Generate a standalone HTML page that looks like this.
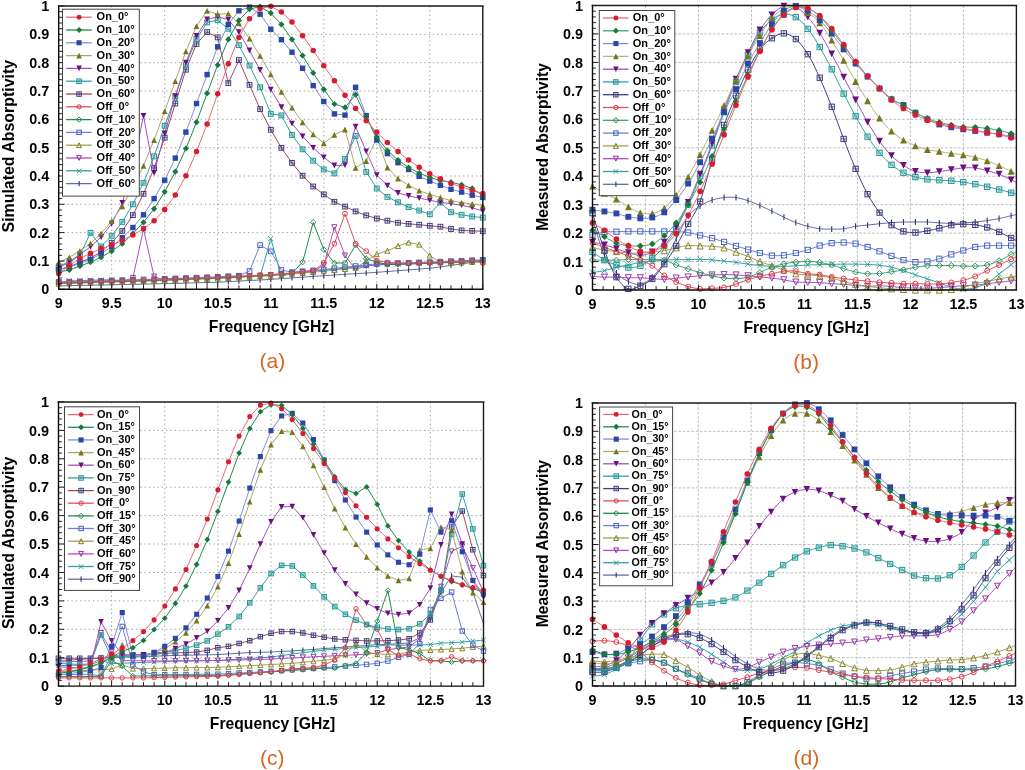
<!DOCTYPE html>
<html><head><meta charset="utf-8"><style>
html,body{margin:0;padding:0;background:#fff;width:1025px;height:770px;overflow:hidden}
svg{display:block;filter:blur(0.3px)}
text{font-family:"Liberation Sans", sans-serif}
</style></head><body>
<svg width="1025" height="770" viewBox="0 0 1025 770" font-family='"Liberation Sans", sans-serif'>
<path d="M111.7 6.0V289.3M164.7 6.0V289.3M217.7 6.0V289.3M270.8 6.0V289.3M323.8 6.0V289.3M376.8 6.0V289.3M429.8 6.0V289.3M58.7 261.0H482.8M58.7 232.6H482.8M58.7 204.3H482.8M58.7 176.0H482.8M58.7 147.7H482.8M58.7 119.3H482.8M58.7 91.0H482.8M58.7 62.7H482.8M58.7 34.3H482.8" stroke="#a0a0a0" stroke-width="1" stroke-dasharray="1.4 2.9" fill="none"/>
<path d="M58.7 285.9L69.3 285.7L79.9 285.4L90.5 285.2L101.1 285.0L111.7 284.8L122.3 284.5L132.9 284.3L143.5 284.1L154.1 283.9L164.7 283.6L175.3 283.4L185.9 283.1L196.5 282.8L207.1 282.5L217.7 282.2L228.3 281.7L238.9 281.1L249.5 280.5L260.1 280.0L270.8 279.4L281.4 278.6L292.0 277.9L302.6 277.2L313.2 276.4L323.8 275.7L334.4 275.0L345.0 274.3L355.6 273.7L366.2 273.0L376.8 272.3L387.4 271.5L398.0 270.7L408.6 269.9L419.2 269.1L429.8 268.3L440.4 266.9L451.0 265.4L461.6 263.9L472.2 262.4L482.8 261.0" stroke="#6070a0" stroke-width="1" fill="none"/>
<path d="M58.7 283.2V288.6" stroke="#303070" stroke-width="1.1"/>
<path d="M69.3 283.0V288.4" stroke="#303070" stroke-width="1.1"/>
<path d="M79.9 282.7V288.1" stroke="#303070" stroke-width="1.1"/>
<path d="M90.5 282.5V287.9" stroke="#303070" stroke-width="1.1"/>
<path d="M101.1 282.3V287.7" stroke="#303070" stroke-width="1.1"/>
<path d="M111.7 282.1V287.5" stroke="#303070" stroke-width="1.1"/>
<path d="M122.3 281.8V287.2" stroke="#303070" stroke-width="1.1"/>
<path d="M132.9 281.6V287.0" stroke="#303070" stroke-width="1.1"/>
<path d="M143.5 281.4V286.8" stroke="#303070" stroke-width="1.1"/>
<path d="M154.1 281.2V286.6" stroke="#303070" stroke-width="1.1"/>
<path d="M164.7 280.9V286.3" stroke="#303070" stroke-width="1.1"/>
<path d="M175.3 280.7V286.1" stroke="#303070" stroke-width="1.1"/>
<path d="M185.9 280.4V285.8" stroke="#303070" stroke-width="1.1"/>
<path d="M196.5 280.1V285.5" stroke="#303070" stroke-width="1.1"/>
<path d="M207.1 279.8V285.2" stroke="#303070" stroke-width="1.1"/>
<path d="M217.7 279.5V284.9" stroke="#303070" stroke-width="1.1"/>
<path d="M228.3 279.0V284.4" stroke="#303070" stroke-width="1.1"/>
<path d="M238.9 278.4V283.8" stroke="#303070" stroke-width="1.1"/>
<path d="M249.5 277.8V283.2" stroke="#303070" stroke-width="1.1"/>
<path d="M260.1 277.3V282.7" stroke="#303070" stroke-width="1.1"/>
<path d="M270.8 276.7V282.1" stroke="#303070" stroke-width="1.1"/>
<path d="M281.4 275.9V281.3" stroke="#303070" stroke-width="1.1"/>
<path d="M292.0 275.2V280.6" stroke="#303070" stroke-width="1.1"/>
<path d="M302.6 274.5V279.9" stroke="#303070" stroke-width="1.1"/>
<path d="M313.2 273.7V279.1" stroke="#303070" stroke-width="1.1"/>
<path d="M323.8 273.0V278.4" stroke="#303070" stroke-width="1.1"/>
<path d="M334.4 272.3V277.7" stroke="#303070" stroke-width="1.1"/>
<path d="M345.0 271.6V277.0" stroke="#303070" stroke-width="1.1"/>
<path d="M355.6 271.0V276.4" stroke="#303070" stroke-width="1.1"/>
<path d="M366.2 270.3V275.7" stroke="#303070" stroke-width="1.1"/>
<path d="M376.8 269.6V275.0" stroke="#303070" stroke-width="1.1"/>
<path d="M387.4 268.8V274.2" stroke="#303070" stroke-width="1.1"/>
<path d="M398.0 268.0V273.4" stroke="#303070" stroke-width="1.1"/>
<path d="M408.6 267.2V272.6" stroke="#303070" stroke-width="1.1"/>
<path d="M419.2 266.4V271.8" stroke="#303070" stroke-width="1.1"/>
<path d="M429.8 265.6V271.0" stroke="#303070" stroke-width="1.1"/>
<path d="M440.4 264.2V269.6" stroke="#303070" stroke-width="1.1"/>
<path d="M451.0 262.7V268.1" stroke="#303070" stroke-width="1.1"/>
<path d="M461.6 261.2V266.6" stroke="#303070" stroke-width="1.1"/>
<path d="M472.2 259.7V265.1" stroke="#303070" stroke-width="1.1"/>
<path d="M482.8 258.3V263.7" stroke="#303070" stroke-width="1.1"/>
<path d="M58.7 282.8L69.3 280.8L79.9 280.8L90.5 280.2L101.1 280.0L111.7 279.7L122.3 281.0L132.9 280.7L143.5 280.3L154.1 280.0L164.7 279.7L175.3 279.3L185.9 278.9L196.5 278.5L207.1 278.1L217.7 277.7L228.3 277.1L238.9 276.6L249.5 276.0L260.1 276.6L270.8 238.6L281.4 276.6L292.0 273.0L302.6 272.1L313.2 271.2L323.8 270.3L334.4 269.2L345.0 268.1L355.6 266.9L366.2 265.8L376.8 264.7L387.4 264.3L398.0 264.0L408.6 263.6L419.2 263.3L429.8 263.0L440.4 262.5L451.0 262.0L461.6 261.6L472.2 261.1L482.8 260.7" stroke="#30a0a0" stroke-width="1" fill="none"/>
<path d="M56.2 280.3L61.2 285.3M56.2 285.3L61.2 280.3" stroke="#30a0a0" stroke-width="0.95"/>
<path d="M66.8 278.3L71.8 283.3M66.8 283.3L71.8 278.3" stroke="#30a0a0" stroke-width="0.95"/>
<path d="M77.4 278.3L82.4 283.3M77.4 283.3L82.4 278.3" stroke="#30a0a0" stroke-width="0.95"/>
<path d="M88.0 277.7L93.0 282.7M88.0 282.7L93.0 277.7" stroke="#30a0a0" stroke-width="0.95"/>
<path d="M98.6 277.5L103.6 282.5M98.6 282.5L103.6 277.5" stroke="#30a0a0" stroke-width="0.95"/>
<path d="M109.2 277.2L114.2 282.2M109.2 282.2L114.2 277.2" stroke="#30a0a0" stroke-width="0.95"/>
<path d="M119.8 278.5L124.8 283.5M119.8 283.5L124.8 278.5" stroke="#30a0a0" stroke-width="0.95"/>
<path d="M130.4 278.2L135.4 283.2M130.4 283.2L135.4 278.2" stroke="#30a0a0" stroke-width="0.95"/>
<path d="M141.0 277.8L146.0 282.8M141.0 282.8L146.0 277.8" stroke="#30a0a0" stroke-width="0.95"/>
<path d="M151.6 277.5L156.6 282.5M151.6 282.5L156.6 277.5" stroke="#30a0a0" stroke-width="0.95"/>
<path d="M162.2 277.2L167.2 282.2M162.2 282.2L167.2 277.2" stroke="#30a0a0" stroke-width="0.95"/>
<path d="M172.8 276.8L177.8 281.8M172.8 281.8L177.8 276.8" stroke="#30a0a0" stroke-width="0.95"/>
<path d="M183.4 276.4L188.4 281.4M183.4 281.4L188.4 276.4" stroke="#30a0a0" stroke-width="0.95"/>
<path d="M194.0 276.0L199.0 281.0M194.0 281.0L199.0 276.0" stroke="#30a0a0" stroke-width="0.95"/>
<path d="M204.6 275.6L209.6 280.6M204.6 280.6L209.6 275.6" stroke="#30a0a0" stroke-width="0.95"/>
<path d="M215.2 275.2L220.2 280.2M215.2 280.2L220.2 275.2" stroke="#30a0a0" stroke-width="0.95"/>
<path d="M225.8 274.6L230.8 279.6M225.8 279.6L230.8 274.6" stroke="#30a0a0" stroke-width="0.95"/>
<path d="M236.4 274.1L241.4 279.1M236.4 279.1L241.4 274.1" stroke="#30a0a0" stroke-width="0.95"/>
<path d="M247.0 273.5L252.0 278.5M247.0 278.5L252.0 273.5" stroke="#30a0a0" stroke-width="0.95"/>
<path d="M257.6 274.1L262.6 279.1M257.6 279.1L262.6 274.1" stroke="#30a0a0" stroke-width="0.95"/>
<path d="M268.2 236.1L273.2 241.1M268.2 241.1L273.2 236.1" stroke="#30a0a0" stroke-width="0.95"/>
<path d="M278.9 274.1L283.9 279.1M278.9 279.1L283.9 274.1" stroke="#30a0a0" stroke-width="0.95"/>
<path d="M289.5 270.5L294.5 275.5M289.5 275.5L294.5 270.5" stroke="#30a0a0" stroke-width="0.95"/>
<path d="M300.1 269.6L305.1 274.6M300.1 274.6L305.1 269.6" stroke="#30a0a0" stroke-width="0.95"/>
<path d="M310.7 268.7L315.7 273.7M310.7 273.7L315.7 268.7" stroke="#30a0a0" stroke-width="0.95"/>
<path d="M321.3 267.8L326.3 272.8M321.3 272.8L326.3 267.8" stroke="#30a0a0" stroke-width="0.95"/>
<path d="M331.9 266.7L336.9 271.7M331.9 271.7L336.9 266.7" stroke="#30a0a0" stroke-width="0.95"/>
<path d="M342.5 265.6L347.5 270.6M342.5 270.6L347.5 265.6" stroke="#30a0a0" stroke-width="0.95"/>
<path d="M353.1 264.4L358.1 269.4M353.1 269.4L358.1 264.4" stroke="#30a0a0" stroke-width="0.95"/>
<path d="M363.7 263.3L368.7 268.3M363.7 268.3L368.7 263.3" stroke="#30a0a0" stroke-width="0.95"/>
<path d="M374.3 262.2L379.3 267.2M374.3 267.2L379.3 262.2" stroke="#30a0a0" stroke-width="0.95"/>
<path d="M384.9 261.8L389.9 266.8M384.9 266.8L389.9 261.8" stroke="#30a0a0" stroke-width="0.95"/>
<path d="M395.5 261.5L400.5 266.5M395.5 266.5L400.5 261.5" stroke="#30a0a0" stroke-width="0.95"/>
<path d="M406.1 261.1L411.1 266.1M406.1 266.1L411.1 261.1" stroke="#30a0a0" stroke-width="0.95"/>
<path d="M416.7 260.8L421.7 265.8M416.7 265.8L421.7 260.8" stroke="#30a0a0" stroke-width="0.95"/>
<path d="M427.3 260.5L432.3 265.5M427.3 265.5L432.3 260.5" stroke="#30a0a0" stroke-width="0.95"/>
<path d="M437.9 260.0L442.9 265.0M437.9 265.0L442.9 260.0" stroke="#30a0a0" stroke-width="0.95"/>
<path d="M448.5 259.5L453.5 264.5M448.5 264.5L453.5 259.5" stroke="#30a0a0" stroke-width="0.95"/>
<path d="M459.1 259.1L464.1 264.1M459.1 264.1L464.1 259.1" stroke="#30a0a0" stroke-width="0.95"/>
<path d="M469.7 258.6L474.7 263.6M469.7 263.6L474.7 258.6" stroke="#30a0a0" stroke-width="0.95"/>
<path d="M480.3 258.2L485.3 263.2M480.3 263.2L485.3 258.2" stroke="#30a0a0" stroke-width="0.95"/>
<path d="M58.7 283.1L69.3 282.8L79.9 282.5L90.5 282.2L101.1 281.9L111.7 281.7L122.3 281.3L132.9 278.0L143.5 229.0L154.1 276.6L164.7 280.0L175.3 279.6L185.9 279.2L196.5 278.8L207.1 278.4L217.7 278.0L228.3 277.4L238.9 276.8L249.5 276.3L260.1 275.7L270.8 275.1L281.4 274.2L292.0 273.3L302.6 272.4L313.2 271.5L323.8 265.2L334.4 227.3L345.0 255.6L355.6 269.2L366.2 266.1L376.8 264.9L387.4 264.6L398.0 264.3L408.6 263.9L419.2 263.6L429.8 263.2L440.4 262.8L451.0 262.3L461.6 261.9L472.2 261.4L482.8 261.0" stroke="#b050c0" stroke-width="1" fill="none"/>
<path d="M58.7 285.6L61.2 280.5L56.2 280.5Z" fill="none" stroke="#9030a0" stroke-width="0.95"/>
<path d="M69.3 285.3L71.9 280.2L66.8 280.2Z" fill="none" stroke="#9030a0" stroke-width="0.95"/>
<path d="M79.9 285.1L82.5 280.0L77.4 280.0Z" fill="none" stroke="#9030a0" stroke-width="0.95"/>
<path d="M90.5 284.8L93.1 279.7L88.0 279.7Z" fill="none" stroke="#9030a0" stroke-width="0.95"/>
<path d="M101.1 284.5L103.7 279.4L98.6 279.4Z" fill="none" stroke="#9030a0" stroke-width="0.95"/>
<path d="M111.7 284.2L114.3 279.1L109.2 279.1Z" fill="none" stroke="#9030a0" stroke-width="0.95"/>
<path d="M122.3 283.9L124.9 278.8L119.8 278.8Z" fill="none" stroke="#9030a0" stroke-width="0.95"/>
<path d="M132.9 280.5L135.5 275.4L130.4 275.4Z" fill="none" stroke="#9030a0" stroke-width="0.95"/>
<path d="M143.5 231.5L146.1 226.4L141.0 226.4Z" fill="none" stroke="#9030a0" stroke-width="0.95"/>
<path d="M154.1 279.1L156.7 274.0L151.6 274.0Z" fill="none" stroke="#9030a0" stroke-width="0.95"/>
<path d="M164.7 282.5L167.3 277.4L162.2 277.4Z" fill="none" stroke="#9030a0" stroke-width="0.95"/>
<path d="M175.3 282.1L177.9 277.0L172.8 277.0Z" fill="none" stroke="#9030a0" stroke-width="0.95"/>
<path d="M185.9 281.7L188.5 276.6L183.4 276.6Z" fill="none" stroke="#9030a0" stroke-width="0.95"/>
<path d="M196.5 281.3L199.1 276.2L194.0 276.2Z" fill="none" stroke="#9030a0" stroke-width="0.95"/>
<path d="M207.1 280.9L209.7 275.8L204.6 275.8Z" fill="none" stroke="#9030a0" stroke-width="0.95"/>
<path d="M217.7 280.5L220.3 275.4L215.2 275.4Z" fill="none" stroke="#9030a0" stroke-width="0.95"/>
<path d="M228.3 280.0L230.9 274.9L225.8 274.9Z" fill="none" stroke="#9030a0" stroke-width="0.95"/>
<path d="M238.9 279.4L241.5 274.3L236.4 274.3Z" fill="none" stroke="#9030a0" stroke-width="0.95"/>
<path d="M249.5 278.8L252.1 273.7L247.0 273.7Z" fill="none" stroke="#9030a0" stroke-width="0.95"/>
<path d="M260.1 278.3L262.7 273.2L257.6 273.2Z" fill="none" stroke="#9030a0" stroke-width="0.95"/>
<path d="M270.8 277.7L273.3 272.6L268.2 272.6Z" fill="none" stroke="#9030a0" stroke-width="0.95"/>
<path d="M281.4 276.8L283.9 271.7L278.8 271.7Z" fill="none" stroke="#9030a0" stroke-width="0.95"/>
<path d="M292.0 275.9L294.5 270.8L289.4 270.8Z" fill="none" stroke="#9030a0" stroke-width="0.95"/>
<path d="M302.6 275.0L305.1 269.9L300.0 269.9Z" fill="none" stroke="#9030a0" stroke-width="0.95"/>
<path d="M313.2 274.1L315.7 269.0L310.6 269.0Z" fill="none" stroke="#9030a0" stroke-width="0.95"/>
<path d="M323.8 267.8L326.3 262.7L321.2 262.7Z" fill="none" stroke="#9030a0" stroke-width="0.95"/>
<path d="M334.4 229.8L336.9 224.7L331.8 224.7Z" fill="none" stroke="#9030a0" stroke-width="0.95"/>
<path d="M345.0 258.1L347.5 253.0L342.4 253.0Z" fill="none" stroke="#9030a0" stroke-width="0.95"/>
<path d="M355.6 271.7L358.1 266.6L353.0 266.6Z" fill="none" stroke="#9030a0" stroke-width="0.95"/>
<path d="M366.2 268.6L368.7 263.5L363.6 263.5Z" fill="none" stroke="#9030a0" stroke-width="0.95"/>
<path d="M376.8 267.5L379.3 262.4L374.2 262.4Z" fill="none" stroke="#9030a0" stroke-width="0.95"/>
<path d="M387.4 267.1L389.9 262.0L384.8 262.0Z" fill="none" stroke="#9030a0" stroke-width="0.95"/>
<path d="M398.0 266.8L400.5 261.7L395.4 261.7Z" fill="none" stroke="#9030a0" stroke-width="0.95"/>
<path d="M408.6 266.5L411.1 261.4L406.0 261.4Z" fill="none" stroke="#9030a0" stroke-width="0.95"/>
<path d="M419.2 266.1L421.7 261.0L416.6 261.0Z" fill="none" stroke="#9030a0" stroke-width="0.95"/>
<path d="M429.8 265.8L432.3 260.7L427.2 260.7Z" fill="none" stroke="#9030a0" stroke-width="0.95"/>
<path d="M440.4 265.3L442.9 260.2L437.8 260.2Z" fill="none" stroke="#9030a0" stroke-width="0.95"/>
<path d="M451.0 264.9L453.5 259.8L448.4 259.8Z" fill="none" stroke="#9030a0" stroke-width="0.95"/>
<path d="M461.6 264.4L464.1 259.3L459.0 259.3Z" fill="none" stroke="#9030a0" stroke-width="0.95"/>
<path d="M472.2 264.0L474.7 258.9L469.6 258.9Z" fill="none" stroke="#9030a0" stroke-width="0.95"/>
<path d="M482.8 263.5L485.4 258.4L480.2 258.4Z" fill="none" stroke="#9030a0" stroke-width="0.95"/>
<path d="M58.7 283.6L69.3 283.4L79.9 283.1L90.5 282.8L101.1 282.5L111.7 282.2L122.3 281.9L132.9 281.5L143.5 281.2L154.1 280.9L164.7 280.5L175.3 280.1L185.9 279.7L196.5 279.3L207.1 278.9L217.7 278.5L228.3 278.0L238.9 277.4L249.5 276.8L260.1 276.3L270.8 275.7L281.4 274.8L292.0 273.9L302.6 273.0L313.2 272.1L323.8 271.2L334.4 270.0L345.0 268.9L355.6 267.8L366.2 261.0L376.8 254.2L387.4 250.8L398.0 246.0L408.6 242.6L419.2 244.5L429.8 255.6L440.4 262.4L451.0 262.9L461.6 262.4L472.2 262.0L482.8 261.5" stroke="#a0a050" stroke-width="1" fill="none"/>
<path d="M58.7 281.1L61.2 286.2L56.2 286.2Z" fill="none" stroke="#808020" stroke-width="0.95"/>
<path d="M69.3 280.8L71.9 285.9L66.8 285.9Z" fill="none" stroke="#808020" stroke-width="0.95"/>
<path d="M79.9 280.5L82.5 285.6L77.4 285.6Z" fill="none" stroke="#808020" stroke-width="0.95"/>
<path d="M90.5 280.2L93.1 285.3L88.0 285.3Z" fill="none" stroke="#808020" stroke-width="0.95"/>
<path d="M101.1 280.0L103.7 285.1L98.6 285.1Z" fill="none" stroke="#808020" stroke-width="0.95"/>
<path d="M111.7 279.7L114.3 284.8L109.2 284.8Z" fill="none" stroke="#808020" stroke-width="0.95"/>
<path d="M122.3 279.3L124.9 284.4L119.8 284.4Z" fill="none" stroke="#808020" stroke-width="0.95"/>
<path d="M132.9 279.0L135.5 284.1L130.4 284.1Z" fill="none" stroke="#808020" stroke-width="0.95"/>
<path d="M143.5 278.6L146.1 283.7L141.0 283.7Z" fill="none" stroke="#808020" stroke-width="0.95"/>
<path d="M154.1 278.3L156.7 283.4L151.6 283.4Z" fill="none" stroke="#808020" stroke-width="0.95"/>
<path d="M164.7 278.0L167.3 283.1L162.2 283.1Z" fill="none" stroke="#808020" stroke-width="0.95"/>
<path d="M175.3 277.6L177.9 282.7L172.8 282.7Z" fill="none" stroke="#808020" stroke-width="0.95"/>
<path d="M185.9 277.2L188.5 282.3L183.4 282.3Z" fill="none" stroke="#808020" stroke-width="0.95"/>
<path d="M196.5 276.8L199.1 281.9L194.0 281.9Z" fill="none" stroke="#808020" stroke-width="0.95"/>
<path d="M207.1 276.4L209.7 281.5L204.6 281.5Z" fill="none" stroke="#808020" stroke-width="0.95"/>
<path d="M217.7 276.0L220.3 281.1L215.2 281.1Z" fill="none" stroke="#808020" stroke-width="0.95"/>
<path d="M228.3 275.4L230.9 280.5L225.8 280.5Z" fill="none" stroke="#808020" stroke-width="0.95"/>
<path d="M238.9 274.9L241.5 280.0L236.4 280.0Z" fill="none" stroke="#808020" stroke-width="0.95"/>
<path d="M249.5 274.3L252.1 279.4L247.0 279.4Z" fill="none" stroke="#808020" stroke-width="0.95"/>
<path d="M260.1 273.7L262.7 278.8L257.6 278.8Z" fill="none" stroke="#808020" stroke-width="0.95"/>
<path d="M270.8 273.2L273.3 278.3L268.2 278.3Z" fill="none" stroke="#808020" stroke-width="0.95"/>
<path d="M281.4 272.2L283.9 277.3L278.8 277.3Z" fill="none" stroke="#808020" stroke-width="0.95"/>
<path d="M292.0 271.3L294.5 276.4L289.4 276.4Z" fill="none" stroke="#808020" stroke-width="0.95"/>
<path d="M302.6 270.4L305.1 275.5L300.0 275.5Z" fill="none" stroke="#808020" stroke-width="0.95"/>
<path d="M313.2 269.5L315.7 274.6L310.6 274.6Z" fill="none" stroke="#808020" stroke-width="0.95"/>
<path d="M323.8 268.6L326.3 273.7L321.2 273.7Z" fill="none" stroke="#808020" stroke-width="0.95"/>
<path d="M334.4 267.5L336.9 272.6L331.8 272.6Z" fill="none" stroke="#808020" stroke-width="0.95"/>
<path d="M345.0 266.4L347.5 271.5L342.4 271.5Z" fill="none" stroke="#808020" stroke-width="0.95"/>
<path d="M355.6 265.2L358.1 270.3L353.0 270.3Z" fill="none" stroke="#808020" stroke-width="0.95"/>
<path d="M366.2 258.4L368.7 263.5L363.6 263.5Z" fill="none" stroke="#808020" stroke-width="0.95"/>
<path d="M376.8 251.6L379.3 256.7L374.2 256.7Z" fill="none" stroke="#808020" stroke-width="0.95"/>
<path d="M387.4 248.2L389.9 253.3L384.8 253.3Z" fill="none" stroke="#808020" stroke-width="0.95"/>
<path d="M398.0 243.4L400.5 248.5L395.4 248.5Z" fill="none" stroke="#808020" stroke-width="0.95"/>
<path d="M408.6 240.0L411.1 245.1L406.0 245.1Z" fill="none" stroke="#808020" stroke-width="0.95"/>
<path d="M419.2 242.0L421.7 247.1L416.6 247.1Z" fill="none" stroke="#808020" stroke-width="0.95"/>
<path d="M429.8 253.0L432.3 258.1L427.2 258.1Z" fill="none" stroke="#808020" stroke-width="0.95"/>
<path d="M440.4 259.8L442.9 264.9L437.8 264.9Z" fill="none" stroke="#808020" stroke-width="0.95"/>
<path d="M451.0 260.3L453.5 265.4L448.4 265.4Z" fill="none" stroke="#808020" stroke-width="0.95"/>
<path d="M461.6 259.9L464.1 265.0L459.0 265.0Z" fill="none" stroke="#808020" stroke-width="0.95"/>
<path d="M472.2 259.4L474.7 264.5L469.6 264.5Z" fill="none" stroke="#808020" stroke-width="0.95"/>
<path d="M482.8 259.0L485.4 264.1L480.2 264.1Z" fill="none" stroke="#808020" stroke-width="0.95"/>
<path d="M58.7 281.9L69.3 281.7L79.9 281.4L90.5 281.1L101.1 280.8L111.7 280.5L122.3 280.2L132.9 279.8L143.5 279.5L154.1 279.2L164.7 278.8L175.3 278.4L185.9 278.0L196.5 277.6L207.1 277.2L217.7 276.8L228.3 276.3L238.9 275.7L249.5 271.2L260.1 245.1L270.8 251.3L281.4 270.0L292.0 272.2L302.6 271.3L313.2 270.4L323.8 269.5L334.4 268.3L345.0 267.2L355.6 266.1L366.2 264.9L376.8 263.8L387.4 263.5L398.0 263.1L408.6 262.8L419.2 262.4L429.8 262.1L440.4 261.6L451.0 261.2L461.6 260.7L472.2 260.3L482.8 259.8" stroke="#7080d0" stroke-width="1" fill="none"/>
<rect x="56.4" y="279.6" width="4.7" height="4.7" fill="none" stroke="#4060c0" stroke-width="0.95"/>
<rect x="67.0" y="279.3" width="4.7" height="4.7" fill="none" stroke="#4060c0" stroke-width="0.95"/>
<rect x="77.6" y="279.0" width="4.7" height="4.7" fill="none" stroke="#4060c0" stroke-width="0.95"/>
<rect x="88.2" y="278.7" width="4.7" height="4.7" fill="none" stroke="#4060c0" stroke-width="0.95"/>
<rect x="98.8" y="278.5" width="4.7" height="4.7" fill="none" stroke="#4060c0" stroke-width="0.95"/>
<rect x="109.4" y="278.2" width="4.7" height="4.7" fill="none" stroke="#4060c0" stroke-width="0.95"/>
<rect x="120.0" y="277.8" width="4.7" height="4.7" fill="none" stroke="#4060c0" stroke-width="0.95"/>
<rect x="130.6" y="277.5" width="4.7" height="4.7" fill="none" stroke="#4060c0" stroke-width="0.95"/>
<rect x="141.2" y="277.1" width="4.7" height="4.7" fill="none" stroke="#4060c0" stroke-width="0.95"/>
<rect x="151.8" y="276.8" width="4.7" height="4.7" fill="none" stroke="#4060c0" stroke-width="0.95"/>
<rect x="162.4" y="276.5" width="4.7" height="4.7" fill="none" stroke="#4060c0" stroke-width="0.95"/>
<rect x="173.0" y="276.1" width="4.7" height="4.7" fill="none" stroke="#4060c0" stroke-width="0.95"/>
<rect x="183.6" y="275.7" width="4.7" height="4.7" fill="none" stroke="#4060c0" stroke-width="0.95"/>
<rect x="194.2" y="275.3" width="4.7" height="4.7" fill="none" stroke="#4060c0" stroke-width="0.95"/>
<rect x="204.8" y="274.9" width="4.7" height="4.7" fill="none" stroke="#4060c0" stroke-width="0.95"/>
<rect x="215.4" y="274.5" width="4.7" height="4.7" fill="none" stroke="#4060c0" stroke-width="0.95"/>
<rect x="226.0" y="273.9" width="4.7" height="4.7" fill="none" stroke="#4060c0" stroke-width="0.95"/>
<rect x="236.6" y="273.4" width="4.7" height="4.7" fill="none" stroke="#4060c0" stroke-width="0.95"/>
<rect x="247.2" y="268.8" width="4.7" height="4.7" fill="none" stroke="#4060c0" stroke-width="0.95"/>
<rect x="257.8" y="242.8" width="4.7" height="4.7" fill="none" stroke="#4060c0" stroke-width="0.95"/>
<rect x="268.4" y="249.0" width="4.7" height="4.7" fill="none" stroke="#4060c0" stroke-width="0.95"/>
<rect x="279.0" y="267.7" width="4.7" height="4.7" fill="none" stroke="#4060c0" stroke-width="0.95"/>
<rect x="289.6" y="269.8" width="4.7" height="4.7" fill="none" stroke="#4060c0" stroke-width="0.95"/>
<rect x="300.2" y="268.9" width="4.7" height="4.7" fill="none" stroke="#4060c0" stroke-width="0.95"/>
<rect x="310.8" y="268.0" width="4.7" height="4.7" fill="none" stroke="#4060c0" stroke-width="0.95"/>
<rect x="321.4" y="267.1" width="4.7" height="4.7" fill="none" stroke="#4060c0" stroke-width="0.95"/>
<rect x="332.0" y="266.0" width="4.7" height="4.7" fill="none" stroke="#4060c0" stroke-width="0.95"/>
<rect x="342.6" y="264.9" width="4.7" height="4.7" fill="none" stroke="#4060c0" stroke-width="0.95"/>
<rect x="353.2" y="263.7" width="4.7" height="4.7" fill="none" stroke="#4060c0" stroke-width="0.95"/>
<rect x="363.8" y="262.6" width="4.7" height="4.7" fill="none" stroke="#4060c0" stroke-width="0.95"/>
<rect x="374.4" y="261.5" width="4.7" height="4.7" fill="none" stroke="#4060c0" stroke-width="0.95"/>
<rect x="385.0" y="261.1" width="4.7" height="4.7" fill="none" stroke="#4060c0" stroke-width="0.95"/>
<rect x="395.6" y="260.8" width="4.7" height="4.7" fill="none" stroke="#4060c0" stroke-width="0.95"/>
<rect x="406.2" y="260.4" width="4.7" height="4.7" fill="none" stroke="#4060c0" stroke-width="0.95"/>
<rect x="416.8" y="260.1" width="4.7" height="4.7" fill="none" stroke="#4060c0" stroke-width="0.95"/>
<rect x="427.4" y="259.8" width="4.7" height="4.7" fill="none" stroke="#4060c0" stroke-width="0.95"/>
<rect x="438.0" y="259.3" width="4.7" height="4.7" fill="none" stroke="#4060c0" stroke-width="0.95"/>
<rect x="448.6" y="258.8" width="4.7" height="4.7" fill="none" stroke="#4060c0" stroke-width="0.95"/>
<rect x="459.2" y="258.4" width="4.7" height="4.7" fill="none" stroke="#4060c0" stroke-width="0.95"/>
<rect x="469.8" y="257.9" width="4.7" height="4.7" fill="none" stroke="#4060c0" stroke-width="0.95"/>
<rect x="480.4" y="257.5" width="4.7" height="4.7" fill="none" stroke="#4060c0" stroke-width="0.95"/>
<path d="M58.7 283.1L69.3 282.8L79.9 282.5L90.5 282.2L101.1 281.9L111.7 281.7L122.3 281.3L132.9 281.0L143.5 280.6L154.1 280.3L164.7 280.0L175.3 279.6L185.9 279.2L196.5 278.8L207.1 278.4L217.7 278.0L228.3 277.4L238.9 276.8L249.5 276.3L260.1 275.7L270.8 275.1L281.4 274.2L292.0 273.3L302.6 262.1L313.2 222.4L323.8 249.6L334.4 263.0L345.0 263.0L355.6 245.1L366.2 258.7L376.8 262.1L387.4 264.6L398.0 264.3L408.6 263.9L419.2 263.6L429.8 263.2L440.4 262.8L451.0 262.3L461.6 261.9L472.2 261.4L482.8 261.0" stroke="#1f8a50" stroke-width="1" fill="none"/>
<path d="M58.7 280.3L61.5 283.1L58.7 285.9L55.9 283.1Z" fill="none" stroke="#1f8a50" stroke-width="0.95"/>
<path d="M69.3 280.0L72.1 282.8L69.3 285.6L66.5 282.8Z" fill="none" stroke="#1f8a50" stroke-width="0.95"/>
<path d="M79.9 279.7L82.7 282.5L79.9 285.3L77.1 282.5Z" fill="none" stroke="#1f8a50" stroke-width="0.95"/>
<path d="M90.5 279.4L93.3 282.2L90.5 285.0L87.7 282.2Z" fill="none" stroke="#1f8a50" stroke-width="0.95"/>
<path d="M101.1 279.1L103.9 281.9L101.1 284.7L98.3 281.9Z" fill="none" stroke="#1f8a50" stroke-width="0.95"/>
<path d="M111.7 278.9L114.5 281.7L111.7 284.5L108.9 281.7Z" fill="none" stroke="#1f8a50" stroke-width="0.95"/>
<path d="M122.3 278.5L125.1 281.3L122.3 284.1L119.5 281.3Z" fill="none" stroke="#1f8a50" stroke-width="0.95"/>
<path d="M132.9 278.2L135.7 281.0L132.9 283.8L130.1 281.0Z" fill="none" stroke="#1f8a50" stroke-width="0.95"/>
<path d="M143.5 277.8L146.3 280.6L143.5 283.4L140.7 280.6Z" fill="none" stroke="#1f8a50" stroke-width="0.95"/>
<path d="M154.1 277.5L156.9 280.3L154.1 283.1L151.3 280.3Z" fill="none" stroke="#1f8a50" stroke-width="0.95"/>
<path d="M164.7 277.2L167.5 280.0L164.7 282.8L161.9 280.0Z" fill="none" stroke="#1f8a50" stroke-width="0.95"/>
<path d="M175.3 276.8L178.1 279.6L175.3 282.4L172.5 279.6Z" fill="none" stroke="#1f8a50" stroke-width="0.95"/>
<path d="M185.9 276.4L188.7 279.2L185.9 282.0L183.1 279.2Z" fill="none" stroke="#1f8a50" stroke-width="0.95"/>
<path d="M196.5 276.0L199.3 278.8L196.5 281.6L193.7 278.8Z" fill="none" stroke="#1f8a50" stroke-width="0.95"/>
<path d="M207.1 275.6L209.9 278.4L207.1 281.2L204.3 278.4Z" fill="none" stroke="#1f8a50" stroke-width="0.95"/>
<path d="M217.7 275.2L220.5 278.0L217.7 280.8L214.9 278.0Z" fill="none" stroke="#1f8a50" stroke-width="0.95"/>
<path d="M228.3 274.6L231.1 277.4L228.3 280.2L225.5 277.4Z" fill="none" stroke="#1f8a50" stroke-width="0.95"/>
<path d="M238.9 274.0L241.7 276.8L238.9 279.6L236.1 276.8Z" fill="none" stroke="#1f8a50" stroke-width="0.95"/>
<path d="M249.5 273.5L252.3 276.3L249.5 279.1L246.7 276.3Z" fill="none" stroke="#1f8a50" stroke-width="0.95"/>
<path d="M260.1 272.9L262.9 275.7L260.1 278.5L257.3 275.7Z" fill="none" stroke="#1f8a50" stroke-width="0.95"/>
<path d="M270.8 272.3L273.6 275.1L270.8 277.9L267.9 275.1Z" fill="none" stroke="#1f8a50" stroke-width="0.95"/>
<path d="M281.4 271.4L284.2 274.2L281.4 277.0L278.6 274.2Z" fill="none" stroke="#1f8a50" stroke-width="0.95"/>
<path d="M292.0 270.5L294.8 273.3L292.0 276.1L289.2 273.3Z" fill="none" stroke="#1f8a50" stroke-width="0.95"/>
<path d="M302.6 259.3L305.4 262.1L302.6 264.9L299.8 262.1Z" fill="none" stroke="#1f8a50" stroke-width="0.95"/>
<path d="M313.2 219.6L316.0 222.4L313.2 225.2L310.4 222.4Z" fill="none" stroke="#1f8a50" stroke-width="0.95"/>
<path d="M323.8 246.8L326.6 249.6L323.8 252.4L321.0 249.6Z" fill="none" stroke="#1f8a50" stroke-width="0.95"/>
<path d="M334.4 260.2L337.2 263.0L334.4 265.8L331.6 263.0Z" fill="none" stroke="#1f8a50" stroke-width="0.95"/>
<path d="M345.0 260.2L347.8 263.0L345.0 265.8L342.2 263.0Z" fill="none" stroke="#1f8a50" stroke-width="0.95"/>
<path d="M355.6 242.3L358.4 245.1L355.6 247.9L352.8 245.1Z" fill="none" stroke="#1f8a50" stroke-width="0.95"/>
<path d="M366.2 255.9L369.0 258.7L366.2 261.5L363.4 258.7Z" fill="none" stroke="#1f8a50" stroke-width="0.95"/>
<path d="M376.8 259.3L379.6 262.1L376.8 264.9L374.0 262.1Z" fill="none" stroke="#1f8a50" stroke-width="0.95"/>
<path d="M387.4 261.8L390.2 264.6L387.4 267.4L384.6 264.6Z" fill="none" stroke="#1f8a50" stroke-width="0.95"/>
<path d="M398.0 261.5L400.8 264.3L398.0 267.1L395.2 264.3Z" fill="none" stroke="#1f8a50" stroke-width="0.95"/>
<path d="M408.6 261.1L411.4 263.9L408.6 266.7L405.8 263.9Z" fill="none" stroke="#1f8a50" stroke-width="0.95"/>
<path d="M419.2 260.8L422.0 263.6L419.2 266.4L416.4 263.6Z" fill="none" stroke="#1f8a50" stroke-width="0.95"/>
<path d="M429.8 260.4L432.6 263.2L429.8 266.0L427.0 263.2Z" fill="none" stroke="#1f8a50" stroke-width="0.95"/>
<path d="M440.4 260.0L443.2 262.8L440.4 265.6L437.6 262.8Z" fill="none" stroke="#1f8a50" stroke-width="0.95"/>
<path d="M451.0 259.5L453.8 262.3L451.0 265.1L448.2 262.3Z" fill="none" stroke="#1f8a50" stroke-width="0.95"/>
<path d="M461.6 259.1L464.4 261.9L461.6 264.7L458.8 261.9Z" fill="none" stroke="#1f8a50" stroke-width="0.95"/>
<path d="M472.2 258.6L475.0 261.4L472.2 264.2L469.4 261.4Z" fill="none" stroke="#1f8a50" stroke-width="0.95"/>
<path d="M482.8 258.2L485.6 261.0L482.8 263.8L480.0 261.0Z" fill="none" stroke="#1f8a50" stroke-width="0.95"/>
<path d="M58.7 282.5L69.3 282.2L79.9 281.9L90.5 281.7L101.1 281.4L111.7 281.1L122.3 280.7L132.9 280.4L143.5 280.1L154.1 279.7L164.7 279.4L175.3 279.0L185.9 278.6L196.5 278.2L207.1 277.8L217.7 277.4L228.3 276.8L238.9 276.3L249.5 275.7L260.1 275.1L270.8 274.6L281.4 273.7L292.0 272.8L302.6 271.8L313.2 270.9L323.8 263.0L334.4 243.7L345.0 213.7L355.6 243.7L366.2 251.1L376.8 260.7L387.4 262.4L398.0 263.0L408.6 263.2L419.2 263.0L429.8 262.7L440.4 262.2L451.0 261.8L461.6 261.3L472.2 260.9L482.8 263.0" stroke="#e0505a" stroke-width="1" fill="none"/>
<circle cx="58.7" cy="282.5" r="2.40" fill="none" stroke="#e03040" stroke-width="0.95"/>
<circle cx="69.3" cy="282.2" r="2.40" fill="none" stroke="#e03040" stroke-width="0.95"/>
<circle cx="79.9" cy="281.9" r="2.40" fill="none" stroke="#e03040" stroke-width="0.95"/>
<circle cx="90.5" cy="281.7" r="2.40" fill="none" stroke="#e03040" stroke-width="0.95"/>
<circle cx="101.1" cy="281.4" r="2.40" fill="none" stroke="#e03040" stroke-width="0.95"/>
<circle cx="111.7" cy="281.1" r="2.40" fill="none" stroke="#e03040" stroke-width="0.95"/>
<circle cx="122.3" cy="280.7" r="2.40" fill="none" stroke="#e03040" stroke-width="0.95"/>
<circle cx="132.9" cy="280.4" r="2.40" fill="none" stroke="#e03040" stroke-width="0.95"/>
<circle cx="143.5" cy="280.1" r="2.40" fill="none" stroke="#e03040" stroke-width="0.95"/>
<circle cx="154.1" cy="279.7" r="2.40" fill="none" stroke="#e03040" stroke-width="0.95"/>
<circle cx="164.7" cy="279.4" r="2.40" fill="none" stroke="#e03040" stroke-width="0.95"/>
<circle cx="175.3" cy="279.0" r="2.40" fill="none" stroke="#e03040" stroke-width="0.95"/>
<circle cx="185.9" cy="278.6" r="2.40" fill="none" stroke="#e03040" stroke-width="0.95"/>
<circle cx="196.5" cy="278.2" r="2.40" fill="none" stroke="#e03040" stroke-width="0.95"/>
<circle cx="207.1" cy="277.8" r="2.40" fill="none" stroke="#e03040" stroke-width="0.95"/>
<circle cx="217.7" cy="277.4" r="2.40" fill="none" stroke="#e03040" stroke-width="0.95"/>
<circle cx="228.3" cy="276.8" r="2.40" fill="none" stroke="#e03040" stroke-width="0.95"/>
<circle cx="238.9" cy="276.3" r="2.40" fill="none" stroke="#e03040" stroke-width="0.95"/>
<circle cx="249.5" cy="275.7" r="2.40" fill="none" stroke="#e03040" stroke-width="0.95"/>
<circle cx="260.1" cy="275.1" r="2.40" fill="none" stroke="#e03040" stroke-width="0.95"/>
<circle cx="270.8" cy="274.6" r="2.40" fill="none" stroke="#e03040" stroke-width="0.95"/>
<circle cx="281.4" cy="273.7" r="2.40" fill="none" stroke="#e03040" stroke-width="0.95"/>
<circle cx="292.0" cy="272.8" r="2.40" fill="none" stroke="#e03040" stroke-width="0.95"/>
<circle cx="302.6" cy="271.8" r="2.40" fill="none" stroke="#e03040" stroke-width="0.95"/>
<circle cx="313.2" cy="270.9" r="2.40" fill="none" stroke="#e03040" stroke-width="0.95"/>
<circle cx="323.8" cy="263.0" r="2.40" fill="none" stroke="#e03040" stroke-width="0.95"/>
<circle cx="334.4" cy="243.7" r="2.40" fill="none" stroke="#e03040" stroke-width="0.95"/>
<circle cx="345.0" cy="213.7" r="2.40" fill="none" stroke="#e03040" stroke-width="0.95"/>
<circle cx="355.6" cy="243.7" r="2.40" fill="none" stroke="#e03040" stroke-width="0.95"/>
<circle cx="366.2" cy="251.1" r="2.40" fill="none" stroke="#e03040" stroke-width="0.95"/>
<circle cx="376.8" cy="260.7" r="2.40" fill="none" stroke="#e03040" stroke-width="0.95"/>
<circle cx="387.4" cy="262.4" r="2.40" fill="none" stroke="#e03040" stroke-width="0.95"/>
<circle cx="398.0" cy="263.0" r="2.40" fill="none" stroke="#e03040" stroke-width="0.95"/>
<circle cx="408.6" cy="263.2" r="2.40" fill="none" stroke="#e03040" stroke-width="0.95"/>
<circle cx="419.2" cy="263.0" r="2.40" fill="none" stroke="#e03040" stroke-width="0.95"/>
<circle cx="429.8" cy="262.7" r="2.40" fill="none" stroke="#e03040" stroke-width="0.95"/>
<circle cx="440.4" cy="262.2" r="2.40" fill="none" stroke="#e03040" stroke-width="0.95"/>
<circle cx="451.0" cy="261.8" r="2.40" fill="none" stroke="#e03040" stroke-width="0.95"/>
<circle cx="461.6" cy="261.3" r="2.40" fill="none" stroke="#e03040" stroke-width="0.95"/>
<circle cx="472.2" cy="260.9" r="2.40" fill="none" stroke="#e03040" stroke-width="0.95"/>
<circle cx="482.8" cy="263.0" r="2.40" fill="none" stroke="#e03040" stroke-width="0.95"/>
<path d="M58.7 269.5L69.3 266.6L79.9 262.4L90.5 258.1L101.1 251.9L111.7 242.8L122.3 230.9L132.9 215.1L143.5 193.8L154.1 168.0L164.7 137.7L175.3 103.5L185.9 69.7L196.5 44.0L207.1 32.1L217.7 37.4L228.3 83.1L238.9 60.1L249.5 84.8L260.1 109.1L270.8 129.8L281.4 147.9L292.0 162.9L302.6 175.7L313.2 186.5L323.8 194.4L334.4 201.8L345.0 206.6L355.6 211.4L366.2 215.4L376.8 218.5L387.4 220.7L398.0 222.7L408.6 223.9L419.2 224.7L429.8 225.8L440.4 226.7L451.0 229.0L461.6 230.4L472.2 230.9L482.8 231.2" stroke="#a04858" stroke-width="1" fill="none"/>
<rect x="56.3" y="267.1" width="4.8" height="4.8" fill="none" stroke="#404080" stroke-width="1"/><path d="M56.3 269.5H61.1M58.7 267.1V271.9" stroke="#404080" stroke-width="0.8"/>
<rect x="66.9" y="264.2" width="4.8" height="4.8" fill="none" stroke="#404080" stroke-width="1"/><path d="M66.9 266.6H71.7M69.3 264.2V269.0" stroke="#404080" stroke-width="0.8"/>
<rect x="77.5" y="260.0" width="4.8" height="4.8" fill="none" stroke="#404080" stroke-width="1"/><path d="M77.5 262.4H82.3M79.9 260.0V264.8" stroke="#404080" stroke-width="0.8"/>
<rect x="88.1" y="255.7" width="4.8" height="4.8" fill="none" stroke="#404080" stroke-width="1"/><path d="M88.1 258.1H92.9M90.5 255.7V260.5" stroke="#404080" stroke-width="0.8"/>
<rect x="98.7" y="249.5" width="4.8" height="4.8" fill="none" stroke="#404080" stroke-width="1"/><path d="M98.7 251.9H103.5M101.1 249.5V254.3" stroke="#404080" stroke-width="0.8"/>
<rect x="109.3" y="240.4" width="4.8" height="4.8" fill="none" stroke="#404080" stroke-width="1"/><path d="M109.3 242.8H114.1M111.7 240.4V245.2" stroke="#404080" stroke-width="0.8"/>
<rect x="119.9" y="228.5" width="4.8" height="4.8" fill="none" stroke="#404080" stroke-width="1"/><path d="M119.9 230.9H124.7M122.3 228.5V233.3" stroke="#404080" stroke-width="0.8"/>
<rect x="130.5" y="212.7" width="4.8" height="4.8" fill="none" stroke="#404080" stroke-width="1"/><path d="M130.5 215.1H135.3M132.9 212.7V217.5" stroke="#404080" stroke-width="0.8"/>
<rect x="141.1" y="191.4" width="4.8" height="4.8" fill="none" stroke="#404080" stroke-width="1"/><path d="M141.1 193.8H145.9M143.5 191.4V196.2" stroke="#404080" stroke-width="0.8"/>
<rect x="151.7" y="165.6" width="4.8" height="4.8" fill="none" stroke="#404080" stroke-width="1"/><path d="M151.7 168.0H156.5M154.1 165.6V170.4" stroke="#404080" stroke-width="0.8"/>
<rect x="162.3" y="135.3" width="4.8" height="4.8" fill="none" stroke="#404080" stroke-width="1"/><path d="M162.3 137.7H167.1M164.7 135.3V140.1" stroke="#404080" stroke-width="0.8"/>
<rect x="172.9" y="101.1" width="4.8" height="4.8" fill="none" stroke="#404080" stroke-width="1"/><path d="M172.9 103.5H177.7M175.3 101.1V105.9" stroke="#404080" stroke-width="0.8"/>
<rect x="183.5" y="67.3" width="4.8" height="4.8" fill="none" stroke="#404080" stroke-width="1"/><path d="M183.5 69.7H188.3M185.9 67.3V72.1" stroke="#404080" stroke-width="0.8"/>
<rect x="194.1" y="41.6" width="4.8" height="4.8" fill="none" stroke="#404080" stroke-width="1"/><path d="M194.1 44.0H198.9M196.5 41.6V46.4" stroke="#404080" stroke-width="0.8"/>
<rect x="204.7" y="29.7" width="4.8" height="4.8" fill="none" stroke="#404080" stroke-width="1"/><path d="M204.7 32.1H209.5M207.1 29.7V34.5" stroke="#404080" stroke-width="0.8"/>
<rect x="215.3" y="35.0" width="4.8" height="4.8" fill="none" stroke="#404080" stroke-width="1"/><path d="M215.3 37.4H220.1M217.7 35.0V39.8" stroke="#404080" stroke-width="0.8"/>
<rect x="225.9" y="80.7" width="4.8" height="4.8" fill="none" stroke="#404080" stroke-width="1"/><path d="M225.9 83.1H230.7M228.3 80.7V85.5" stroke="#404080" stroke-width="0.8"/>
<rect x="236.5" y="57.7" width="4.8" height="4.8" fill="none" stroke="#404080" stroke-width="1"/><path d="M236.5 60.1H241.3M238.9 57.7V62.5" stroke="#404080" stroke-width="0.8"/>
<rect x="247.1" y="82.4" width="4.8" height="4.8" fill="none" stroke="#404080" stroke-width="1"/><path d="M247.1 84.8H251.9M249.5 82.4V87.2" stroke="#404080" stroke-width="0.8"/>
<rect x="257.7" y="106.7" width="4.8" height="4.8" fill="none" stroke="#404080" stroke-width="1"/><path d="M257.7 109.1H262.5M260.1 106.7V111.5" stroke="#404080" stroke-width="0.8"/>
<rect x="268.4" y="127.4" width="4.8" height="4.8" fill="none" stroke="#404080" stroke-width="1"/><path d="M268.4 129.8H273.1M270.8 127.4V132.2" stroke="#404080" stroke-width="0.8"/>
<rect x="279.0" y="145.5" width="4.8" height="4.8" fill="none" stroke="#404080" stroke-width="1"/><path d="M279.0 147.9H283.8M281.4 145.5V150.3" stroke="#404080" stroke-width="0.8"/>
<rect x="289.6" y="160.5" width="4.8" height="4.8" fill="none" stroke="#404080" stroke-width="1"/><path d="M289.6 162.9H294.4M292.0 160.5V165.3" stroke="#404080" stroke-width="0.8"/>
<rect x="300.2" y="173.3" width="4.8" height="4.8" fill="none" stroke="#404080" stroke-width="1"/><path d="M300.2 175.7H305.0M302.6 173.3V178.1" stroke="#404080" stroke-width="0.8"/>
<rect x="310.8" y="184.1" width="4.8" height="4.8" fill="none" stroke="#404080" stroke-width="1"/><path d="M310.8 186.5H315.6M313.2 184.1V188.9" stroke="#404080" stroke-width="0.8"/>
<rect x="321.4" y="192.0" width="4.8" height="4.8" fill="none" stroke="#404080" stroke-width="1"/><path d="M321.4 194.4H326.2M323.8 192.0V196.8" stroke="#404080" stroke-width="0.8"/>
<rect x="332.0" y="199.4" width="4.8" height="4.8" fill="none" stroke="#404080" stroke-width="1"/><path d="M332.0 201.8H336.8M334.4 199.4V204.2" stroke="#404080" stroke-width="0.8"/>
<rect x="342.6" y="204.2" width="4.8" height="4.8" fill="none" stroke="#404080" stroke-width="1"/><path d="M342.6 206.6H347.4M345.0 204.2V209.0" stroke="#404080" stroke-width="0.8"/>
<rect x="353.2" y="209.0" width="4.8" height="4.8" fill="none" stroke="#404080" stroke-width="1"/><path d="M353.2 211.4H358.0M355.6 209.0V213.8" stroke="#404080" stroke-width="0.8"/>
<rect x="363.8" y="213.0" width="4.8" height="4.8" fill="none" stroke="#404080" stroke-width="1"/><path d="M363.8 215.4H368.6M366.2 213.0V217.8" stroke="#404080" stroke-width="0.8"/>
<rect x="374.4" y="216.1" width="4.8" height="4.8" fill="none" stroke="#404080" stroke-width="1"/><path d="M374.4 218.5H379.2M376.8 216.1V220.9" stroke="#404080" stroke-width="0.8"/>
<rect x="385.0" y="218.3" width="4.8" height="4.8" fill="none" stroke="#404080" stroke-width="1"/><path d="M385.0 220.7H389.8M387.4 218.3V223.1" stroke="#404080" stroke-width="0.8"/>
<rect x="395.6" y="220.3" width="4.8" height="4.8" fill="none" stroke="#404080" stroke-width="1"/><path d="M395.6 222.7H400.4M398.0 220.3V225.1" stroke="#404080" stroke-width="0.8"/>
<rect x="406.2" y="221.5" width="4.8" height="4.8" fill="none" stroke="#404080" stroke-width="1"/><path d="M406.2 223.9H411.0M408.6 221.5V226.3" stroke="#404080" stroke-width="0.8"/>
<rect x="416.8" y="222.3" width="4.8" height="4.8" fill="none" stroke="#404080" stroke-width="1"/><path d="M416.8 224.7H421.6M419.2 222.3V227.1" stroke="#404080" stroke-width="0.8"/>
<rect x="427.4" y="223.4" width="4.8" height="4.8" fill="none" stroke="#404080" stroke-width="1"/><path d="M427.4 225.8H432.2M429.8 223.4V228.2" stroke="#404080" stroke-width="0.8"/>
<rect x="438.0" y="224.3" width="4.8" height="4.8" fill="none" stroke="#404080" stroke-width="1"/><path d="M438.0 226.7H442.8M440.4 224.3V229.1" stroke="#404080" stroke-width="0.8"/>
<rect x="448.6" y="226.6" width="4.8" height="4.8" fill="none" stroke="#404080" stroke-width="1"/><path d="M448.6 229.0H453.4M451.0 226.6V231.4" stroke="#404080" stroke-width="0.8"/>
<rect x="459.2" y="228.0" width="4.8" height="4.8" fill="none" stroke="#404080" stroke-width="1"/><path d="M459.2 230.4H464.0M461.6 228.0V232.8" stroke="#404080" stroke-width="0.8"/>
<rect x="469.8" y="228.5" width="4.8" height="4.8" fill="none" stroke="#404080" stroke-width="1"/><path d="M469.8 230.9H474.6M472.2 228.5V233.3" stroke="#404080" stroke-width="0.8"/>
<rect x="480.4" y="228.8" width="4.8" height="4.8" fill="none" stroke="#404080" stroke-width="1"/><path d="M480.4 231.2H485.2M482.8 228.8V233.6" stroke="#404080" stroke-width="0.8"/>
<path d="M58.7 267.2L69.3 263.0L79.9 255.0L90.5 232.9L101.1 246.5L111.7 235.8L122.3 221.9L132.9 204.3L143.5 182.8L154.1 156.4L164.7 125.8L175.3 96.7L185.9 64.9L196.5 38.9L207.1 22.4L217.7 20.2L228.3 28.7L238.9 45.1L249.5 65.5L260.1 87.3L270.8 113.9L281.4 115.4L292.0 134.9L302.6 149.3L313.2 160.7L323.8 169.5L334.4 173.4L345.0 159.0L355.6 136.0L366.2 172.0L376.8 188.4L387.4 196.9L398.0 202.3L408.6 207.1L419.2 210.5L429.8 214.2L440.4 202.6L451.0 212.2L461.6 214.8L472.2 216.5L482.8 217.6" stroke="#30a0a0" stroke-width="1" fill="none"/>
<rect x="56.3" y="264.8" width="4.8" height="4.8" fill="none" stroke="#2a9a9a" stroke-width="1.1"/><circle cx="58.7" cy="267.2" r="1.20" fill="none" stroke="#2a9a9a" stroke-width="0.8"/>
<rect x="66.9" y="260.6" width="4.8" height="4.8" fill="none" stroke="#2a9a9a" stroke-width="1.1"/><circle cx="69.3" cy="263.0" r="1.20" fill="none" stroke="#2a9a9a" stroke-width="0.8"/>
<rect x="77.5" y="252.6" width="4.8" height="4.8" fill="none" stroke="#2a9a9a" stroke-width="1.1"/><circle cx="79.9" cy="255.0" r="1.20" fill="none" stroke="#2a9a9a" stroke-width="0.8"/>
<rect x="88.1" y="230.5" width="4.8" height="4.8" fill="none" stroke="#2a9a9a" stroke-width="1.1"/><circle cx="90.5" cy="232.9" r="1.20" fill="none" stroke="#2a9a9a" stroke-width="0.8"/>
<rect x="98.7" y="244.1" width="4.8" height="4.8" fill="none" stroke="#2a9a9a" stroke-width="1.1"/><circle cx="101.1" cy="246.5" r="1.20" fill="none" stroke="#2a9a9a" stroke-width="0.8"/>
<rect x="109.3" y="233.4" width="4.8" height="4.8" fill="none" stroke="#2a9a9a" stroke-width="1.1"/><circle cx="111.7" cy="235.8" r="1.20" fill="none" stroke="#2a9a9a" stroke-width="0.8"/>
<rect x="119.9" y="219.5" width="4.8" height="4.8" fill="none" stroke="#2a9a9a" stroke-width="1.1"/><circle cx="122.3" cy="221.9" r="1.20" fill="none" stroke="#2a9a9a" stroke-width="0.8"/>
<rect x="130.5" y="201.9" width="4.8" height="4.8" fill="none" stroke="#2a9a9a" stroke-width="1.1"/><circle cx="132.9" cy="204.3" r="1.20" fill="none" stroke="#2a9a9a" stroke-width="0.8"/>
<rect x="141.1" y="180.4" width="4.8" height="4.8" fill="none" stroke="#2a9a9a" stroke-width="1.1"/><circle cx="143.5" cy="182.8" r="1.20" fill="none" stroke="#2a9a9a" stroke-width="0.8"/>
<rect x="151.7" y="154.0" width="4.8" height="4.8" fill="none" stroke="#2a9a9a" stroke-width="1.1"/><circle cx="154.1" cy="156.4" r="1.20" fill="none" stroke="#2a9a9a" stroke-width="0.8"/>
<rect x="162.3" y="123.4" width="4.8" height="4.8" fill="none" stroke="#2a9a9a" stroke-width="1.1"/><circle cx="164.7" cy="125.8" r="1.20" fill="none" stroke="#2a9a9a" stroke-width="0.8"/>
<rect x="172.9" y="94.3" width="4.8" height="4.8" fill="none" stroke="#2a9a9a" stroke-width="1.1"/><circle cx="175.3" cy="96.7" r="1.20" fill="none" stroke="#2a9a9a" stroke-width="0.8"/>
<rect x="183.5" y="62.5" width="4.8" height="4.8" fill="none" stroke="#2a9a9a" stroke-width="1.1"/><circle cx="185.9" cy="64.9" r="1.20" fill="none" stroke="#2a9a9a" stroke-width="0.8"/>
<rect x="194.1" y="36.5" width="4.8" height="4.8" fill="none" stroke="#2a9a9a" stroke-width="1.1"/><circle cx="196.5" cy="38.9" r="1.20" fill="none" stroke="#2a9a9a" stroke-width="0.8"/>
<rect x="204.7" y="20.0" width="4.8" height="4.8" fill="none" stroke="#2a9a9a" stroke-width="1.1"/><circle cx="207.1" cy="22.4" r="1.20" fill="none" stroke="#2a9a9a" stroke-width="0.8"/>
<rect x="215.3" y="17.8" width="4.8" height="4.8" fill="none" stroke="#2a9a9a" stroke-width="1.1"/><circle cx="217.7" cy="20.2" r="1.20" fill="none" stroke="#2a9a9a" stroke-width="0.8"/>
<rect x="225.9" y="26.3" width="4.8" height="4.8" fill="none" stroke="#2a9a9a" stroke-width="1.1"/><circle cx="228.3" cy="28.7" r="1.20" fill="none" stroke="#2a9a9a" stroke-width="0.8"/>
<rect x="236.5" y="42.7" width="4.8" height="4.8" fill="none" stroke="#2a9a9a" stroke-width="1.1"/><circle cx="238.9" cy="45.1" r="1.20" fill="none" stroke="#2a9a9a" stroke-width="0.8"/>
<rect x="247.1" y="63.1" width="4.8" height="4.8" fill="none" stroke="#2a9a9a" stroke-width="1.1"/><circle cx="249.5" cy="65.5" r="1.20" fill="none" stroke="#2a9a9a" stroke-width="0.8"/>
<rect x="257.7" y="84.9" width="4.8" height="4.8" fill="none" stroke="#2a9a9a" stroke-width="1.1"/><circle cx="260.1" cy="87.3" r="1.20" fill="none" stroke="#2a9a9a" stroke-width="0.8"/>
<rect x="268.4" y="111.5" width="4.8" height="4.8" fill="none" stroke="#2a9a9a" stroke-width="1.1"/><circle cx="270.8" cy="113.9" r="1.20" fill="none" stroke="#2a9a9a" stroke-width="0.8"/>
<rect x="279.0" y="113.0" width="4.8" height="4.8" fill="none" stroke="#2a9a9a" stroke-width="1.1"/><circle cx="281.4" cy="115.4" r="1.20" fill="none" stroke="#2a9a9a" stroke-width="0.8"/>
<rect x="289.6" y="132.5" width="4.8" height="4.8" fill="none" stroke="#2a9a9a" stroke-width="1.1"/><circle cx="292.0" cy="134.9" r="1.20" fill="none" stroke="#2a9a9a" stroke-width="0.8"/>
<rect x="300.2" y="146.9" width="4.8" height="4.8" fill="none" stroke="#2a9a9a" stroke-width="1.1"/><circle cx="302.6" cy="149.3" r="1.20" fill="none" stroke="#2a9a9a" stroke-width="0.8"/>
<rect x="310.8" y="158.3" width="4.8" height="4.8" fill="none" stroke="#2a9a9a" stroke-width="1.1"/><circle cx="313.2" cy="160.7" r="1.20" fill="none" stroke="#2a9a9a" stroke-width="0.8"/>
<rect x="321.4" y="167.1" width="4.8" height="4.8" fill="none" stroke="#2a9a9a" stroke-width="1.1"/><circle cx="323.8" cy="169.5" r="1.20" fill="none" stroke="#2a9a9a" stroke-width="0.8"/>
<rect x="332.0" y="171.0" width="4.8" height="4.8" fill="none" stroke="#2a9a9a" stroke-width="1.1"/><circle cx="334.4" cy="173.4" r="1.20" fill="none" stroke="#2a9a9a" stroke-width="0.8"/>
<rect x="342.6" y="156.6" width="4.8" height="4.8" fill="none" stroke="#2a9a9a" stroke-width="1.1"/><circle cx="345.0" cy="159.0" r="1.20" fill="none" stroke="#2a9a9a" stroke-width="0.8"/>
<rect x="353.2" y="133.6" width="4.8" height="4.8" fill="none" stroke="#2a9a9a" stroke-width="1.1"/><circle cx="355.6" cy="136.0" r="1.20" fill="none" stroke="#2a9a9a" stroke-width="0.8"/>
<rect x="363.8" y="169.6" width="4.8" height="4.8" fill="none" stroke="#2a9a9a" stroke-width="1.1"/><circle cx="366.2" cy="172.0" r="1.20" fill="none" stroke="#2a9a9a" stroke-width="0.8"/>
<rect x="374.4" y="186.0" width="4.8" height="4.8" fill="none" stroke="#2a9a9a" stroke-width="1.1"/><circle cx="376.8" cy="188.4" r="1.20" fill="none" stroke="#2a9a9a" stroke-width="0.8"/>
<rect x="385.0" y="194.5" width="4.8" height="4.8" fill="none" stroke="#2a9a9a" stroke-width="1.1"/><circle cx="387.4" cy="196.9" r="1.20" fill="none" stroke="#2a9a9a" stroke-width="0.8"/>
<rect x="395.6" y="199.9" width="4.8" height="4.8" fill="none" stroke="#2a9a9a" stroke-width="1.1"/><circle cx="398.0" cy="202.3" r="1.20" fill="none" stroke="#2a9a9a" stroke-width="0.8"/>
<rect x="406.2" y="204.7" width="4.8" height="4.8" fill="none" stroke="#2a9a9a" stroke-width="1.1"/><circle cx="408.6" cy="207.1" r="1.20" fill="none" stroke="#2a9a9a" stroke-width="0.8"/>
<rect x="416.8" y="208.1" width="4.8" height="4.8" fill="none" stroke="#2a9a9a" stroke-width="1.1"/><circle cx="419.2" cy="210.5" r="1.20" fill="none" stroke="#2a9a9a" stroke-width="0.8"/>
<rect x="427.4" y="211.8" width="4.8" height="4.8" fill="none" stroke="#2a9a9a" stroke-width="1.1"/><circle cx="429.8" cy="214.2" r="1.20" fill="none" stroke="#2a9a9a" stroke-width="0.8"/>
<rect x="438.0" y="200.2" width="4.8" height="4.8" fill="none" stroke="#2a9a9a" stroke-width="1.1"/><circle cx="440.4" cy="202.6" r="1.20" fill="none" stroke="#2a9a9a" stroke-width="0.8"/>
<rect x="448.6" y="209.8" width="4.8" height="4.8" fill="none" stroke="#2a9a9a" stroke-width="1.1"/><circle cx="451.0" cy="212.2" r="1.20" fill="none" stroke="#2a9a9a" stroke-width="0.8"/>
<rect x="459.2" y="212.4" width="4.8" height="4.8" fill="none" stroke="#2a9a9a" stroke-width="1.1"/><circle cx="461.6" cy="214.8" r="1.20" fill="none" stroke="#2a9a9a" stroke-width="0.8"/>
<rect x="469.8" y="214.1" width="4.8" height="4.8" fill="none" stroke="#2a9a9a" stroke-width="1.1"/><circle cx="472.2" cy="216.5" r="1.20" fill="none" stroke="#2a9a9a" stroke-width="0.8"/>
<rect x="480.4" y="215.2" width="4.8" height="4.8" fill="none" stroke="#2a9a9a" stroke-width="1.1"/><circle cx="482.8" cy="217.6" r="1.20" fill="none" stroke="#2a9a9a" stroke-width="0.8"/>
<path d="M58.7 266.4L69.3 261.5L79.9 254.5L90.5 246.8L101.1 237.2L111.7 223.6L122.3 202.9L132.9 167.5L143.5 115.9L154.1 172.9L164.7 133.5L175.3 96.1L185.9 62.7L196.5 36.0L207.1 19.3L217.7 16.8L228.3 19.6L238.9 32.1L249.5 50.5L260.1 70.0L270.8 89.6L281.4 107.1L292.0 123.6L302.6 136.3L313.2 147.9L323.8 157.3L334.4 165.5L345.0 165.2L355.6 126.7L366.2 151.3L376.8 175.1L387.4 185.6L398.0 193.0L408.6 195.8L419.2 198.1L429.8 200.3L440.4 202.3L451.0 203.7L461.6 205.2L472.2 207.7L482.8 211.1" stroke="#a050b8" stroke-width="1" fill="none"/>
<path d="M58.7 269.3L61.6 263.5L55.8 263.5Z" fill="#6c1080"/>
<path d="M69.3 264.4L72.2 258.6L66.4 258.6Z" fill="#6c1080"/>
<path d="M79.9 257.4L82.8 251.6L77.0 251.6Z" fill="#6c1080"/>
<path d="M90.5 249.7L93.4 243.9L87.6 243.9Z" fill="#6c1080"/>
<path d="M101.1 240.1L104.0 234.3L98.2 234.3Z" fill="#6c1080"/>
<path d="M111.7 226.5L114.6 220.7L108.8 220.7Z" fill="#6c1080"/>
<path d="M122.3 205.8L125.2 200.0L119.4 200.0Z" fill="#6c1080"/>
<path d="M132.9 170.4L135.8 164.6L130.0 164.6Z" fill="#6c1080"/>
<path d="M143.5 118.8L146.4 113.0L140.6 113.0Z" fill="#6c1080"/>
<path d="M154.1 175.8L157.0 170.0L151.2 170.0Z" fill="#6c1080"/>
<path d="M164.7 136.4L167.6 130.6L161.8 130.6Z" fill="#6c1080"/>
<path d="M175.3 99.0L178.2 93.2L172.4 93.2Z" fill="#6c1080"/>
<path d="M185.9 65.6L188.8 59.8L183.0 59.8Z" fill="#6c1080"/>
<path d="M196.5 38.9L199.4 33.1L193.6 33.1Z" fill="#6c1080"/>
<path d="M207.1 22.2L210.0 16.4L204.2 16.4Z" fill="#6c1080"/>
<path d="M217.7 19.7L220.6 13.9L214.8 13.9Z" fill="#6c1080"/>
<path d="M228.3 22.5L231.2 16.7L225.4 16.7Z" fill="#6c1080"/>
<path d="M238.9 35.0L241.8 29.2L236.0 29.2Z" fill="#6c1080"/>
<path d="M249.5 53.4L252.4 47.6L246.6 47.6Z" fill="#6c1080"/>
<path d="M260.1 72.9L263.0 67.1L257.2 67.1Z" fill="#6c1080"/>
<path d="M270.8 92.5L273.6 86.7L267.9 86.7Z" fill="#6c1080"/>
<path d="M281.4 110.0L284.3 104.2L278.5 104.2Z" fill="#6c1080"/>
<path d="M292.0 126.5L294.9 120.7L289.1 120.7Z" fill="#6c1080"/>
<path d="M302.6 139.2L305.5 133.4L299.7 133.4Z" fill="#6c1080"/>
<path d="M313.2 150.8L316.1 145.0L310.3 145.0Z" fill="#6c1080"/>
<path d="M323.8 160.2L326.7 154.4L320.9 154.4Z" fill="#6c1080"/>
<path d="M334.4 168.4L337.3 162.6L331.5 162.6Z" fill="#6c1080"/>
<path d="M345.0 168.1L347.9 162.3L342.1 162.3Z" fill="#6c1080"/>
<path d="M355.6 129.6L358.5 123.8L352.7 123.8Z" fill="#6c1080"/>
<path d="M366.2 154.2L369.1 148.4L363.3 148.4Z" fill="#6c1080"/>
<path d="M376.8 178.0L379.7 172.2L373.9 172.2Z" fill="#6c1080"/>
<path d="M387.4 188.5L390.3 182.7L384.5 182.7Z" fill="#6c1080"/>
<path d="M398.0 195.9L400.9 190.1L395.1 190.1Z" fill="#6c1080"/>
<path d="M408.6 198.7L411.5 192.9L405.7 192.9Z" fill="#6c1080"/>
<path d="M419.2 201.0L422.1 195.2L416.3 195.2Z" fill="#6c1080"/>
<path d="M429.8 203.2L432.7 197.4L426.9 197.4Z" fill="#6c1080"/>
<path d="M440.4 205.2L443.3 199.4L437.5 199.4Z" fill="#6c1080"/>
<path d="M451.0 206.6L453.9 200.8L448.1 200.8Z" fill="#6c1080"/>
<path d="M461.6 208.1L464.5 202.3L458.7 202.3Z" fill="#6c1080"/>
<path d="M472.2 210.6L475.1 204.8L469.3 204.8Z" fill="#6c1080"/>
<path d="M482.8 214.0L485.7 208.2L479.9 208.2Z" fill="#6c1080"/>
<path d="M58.7 262.4L69.3 257.3L79.9 250.8L90.5 243.4L101.1 233.5L111.7 221.0L122.3 206.3L132.9 187.3L143.5 165.8L154.1 140.0L164.7 111.1L175.3 81.1L185.9 51.3L196.5 26.1L207.1 10.8L217.7 14.2L228.3 13.6L238.9 23.3L249.5 38.6L260.1 55.9L270.8 74.3L281.4 91.8L292.0 107.7L302.6 122.4L313.2 134.3L323.8 143.4L334.4 134.9L345.0 129.5L355.6 167.8L366.2 161.0L376.8 137.7L387.4 167.5L398.0 178.5L408.6 185.3L419.2 190.7L429.8 194.4L440.4 197.5L451.0 200.6L461.6 202.6L472.2 204.0L482.8 205.4" stroke="#a8a868" stroke-width="1" fill="none"/>
<path d="M58.7 259.5L61.6 265.3L55.8 265.3Z" fill="#757520"/>
<path d="M69.3 254.4L72.2 260.2L66.4 260.2Z" fill="#757520"/>
<path d="M79.9 247.9L82.8 253.7L77.0 253.7Z" fill="#757520"/>
<path d="M90.5 240.5L93.4 246.3L87.6 246.3Z" fill="#757520"/>
<path d="M101.1 230.6L104.0 236.4L98.2 236.4Z" fill="#757520"/>
<path d="M111.7 218.1L114.6 223.9L108.8 223.9Z" fill="#757520"/>
<path d="M122.3 203.4L125.2 209.2L119.4 209.2Z" fill="#757520"/>
<path d="M132.9 184.4L135.8 190.2L130.0 190.2Z" fill="#757520"/>
<path d="M143.5 162.9L146.4 168.7L140.6 168.7Z" fill="#757520"/>
<path d="M154.1 137.1L157.0 142.9L151.2 142.9Z" fill="#757520"/>
<path d="M164.7 108.2L167.6 114.0L161.8 114.0Z" fill="#757520"/>
<path d="M175.3 78.2L178.2 84.0L172.4 84.0Z" fill="#757520"/>
<path d="M185.9 48.4L188.8 54.2L183.0 54.2Z" fill="#757520"/>
<path d="M196.5 23.2L199.4 29.0L193.6 29.0Z" fill="#757520"/>
<path d="M207.1 7.9L210.0 13.7L204.2 13.7Z" fill="#757520"/>
<path d="M217.7 11.3L220.6 17.1L214.8 17.1Z" fill="#757520"/>
<path d="M228.3 10.7L231.2 16.5L225.4 16.5Z" fill="#757520"/>
<path d="M238.9 20.4L241.8 26.2L236.0 26.2Z" fill="#757520"/>
<path d="M249.5 35.7L252.4 41.5L246.6 41.5Z" fill="#757520"/>
<path d="M260.1 53.0L263.0 58.8L257.2 58.8Z" fill="#757520"/>
<path d="M270.8 71.4L273.6 77.2L267.9 77.2Z" fill="#757520"/>
<path d="M281.4 88.9L284.3 94.7L278.5 94.7Z" fill="#757520"/>
<path d="M292.0 104.8L294.9 110.6L289.1 110.6Z" fill="#757520"/>
<path d="M302.6 119.5L305.5 125.3L299.7 125.3Z" fill="#757520"/>
<path d="M313.2 131.4L316.1 137.2L310.3 137.2Z" fill="#757520"/>
<path d="M323.8 140.5L326.7 146.3L320.9 146.3Z" fill="#757520"/>
<path d="M334.4 132.0L337.3 137.8L331.5 137.8Z" fill="#757520"/>
<path d="M345.0 126.6L347.9 132.4L342.1 132.4Z" fill="#757520"/>
<path d="M355.6 164.9L358.5 170.7L352.7 170.7Z" fill="#757520"/>
<path d="M366.2 158.1L369.1 163.9L363.3 163.9Z" fill="#757520"/>
<path d="M376.8 134.8L379.7 140.6L373.9 140.6Z" fill="#757520"/>
<path d="M387.4 164.6L390.3 170.4L384.5 170.4Z" fill="#757520"/>
<path d="M398.0 175.6L400.9 181.4L395.1 181.4Z" fill="#757520"/>
<path d="M408.6 182.4L411.5 188.2L405.7 188.2Z" fill="#757520"/>
<path d="M419.2 187.8L422.1 193.6L416.3 193.6Z" fill="#757520"/>
<path d="M429.8 191.5L432.7 197.3L426.9 197.3Z" fill="#757520"/>
<path d="M440.4 194.6L443.3 200.4L437.5 200.4Z" fill="#757520"/>
<path d="M451.0 197.7L453.9 203.5L448.1 203.5Z" fill="#757520"/>
<path d="M461.6 199.7L464.5 205.5L458.7 205.5Z" fill="#757520"/>
<path d="M472.2 201.1L475.1 206.9L469.3 206.9Z" fill="#757520"/>
<path d="M482.8 202.5L485.7 208.3L479.9 208.3Z" fill="#757520"/>
<path d="M58.7 269.5L69.3 267.2L79.9 263.5L90.5 259.6L101.1 253.6L111.7 246.8L122.3 237.7L132.9 227.5L143.5 214.8L154.1 198.6L164.7 180.2L175.3 158.1L185.9 132.1L196.5 103.5L207.1 74.6L217.7 46.8L228.3 24.4L238.9 10.8L249.5 7.1L260.1 14.2L270.8 29.2L281.4 39.7L292.0 52.2L302.6 68.3L313.2 85.6L323.8 101.5L334.4 113.9L345.0 115.1L355.6 87.3L366.2 115.6L376.8 140.0L387.4 153.6L398.0 162.7L408.6 169.5L419.2 176.3L429.8 181.1L440.4 185.3L451.0 189.3L461.6 192.1L472.2 195.2L482.8 197.5" stroke="#7f8fd8" stroke-width="1" fill="none"/>
<rect x="56.0" y="266.8" width="5.4" height="5.4" fill="#2a46a8"/>
<rect x="66.6" y="264.5" width="5.4" height="5.4" fill="#2a46a8"/>
<rect x="77.2" y="260.8" width="5.4" height="5.4" fill="#2a46a8"/>
<rect x="87.8" y="256.9" width="5.4" height="5.4" fill="#2a46a8"/>
<rect x="98.4" y="250.9" width="5.4" height="5.4" fill="#2a46a8"/>
<rect x="109.0" y="244.1" width="5.4" height="5.4" fill="#2a46a8"/>
<rect x="119.6" y="235.0" width="5.4" height="5.4" fill="#2a46a8"/>
<rect x="130.2" y="224.8" width="5.4" height="5.4" fill="#2a46a8"/>
<rect x="140.8" y="212.1" width="5.4" height="5.4" fill="#2a46a8"/>
<rect x="151.4" y="195.9" width="5.4" height="5.4" fill="#2a46a8"/>
<rect x="162.0" y="177.5" width="5.4" height="5.4" fill="#2a46a8"/>
<rect x="172.6" y="155.4" width="5.4" height="5.4" fill="#2a46a8"/>
<rect x="183.2" y="129.4" width="5.4" height="5.4" fill="#2a46a8"/>
<rect x="193.8" y="100.8" width="5.4" height="5.4" fill="#2a46a8"/>
<rect x="204.4" y="71.9" width="5.4" height="5.4" fill="#2a46a8"/>
<rect x="215.0" y="44.1" width="5.4" height="5.4" fill="#2a46a8"/>
<rect x="225.6" y="21.7" width="5.4" height="5.4" fill="#2a46a8"/>
<rect x="236.2" y="8.1" width="5.4" height="5.4" fill="#2a46a8"/>
<rect x="246.8" y="4.4" width="5.4" height="5.4" fill="#2a46a8"/>
<rect x="257.4" y="11.5" width="5.4" height="5.4" fill="#2a46a8"/>
<rect x="268.1" y="26.5" width="5.4" height="5.4" fill="#2a46a8"/>
<rect x="278.7" y="37.0" width="5.4" height="5.4" fill="#2a46a8"/>
<rect x="289.3" y="49.5" width="5.4" height="5.4" fill="#2a46a8"/>
<rect x="299.9" y="65.6" width="5.4" height="5.4" fill="#2a46a8"/>
<rect x="310.5" y="82.9" width="5.4" height="5.4" fill="#2a46a8"/>
<rect x="321.1" y="98.8" width="5.4" height="5.4" fill="#2a46a8"/>
<rect x="331.7" y="111.2" width="5.4" height="5.4" fill="#2a46a8"/>
<rect x="342.3" y="112.4" width="5.4" height="5.4" fill="#2a46a8"/>
<rect x="352.9" y="84.6" width="5.4" height="5.4" fill="#2a46a8"/>
<rect x="363.5" y="112.9" width="5.4" height="5.4" fill="#2a46a8"/>
<rect x="374.1" y="137.3" width="5.4" height="5.4" fill="#2a46a8"/>
<rect x="384.7" y="150.9" width="5.4" height="5.4" fill="#2a46a8"/>
<rect x="395.3" y="160.0" width="5.4" height="5.4" fill="#2a46a8"/>
<rect x="405.9" y="166.8" width="5.4" height="5.4" fill="#2a46a8"/>
<rect x="416.5" y="173.6" width="5.4" height="5.4" fill="#2a46a8"/>
<rect x="427.1" y="178.4" width="5.4" height="5.4" fill="#2a46a8"/>
<rect x="437.7" y="182.6" width="5.4" height="5.4" fill="#2a46a8"/>
<rect x="448.3" y="186.6" width="5.4" height="5.4" fill="#2a46a8"/>
<rect x="458.9" y="189.4" width="5.4" height="5.4" fill="#2a46a8"/>
<rect x="469.5" y="192.5" width="5.4" height="5.4" fill="#2a46a8"/>
<rect x="480.1" y="194.8" width="5.4" height="5.4" fill="#2a46a8"/>
<path d="M58.7 272.0L69.3 270.0L79.9 266.1L90.5 262.1L101.1 257.3L111.7 251.1L122.3 243.7L132.9 233.5L143.5 222.4L154.1 208.8L164.7 191.8L175.3 171.7L185.9 148.5L196.5 122.2L207.1 93.3L217.7 64.9L228.3 39.4L238.9 20.4L249.5 9.1L260.1 6.6L270.8 13.1L281.4 24.4L292.0 39.4L302.6 55.6L313.2 72.9L323.8 89.3L334.4 104.0L345.0 107.4L355.6 94.7L366.2 117.3L376.8 136.9L387.4 150.5L398.0 160.1L408.6 167.5L419.2 173.1L429.8 177.4L440.4 180.5L451.0 182.2L461.6 184.8L472.2 188.4L482.8 195.5" stroke="#1f8a50" stroke-width="1" fill="none"/>
<path d="M58.7 268.9L61.8 272.0L58.7 275.1L55.6 272.0Z" fill="#17783c"/>
<path d="M69.3 266.9L72.4 270.0L69.3 273.1L66.2 270.0Z" fill="#17783c"/>
<path d="M79.9 263.0L83.0 266.1L79.9 269.2L76.8 266.1Z" fill="#17783c"/>
<path d="M90.5 259.0L93.6 262.1L90.5 265.2L87.4 262.1Z" fill="#17783c"/>
<path d="M101.1 254.2L104.2 257.3L101.1 260.4L98.0 257.3Z" fill="#17783c"/>
<path d="M111.7 248.0L114.8 251.1L111.7 254.2L108.6 251.1Z" fill="#17783c"/>
<path d="M122.3 240.6L125.4 243.7L122.3 246.8L119.2 243.7Z" fill="#17783c"/>
<path d="M132.9 230.4L136.0 233.5L132.9 236.6L129.8 233.5Z" fill="#17783c"/>
<path d="M143.5 219.3L146.6 222.4L143.5 225.5L140.4 222.4Z" fill="#17783c"/>
<path d="M154.1 205.7L157.2 208.8L154.1 211.9L151.0 208.8Z" fill="#17783c"/>
<path d="M164.7 188.7L167.8 191.8L164.7 194.9L161.6 191.8Z" fill="#17783c"/>
<path d="M175.3 168.6L178.4 171.7L175.3 174.8L172.2 171.7Z" fill="#17783c"/>
<path d="M185.9 145.4L189.0 148.5L185.9 151.6L182.8 148.5Z" fill="#17783c"/>
<path d="M196.5 119.1L199.6 122.2L196.5 125.3L193.4 122.2Z" fill="#17783c"/>
<path d="M207.1 90.2L210.2 93.3L207.1 96.4L204.0 93.3Z" fill="#17783c"/>
<path d="M217.7 61.8L220.8 64.9L217.7 68.0L214.6 64.9Z" fill="#17783c"/>
<path d="M228.3 36.3L231.4 39.4L228.3 42.5L225.2 39.4Z" fill="#17783c"/>
<path d="M238.9 17.3L242.0 20.4L238.9 23.5L235.8 20.4Z" fill="#17783c"/>
<path d="M249.5 6.0L252.6 9.1L249.5 12.2L246.4 9.1Z" fill="#17783c"/>
<path d="M260.1 3.5L263.2 6.6L260.1 9.7L257.0 6.6Z" fill="#17783c"/>
<path d="M270.8 10.0L273.9 13.1L270.8 16.2L267.6 13.1Z" fill="#17783c"/>
<path d="M281.4 21.3L284.5 24.4L281.4 27.5L278.3 24.4Z" fill="#17783c"/>
<path d="M292.0 36.3L295.1 39.4L292.0 42.5L288.9 39.4Z" fill="#17783c"/>
<path d="M302.6 52.5L305.7 55.6L302.6 58.7L299.5 55.6Z" fill="#17783c"/>
<path d="M313.2 69.8L316.3 72.9L313.2 76.0L310.1 72.9Z" fill="#17783c"/>
<path d="M323.8 86.2L326.9 89.3L323.8 92.4L320.7 89.3Z" fill="#17783c"/>
<path d="M334.4 100.9L337.5 104.0L334.4 107.1L331.3 104.0Z" fill="#17783c"/>
<path d="M345.0 104.3L348.1 107.4L345.0 110.5L341.9 107.4Z" fill="#17783c"/>
<path d="M355.6 91.6L358.7 94.7L355.6 97.8L352.5 94.7Z" fill="#17783c"/>
<path d="M366.2 114.2L369.3 117.3L366.2 120.4L363.1 117.3Z" fill="#17783c"/>
<path d="M376.8 133.8L379.9 136.9L376.8 140.0L373.7 136.9Z" fill="#17783c"/>
<path d="M387.4 147.4L390.5 150.5L387.4 153.6L384.3 150.5Z" fill="#17783c"/>
<path d="M398.0 157.0L401.1 160.1L398.0 163.2L394.9 160.1Z" fill="#17783c"/>
<path d="M408.6 164.4L411.7 167.5L408.6 170.6L405.5 167.5Z" fill="#17783c"/>
<path d="M419.2 170.0L422.3 173.1L419.2 176.2L416.1 173.1Z" fill="#17783c"/>
<path d="M429.8 174.3L432.9 177.4L429.8 180.5L426.7 177.4Z" fill="#17783c"/>
<path d="M440.4 177.4L443.5 180.5L440.4 183.6L437.3 180.5Z" fill="#17783c"/>
<path d="M451.0 179.1L454.1 182.2L451.0 185.3L447.9 182.2Z" fill="#17783c"/>
<path d="M461.6 181.7L464.7 184.8L461.6 187.9L458.5 184.8Z" fill="#17783c"/>
<path d="M472.2 185.3L475.3 188.4L472.2 191.5L469.1 188.4Z" fill="#17783c"/>
<path d="M482.8 192.4L485.9 195.5L482.8 198.6L479.7 195.5Z" fill="#17783c"/>
<path d="M58.7 273.7L69.3 265.5L79.9 258.4L90.5 253.3L101.1 248.5L111.7 245.1L122.3 240.6L132.9 234.9L143.5 229.0L154.1 220.7L164.7 209.4L175.3 195.0L185.9 175.7L196.5 151.6L207.1 124.1L217.7 93.8L228.3 63.8L238.9 37.4L249.5 18.7L260.1 8.5L270.8 6.3L281.4 11.9L292.0 22.1L302.6 35.7L313.2 50.5L323.8 65.8L334.4 80.8L345.0 95.2L355.6 108.6L366.2 120.7L376.8 132.1L387.4 142.6L398.0 151.6L408.6 160.1L419.2 167.2L429.8 173.7L440.4 178.8L451.0 183.6L461.6 187.0L472.2 190.4L482.8 193.5" stroke="#ea6a78" stroke-width="1" fill="none"/>
<circle cx="58.7" cy="273.7" r="2.75" fill="#d81c30"/>
<circle cx="69.3" cy="265.5" r="2.75" fill="#d81c30"/>
<circle cx="79.9" cy="258.4" r="2.75" fill="#d81c30"/>
<circle cx="90.5" cy="253.3" r="2.75" fill="#d81c30"/>
<circle cx="101.1" cy="248.5" r="2.75" fill="#d81c30"/>
<circle cx="111.7" cy="245.1" r="2.75" fill="#d81c30"/>
<circle cx="122.3" cy="240.6" r="2.75" fill="#d81c30"/>
<circle cx="132.9" cy="234.9" r="2.75" fill="#d81c30"/>
<circle cx="143.5" cy="229.0" r="2.75" fill="#d81c30"/>
<circle cx="154.1" cy="220.7" r="2.75" fill="#d81c30"/>
<circle cx="164.7" cy="209.4" r="2.75" fill="#d81c30"/>
<circle cx="175.3" cy="195.0" r="2.75" fill="#d81c30"/>
<circle cx="185.9" cy="175.7" r="2.75" fill="#d81c30"/>
<circle cx="196.5" cy="151.6" r="2.75" fill="#d81c30"/>
<circle cx="207.1" cy="124.1" r="2.75" fill="#d81c30"/>
<circle cx="217.7" cy="93.8" r="2.75" fill="#d81c30"/>
<circle cx="228.3" cy="63.8" r="2.75" fill="#d81c30"/>
<circle cx="238.9" cy="37.4" r="2.75" fill="#d81c30"/>
<circle cx="249.5" cy="18.7" r="2.75" fill="#d81c30"/>
<circle cx="260.1" cy="8.5" r="2.75" fill="#d81c30"/>
<circle cx="270.8" cy="6.3" r="2.75" fill="#d81c30"/>
<circle cx="281.4" cy="11.9" r="2.75" fill="#d81c30"/>
<circle cx="292.0" cy="22.1" r="2.75" fill="#d81c30"/>
<circle cx="302.6" cy="35.7" r="2.75" fill="#d81c30"/>
<circle cx="313.2" cy="50.5" r="2.75" fill="#d81c30"/>
<circle cx="323.8" cy="65.8" r="2.75" fill="#d81c30"/>
<circle cx="334.4" cy="80.8" r="2.75" fill="#d81c30"/>
<circle cx="345.0" cy="95.2" r="2.75" fill="#d81c30"/>
<circle cx="355.6" cy="108.6" r="2.75" fill="#d81c30"/>
<circle cx="366.2" cy="120.7" r="2.75" fill="#d81c30"/>
<circle cx="376.8" cy="132.1" r="2.75" fill="#d81c30"/>
<circle cx="387.4" cy="142.6" r="2.75" fill="#d81c30"/>
<circle cx="398.0" cy="151.6" r="2.75" fill="#d81c30"/>
<circle cx="408.6" cy="160.1" r="2.75" fill="#d81c30"/>
<circle cx="419.2" cy="167.2" r="2.75" fill="#d81c30"/>
<circle cx="429.8" cy="173.7" r="2.75" fill="#d81c30"/>
<circle cx="440.4" cy="178.8" r="2.75" fill="#d81c30"/>
<circle cx="451.0" cy="183.6" r="2.75" fill="#d81c30"/>
<circle cx="461.6" cy="187.0" r="2.75" fill="#d81c30"/>
<circle cx="472.2" cy="190.4" r="2.75" fill="#d81c30"/>
<circle cx="482.8" cy="193.5" r="2.75" fill="#d81c30"/>
<path d="M58.7 289.3v-5.5M69.3 289.3v-4M79.9 289.3v-4M90.5 289.3v-4M101.1 289.3v-4M111.7 289.3v-5.5M122.3 289.3v-4M132.9 289.3v-4M143.5 289.3v-4M154.1 289.3v-4M164.7 289.3v-5.5M175.3 289.3v-4M185.9 289.3v-4M196.5 289.3v-4M207.1 289.3v-4M217.7 289.3v-5.5M228.3 289.3v-4M238.9 289.3v-4M249.5 289.3v-4M260.1 289.3v-4M270.8 289.3v-5.5M281.4 289.3v-4M292.0 289.3v-4M302.6 289.3v-4M313.2 289.3v-4M323.8 289.3v-5.5M334.4 289.3v-4M345.0 289.3v-4M355.6 289.3v-4M366.2 289.3v-4M376.8 289.3v-5.5M387.4 289.3v-4M398.0 289.3v-4M408.6 289.3v-4M419.2 289.3v-4M429.8 289.3v-5.5M440.4 289.3v-4M451.0 289.3v-4M461.6 289.3v-4M472.2 289.3v-4M482.8 289.3v-5.5M58.7 289.3h5.8M58.7 283.6h3.4M58.7 278.0h3.4M58.7 272.3h3.4M58.7 266.6h3.4M58.7 261.0h5.8M58.7 255.3h3.4M58.7 249.6h3.4M58.7 244.0h3.4M58.7 238.3h3.4M58.7 232.6h5.8M58.7 227.0h3.4M58.7 221.3h3.4M58.7 215.6h3.4M58.7 210.0h3.4M58.7 204.3h5.8M58.7 198.6h3.4M58.7 193.0h3.4M58.7 187.3h3.4M58.7 181.6h3.4M58.7 176.0h5.8M58.7 170.3h3.4M58.7 164.6h3.4M58.7 159.0h3.4M58.7 153.3h3.4M58.7 147.7h5.8M58.7 142.0h3.4M58.7 136.3h3.4M58.7 130.7h3.4M58.7 125.0h3.4M58.7 119.3h5.8M58.7 113.7h3.4M58.7 108.0h3.4M58.7 102.3h3.4M58.7 96.7h3.4M58.7 91.0h5.8M58.7 85.3h3.4M58.7 79.7h3.4M58.7 74.0h3.4M58.7 68.3h3.4M58.7 62.7h5.8M58.7 57.0h3.4M58.7 51.3h3.4M58.7 45.7h3.4M58.7 40.0h3.4M58.7 34.3h5.8M58.7 28.7h3.4M58.7 23.0h3.4M58.7 17.3h3.4M58.7 11.7h3.4M58.7 6.0h5.8" stroke="#222" stroke-width="1" fill="none"/>
<rect x="62.5" y="9.2" width="76.8" height="186.9" fill="#fff" stroke="#444" stroke-width="1"/>
<path d="M66.1 17.2H91.7" stroke="#ea6a78" stroke-width="1.3"/>
<circle cx="79.1" cy="17.2" r="2.45" fill="#d81c30"/>
<text x="96.6" y="20.3" font-size="11" font-weight="bold">On_0°</text>
<path d="M66.1 30.0H91.7" stroke="#1f8a50" stroke-width="1.3"/>
<path d="M79.1 27.0L82.1 30.0L79.1 33.0L76.1 30.0Z" fill="#17783c"/>
<text x="96.6" y="33.1" font-size="11" font-weight="bold">On_10°</text>
<path d="M66.1 42.8H91.7" stroke="#7f8fd8" stroke-width="1.3"/>
<rect x="76.5" y="40.2" width="5.1" height="5.1" fill="#2a46a8"/>
<text x="96.6" y="45.9" font-size="11" font-weight="bold">On_20°</text>
<path d="M66.1 55.6H91.7" stroke="#a8a868" stroke-width="1.3"/>
<path d="M79.1 52.8L81.9 58.4L76.3 58.4Z" fill="#757520"/>
<text x="96.6" y="58.7" font-size="11" font-weight="bold">On_30°</text>
<path d="M66.1 68.4H91.7" stroke="#a050b8" stroke-width="1.3"/>
<path d="M79.1 71.2L81.9 65.6L76.3 65.6Z" fill="#6c1080"/>
<text x="96.6" y="71.5" font-size="11" font-weight="bold">On_40°</text>
<path d="M66.1 81.2H91.7" stroke="#30a0a0" stroke-width="1.3"/>
<rect x="76.8" y="79.0" width="4.5" height="4.5" fill="none" stroke="#2a9a9a" stroke-width="1.1"/><circle cx="79.1" cy="81.2" r="1.12" fill="none" stroke="#2a9a9a" stroke-width="0.8"/>
<text x="96.6" y="84.3" font-size="11" font-weight="bold">On_50°</text>
<path d="M66.1 94.0H91.7" stroke="#a04858" stroke-width="1.3"/>
<rect x="76.8" y="91.8" width="4.5" height="4.5" fill="none" stroke="#404080" stroke-width="1"/><path d="M76.8 94.0H81.3M79.1 91.8V96.3" stroke="#404080" stroke-width="0.8"/>
<text x="96.6" y="97.1" font-size="11" font-weight="bold">On_60°</text>
<path d="M66.1 106.8H91.7" stroke="#e0505a" stroke-width="1.3"/>
<circle cx="79.1" cy="106.8" r="2.10" fill="none" stroke="#e03040" stroke-width="1.0"/>
<text x="96.6" y="109.9" font-size="11" font-weight="bold">Off_0°</text>
<path d="M66.1 119.6H91.7" stroke="#1f8a50" stroke-width="1.3"/>
<path d="M79.1 116.9L81.8 119.6L79.1 122.3L76.4 119.6Z" fill="none" stroke="#1f8a50" stroke-width="1.0"/>
<text x="96.6" y="122.7" font-size="11" font-weight="bold">Off_10°</text>
<path d="M66.1 132.4H91.7" stroke="#7080d0" stroke-width="1.3"/>
<rect x="76.9" y="130.2" width="4.4" height="4.4" fill="none" stroke="#4060c0" stroke-width="1.0"/>
<text x="96.6" y="135.5" font-size="11" font-weight="bold">Off_20°</text>
<path d="M66.1 145.2H91.7" stroke="#a0a050" stroke-width="1.3"/>
<path d="M79.1 142.8L81.5 147.6L76.6 147.6Z" fill="none" stroke="#808020" stroke-width="1.0"/>
<text x="96.6" y="148.3" font-size="11" font-weight="bold">Off_30°</text>
<path d="M66.1 158.0H91.7" stroke="#b050c0" stroke-width="1.3"/>
<path d="M79.1 160.4L81.5 155.6L76.6 155.6Z" fill="none" stroke="#9030a0" stroke-width="1.0"/>
<text x="96.6" y="161.1" font-size="11" font-weight="bold">Off_40°</text>
<path d="M66.1 170.8H91.7" stroke="#30a0a0" stroke-width="1.3"/>
<path d="M76.8 168.5L81.4 173.2M76.8 173.2L81.4 168.5" stroke="#30a0a0" stroke-width="1.0"/>
<text x="96.6" y="173.9" font-size="11" font-weight="bold">Off_50°</text>
<path d="M66.1 183.6H91.7" stroke="#6070a0" stroke-width="1.3"/>
<path d="M79.1 181.0V186.2" stroke="#303070" stroke-width="1.1"/>
<text x="96.6" y="186.7" font-size="11" font-weight="bold">Off_60°</text>
<path d="M58.7 6.0V289.3H482.8" stroke="#0a0a0a" stroke-width="1.4" fill="none" stroke-linecap="square"/>
<path d="M58.7 6.0H482.8" stroke="#1a1a1a" stroke-width="1.7" fill="none" stroke-linecap="square"/>
<path d="M482.8 6.0V289.3" stroke="#1a1a1a" stroke-width="1.4" fill="none"/>
<text x="58.7" y="308.1" font-size="14.3" font-weight="bold" text-anchor="middle">9</text>
<text x="111.7" y="308.1" font-size="14.3" font-weight="bold" text-anchor="middle">9.5</text>
<text x="164.7" y="308.1" font-size="14.3" font-weight="bold" text-anchor="middle">10</text>
<text x="217.7" y="308.1" font-size="14.3" font-weight="bold" text-anchor="middle">10.5</text>
<text x="270.8" y="308.1" font-size="14.3" font-weight="bold" text-anchor="middle">11</text>
<text x="323.8" y="308.1" font-size="14.3" font-weight="bold" text-anchor="middle">11.5</text>
<text x="376.8" y="308.1" font-size="14.3" font-weight="bold" text-anchor="middle">12</text>
<text x="429.8" y="308.1" font-size="14.3" font-weight="bold" text-anchor="middle">12.5</text>
<text x="482.8" y="308.1" font-size="14.3" font-weight="bold" text-anchor="middle">13</text>
<text x="49.3" y="294.4" font-size="14.4" font-weight="bold" text-anchor="end">0</text>
<text x="49.3" y="266.1" font-size="14.4" font-weight="bold" text-anchor="end">0.1</text>
<text x="49.3" y="237.7" font-size="14.4" font-weight="bold" text-anchor="end">0.2</text>
<text x="49.3" y="209.4" font-size="14.4" font-weight="bold" text-anchor="end">0.3</text>
<text x="49.3" y="181.1" font-size="14.4" font-weight="bold" text-anchor="end">0.4</text>
<text x="49.3" y="152.8" font-size="14.4" font-weight="bold" text-anchor="end">0.5</text>
<text x="49.3" y="124.4" font-size="14.4" font-weight="bold" text-anchor="end">0.6</text>
<text x="49.3" y="96.1" font-size="14.4" font-weight="bold" text-anchor="end">0.7</text>
<text x="49.3" y="67.8" font-size="14.4" font-weight="bold" text-anchor="end">0.8</text>
<text x="49.3" y="39.4" font-size="14.4" font-weight="bold" text-anchor="end">0.9</text>
<text x="49.3" y="11.1" font-size="14.4" font-weight="bold" text-anchor="end">1</text>
<text x="271.6" y="331.9" font-size="15.7" font-weight="bold" text-anchor="middle">Frequency [GHz]</text>
<text transform="translate(13.7 146.2) rotate(-90)" font-size="15.9" font-weight="bold" text-anchor="middle">Simulated Absorptivity</text>
<text x="272.4" y="368.1" font-size="21" fill="#d5661f" text-anchor="middle">(a)</text>
<path d="M645.5 5.5V290.0M698.5 5.5V290.0M751.5 5.5V290.0M804.5 5.5V290.0M857.4 5.5V290.0M910.4 5.5V290.0M963.4 5.5V290.0M592.5 261.6H1016.4M592.5 233.1H1016.4M592.5 204.7H1016.4M592.5 176.2H1016.4M592.5 147.8H1016.4M592.5 119.3H1016.4M592.5 90.9H1016.4M592.5 62.4H1016.4M592.5 33.9H1016.4" stroke="#bdbdbd" stroke-width="1" stroke-dasharray="2.6 1.7" fill="none"/>
<path d="M592.5 218.9C594.5 225.0 600.5 246.9 604.5 255.9C608.4 264.9 612.4 268.7 616.4 272.9C620.4 277.2 624.4 279.6 628.4 281.5C632.4 283.4 636.4 285.0 640.3 284.3C644.3 283.6 648.3 281.0 652.3 277.2C656.3 273.4 660.3 268.0 664.3 261.6C668.2 255.1 672.2 246.4 676.2 238.8C680.2 231.2 684.2 221.5 688.2 216.0C692.2 210.6 696.2 208.7 700.1 206.1C704.1 203.4 708.1 201.5 712.1 200.1C716.1 198.7 720.1 198.0 724.1 197.5C728.0 197.1 732.0 197.0 736.0 197.5C740.0 198.1 744.0 199.3 748.0 200.7C752.0 202.0 756.0 203.7 759.9 205.5C763.9 207.3 767.9 209.2 771.9 211.2C775.9 213.1 779.9 215.3 783.9 217.2C787.8 219.1 791.8 221.1 795.8 222.6C799.8 224.1 803.8 225.2 807.8 226.3C811.8 227.3 815.8 228.4 819.7 228.8C823.7 229.3 827.7 229.1 831.7 229.1C835.7 229.1 839.7 229.3 843.7 228.8C847.6 228.4 851.6 226.9 855.6 226.3C859.6 225.7 863.6 225.6 867.6 225.1C871.6 224.7 875.6 224.1 879.5 223.7C883.5 223.3 887.5 222.9 891.5 222.6C895.5 222.3 899.5 222.1 903.5 222.0C907.4 221.9 911.4 222.0 915.4 222.0C919.4 222.0 923.4 221.9 927.4 222.0C931.4 222.1 935.4 222.6 939.3 222.9C943.3 223.1 947.3 223.4 951.3 223.4C955.3 223.4 959.3 223.1 963.3 222.9C967.2 222.6 971.2 222.4 975.2 222.0C979.2 221.6 983.2 221.2 987.2 220.6C991.2 220.0 995.2 219.4 999.1 218.6C1003.1 217.8 1008.2 216.4 1011.1 215.7C1014.0 215.1 1015.5 214.7 1016.4 214.5" stroke="#6070a0" stroke-width="1" fill="none"/>
<path d="M592.5 215.9V221.8" stroke="#303070" stroke-width="1.1"/>
<path d="M604.5 252.9V258.8" stroke="#303070" stroke-width="1.1"/>
<path d="M616.4 270.0V275.9" stroke="#303070" stroke-width="1.1"/>
<path d="M628.4 278.5V284.4" stroke="#303070" stroke-width="1.1"/>
<path d="M640.3 281.4V287.3" stroke="#303070" stroke-width="1.1"/>
<path d="M652.3 274.2V280.1" stroke="#303070" stroke-width="1.1"/>
<path d="M664.3 258.6V264.5" stroke="#303070" stroke-width="1.1"/>
<path d="M676.2 235.8V241.7" stroke="#303070" stroke-width="1.1"/>
<path d="M688.2 213.1V219.0" stroke="#303070" stroke-width="1.1"/>
<path d="M700.1 203.1V209.0" stroke="#303070" stroke-width="1.1"/>
<path d="M712.1 197.1V203.0" stroke="#303070" stroke-width="1.1"/>
<path d="M724.1 194.6V200.5" stroke="#303070" stroke-width="1.1"/>
<path d="M736.0 194.6V200.5" stroke="#303070" stroke-width="1.1"/>
<path d="M748.0 197.7V203.6" stroke="#303070" stroke-width="1.1"/>
<path d="M759.9 202.6V208.5" stroke="#303070" stroke-width="1.1"/>
<path d="M771.9 208.2V214.1" stroke="#303070" stroke-width="1.1"/>
<path d="M783.9 214.2V220.1" stroke="#303070" stroke-width="1.1"/>
<path d="M795.8 219.6V225.5" stroke="#303070" stroke-width="1.1"/>
<path d="M807.8 223.3V229.2" stroke="#303070" stroke-width="1.1"/>
<path d="M819.7 225.9V231.8" stroke="#303070" stroke-width="1.1"/>
<path d="M831.7 226.2V232.1" stroke="#303070" stroke-width="1.1"/>
<path d="M843.7 225.9V231.8" stroke="#303070" stroke-width="1.1"/>
<path d="M855.6 223.3V229.2" stroke="#303070" stroke-width="1.1"/>
<path d="M867.6 222.2V228.1" stroke="#303070" stroke-width="1.1"/>
<path d="M879.5 220.8V226.7" stroke="#303070" stroke-width="1.1"/>
<path d="M891.5 219.6V225.5" stroke="#303070" stroke-width="1.1"/>
<path d="M903.5 219.1V225.0" stroke="#303070" stroke-width="1.1"/>
<path d="M915.4 219.1V225.0" stroke="#303070" stroke-width="1.1"/>
<path d="M927.4 219.1V225.0" stroke="#303070" stroke-width="1.1"/>
<path d="M939.3 219.9V225.8" stroke="#303070" stroke-width="1.1"/>
<path d="M951.3 220.5V226.4" stroke="#303070" stroke-width="1.1"/>
<path d="M963.3 219.9V225.8" stroke="#303070" stroke-width="1.1"/>
<path d="M975.2 219.1V225.0" stroke="#303070" stroke-width="1.1"/>
<path d="M987.2 217.6V223.5" stroke="#303070" stroke-width="1.1"/>
<path d="M999.1 215.6V221.5" stroke="#303070" stroke-width="1.1"/>
<path d="M1011.1 212.8V218.7" stroke="#303070" stroke-width="1.1"/>
<path d="M592.5 272.4C594.5 272.1 600.5 271.5 604.5 270.7C608.4 269.8 612.4 268.2 616.4 267.2C620.4 266.3 624.4 265.8 628.4 265.0C632.4 264.2 636.4 263.0 640.3 262.4C644.3 261.8 648.3 261.6 652.3 261.3C656.3 260.9 660.3 260.4 664.3 260.1C668.2 259.8 672.2 259.7 676.2 259.6C680.2 259.5 684.2 259.6 688.2 259.6C692.2 259.5 696.2 259.2 700.1 259.3C704.1 259.3 708.1 259.6 712.1 259.8C716.1 260.1 720.1 260.6 724.1 261.0C728.0 261.4 732.0 261.9 736.0 262.4C740.0 262.9 744.0 263.6 748.0 264.1C752.0 264.6 756.0 265.2 759.9 265.5C763.9 265.9 767.9 266.2 771.9 266.4C775.9 266.5 779.9 266.5 783.9 266.4C787.8 266.3 791.8 266.1 795.8 265.8C799.8 265.6 803.8 265.2 807.8 265.0C811.8 264.8 815.8 264.8 819.7 264.7C823.7 264.6 827.7 264.5 831.7 264.4C835.7 264.3 839.7 264.2 843.7 264.1C847.6 264.1 851.6 264.1 855.6 264.1C859.6 264.2 863.6 264.2 867.6 264.4C871.6 264.6 875.6 264.8 879.5 265.2C883.5 265.7 887.5 266.3 891.5 267.2C895.5 268.1 899.5 269.4 903.5 270.7C907.4 271.9 911.4 273.5 915.4 274.9C919.4 276.3 923.4 277.6 927.4 278.9C931.4 280.2 935.4 281.5 939.3 282.9C943.3 284.3 947.3 286.1 951.3 287.2C955.3 288.2 959.3 289.1 963.3 289.1C967.2 289.2 971.2 288.8 975.2 287.7C979.2 286.7 983.2 285.2 987.2 282.9C991.2 280.6 995.2 277.1 999.1 274.1C1003.1 271.0 1008.2 266.9 1011.1 264.7C1014.0 262.4 1015.5 261.2 1016.4 260.5" stroke="#30a0a0" stroke-width="1" fill="none"/>
<path d="M589.8 269.6L595.2 275.1M589.8 275.1L595.2 269.6" stroke="#30a0a0" stroke-width="0.95"/>
<path d="M601.7 267.9L607.2 273.4M601.7 273.4L607.2 267.9" stroke="#30a0a0" stroke-width="0.95"/>
<path d="M613.7 264.5L619.2 270.0M613.7 270.0L619.2 264.5" stroke="#30a0a0" stroke-width="0.95"/>
<path d="M625.6 262.2L631.1 267.7M625.6 267.7L631.1 262.2" stroke="#30a0a0" stroke-width="0.95"/>
<path d="M637.6 259.7L643.1 265.2M637.6 265.2L643.1 259.7" stroke="#30a0a0" stroke-width="0.95"/>
<path d="M649.5 258.5L655.0 264.0M649.5 264.0L655.0 258.5" stroke="#30a0a0" stroke-width="0.95"/>
<path d="M661.5 257.4L667.0 262.9M661.5 262.9L667.0 257.4" stroke="#30a0a0" stroke-width="0.95"/>
<path d="M673.5 256.8L679.0 262.3M673.5 262.3L679.0 256.8" stroke="#30a0a0" stroke-width="0.95"/>
<path d="M685.4 256.8L690.9 262.3M685.4 262.3L690.9 256.8" stroke="#30a0a0" stroke-width="0.95"/>
<path d="M697.4 256.5L702.9 262.0M697.4 262.0L702.9 256.5" stroke="#30a0a0" stroke-width="0.95"/>
<path d="M709.3 257.1L714.8 262.6M709.3 262.6L714.8 257.1" stroke="#30a0a0" stroke-width="0.95"/>
<path d="M721.3 258.2L726.8 263.7M721.3 263.7L726.8 258.2" stroke="#30a0a0" stroke-width="0.95"/>
<path d="M733.3 259.7L738.8 265.2M733.3 265.2L738.8 259.7" stroke="#30a0a0" stroke-width="0.95"/>
<path d="M745.2 261.4L750.7 266.9M745.2 266.9L750.7 261.4" stroke="#30a0a0" stroke-width="0.95"/>
<path d="M757.2 262.8L762.7 268.3M757.2 268.3L762.7 262.8" stroke="#30a0a0" stroke-width="0.95"/>
<path d="M769.2 263.6L774.7 269.1M769.2 269.1L774.7 263.6" stroke="#30a0a0" stroke-width="0.95"/>
<path d="M781.1 263.6L786.6 269.1M781.1 269.1L786.6 263.6" stroke="#30a0a0" stroke-width="0.95"/>
<path d="M793.1 263.1L798.6 268.6M793.1 268.6L798.6 263.1" stroke="#30a0a0" stroke-width="0.95"/>
<path d="M805.0 262.2L810.5 267.7M805.0 267.7L810.5 262.2" stroke="#30a0a0" stroke-width="0.95"/>
<path d="M817.0 261.9L822.5 267.4M817.0 267.4L822.5 261.9" stroke="#30a0a0" stroke-width="0.95"/>
<path d="M829.0 261.6L834.5 267.1M829.0 267.1L834.5 261.6" stroke="#30a0a0" stroke-width="0.95"/>
<path d="M840.9 261.4L846.4 266.9M840.9 266.9L846.4 261.4" stroke="#30a0a0" stroke-width="0.95"/>
<path d="M852.9 261.4L858.4 266.9M852.9 266.9L858.4 261.4" stroke="#30a0a0" stroke-width="0.95"/>
<path d="M864.8 261.6L870.3 267.1M864.8 267.1L870.3 261.6" stroke="#30a0a0" stroke-width="0.95"/>
<path d="M876.8 262.5L882.3 268.0M876.8 268.0L882.3 262.5" stroke="#30a0a0" stroke-width="0.95"/>
<path d="M888.8 264.5L894.2 270.0M888.8 270.0L894.2 264.5" stroke="#30a0a0" stroke-width="0.95"/>
<path d="M900.7 267.9L906.2 273.4M900.7 273.4L906.2 267.9" stroke="#30a0a0" stroke-width="0.95"/>
<path d="M912.7 272.2L918.2 277.7M912.7 277.7L918.2 272.2" stroke="#30a0a0" stroke-width="0.95"/>
<path d="M924.6 276.2L930.1 281.7M924.6 281.7L930.1 276.2" stroke="#30a0a0" stroke-width="0.95"/>
<path d="M936.6 280.1L942.1 285.6M936.6 285.6L942.1 280.1" stroke="#30a0a0" stroke-width="0.95"/>
<path d="M948.5 284.4L954.0 289.9M948.5 289.9L954.0 284.4" stroke="#30a0a0" stroke-width="0.95"/>
<path d="M960.5 286.4L966.0 291.9M960.5 291.9L966.0 286.4" stroke="#30a0a0" stroke-width="0.95"/>
<path d="M972.5 285.0L978.0 290.5M972.5 290.5L978.0 285.0" stroke="#30a0a0" stroke-width="0.95"/>
<path d="M984.4 280.1L989.9 285.6M984.4 285.6L989.9 280.1" stroke="#30a0a0" stroke-width="0.95"/>
<path d="M996.4 271.3L1001.9 276.8M996.4 276.8L1001.9 271.3" stroke="#30a0a0" stroke-width="0.95"/>
<path d="M1008.4 261.9L1013.9 267.4M1008.4 267.4L1013.9 261.9" stroke="#30a0a0" stroke-width="0.95"/>
<path d="M592.5 276.3C594.5 276.5 600.5 277.1 604.5 277.2C608.4 277.3 612.4 277.1 616.4 277.2C620.4 277.3 624.4 277.7 628.4 277.8C632.4 277.9 636.4 277.6 640.3 277.8C644.3 277.9 648.3 278.3 652.3 278.6C656.3 278.9 660.3 279.6 664.3 279.5C668.2 279.4 672.2 278.5 676.2 278.1C680.2 277.6 684.2 277.3 688.2 276.9C692.2 276.5 696.2 276.1 700.1 275.8C704.1 275.4 708.1 275.1 712.1 274.9C716.1 274.7 720.1 274.6 724.1 274.6C728.0 274.6 732.0 274.7 736.0 274.9C740.0 275.1 744.0 275.4 748.0 275.8C752.0 276.1 756.0 276.5 759.9 276.9C763.9 277.3 767.9 277.6 771.9 278.1C775.9 278.5 779.9 279.1 783.9 279.8C787.8 280.4 791.8 281.6 795.8 282.0C799.8 282.5 803.8 282.2 807.8 282.3C811.8 282.4 815.8 282.4 819.7 282.6C823.7 282.8 827.7 283.5 831.7 283.7C835.7 284.0 839.7 284.0 843.7 284.3C847.6 284.6 851.6 285.1 855.6 285.4C859.6 285.8 863.6 286.3 867.6 286.3C871.6 286.3 875.6 285.7 879.5 285.7C883.5 285.8 887.5 286.3 891.5 286.6C895.5 286.9 899.5 287.5 903.5 287.7C907.4 288.0 911.4 287.9 915.4 288.0C919.4 288.1 923.4 288.3 927.4 288.3C931.4 288.2 935.4 288.0 939.3 287.7C943.3 287.4 947.3 286.9 951.3 286.6C955.3 286.3 959.3 286.0 963.3 285.7C967.2 285.5 971.2 285.5 975.2 285.2C979.2 284.8 983.2 284.2 987.2 283.7C991.2 283.3 995.2 282.8 999.1 282.3C1003.1 281.8 1008.2 281.2 1011.1 280.9C1014.0 280.6 1015.5 280.4 1016.4 280.3" stroke="#b050c0" stroke-width="1" fill="none"/>
<path d="M592.5 279.4L595.5 273.3L589.5 273.3Z" fill="none" stroke="#9030a0" stroke-width="0.95"/>
<path d="M604.5 280.2L607.5 274.1L601.4 274.1Z" fill="none" stroke="#9030a0" stroke-width="0.95"/>
<path d="M616.4 280.2L619.5 274.1L613.4 274.1Z" fill="none" stroke="#9030a0" stroke-width="0.95"/>
<path d="M628.4 280.8L631.4 274.7L625.3 274.7Z" fill="none" stroke="#9030a0" stroke-width="0.95"/>
<path d="M640.3 280.8L643.4 274.7L637.3 274.7Z" fill="none" stroke="#9030a0" stroke-width="0.95"/>
<path d="M652.3 281.7L655.3 275.6L649.2 275.6Z" fill="none" stroke="#9030a0" stroke-width="0.95"/>
<path d="M664.3 282.5L667.3 276.4L661.2 276.4Z" fill="none" stroke="#9030a0" stroke-width="0.95"/>
<path d="M676.2 281.1L679.3 275.0L673.2 275.0Z" fill="none" stroke="#9030a0" stroke-width="0.95"/>
<path d="M688.2 280.0L691.2 273.9L685.1 273.9Z" fill="none" stroke="#9030a0" stroke-width="0.95"/>
<path d="M700.1 278.8L703.2 272.7L697.1 272.7Z" fill="none" stroke="#9030a0" stroke-width="0.95"/>
<path d="M712.1 278.0L715.1 271.9L709.0 271.9Z" fill="none" stroke="#9030a0" stroke-width="0.95"/>
<path d="M724.1 277.7L727.1 271.6L721.0 271.6Z" fill="none" stroke="#9030a0" stroke-width="0.95"/>
<path d="M736.0 278.0L739.1 271.9L733.0 271.9Z" fill="none" stroke="#9030a0" stroke-width="0.95"/>
<path d="M748.0 278.8L751.0 272.7L744.9 272.7Z" fill="none" stroke="#9030a0" stroke-width="0.95"/>
<path d="M759.9 280.0L763.0 273.9L756.9 273.9Z" fill="none" stroke="#9030a0" stroke-width="0.95"/>
<path d="M771.9 281.1L775.0 275.0L768.9 275.0Z" fill="none" stroke="#9030a0" stroke-width="0.95"/>
<path d="M783.9 282.8L786.9 276.7L780.8 276.7Z" fill="none" stroke="#9030a0" stroke-width="0.95"/>
<path d="M795.8 285.1L798.9 279.0L792.8 279.0Z" fill="none" stroke="#9030a0" stroke-width="0.95"/>
<path d="M807.8 285.4L810.8 279.3L804.7 279.3Z" fill="none" stroke="#9030a0" stroke-width="0.95"/>
<path d="M819.7 285.7L822.8 279.6L816.7 279.6Z" fill="none" stroke="#9030a0" stroke-width="0.95"/>
<path d="M831.7 286.8L834.8 280.7L828.7 280.7Z" fill="none" stroke="#9030a0" stroke-width="0.95"/>
<path d="M843.7 287.4L846.7 281.3L840.6 281.3Z" fill="none" stroke="#9030a0" stroke-width="0.95"/>
<path d="M855.6 288.5L858.7 282.4L852.6 282.4Z" fill="none" stroke="#9030a0" stroke-width="0.95"/>
<path d="M867.6 289.4L870.6 283.3L864.5 283.3Z" fill="none" stroke="#9030a0" stroke-width="0.95"/>
<path d="M879.5 288.8L882.6 282.7L876.5 282.7Z" fill="none" stroke="#9030a0" stroke-width="0.95"/>
<path d="M891.5 289.6L894.5 283.5L888.5 283.5Z" fill="none" stroke="#9030a0" stroke-width="0.95"/>
<path d="M903.5 290.8L906.5 284.7L900.4 284.7Z" fill="none" stroke="#9030a0" stroke-width="0.95"/>
<path d="M915.4 291.1L918.5 285.0L912.4 285.0Z" fill="none" stroke="#9030a0" stroke-width="0.95"/>
<path d="M927.4 291.3L930.4 285.2L924.3 285.2Z" fill="none" stroke="#9030a0" stroke-width="0.95"/>
<path d="M939.3 290.8L942.4 284.7L936.3 284.7Z" fill="none" stroke="#9030a0" stroke-width="0.95"/>
<path d="M951.3 289.6L954.3 283.5L948.2 283.5Z" fill="none" stroke="#9030a0" stroke-width="0.95"/>
<path d="M963.3 288.8L966.3 282.7L960.2 282.7Z" fill="none" stroke="#9030a0" stroke-width="0.95"/>
<path d="M975.2 288.2L978.3 282.1L972.2 282.1Z" fill="none" stroke="#9030a0" stroke-width="0.95"/>
<path d="M987.2 286.8L990.2 280.7L984.1 280.7Z" fill="none" stroke="#9030a0" stroke-width="0.95"/>
<path d="M999.1 285.4L1002.2 279.3L996.1 279.3Z" fill="none" stroke="#9030a0" stroke-width="0.95"/>
<path d="M1011.1 283.9L1014.2 277.8L1008.1 277.8Z" fill="none" stroke="#9030a0" stroke-width="0.95"/>
<path d="M592.5 247.3C594.5 247.8 600.5 249.5 604.5 250.2C608.4 250.9 612.4 251.1 616.4 251.6C620.4 252.1 624.4 252.8 628.4 253.0C632.4 253.3 636.4 253.2 640.3 253.0C644.3 252.9 648.3 252.5 652.3 252.2C656.3 251.8 660.3 251.5 664.3 250.7C668.2 250.0 672.2 248.7 676.2 247.9C680.2 247.0 684.2 245.9 688.2 245.6C692.2 245.3 696.2 245.8 700.1 245.9C704.1 246.0 708.1 245.9 712.1 246.2C716.1 246.5 720.1 246.9 724.1 247.9C728.0 248.9 732.0 250.7 736.0 252.2C740.0 253.6 744.0 254.9 748.0 256.4C752.0 258.0 756.0 260.0 759.9 261.6C763.9 263.1 767.9 264.4 771.9 265.8C775.9 267.2 779.9 268.8 783.9 270.1C787.8 271.4 791.8 273.0 795.8 273.8C799.8 274.6 803.8 274.6 807.8 274.9C811.8 275.3 815.8 275.3 819.7 275.8C823.7 276.3 827.7 277.1 831.7 278.1C835.7 279.0 839.7 280.4 843.7 281.5C847.6 282.5 851.6 283.5 855.6 284.3C859.6 285.1 863.6 285.7 867.6 286.3C871.6 286.9 875.6 287.3 879.5 287.7C883.5 288.2 887.5 288.6 891.5 288.9C895.5 289.1 899.5 289.2 903.5 289.4C907.4 289.6 911.4 289.9 915.4 290.0C919.4 290.1 923.4 290.0 927.4 290.0C931.4 290.0 935.4 290.1 939.3 290.0C943.3 289.9 947.3 289.8 951.3 289.4C955.3 289.1 959.3 288.7 963.3 287.7C967.2 286.8 971.2 284.8 975.2 283.7C979.2 282.7 983.2 282.3 987.2 281.5C991.2 280.7 995.2 279.7 999.1 278.9C1003.1 278.1 1008.2 277.4 1011.1 276.9C1014.0 276.4 1015.5 276.2 1016.4 276.0" stroke="#a0a050" stroke-width="1" fill="none"/>
<path d="M592.5 244.3L595.5 250.4L589.5 250.4Z" fill="none" stroke="#808020" stroke-width="0.95"/>
<path d="M604.5 247.1L607.5 253.2L601.4 253.2Z" fill="none" stroke="#808020" stroke-width="0.95"/>
<path d="M616.4 248.5L619.5 254.6L613.4 254.6Z" fill="none" stroke="#808020" stroke-width="0.95"/>
<path d="M628.4 250.0L631.4 256.1L625.3 256.1Z" fill="none" stroke="#808020" stroke-width="0.95"/>
<path d="M640.3 250.0L643.4 256.1L637.3 256.1Z" fill="none" stroke="#808020" stroke-width="0.95"/>
<path d="M652.3 249.1L655.3 255.2L649.2 255.2Z" fill="none" stroke="#808020" stroke-width="0.95"/>
<path d="M664.3 247.7L667.3 253.8L661.2 253.8Z" fill="none" stroke="#808020" stroke-width="0.95"/>
<path d="M676.2 244.8L679.3 250.9L673.2 250.9Z" fill="none" stroke="#808020" stroke-width="0.95"/>
<path d="M688.2 242.6L691.2 248.7L685.1 248.7Z" fill="none" stroke="#808020" stroke-width="0.95"/>
<path d="M700.1 242.9L703.2 249.0L697.1 249.0Z" fill="none" stroke="#808020" stroke-width="0.95"/>
<path d="M712.1 243.1L715.1 249.2L709.0 249.2Z" fill="none" stroke="#808020" stroke-width="0.95"/>
<path d="M724.1 244.8L727.1 250.9L721.0 250.9Z" fill="none" stroke="#808020" stroke-width="0.95"/>
<path d="M736.0 249.1L739.1 255.2L733.0 255.2Z" fill="none" stroke="#808020" stroke-width="0.95"/>
<path d="M748.0 253.4L751.0 259.5L744.9 259.5Z" fill="none" stroke="#808020" stroke-width="0.95"/>
<path d="M759.9 258.5L763.0 264.6L756.9 264.6Z" fill="none" stroke="#808020" stroke-width="0.95"/>
<path d="M771.9 262.8L775.0 268.9L768.9 268.9Z" fill="none" stroke="#808020" stroke-width="0.95"/>
<path d="M783.9 267.0L786.9 273.1L780.8 273.1Z" fill="none" stroke="#808020" stroke-width="0.95"/>
<path d="M795.8 270.7L798.9 276.8L792.8 276.8Z" fill="none" stroke="#808020" stroke-width="0.95"/>
<path d="M807.8 271.9L810.8 278.0L804.7 278.0Z" fill="none" stroke="#808020" stroke-width="0.95"/>
<path d="M819.7 272.7L822.8 278.8L816.7 278.8Z" fill="none" stroke="#808020" stroke-width="0.95"/>
<path d="M831.7 275.0L834.8 281.1L828.7 281.1Z" fill="none" stroke="#808020" stroke-width="0.95"/>
<path d="M843.7 278.4L846.7 284.5L840.6 284.5Z" fill="none" stroke="#808020" stroke-width="0.95"/>
<path d="M855.6 281.3L858.7 287.4L852.6 287.4Z" fill="none" stroke="#808020" stroke-width="0.95"/>
<path d="M867.6 283.3L870.6 289.4L864.5 289.4Z" fill="none" stroke="#808020" stroke-width="0.95"/>
<path d="M879.5 284.7L882.6 290.8L876.5 290.8Z" fill="none" stroke="#808020" stroke-width="0.95"/>
<path d="M891.5 285.8L894.5 291.9L888.5 291.9Z" fill="none" stroke="#808020" stroke-width="0.95"/>
<path d="M903.5 286.4L906.5 292.5L900.4 292.5Z" fill="none" stroke="#808020" stroke-width="0.95"/>
<path d="M915.4 286.9L918.5 293.1L912.4 293.1Z" fill="none" stroke="#808020" stroke-width="0.95"/>
<path d="M927.4 286.9L930.4 293.1L924.3 293.1Z" fill="none" stroke="#808020" stroke-width="0.95"/>
<path d="M939.3 286.9L942.4 293.1L936.3 293.1Z" fill="none" stroke="#808020" stroke-width="0.95"/>
<path d="M951.3 286.4L954.3 292.5L948.2 292.5Z" fill="none" stroke="#808020" stroke-width="0.95"/>
<path d="M963.3 284.7L966.3 290.8L960.2 290.8Z" fill="none" stroke="#808020" stroke-width="0.95"/>
<path d="M975.2 280.7L978.3 286.8L972.2 286.8Z" fill="none" stroke="#808020" stroke-width="0.95"/>
<path d="M987.2 278.4L990.2 284.5L984.1 284.5Z" fill="none" stroke="#808020" stroke-width="0.95"/>
<path d="M999.1 275.9L1002.2 282.0L996.1 282.0Z" fill="none" stroke="#808020" stroke-width="0.95"/>
<path d="M1011.1 273.9L1014.2 280.0L1008.1 280.0Z" fill="none" stroke="#808020" stroke-width="0.95"/>
<path d="M592.5 234.8C594.5 234.3 600.5 232.5 604.5 232.0C608.4 231.4 612.4 231.8 616.4 231.7C620.4 231.6 624.4 231.4 628.4 231.4C632.4 231.3 636.4 231.4 640.3 231.4C644.3 231.4 648.3 231.4 652.3 231.4C656.3 231.4 660.3 231.3 664.3 231.4C668.2 231.4 672.2 231.5 676.2 231.7C680.2 231.9 684.2 231.9 688.2 232.5C692.2 233.1 696.2 234.4 700.1 235.4C704.1 236.3 708.1 237.1 712.1 238.2C716.1 239.3 720.1 240.6 724.1 241.9C728.0 243.2 732.0 244.6 736.0 245.9C740.0 247.2 744.0 248.4 748.0 249.6C752.0 250.8 756.0 252.0 759.9 253.0C763.9 254.0 767.9 255.2 771.9 255.6C775.9 256.0 779.9 255.7 783.9 255.3C787.8 254.9 791.8 253.9 795.8 253.0C799.8 252.1 803.8 251.1 807.8 249.9C811.8 248.7 815.8 246.8 819.7 245.6C823.7 244.5 827.7 243.6 831.7 243.1C835.7 242.5 839.7 242.4 843.7 242.5C847.6 242.6 851.6 242.9 855.6 243.6C859.6 244.4 863.6 245.8 867.6 247.0C871.6 248.3 875.6 249.8 879.5 251.3C883.5 252.8 887.5 254.4 891.5 255.9C895.5 257.3 899.5 259.1 903.5 260.1C907.4 261.2 911.4 261.9 915.4 262.1C919.4 262.4 923.4 262.1 927.4 261.6C931.4 261.0 935.4 259.9 939.3 258.7C943.3 257.5 947.3 255.8 951.3 254.4C955.3 253.1 959.3 251.7 963.3 250.5C967.2 249.2 971.2 247.8 975.2 247.0C979.2 246.2 983.2 245.9 987.2 245.6C991.2 245.4 995.2 245.6 999.1 245.6C1003.1 245.6 1008.2 245.6 1011.1 245.6C1014.0 245.6 1015.5 245.6 1016.4 245.6" stroke="#7080d0" stroke-width="1" fill="none"/>
<rect x="589.9" y="232.2" width="5.2" height="5.2" fill="none" stroke="#4060c0" stroke-width="0.95"/>
<rect x="601.9" y="229.4" width="5.2" height="5.2" fill="none" stroke="#4060c0" stroke-width="0.95"/>
<rect x="613.8" y="229.1" width="5.2" height="5.2" fill="none" stroke="#4060c0" stroke-width="0.95"/>
<rect x="625.8" y="228.8" width="5.2" height="5.2" fill="none" stroke="#4060c0" stroke-width="0.95"/>
<rect x="637.7" y="228.8" width="5.2" height="5.2" fill="none" stroke="#4060c0" stroke-width="0.95"/>
<rect x="649.7" y="228.8" width="5.2" height="5.2" fill="none" stroke="#4060c0" stroke-width="0.95"/>
<rect x="661.7" y="228.8" width="5.2" height="5.2" fill="none" stroke="#4060c0" stroke-width="0.95"/>
<rect x="673.6" y="229.1" width="5.2" height="5.2" fill="none" stroke="#4060c0" stroke-width="0.95"/>
<rect x="685.6" y="229.9" width="5.2" height="5.2" fill="none" stroke="#4060c0" stroke-width="0.95"/>
<rect x="697.5" y="232.8" width="5.2" height="5.2" fill="none" stroke="#4060c0" stroke-width="0.95"/>
<rect x="709.5" y="235.6" width="5.2" height="5.2" fill="none" stroke="#4060c0" stroke-width="0.95"/>
<rect x="721.5" y="239.3" width="5.2" height="5.2" fill="none" stroke="#4060c0" stroke-width="0.95"/>
<rect x="733.4" y="243.3" width="5.2" height="5.2" fill="none" stroke="#4060c0" stroke-width="0.95"/>
<rect x="745.4" y="247.0" width="5.2" height="5.2" fill="none" stroke="#4060c0" stroke-width="0.95"/>
<rect x="757.3" y="250.4" width="5.2" height="5.2" fill="none" stroke="#4060c0" stroke-width="0.95"/>
<rect x="769.3" y="253.0" width="5.2" height="5.2" fill="none" stroke="#4060c0" stroke-width="0.95"/>
<rect x="781.3" y="252.7" width="5.2" height="5.2" fill="none" stroke="#4060c0" stroke-width="0.95"/>
<rect x="793.2" y="250.4" width="5.2" height="5.2" fill="none" stroke="#4060c0" stroke-width="0.95"/>
<rect x="805.2" y="247.3" width="5.2" height="5.2" fill="none" stroke="#4060c0" stroke-width="0.95"/>
<rect x="817.1" y="243.0" width="5.2" height="5.2" fill="none" stroke="#4060c0" stroke-width="0.95"/>
<rect x="829.1" y="240.5" width="5.2" height="5.2" fill="none" stroke="#4060c0" stroke-width="0.95"/>
<rect x="841.1" y="239.9" width="5.2" height="5.2" fill="none" stroke="#4060c0" stroke-width="0.95"/>
<rect x="853.0" y="241.0" width="5.2" height="5.2" fill="none" stroke="#4060c0" stroke-width="0.95"/>
<rect x="865.0" y="244.4" width="5.2" height="5.2" fill="none" stroke="#4060c0" stroke-width="0.95"/>
<rect x="876.9" y="248.7" width="5.2" height="5.2" fill="none" stroke="#4060c0" stroke-width="0.95"/>
<rect x="888.9" y="253.3" width="5.2" height="5.2" fill="none" stroke="#4060c0" stroke-width="0.95"/>
<rect x="900.9" y="257.5" width="5.2" height="5.2" fill="none" stroke="#4060c0" stroke-width="0.95"/>
<rect x="912.8" y="259.5" width="5.2" height="5.2" fill="none" stroke="#4060c0" stroke-width="0.95"/>
<rect x="924.8" y="258.9" width="5.2" height="5.2" fill="none" stroke="#4060c0" stroke-width="0.95"/>
<rect x="936.7" y="256.1" width="5.2" height="5.2" fill="none" stroke="#4060c0" stroke-width="0.95"/>
<rect x="948.7" y="251.8" width="5.2" height="5.2" fill="none" stroke="#4060c0" stroke-width="0.95"/>
<rect x="960.7" y="247.9" width="5.2" height="5.2" fill="none" stroke="#4060c0" stroke-width="0.95"/>
<rect x="972.6" y="244.4" width="5.2" height="5.2" fill="none" stroke="#4060c0" stroke-width="0.95"/>
<rect x="984.6" y="243.0" width="5.2" height="5.2" fill="none" stroke="#4060c0" stroke-width="0.95"/>
<rect x="996.5" y="243.0" width="5.2" height="5.2" fill="none" stroke="#4060c0" stroke-width="0.95"/>
<rect x="1008.5" y="243.0" width="5.2" height="5.2" fill="none" stroke="#4060c0" stroke-width="0.95"/>
<path d="M592.5 260.1C594.5 260.1 600.5 260.1 604.5 260.1C608.4 260.1 612.4 260.2 616.4 260.1C620.4 260.0 624.4 259.7 628.4 259.6C632.4 259.5 636.4 259.6 640.3 259.6C644.3 259.6 648.3 259.5 652.3 259.6C656.3 259.7 660.3 259.2 664.3 260.1C668.2 261.0 672.2 263.5 676.2 265.0C680.2 266.4 684.2 267.7 688.2 268.9C692.2 270.2 696.2 271.5 700.1 272.6C704.1 273.8 708.1 274.9 712.1 275.8C716.1 276.7 720.1 277.6 724.1 278.1C728.0 278.5 732.0 278.8 736.0 278.6C740.0 278.5 744.0 278.2 748.0 277.2C752.0 276.2 756.0 274.0 759.9 272.4C763.9 270.7 767.9 268.7 771.9 267.2C775.9 265.8 779.9 264.7 783.9 263.8C787.8 263.0 791.8 262.5 795.8 262.1C799.8 261.7 803.8 261.5 807.8 261.6C811.8 261.6 815.8 261.8 819.7 262.4C823.7 263.0 827.7 263.9 831.7 265.0C835.7 266.0 839.7 267.5 843.7 268.7C847.6 269.8 851.6 271.2 855.6 272.1C859.6 272.9 863.6 273.5 867.6 273.8C871.6 274.0 875.6 273.8 879.5 273.5C883.5 273.2 887.5 272.4 891.5 271.8C895.5 271.2 899.5 270.6 903.5 269.8C907.4 269.0 911.4 267.9 915.4 267.2C919.4 266.6 923.4 266.1 927.4 265.8C931.4 265.5 935.4 265.6 939.3 265.5C943.3 265.5 947.3 265.4 951.3 265.5C955.3 265.6 959.3 266.0 963.3 266.1C967.2 266.2 971.2 266.3 975.2 266.1C979.2 265.9 983.2 265.9 987.2 265.0C991.2 264.1 995.2 262.5 999.1 260.7C1003.1 258.9 1008.2 255.9 1011.1 254.4C1014.0 252.9 1015.5 252.1 1016.4 251.7" stroke="#4a9e74" stroke-width="1" fill="none"/>
<path d="M592.5 257.1L595.5 260.1L592.5 263.1L589.5 260.1Z" fill="none" stroke="#1f8a50" stroke-width="0.95"/>
<path d="M604.5 257.1L607.5 260.1L604.5 263.1L601.5 260.1Z" fill="none" stroke="#1f8a50" stroke-width="0.95"/>
<path d="M616.4 257.1L619.4 260.1L616.4 263.1L613.4 260.1Z" fill="none" stroke="#1f8a50" stroke-width="0.95"/>
<path d="M628.4 256.6L631.4 259.6L628.4 262.6L625.4 259.6Z" fill="none" stroke="#1f8a50" stroke-width="0.95"/>
<path d="M640.3 256.6L643.3 259.6L640.3 262.6L637.3 259.6Z" fill="none" stroke="#1f8a50" stroke-width="0.95"/>
<path d="M652.3 256.6L655.3 259.6L652.3 262.6L649.3 259.6Z" fill="none" stroke="#1f8a50" stroke-width="0.95"/>
<path d="M664.3 257.1L667.3 260.1L664.3 263.1L661.3 260.1Z" fill="none" stroke="#1f8a50" stroke-width="0.95"/>
<path d="M676.2 262.0L679.2 265.0L676.2 268.0L673.2 265.0Z" fill="none" stroke="#1f8a50" stroke-width="0.95"/>
<path d="M688.2 265.9L691.2 268.9L688.2 271.9L685.2 268.9Z" fill="none" stroke="#1f8a50" stroke-width="0.95"/>
<path d="M700.1 269.6L703.1 272.6L700.1 275.6L697.1 272.6Z" fill="none" stroke="#1f8a50" stroke-width="0.95"/>
<path d="M712.1 272.8L715.1 275.8L712.1 278.8L709.1 275.8Z" fill="none" stroke="#1f8a50" stroke-width="0.95"/>
<path d="M724.1 275.1L727.1 278.1L724.1 281.1L721.1 278.1Z" fill="none" stroke="#1f8a50" stroke-width="0.95"/>
<path d="M736.0 275.6L739.0 278.6L736.0 281.6L733.0 278.6Z" fill="none" stroke="#1f8a50" stroke-width="0.95"/>
<path d="M748.0 274.2L751.0 277.2L748.0 280.2L745.0 277.2Z" fill="none" stroke="#1f8a50" stroke-width="0.95"/>
<path d="M759.9 269.4L762.9 272.4L759.9 275.4L756.9 272.4Z" fill="none" stroke="#1f8a50" stroke-width="0.95"/>
<path d="M771.9 264.2L774.9 267.2L771.9 270.2L768.9 267.2Z" fill="none" stroke="#1f8a50" stroke-width="0.95"/>
<path d="M783.9 260.8L786.9 263.8L783.9 266.8L780.9 263.8Z" fill="none" stroke="#1f8a50" stroke-width="0.95"/>
<path d="M795.8 259.1L798.8 262.1L795.8 265.1L792.8 262.1Z" fill="none" stroke="#1f8a50" stroke-width="0.95"/>
<path d="M807.8 258.6L810.8 261.6L807.8 264.6L804.8 261.6Z" fill="none" stroke="#1f8a50" stroke-width="0.95"/>
<path d="M819.7 259.4L822.7 262.4L819.7 265.4L816.7 262.4Z" fill="none" stroke="#1f8a50" stroke-width="0.95"/>
<path d="M831.7 262.0L834.7 265.0L831.7 268.0L828.7 265.0Z" fill="none" stroke="#1f8a50" stroke-width="0.95"/>
<path d="M843.7 265.7L846.7 268.7L843.7 271.7L840.7 268.7Z" fill="none" stroke="#1f8a50" stroke-width="0.95"/>
<path d="M855.6 269.1L858.6 272.1L855.6 275.1L852.6 272.1Z" fill="none" stroke="#1f8a50" stroke-width="0.95"/>
<path d="M867.6 270.8L870.6 273.8L867.6 276.8L864.6 273.8Z" fill="none" stroke="#1f8a50" stroke-width="0.95"/>
<path d="M879.5 270.5L882.5 273.5L879.5 276.5L876.5 273.5Z" fill="none" stroke="#1f8a50" stroke-width="0.95"/>
<path d="M891.5 268.8L894.5 271.8L891.5 274.8L888.5 271.8Z" fill="none" stroke="#1f8a50" stroke-width="0.95"/>
<path d="M903.5 266.8L906.5 269.8L903.5 272.8L900.5 269.8Z" fill="none" stroke="#1f8a50" stroke-width="0.95"/>
<path d="M915.4 264.2L918.4 267.2L915.4 270.2L912.4 267.2Z" fill="none" stroke="#1f8a50" stroke-width="0.95"/>
<path d="M927.4 262.8L930.4 265.8L927.4 268.8L924.4 265.8Z" fill="none" stroke="#1f8a50" stroke-width="0.95"/>
<path d="M939.3 262.5L942.3 265.5L939.3 268.5L936.3 265.5Z" fill="none" stroke="#1f8a50" stroke-width="0.95"/>
<path d="M951.3 262.5L954.3 265.5L951.3 268.5L948.3 265.5Z" fill="none" stroke="#1f8a50" stroke-width="0.95"/>
<path d="M963.3 263.1L966.3 266.1L963.3 269.1L960.3 266.1Z" fill="none" stroke="#1f8a50" stroke-width="0.95"/>
<path d="M975.2 263.1L978.2 266.1L975.2 269.1L972.2 266.1Z" fill="none" stroke="#1f8a50" stroke-width="0.95"/>
<path d="M987.2 262.0L990.2 265.0L987.2 268.0L984.2 265.0Z" fill="none" stroke="#1f8a50" stroke-width="0.95"/>
<path d="M999.1 257.7L1002.1 260.7L999.1 263.7L996.1 260.7Z" fill="none" stroke="#1f8a50" stroke-width="0.95"/>
<path d="M1011.1 251.4L1014.1 254.4L1011.1 257.4L1008.1 254.4Z" fill="none" stroke="#1f8a50" stroke-width="0.95"/>
<path d="M592.5 243.1C594.5 243.8 600.5 245.9 604.5 247.3C608.4 248.7 612.4 250.2 616.4 251.6C620.4 253.0 624.4 254.4 628.4 255.9C632.4 257.3 636.4 258.5 640.3 260.1C644.3 261.8 648.3 263.3 652.3 265.8C656.3 268.4 660.3 272.8 664.3 275.5C668.2 278.2 672.2 280.2 676.2 282.0C680.2 283.9 684.2 285.4 688.2 286.6C692.2 287.7 696.2 288.6 700.1 288.9C704.1 289.1 708.1 288.5 712.1 288.3C716.1 288.1 720.1 288.2 724.1 287.4C728.0 286.7 732.0 285.3 736.0 284.0C740.0 282.7 744.0 281.0 748.0 279.8C752.0 278.5 756.0 277.3 759.9 276.3C763.9 275.3 767.9 274.6 771.9 273.8C775.9 272.9 779.9 271.6 783.9 271.2C787.8 270.8 791.8 270.8 795.8 271.2C799.8 271.6 803.8 273.2 807.8 273.8C811.8 274.4 815.8 274.1 819.7 274.6C823.7 275.2 827.7 276.2 831.7 276.9C835.7 277.6 839.7 278.1 843.7 278.6C847.6 279.1 851.6 279.6 855.6 280.0C859.6 280.5 863.6 280.8 867.6 281.2C871.6 281.6 875.6 282.0 879.5 282.3C883.5 282.6 887.5 282.7 891.5 282.9C895.5 283.1 899.5 283.6 903.5 283.7C907.4 283.9 911.4 283.7 915.4 283.7C919.4 283.8 923.4 284.0 927.4 284.0C931.4 284.0 935.4 284.0 939.3 283.7C943.3 283.5 947.3 283.2 951.3 282.6C955.3 282.0 959.3 281.4 963.3 280.3C967.2 279.3 971.2 278.0 975.2 276.3C979.2 274.7 983.2 272.6 987.2 270.7C991.2 268.8 995.2 266.9 999.1 265.0C1003.1 263.1 1008.2 260.6 1011.1 259.3C1014.0 257.9 1015.5 257.2 1016.4 256.8" stroke="#e0505a" stroke-width="1" fill="none"/>
<circle cx="592.5" cy="243.1" r="2.50" fill="none" stroke="#e03040" stroke-width="0.95"/>
<circle cx="604.5" cy="247.3" r="2.50" fill="none" stroke="#e03040" stroke-width="0.95"/>
<circle cx="616.4" cy="251.6" r="2.50" fill="none" stroke="#e03040" stroke-width="0.95"/>
<circle cx="628.4" cy="255.9" r="2.50" fill="none" stroke="#e03040" stroke-width="0.95"/>
<circle cx="640.3" cy="260.1" r="2.50" fill="none" stroke="#e03040" stroke-width="0.95"/>
<circle cx="652.3" cy="265.8" r="2.50" fill="none" stroke="#e03040" stroke-width="0.95"/>
<circle cx="664.3" cy="275.5" r="2.50" fill="none" stroke="#e03040" stroke-width="0.95"/>
<circle cx="676.2" cy="282.0" r="2.50" fill="none" stroke="#e03040" stroke-width="0.95"/>
<circle cx="688.2" cy="286.6" r="2.50" fill="none" stroke="#e03040" stroke-width="0.95"/>
<circle cx="700.1" cy="288.9" r="2.50" fill="none" stroke="#e03040" stroke-width="0.95"/>
<circle cx="712.1" cy="288.3" r="2.50" fill="none" stroke="#e03040" stroke-width="0.95"/>
<circle cx="724.1" cy="287.4" r="2.50" fill="none" stroke="#e03040" stroke-width="0.95"/>
<circle cx="736.0" cy="284.0" r="2.50" fill="none" stroke="#e03040" stroke-width="0.95"/>
<circle cx="748.0" cy="279.8" r="2.50" fill="none" stroke="#e03040" stroke-width="0.95"/>
<circle cx="759.9" cy="276.3" r="2.50" fill="none" stroke="#e03040" stroke-width="0.95"/>
<circle cx="771.9" cy="273.8" r="2.50" fill="none" stroke="#e03040" stroke-width="0.95"/>
<circle cx="783.9" cy="271.2" r="2.50" fill="none" stroke="#e03040" stroke-width="0.95"/>
<circle cx="795.8" cy="271.2" r="2.50" fill="none" stroke="#e03040" stroke-width="0.95"/>
<circle cx="807.8" cy="273.8" r="2.50" fill="none" stroke="#e03040" stroke-width="0.95"/>
<circle cx="819.7" cy="274.6" r="2.50" fill="none" stroke="#e03040" stroke-width="0.95"/>
<circle cx="831.7" cy="276.9" r="2.50" fill="none" stroke="#e03040" stroke-width="0.95"/>
<circle cx="843.7" cy="278.6" r="2.50" fill="none" stroke="#e03040" stroke-width="0.95"/>
<circle cx="855.6" cy="280.0" r="2.50" fill="none" stroke="#e03040" stroke-width="0.95"/>
<circle cx="867.6" cy="281.2" r="2.50" fill="none" stroke="#e03040" stroke-width="0.95"/>
<circle cx="879.5" cy="282.3" r="2.50" fill="none" stroke="#e03040" stroke-width="0.95"/>
<circle cx="891.5" cy="282.9" r="2.50" fill="none" stroke="#e03040" stroke-width="0.95"/>
<circle cx="903.5" cy="283.7" r="2.50" fill="none" stroke="#e03040" stroke-width="0.95"/>
<circle cx="915.4" cy="283.7" r="2.50" fill="none" stroke="#e03040" stroke-width="0.95"/>
<circle cx="927.4" cy="284.0" r="2.50" fill="none" stroke="#e03040" stroke-width="0.95"/>
<circle cx="939.3" cy="283.7" r="2.50" fill="none" stroke="#e03040" stroke-width="0.95"/>
<circle cx="951.3" cy="282.6" r="2.50" fill="none" stroke="#e03040" stroke-width="0.95"/>
<circle cx="963.3" cy="280.3" r="2.50" fill="none" stroke="#e03040" stroke-width="0.95"/>
<circle cx="975.2" cy="276.3" r="2.50" fill="none" stroke="#e03040" stroke-width="0.95"/>
<circle cx="987.2" cy="270.7" r="2.50" fill="none" stroke="#e03040" stroke-width="0.95"/>
<circle cx="999.1" cy="265.0" r="2.50" fill="none" stroke="#e03040" stroke-width="0.95"/>
<circle cx="1011.1" cy="259.3" r="2.50" fill="none" stroke="#e03040" stroke-width="0.95"/>
<path d="M592.5 213.2C594.5 219.4 600.5 239.8 604.5 250.5C608.4 261.1 612.4 270.8 616.4 277.2C620.4 283.6 624.4 287.4 628.4 288.9C632.4 290.3 636.4 287.4 640.3 285.7C644.3 284.1 648.3 282.5 652.3 278.9C656.3 275.3 660.3 269.6 664.3 264.1C668.2 258.6 672.2 252.6 676.2 245.9C680.2 239.2 684.2 231.4 688.2 224.0C692.2 216.6 696.2 212.2 700.1 201.5C704.1 190.9 708.1 172.7 712.1 160.0C716.1 147.2 720.1 135.7 724.1 125.0C728.0 114.3 732.0 104.9 736.0 95.7C740.0 86.5 744.0 77.5 748.0 69.8C752.0 62.1 756.0 54.6 759.9 49.3C763.9 44.0 767.9 40.9 771.9 38.2C775.9 35.6 779.9 33.2 783.9 33.4C787.8 33.5 791.8 35.6 795.8 39.1C799.8 42.5 803.8 47.7 807.8 54.1C811.8 60.6 815.8 69.0 819.7 77.8C823.7 86.5 827.7 96.6 831.7 106.8C835.7 117.0 839.7 128.6 843.7 138.9C847.6 149.3 851.6 159.6 855.6 168.8C859.6 178.0 863.6 186.8 867.6 194.1C871.6 201.4 875.6 207.4 879.5 212.6C883.5 217.8 887.5 222.0 891.5 225.1C895.5 228.3 899.5 230.2 903.5 231.4C907.4 232.6 911.4 232.6 915.4 232.5C919.4 232.4 923.4 231.5 927.4 230.8C931.4 230.1 935.4 229.2 939.3 228.3C943.3 227.3 947.3 225.8 951.3 225.1C955.3 224.5 959.3 224.3 963.3 224.3C967.2 224.2 971.2 224.3 975.2 224.8C979.2 225.4 983.2 226.2 987.2 227.4C991.2 228.6 995.2 230.2 999.1 232.0C1003.1 233.7 1008.2 236.5 1011.1 237.9C1014.0 239.4 1015.5 240.1 1016.4 240.6" stroke="#404078" stroke-width="1" fill="none"/>
<rect x="589.9" y="210.5" width="5.3" height="5.3" fill="none" stroke="#404080" stroke-width="1"/><path d="M589.9 213.2H595.1M592.5 210.5V215.8" stroke="#404080" stroke-width="0.8"/>
<rect x="601.8" y="247.8" width="5.3" height="5.3" fill="none" stroke="#404080" stroke-width="1"/><path d="M601.8 250.5H607.1M604.5 247.8V253.1" stroke="#404080" stroke-width="0.8"/>
<rect x="613.8" y="274.5" width="5.3" height="5.3" fill="none" stroke="#404080" stroke-width="1"/><path d="M613.8 277.2H619.1M616.4 274.5V279.8" stroke="#404080" stroke-width="0.8"/>
<rect x="625.7" y="286.2" width="5.3" height="5.3" fill="none" stroke="#404080" stroke-width="1"/><path d="M625.7 288.9H631.0M628.4 286.2V291.5" stroke="#404080" stroke-width="0.8"/>
<rect x="637.7" y="283.1" width="5.3" height="5.3" fill="none" stroke="#404080" stroke-width="1"/><path d="M637.7 285.7H643.0M640.3 283.1V288.4" stroke="#404080" stroke-width="0.8"/>
<rect x="649.6" y="276.3" width="5.3" height="5.3" fill="none" stroke="#404080" stroke-width="1"/><path d="M649.6 278.9H654.9M652.3 276.3V281.6" stroke="#404080" stroke-width="0.8"/>
<rect x="661.6" y="261.5" width="5.3" height="5.3" fill="none" stroke="#404080" stroke-width="1"/><path d="M661.6 264.1H666.9M664.3 261.5V266.8" stroke="#404080" stroke-width="0.8"/>
<rect x="673.6" y="243.3" width="5.3" height="5.3" fill="none" stroke="#404080" stroke-width="1"/><path d="M673.6 245.9H678.9M676.2 243.3V248.6" stroke="#404080" stroke-width="0.8"/>
<rect x="685.5" y="221.3" width="5.3" height="5.3" fill="none" stroke="#404080" stroke-width="1"/><path d="M685.5 224.0H690.8M688.2 221.3V226.6" stroke="#404080" stroke-width="0.8"/>
<rect x="697.5" y="198.9" width="5.3" height="5.3" fill="none" stroke="#404080" stroke-width="1"/><path d="M697.5 201.5H702.8M700.1 198.9V204.2" stroke="#404080" stroke-width="0.8"/>
<rect x="709.4" y="157.3" width="5.3" height="5.3" fill="none" stroke="#404080" stroke-width="1"/><path d="M709.4 160.0H714.7M712.1 157.3V162.6" stroke="#404080" stroke-width="0.8"/>
<rect x="721.4" y="122.3" width="5.3" height="5.3" fill="none" stroke="#404080" stroke-width="1"/><path d="M721.4 125.0H726.7M724.1 122.3V127.6" stroke="#404080" stroke-width="0.8"/>
<rect x="733.4" y="93.0" width="5.3" height="5.3" fill="none" stroke="#404080" stroke-width="1"/><path d="M733.4 95.7H738.7M736.0 93.0V98.3" stroke="#404080" stroke-width="0.8"/>
<rect x="745.3" y="67.1" width="5.3" height="5.3" fill="none" stroke="#404080" stroke-width="1"/><path d="M745.3 69.8H750.6M748.0 67.1V72.4" stroke="#404080" stroke-width="0.8"/>
<rect x="757.3" y="46.7" width="5.3" height="5.3" fill="none" stroke="#404080" stroke-width="1"/><path d="M757.3 49.3H762.6M759.9 46.7V52.0" stroke="#404080" stroke-width="0.8"/>
<rect x="769.3" y="35.6" width="5.3" height="5.3" fill="none" stroke="#404080" stroke-width="1"/><path d="M769.3 38.2H774.6M771.9 35.6V40.9" stroke="#404080" stroke-width="0.8"/>
<rect x="781.2" y="30.7" width="5.3" height="5.3" fill="none" stroke="#404080" stroke-width="1"/><path d="M781.2 33.4H786.5M783.9 30.7V36.0" stroke="#404080" stroke-width="0.8"/>
<rect x="793.2" y="36.4" width="5.3" height="5.3" fill="none" stroke="#404080" stroke-width="1"/><path d="M793.2 39.1H798.5M795.8 36.4V41.7" stroke="#404080" stroke-width="0.8"/>
<rect x="805.1" y="51.5" width="5.3" height="5.3" fill="none" stroke="#404080" stroke-width="1"/><path d="M805.1 54.1H810.4M807.8 51.5V56.8" stroke="#404080" stroke-width="0.8"/>
<rect x="817.1" y="75.1" width="5.3" height="5.3" fill="none" stroke="#404080" stroke-width="1"/><path d="M817.1 77.8H822.4M819.7 75.1V80.4" stroke="#404080" stroke-width="0.8"/>
<rect x="829.1" y="104.1" width="5.3" height="5.3" fill="none" stroke="#404080" stroke-width="1"/><path d="M829.1 106.8H834.4M831.7 104.1V109.4" stroke="#404080" stroke-width="0.8"/>
<rect x="841.0" y="136.3" width="5.3" height="5.3" fill="none" stroke="#404080" stroke-width="1"/><path d="M841.0 138.9H846.3M843.7 136.3V141.6" stroke="#404080" stroke-width="0.8"/>
<rect x="853.0" y="166.2" width="5.3" height="5.3" fill="none" stroke="#404080" stroke-width="1"/><path d="M853.0 168.8H858.3M855.6 166.2V171.5" stroke="#404080" stroke-width="0.8"/>
<rect x="864.9" y="191.5" width="5.3" height="5.3" fill="none" stroke="#404080" stroke-width="1"/><path d="M864.9 194.1H870.2M867.6 191.5V196.8" stroke="#404080" stroke-width="0.8"/>
<rect x="876.9" y="210.0" width="5.3" height="5.3" fill="none" stroke="#404080" stroke-width="1"/><path d="M876.9 212.6H882.2M879.5 210.0V215.3" stroke="#404080" stroke-width="0.8"/>
<rect x="888.9" y="222.5" width="5.3" height="5.3" fill="none" stroke="#404080" stroke-width="1"/><path d="M888.9 225.1H894.1M891.5 222.5V227.8" stroke="#404080" stroke-width="0.8"/>
<rect x="900.8" y="228.7" width="5.3" height="5.3" fill="none" stroke="#404080" stroke-width="1"/><path d="M900.8 231.4H906.1M903.5 228.7V234.0" stroke="#404080" stroke-width="0.8"/>
<rect x="912.8" y="229.9" width="5.3" height="5.3" fill="none" stroke="#404080" stroke-width="1"/><path d="M912.8 232.5H918.1M915.4 229.9V235.2" stroke="#404080" stroke-width="0.8"/>
<rect x="924.7" y="228.2" width="5.3" height="5.3" fill="none" stroke="#404080" stroke-width="1"/><path d="M924.7 230.8H930.0M927.4 228.2V233.5" stroke="#404080" stroke-width="0.8"/>
<rect x="936.7" y="225.6" width="5.3" height="5.3" fill="none" stroke="#404080" stroke-width="1"/><path d="M936.7 228.3H942.0M939.3 225.6V230.9" stroke="#404080" stroke-width="0.8"/>
<rect x="948.6" y="222.5" width="5.3" height="5.3" fill="none" stroke="#404080" stroke-width="1"/><path d="M948.6 225.1H953.9M951.3 222.5V227.8" stroke="#404080" stroke-width="0.8"/>
<rect x="960.6" y="221.6" width="5.3" height="5.3" fill="none" stroke="#404080" stroke-width="1"/><path d="M960.6 224.3H965.9M963.3 221.6V226.9" stroke="#404080" stroke-width="0.8"/>
<rect x="972.6" y="222.2" width="5.3" height="5.3" fill="none" stroke="#404080" stroke-width="1"/><path d="M972.6 224.8H977.9M975.2 222.2V227.5" stroke="#404080" stroke-width="0.8"/>
<rect x="984.5" y="224.8" width="5.3" height="5.3" fill="none" stroke="#404080" stroke-width="1"/><path d="M984.5 227.4H989.8M987.2 224.8V230.1" stroke="#404080" stroke-width="0.8"/>
<rect x="996.5" y="229.3" width="5.3" height="5.3" fill="none" stroke="#404080" stroke-width="1"/><path d="M996.5 232.0H1001.8M999.1 229.3V234.6" stroke="#404080" stroke-width="0.8"/>
<rect x="1008.5" y="235.3" width="5.3" height="5.3" fill="none" stroke="#404080" stroke-width="1"/><path d="M1008.5 237.9H1013.8M1011.1 235.3V240.6" stroke="#404080" stroke-width="0.8"/>
<path d="M592.5 251.9C594.5 253.3 600.5 257.9 604.5 260.1C608.4 262.3 612.4 263.7 616.4 265.0C620.4 266.2 624.4 267.4 628.4 267.5C632.4 267.7 636.4 267.3 640.3 265.8C644.3 264.3 648.3 261.7 652.3 258.4C656.3 255.1 660.3 250.8 664.3 245.9C668.2 241.0 672.2 235.7 676.2 228.8C680.2 222.0 684.2 213.4 688.2 204.7C692.2 195.9 696.2 186.1 700.1 176.2C704.1 166.3 708.1 156.1 712.1 145.5C716.1 134.8 720.1 122.8 724.1 112.2C728.0 101.6 732.0 91.3 736.0 81.7C740.0 72.2 744.0 63.2 748.0 55.0C752.0 46.8 756.0 38.4 759.9 32.5C763.9 26.6 767.9 22.8 771.9 19.7C775.9 16.6 779.9 14.5 783.9 14.0C787.8 13.6 791.8 14.7 795.8 17.2C799.8 19.6 803.8 23.9 807.8 28.8C811.8 33.8 815.8 40.3 819.7 47.0C823.7 53.8 827.7 61.5 831.7 69.2C835.7 77.0 839.7 85.9 843.7 93.7C847.6 101.5 851.6 109.0 855.6 116.2C859.6 123.3 863.6 130.5 867.6 136.7C871.6 142.8 875.6 148.2 879.5 152.9C883.5 157.6 887.5 161.5 891.5 164.8C895.5 168.1 899.5 170.7 903.5 172.8C907.4 174.8 911.4 176.0 915.4 177.1C919.4 178.1 923.4 178.8 927.4 179.3C931.4 179.9 935.4 179.9 939.3 180.2C943.3 180.4 947.3 180.4 951.3 180.8C955.3 181.1 959.3 181.6 963.3 182.2C967.2 182.7 971.2 183.4 975.2 184.2C979.2 184.9 983.2 185.8 987.2 186.7C991.2 187.6 995.2 188.6 999.1 189.6C1003.1 190.6 1008.2 191.9 1011.1 192.7C1014.0 193.5 1015.5 193.9 1016.4 194.1" stroke="#30a0a0" stroke-width="1" fill="none"/>
<rect x="589.9" y="249.2" width="5.3" height="5.3" fill="none" stroke="#2a9a9a" stroke-width="1.1"/><circle cx="592.5" cy="251.9" r="1.33" fill="none" stroke="#2a9a9a" stroke-width="0.8"/>
<rect x="601.8" y="257.5" width="5.3" height="5.3" fill="none" stroke="#2a9a9a" stroke-width="1.1"/><circle cx="604.5" cy="260.1" r="1.33" fill="none" stroke="#2a9a9a" stroke-width="0.8"/>
<rect x="613.8" y="262.3" width="5.3" height="5.3" fill="none" stroke="#2a9a9a" stroke-width="1.1"/><circle cx="616.4" cy="265.0" r="1.33" fill="none" stroke="#2a9a9a" stroke-width="0.8"/>
<rect x="625.7" y="264.9" width="5.3" height="5.3" fill="none" stroke="#2a9a9a" stroke-width="1.1"/><circle cx="628.4" cy="267.5" r="1.33" fill="none" stroke="#2a9a9a" stroke-width="0.8"/>
<rect x="637.7" y="263.2" width="5.3" height="5.3" fill="none" stroke="#2a9a9a" stroke-width="1.1"/><circle cx="640.3" cy="265.8" r="1.33" fill="none" stroke="#2a9a9a" stroke-width="0.8"/>
<rect x="649.6" y="255.8" width="5.3" height="5.3" fill="none" stroke="#2a9a9a" stroke-width="1.1"/><circle cx="652.3" cy="258.4" r="1.33" fill="none" stroke="#2a9a9a" stroke-width="0.8"/>
<rect x="661.6" y="243.3" width="5.3" height="5.3" fill="none" stroke="#2a9a9a" stroke-width="1.1"/><circle cx="664.3" cy="245.9" r="1.33" fill="none" stroke="#2a9a9a" stroke-width="0.8"/>
<rect x="673.6" y="226.2" width="5.3" height="5.3" fill="none" stroke="#2a9a9a" stroke-width="1.1"/><circle cx="676.2" cy="228.8" r="1.33" fill="none" stroke="#2a9a9a" stroke-width="0.8"/>
<rect x="685.5" y="202.0" width="5.3" height="5.3" fill="none" stroke="#2a9a9a" stroke-width="1.1"/><circle cx="688.2" cy="204.7" r="1.33" fill="none" stroke="#2a9a9a" stroke-width="0.8"/>
<rect x="697.5" y="173.5" width="5.3" height="5.3" fill="none" stroke="#2a9a9a" stroke-width="1.1"/><circle cx="700.1" cy="176.2" r="1.33" fill="none" stroke="#2a9a9a" stroke-width="0.8"/>
<rect x="709.4" y="142.8" width="5.3" height="5.3" fill="none" stroke="#2a9a9a" stroke-width="1.1"/><circle cx="712.1" cy="145.5" r="1.33" fill="none" stroke="#2a9a9a" stroke-width="0.8"/>
<rect x="721.4" y="109.5" width="5.3" height="5.3" fill="none" stroke="#2a9a9a" stroke-width="1.1"/><circle cx="724.1" cy="112.2" r="1.33" fill="none" stroke="#2a9a9a" stroke-width="0.8"/>
<rect x="733.4" y="79.1" width="5.3" height="5.3" fill="none" stroke="#2a9a9a" stroke-width="1.1"/><circle cx="736.0" cy="81.7" r="1.33" fill="none" stroke="#2a9a9a" stroke-width="0.8"/>
<rect x="745.3" y="52.4" width="5.3" height="5.3" fill="none" stroke="#2a9a9a" stroke-width="1.1"/><circle cx="748.0" cy="55.0" r="1.33" fill="none" stroke="#2a9a9a" stroke-width="0.8"/>
<rect x="757.3" y="29.9" width="5.3" height="5.3" fill="none" stroke="#2a9a9a" stroke-width="1.1"/><circle cx="759.9" cy="32.5" r="1.33" fill="none" stroke="#2a9a9a" stroke-width="0.8"/>
<rect x="769.3" y="17.1" width="5.3" height="5.3" fill="none" stroke="#2a9a9a" stroke-width="1.1"/><circle cx="771.9" cy="19.7" r="1.33" fill="none" stroke="#2a9a9a" stroke-width="0.8"/>
<rect x="781.2" y="11.4" width="5.3" height="5.3" fill="none" stroke="#2a9a9a" stroke-width="1.1"/><circle cx="783.9" cy="14.0" r="1.33" fill="none" stroke="#2a9a9a" stroke-width="0.8"/>
<rect x="793.2" y="14.5" width="5.3" height="5.3" fill="none" stroke="#2a9a9a" stroke-width="1.1"/><circle cx="795.8" cy="17.2" r="1.33" fill="none" stroke="#2a9a9a" stroke-width="0.8"/>
<rect x="805.1" y="26.2" width="5.3" height="5.3" fill="none" stroke="#2a9a9a" stroke-width="1.1"/><circle cx="807.8" cy="28.8" r="1.33" fill="none" stroke="#2a9a9a" stroke-width="0.8"/>
<rect x="817.1" y="44.4" width="5.3" height="5.3" fill="none" stroke="#2a9a9a" stroke-width="1.1"/><circle cx="819.7" cy="47.0" r="1.33" fill="none" stroke="#2a9a9a" stroke-width="0.8"/>
<rect x="829.1" y="66.6" width="5.3" height="5.3" fill="none" stroke="#2a9a9a" stroke-width="1.1"/><circle cx="831.7" cy="69.2" r="1.33" fill="none" stroke="#2a9a9a" stroke-width="0.8"/>
<rect x="841.0" y="91.0" width="5.3" height="5.3" fill="none" stroke="#2a9a9a" stroke-width="1.1"/><circle cx="843.7" cy="93.7" r="1.33" fill="none" stroke="#2a9a9a" stroke-width="0.8"/>
<rect x="853.0" y="113.5" width="5.3" height="5.3" fill="none" stroke="#2a9a9a" stroke-width="1.1"/><circle cx="855.6" cy="116.2" r="1.33" fill="none" stroke="#2a9a9a" stroke-width="0.8"/>
<rect x="864.9" y="134.0" width="5.3" height="5.3" fill="none" stroke="#2a9a9a" stroke-width="1.1"/><circle cx="867.6" cy="136.7" r="1.33" fill="none" stroke="#2a9a9a" stroke-width="0.8"/>
<rect x="876.9" y="150.2" width="5.3" height="5.3" fill="none" stroke="#2a9a9a" stroke-width="1.1"/><circle cx="879.5" cy="152.9" r="1.33" fill="none" stroke="#2a9a9a" stroke-width="0.8"/>
<rect x="888.9" y="162.2" width="5.3" height="5.3" fill="none" stroke="#2a9a9a" stroke-width="1.1"/><circle cx="891.5" cy="164.8" r="1.33" fill="none" stroke="#2a9a9a" stroke-width="0.8"/>
<rect x="900.8" y="170.1" width="5.3" height="5.3" fill="none" stroke="#2a9a9a" stroke-width="1.1"/><circle cx="903.5" cy="172.8" r="1.33" fill="none" stroke="#2a9a9a" stroke-width="0.8"/>
<rect x="912.8" y="174.4" width="5.3" height="5.3" fill="none" stroke="#2a9a9a" stroke-width="1.1"/><circle cx="915.4" cy="177.1" r="1.33" fill="none" stroke="#2a9a9a" stroke-width="0.8"/>
<rect x="924.7" y="176.7" width="5.3" height="5.3" fill="none" stroke="#2a9a9a" stroke-width="1.1"/><circle cx="927.4" cy="179.3" r="1.33" fill="none" stroke="#2a9a9a" stroke-width="0.8"/>
<rect x="936.7" y="177.5" width="5.3" height="5.3" fill="none" stroke="#2a9a9a" stroke-width="1.1"/><circle cx="939.3" cy="180.2" r="1.33" fill="none" stroke="#2a9a9a" stroke-width="0.8"/>
<rect x="948.6" y="178.1" width="5.3" height="5.3" fill="none" stroke="#2a9a9a" stroke-width="1.1"/><circle cx="951.3" cy="180.8" r="1.33" fill="none" stroke="#2a9a9a" stroke-width="0.8"/>
<rect x="960.6" y="179.5" width="5.3" height="5.3" fill="none" stroke="#2a9a9a" stroke-width="1.1"/><circle cx="963.3" cy="182.2" r="1.33" fill="none" stroke="#2a9a9a" stroke-width="0.8"/>
<rect x="972.6" y="181.5" width="5.3" height="5.3" fill="none" stroke="#2a9a9a" stroke-width="1.1"/><circle cx="975.2" cy="184.2" r="1.33" fill="none" stroke="#2a9a9a" stroke-width="0.8"/>
<rect x="984.5" y="184.1" width="5.3" height="5.3" fill="none" stroke="#2a9a9a" stroke-width="1.1"/><circle cx="987.2" cy="186.7" r="1.33" fill="none" stroke="#2a9a9a" stroke-width="0.8"/>
<rect x="996.5" y="186.9" width="5.3" height="5.3" fill="none" stroke="#2a9a9a" stroke-width="1.1"/><circle cx="999.1" cy="189.6" r="1.33" fill="none" stroke="#2a9a9a" stroke-width="0.8"/>
<rect x="1008.5" y="190.1" width="5.3" height="5.3" fill="none" stroke="#2a9a9a" stroke-width="1.1"/><circle cx="1011.1" cy="192.7" r="1.33" fill="none" stroke="#2a9a9a" stroke-width="0.8"/>
<path d="M592.5 242.2C594.5 242.6 600.5 243.7 604.5 244.8C608.4 245.9 612.4 247.4 616.4 248.7C620.4 250.1 624.4 251.6 628.4 252.7C632.4 253.8 636.4 255.4 640.3 255.3C644.3 255.1 648.3 254.1 652.3 251.9C656.3 249.7 660.3 246.4 664.3 242.2C668.2 238.0 672.2 233.5 676.2 226.8C680.2 220.2 684.2 211.1 688.2 202.4C692.2 193.6 696.2 184.0 700.1 174.2C704.1 164.4 708.1 154.2 712.1 143.5C716.1 132.8 720.1 120.6 724.1 109.9C728.0 99.2 732.0 88.7 736.0 79.2C740.0 69.7 744.0 60.9 748.0 52.7C752.0 44.5 756.0 36.3 759.9 30.0C763.9 23.7 767.9 18.9 771.9 14.9C775.9 10.9 779.9 7.4 783.9 6.1C787.8 4.7 791.8 5.1 795.8 6.9C799.8 8.8 803.8 12.8 807.8 17.2C811.8 21.5 815.8 27.0 819.7 33.1C823.7 39.2 827.7 46.5 831.7 53.9C835.7 61.2 839.7 69.5 843.7 77.2C847.6 84.9 851.6 92.5 855.6 100.0C859.6 107.4 863.6 115.3 867.6 122.1C871.6 129.0 875.6 135.6 879.5 141.2C883.5 146.8 887.5 151.7 891.5 155.7C895.5 159.7 899.5 162.8 903.5 165.4C907.4 168.0 911.4 170.1 915.4 171.4C919.4 172.6 923.4 172.7 927.4 172.8C931.4 172.8 935.4 172.2 939.3 171.6C943.3 171.1 947.3 170.3 951.3 169.7C955.3 169.0 959.3 168.2 963.3 167.9C967.2 167.7 971.2 167.5 975.2 167.9C979.2 168.4 983.2 169.8 987.2 170.8C991.2 171.8 995.2 172.7 999.1 174.2C1003.1 175.7 1008.2 178.5 1011.1 179.9C1014.0 181.3 1015.5 182.0 1016.4 182.4" stroke="#a050b8" stroke-width="1" fill="none"/>
<path d="M592.5 245.6L595.9 238.8L589.1 238.8Z" fill="#6c1080"/>
<path d="M604.5 248.2L607.9 241.4L601.1 241.4Z" fill="#6c1080"/>
<path d="M616.4 252.1L619.8 245.3L613.0 245.3Z" fill="#6c1080"/>
<path d="M628.4 256.1L631.8 249.3L625.0 249.3Z" fill="#6c1080"/>
<path d="M640.3 258.7L643.7 251.9L636.9 251.9Z" fill="#6c1080"/>
<path d="M652.3 255.3L655.7 248.5L648.9 248.5Z" fill="#6c1080"/>
<path d="M664.3 245.6L667.7 238.8L660.9 238.8Z" fill="#6c1080"/>
<path d="M676.2 230.2L679.6 223.4L672.8 223.4Z" fill="#6c1080"/>
<path d="M688.2 205.8L691.6 199.0L684.8 199.0Z" fill="#6c1080"/>
<path d="M700.1 177.6L703.5 170.8L696.7 170.8Z" fill="#6c1080"/>
<path d="M712.1 146.9L715.5 140.1L708.7 140.1Z" fill="#6c1080"/>
<path d="M724.1 113.3L727.5 106.5L720.7 106.5Z" fill="#6c1080"/>
<path d="M736.0 82.6L739.4 75.8L732.6 75.8Z" fill="#6c1080"/>
<path d="M748.0 56.1L751.4 49.3L744.6 49.3Z" fill="#6c1080"/>
<path d="M759.9 33.4L763.3 26.6L756.5 26.6Z" fill="#6c1080"/>
<path d="M771.9 18.3L775.3 11.5L768.5 11.5Z" fill="#6c1080"/>
<path d="M783.9 9.5L787.3 2.7L780.5 2.7Z" fill="#6c1080"/>
<path d="M795.8 10.3L799.2 3.5L792.4 3.5Z" fill="#6c1080"/>
<path d="M807.8 20.6L811.2 13.8L804.4 13.8Z" fill="#6c1080"/>
<path d="M819.7 36.5L823.1 29.7L816.3 29.7Z" fill="#6c1080"/>
<path d="M831.7 57.3L835.1 50.5L828.3 50.5Z" fill="#6c1080"/>
<path d="M843.7 80.6L847.1 73.8L840.3 73.8Z" fill="#6c1080"/>
<path d="M855.6 103.4L859.0 96.6L852.2 96.6Z" fill="#6c1080"/>
<path d="M867.6 125.5L871.0 118.7L864.2 118.7Z" fill="#6c1080"/>
<path d="M879.5 144.6L882.9 137.8L876.1 137.8Z" fill="#6c1080"/>
<path d="M891.5 159.1L894.9 152.3L888.1 152.3Z" fill="#6c1080"/>
<path d="M903.5 168.8L906.9 162.0L900.1 162.0Z" fill="#6c1080"/>
<path d="M915.4 174.8L918.8 168.0L912.0 168.0Z" fill="#6c1080"/>
<path d="M927.4 176.2L930.8 169.4L924.0 169.4Z" fill="#6c1080"/>
<path d="M939.3 175.0L942.7 168.2L935.9 168.2Z" fill="#6c1080"/>
<path d="M951.3 173.1L954.7 166.3L947.9 166.3Z" fill="#6c1080"/>
<path d="M963.3 171.3L966.7 164.5L959.9 164.5Z" fill="#6c1080"/>
<path d="M975.2 171.3L978.6 164.5L971.8 164.5Z" fill="#6c1080"/>
<path d="M987.2 174.2L990.6 167.4L983.8 167.4Z" fill="#6c1080"/>
<path d="M999.1 177.6L1002.5 170.8L995.7 170.8Z" fill="#6c1080"/>
<path d="M1011.1 183.3L1014.5 176.5L1007.7 176.5Z" fill="#6c1080"/>
<path d="M592.5 186.2C594.5 187.3 600.5 191.1 604.5 193.3C608.4 195.5 612.4 197.0 616.4 199.2C620.4 201.5 624.4 204.7 628.4 206.9C632.4 209.2 636.4 211.5 640.3 212.6C644.3 213.7 648.3 214.2 652.3 213.5C656.3 212.7 660.3 211.1 664.3 208.1C668.2 205.0 672.2 200.2 676.2 195.0C680.2 189.8 684.2 183.5 688.2 176.8C692.2 170.0 696.2 162.3 700.1 154.6C704.1 146.8 708.1 138.6 712.1 130.4C716.1 122.2 720.1 113.7 724.1 105.4C728.0 97.1 732.0 88.8 736.0 80.6C740.0 72.4 744.0 63.6 748.0 56.1C752.0 48.6 756.0 42.0 759.9 35.7C763.9 29.4 767.9 22.9 771.9 18.3C775.9 13.8 779.9 10.4 783.9 8.3C787.8 6.3 791.8 5.4 795.8 6.1C799.8 6.8 803.8 9.8 807.8 12.6C811.8 15.4 815.8 18.3 819.7 22.9C823.7 27.5 827.7 34.0 831.7 40.2C835.7 46.5 839.7 53.5 843.7 60.4C847.6 67.3 851.6 74.7 855.6 81.5C859.6 88.2 863.6 94.7 867.6 100.8C871.6 106.9 875.6 113.1 879.5 118.2C883.5 123.2 887.5 127.6 891.5 131.2C895.5 134.9 899.5 137.7 903.5 140.1C907.4 142.5 911.4 144.1 915.4 145.8C919.4 147.4 923.4 148.8 927.4 149.7C931.4 150.7 935.4 150.8 939.3 151.4C943.3 152.1 947.3 152.9 951.3 153.4C955.3 154.0 959.3 154.2 963.3 154.9C967.2 155.5 971.2 156.4 975.2 157.4C979.2 158.4 983.2 159.5 987.2 160.8C991.2 162.2 995.2 163.9 999.1 165.7C1003.1 167.4 1008.2 170.0 1011.1 171.4C1014.0 172.7 1015.5 173.5 1016.4 173.9" stroke="#b4b47c" stroke-width="1" fill="none"/>
<path d="M592.5 182.8L595.9 189.6L589.1 189.6Z" fill="#757520"/>
<path d="M604.5 189.9L607.9 196.7L601.1 196.7Z" fill="#757520"/>
<path d="M616.4 195.8L619.8 202.6L613.0 202.6Z" fill="#757520"/>
<path d="M628.4 203.5L631.8 210.3L625.0 210.3Z" fill="#757520"/>
<path d="M640.3 209.2L643.7 216.0L636.9 216.0Z" fill="#757520"/>
<path d="M652.3 210.1L655.7 216.9L648.9 216.9Z" fill="#757520"/>
<path d="M664.3 204.7L667.7 211.5L660.9 211.5Z" fill="#757520"/>
<path d="M676.2 191.6L679.6 198.4L672.8 198.4Z" fill="#757520"/>
<path d="M688.2 173.4L691.6 180.2L684.8 180.2Z" fill="#757520"/>
<path d="M700.1 151.2L703.5 158.0L696.7 158.0Z" fill="#757520"/>
<path d="M712.1 127.0L715.5 133.8L708.7 133.8Z" fill="#757520"/>
<path d="M724.1 102.0L727.5 108.8L720.7 108.8Z" fill="#757520"/>
<path d="M736.0 77.2L739.4 84.0L732.6 84.0Z" fill="#757520"/>
<path d="M748.0 52.7L751.4 59.5L744.6 59.5Z" fill="#757520"/>
<path d="M759.9 32.3L763.3 39.1L756.5 39.1Z" fill="#757520"/>
<path d="M771.9 14.9L775.3 21.7L768.5 21.7Z" fill="#757520"/>
<path d="M783.9 4.9L787.3 11.7L780.5 11.7Z" fill="#757520"/>
<path d="M795.8 2.7L799.2 9.5L792.4 9.5Z" fill="#757520"/>
<path d="M807.8 9.2L811.2 16.0L804.4 16.0Z" fill="#757520"/>
<path d="M819.7 19.5L823.1 26.3L816.3 26.3Z" fill="#757520"/>
<path d="M831.7 36.8L835.1 43.6L828.3 43.6Z" fill="#757520"/>
<path d="M843.7 57.0L847.1 63.8L840.3 63.8Z" fill="#757520"/>
<path d="M855.6 78.1L859.0 84.9L852.2 84.9Z" fill="#757520"/>
<path d="M867.6 97.4L871.0 104.2L864.2 104.2Z" fill="#757520"/>
<path d="M879.5 114.8L882.9 121.6L876.1 121.6Z" fill="#757520"/>
<path d="M891.5 127.8L894.9 134.6L888.1 134.6Z" fill="#757520"/>
<path d="M903.5 136.7L906.9 143.5L900.1 143.5Z" fill="#757520"/>
<path d="M915.4 142.4L918.8 149.2L912.0 149.2Z" fill="#757520"/>
<path d="M927.4 146.3L930.8 153.1L924.0 153.1Z" fill="#757520"/>
<path d="M939.3 148.0L942.7 154.8L935.9 154.8Z" fill="#757520"/>
<path d="M951.3 150.0L954.7 156.8L947.9 156.8Z" fill="#757520"/>
<path d="M963.3 151.5L966.7 158.3L959.9 158.3Z" fill="#757520"/>
<path d="M975.2 154.0L978.6 160.8L971.8 160.8Z" fill="#757520"/>
<path d="M987.2 157.4L990.6 164.2L983.8 164.2Z" fill="#757520"/>
<path d="M999.1 162.3L1002.5 169.1L995.7 169.1Z" fill="#757520"/>
<path d="M1011.1 168.0L1014.5 174.8L1007.7 174.8Z" fill="#757520"/>
<path d="M592.5 209.8C594.5 210.1 600.5 210.9 604.5 211.5C608.4 212.1 612.4 212.6 616.4 213.5C620.4 214.4 624.4 216.1 628.4 216.9C632.4 217.7 636.4 218.2 640.3 218.3C644.3 218.4 648.3 218.4 652.3 217.5C656.3 216.5 660.3 215.2 664.3 212.3C668.2 209.4 672.2 204.9 676.2 200.1C680.2 195.3 684.2 189.9 688.2 183.6C692.2 177.3 696.2 169.8 700.1 162.3C704.1 154.8 708.1 147.0 712.1 138.6C716.1 130.3 720.1 120.4 724.1 112.2C728.0 103.9 732.0 97.3 736.0 89.1C740.0 81.0 744.0 71.2 748.0 63.5C752.0 55.9 756.0 49.6 759.9 43.1C763.9 36.5 767.9 29.6 771.9 24.3C775.9 18.9 779.9 13.9 783.9 10.9C787.8 7.9 791.8 6.1 795.8 6.1C799.8 6.0 803.8 8.3 807.8 10.6C811.8 12.9 815.8 16.2 819.7 20.0C823.7 23.9 827.7 28.8 831.7 33.7C835.7 38.5 839.7 44.3 843.7 49.3C847.6 54.3 851.6 59.0 855.6 63.5C859.6 68.1 863.6 72.5 867.6 76.6C871.6 80.8 875.6 84.8 879.5 88.6C883.5 92.4 887.5 96.6 891.5 99.4C895.5 102.1 899.5 102.8 903.5 105.1C907.4 107.3 911.4 110.4 915.4 112.8C919.4 115.1 923.4 117.4 927.4 119.3C931.4 121.2 935.4 123.1 939.3 124.4C943.3 125.7 947.3 126.5 951.3 127.3C955.3 128.1 959.3 128.6 963.3 129.3C967.2 129.9 971.2 130.4 975.2 131.0C979.2 131.5 983.2 132.1 987.2 132.7C991.2 133.2 995.2 133.5 999.1 134.1C1003.1 134.7 1008.2 135.8 1011.1 136.4C1014.0 136.9 1015.5 137.2 1016.4 137.4" stroke="#7f8fd8" stroke-width="1" fill="none"/>
<rect x="589.5" y="206.8" width="5.9" height="5.9" fill="#2a46a8"/>
<rect x="601.5" y="208.5" width="5.9" height="5.9" fill="#2a46a8"/>
<rect x="613.5" y="210.5" width="5.9" height="5.9" fill="#2a46a8"/>
<rect x="625.4" y="213.9" width="5.9" height="5.9" fill="#2a46a8"/>
<rect x="637.4" y="215.4" width="5.9" height="5.9" fill="#2a46a8"/>
<rect x="649.3" y="214.5" width="5.9" height="5.9" fill="#2a46a8"/>
<rect x="661.3" y="209.4" width="5.9" height="5.9" fill="#2a46a8"/>
<rect x="673.3" y="197.1" width="5.9" height="5.9" fill="#2a46a8"/>
<rect x="685.2" y="180.6" width="5.9" height="5.9" fill="#2a46a8"/>
<rect x="697.2" y="159.3" width="5.9" height="5.9" fill="#2a46a8"/>
<rect x="709.1" y="135.7" width="5.9" height="5.9" fill="#2a46a8"/>
<rect x="721.1" y="109.2" width="5.9" height="5.9" fill="#2a46a8"/>
<rect x="733.1" y="86.2" width="5.9" height="5.9" fill="#2a46a8"/>
<rect x="745.0" y="60.6" width="5.9" height="5.9" fill="#2a46a8"/>
<rect x="757.0" y="40.1" width="5.9" height="5.9" fill="#2a46a8"/>
<rect x="769.0" y="21.3" width="5.9" height="5.9" fill="#2a46a8"/>
<rect x="780.9" y="8.0" width="5.9" height="5.9" fill="#2a46a8"/>
<rect x="792.9" y="3.1" width="5.9" height="5.9" fill="#2a46a8"/>
<rect x="804.8" y="7.7" width="5.9" height="5.9" fill="#2a46a8"/>
<rect x="816.8" y="17.1" width="5.9" height="5.9" fill="#2a46a8"/>
<rect x="828.8" y="30.7" width="5.9" height="5.9" fill="#2a46a8"/>
<rect x="840.7" y="46.4" width="5.9" height="5.9" fill="#2a46a8"/>
<rect x="852.7" y="60.6" width="5.9" height="5.9" fill="#2a46a8"/>
<rect x="864.6" y="73.7" width="5.9" height="5.9" fill="#2a46a8"/>
<rect x="876.6" y="85.6" width="5.9" height="5.9" fill="#2a46a8"/>
<rect x="888.5" y="96.4" width="5.9" height="5.9" fill="#2a46a8"/>
<rect x="900.5" y="102.1" width="5.9" height="5.9" fill="#2a46a8"/>
<rect x="912.5" y="109.8" width="5.9" height="5.9" fill="#2a46a8"/>
<rect x="924.4" y="116.4" width="5.9" height="5.9" fill="#2a46a8"/>
<rect x="936.4" y="121.5" width="5.9" height="5.9" fill="#2a46a8"/>
<rect x="948.3" y="124.3" width="5.9" height="5.9" fill="#2a46a8"/>
<rect x="960.3" y="126.3" width="5.9" height="5.9" fill="#2a46a8"/>
<rect x="972.3" y="128.0" width="5.9" height="5.9" fill="#2a46a8"/>
<rect x="984.2" y="129.7" width="5.9" height="5.9" fill="#2a46a8"/>
<rect x="996.2" y="131.1" width="5.9" height="5.9" fill="#2a46a8"/>
<rect x="1008.2" y="133.4" width="5.9" height="5.9" fill="#2a46a8"/>
<path d="M592.5 230.3C594.5 231.3 600.5 234.7 604.5 236.8C608.4 238.9 612.4 241.6 616.4 243.1C620.4 244.5 624.4 245.1 628.4 245.6C632.4 246.1 636.4 246.2 640.3 245.9C644.3 245.6 648.3 245.6 652.3 243.9C656.3 242.2 660.3 239.2 664.3 235.7C668.2 232.2 672.2 228.0 676.2 222.9C680.2 217.7 684.2 211.4 688.2 204.7C692.2 197.9 696.2 190.2 700.1 182.2C704.1 174.1 708.1 165.1 712.1 156.3C716.1 147.5 720.1 138.4 724.1 129.3C728.0 120.1 732.0 110.4 736.0 101.4C740.0 92.4 744.0 83.7 748.0 75.2C752.0 66.7 756.0 58.1 759.9 50.5C763.9 42.8 767.9 35.2 771.9 29.1C775.9 23.0 779.9 17.7 783.9 14.0C787.8 10.3 791.8 7.9 795.8 6.9C799.8 6.0 803.8 6.8 807.8 8.3C811.8 9.9 815.8 12.6 819.7 16.3C823.7 20.0 827.7 25.6 831.7 30.5C835.7 35.5 839.7 40.7 843.7 45.9C847.6 51.1 851.6 56.8 855.6 61.8C859.6 66.9 863.6 71.7 867.6 76.1C871.6 80.4 875.6 84.2 879.5 88.0C883.5 91.8 887.5 95.9 891.5 98.8C895.5 101.7 899.5 103.1 903.5 105.4C907.4 107.6 911.4 110.3 915.4 112.5C919.4 114.7 923.4 116.8 927.4 118.4C931.4 120.1 935.4 121.3 939.3 122.4C943.3 123.5 947.3 124.2 951.3 125.0C955.3 125.7 959.3 126.6 963.3 127.0C967.2 127.4 971.2 127.0 975.2 127.3C979.2 127.5 983.2 127.9 987.2 128.4C991.2 128.9 995.2 129.5 999.1 130.4C1003.1 131.2 1008.2 132.8 1011.1 133.5C1014.0 134.3 1015.5 134.7 1016.4 134.9" stroke="#4a9e74" stroke-width="1" fill="none"/>
<path d="M592.5 227.0L595.8 230.3L592.5 233.6L589.2 230.3Z" fill="#17783c"/>
<path d="M604.5 233.5L607.8 236.8L604.5 240.1L601.2 236.8Z" fill="#17783c"/>
<path d="M616.4 239.8L619.7 243.1L616.4 246.4L613.1 243.1Z" fill="#17783c"/>
<path d="M628.4 242.3L631.7 245.6L628.4 248.9L625.1 245.6Z" fill="#17783c"/>
<path d="M640.3 242.6L643.6 245.9L640.3 249.2L637.0 245.9Z" fill="#17783c"/>
<path d="M652.3 240.6L655.6 243.9L652.3 247.2L649.0 243.9Z" fill="#17783c"/>
<path d="M664.3 232.4L667.6 235.7L664.3 239.0L661.0 235.7Z" fill="#17783c"/>
<path d="M676.2 219.6L679.5 222.9L676.2 226.2L672.9 222.9Z" fill="#17783c"/>
<path d="M688.2 201.3L691.5 204.7L688.2 208.0L684.9 204.7Z" fill="#17783c"/>
<path d="M700.1 178.9L703.4 182.2L700.1 185.5L696.8 182.2Z" fill="#17783c"/>
<path d="M712.1 153.0L715.4 156.3L712.1 159.6L708.8 156.3Z" fill="#17783c"/>
<path d="M724.1 126.0L727.4 129.3L724.1 132.6L720.8 129.3Z" fill="#17783c"/>
<path d="M736.0 98.1L739.3 101.4L736.0 104.7L732.7 101.4Z" fill="#17783c"/>
<path d="M748.0 71.9L751.3 75.2L748.0 78.5L744.7 75.2Z" fill="#17783c"/>
<path d="M759.9 47.2L763.2 50.5L759.9 53.8L756.6 50.5Z" fill="#17783c"/>
<path d="M771.9 25.8L775.2 29.1L771.9 32.4L768.6 29.1Z" fill="#17783c"/>
<path d="M783.9 10.7L787.2 14.0L783.9 17.3L780.6 14.0Z" fill="#17783c"/>
<path d="M795.8 3.6L799.1 6.9L795.8 10.2L792.5 6.9Z" fill="#17783c"/>
<path d="M807.8 5.0L811.1 8.3L807.8 11.6L804.5 8.3Z" fill="#17783c"/>
<path d="M819.7 13.0L823.0 16.3L819.7 19.6L816.4 16.3Z" fill="#17783c"/>
<path d="M831.7 27.2L835.0 30.5L831.7 33.8L828.4 30.5Z" fill="#17783c"/>
<path d="M843.7 42.6L847.0 45.9L843.7 49.2L840.4 45.9Z" fill="#17783c"/>
<path d="M855.6 58.5L858.9 61.8L855.6 65.1L852.3 61.8Z" fill="#17783c"/>
<path d="M867.6 72.8L870.9 76.1L867.6 79.4L864.3 76.1Z" fill="#17783c"/>
<path d="M879.5 84.7L882.8 88.0L879.5 91.3L876.2 88.0Z" fill="#17783c"/>
<path d="M891.5 95.5L894.8 98.8L891.5 102.1L888.2 98.8Z" fill="#17783c"/>
<path d="M903.5 102.1L906.8 105.4L903.5 108.7L900.2 105.4Z" fill="#17783c"/>
<path d="M915.4 109.2L918.7 112.5L915.4 115.8L912.1 112.5Z" fill="#17783c"/>
<path d="M927.4 115.1L930.7 118.4L927.4 121.7L924.1 118.4Z" fill="#17783c"/>
<path d="M939.3 119.1L942.6 122.4L939.3 125.7L936.0 122.4Z" fill="#17783c"/>
<path d="M951.3 121.7L954.6 125.0L951.3 128.3L948.0 125.0Z" fill="#17783c"/>
<path d="M963.3 123.7L966.6 127.0L963.3 130.3L960.0 127.0Z" fill="#17783c"/>
<path d="M975.2 124.0L978.5 127.3L975.2 130.6L971.9 127.3Z" fill="#17783c"/>
<path d="M987.2 125.1L990.5 128.4L987.2 131.7L983.9 128.4Z" fill="#17783c"/>
<path d="M999.1 127.1L1002.4 130.4L999.1 133.7L995.8 130.4Z" fill="#17783c"/>
<path d="M1011.1 130.2L1014.4 133.5L1011.1 136.8L1007.8 133.5Z" fill="#17783c"/>
<path d="M592.5 222.9C594.5 224.1 600.5 227.6 604.5 230.3C608.4 233.0 612.4 236.5 616.4 239.1C620.4 241.7 624.4 243.9 628.4 245.9C632.4 247.9 636.4 250.4 640.3 251.3C644.3 252.3 648.3 252.5 652.3 251.6C656.3 250.6 660.3 248.7 664.3 245.6C668.2 242.6 672.2 238.5 676.2 233.4C680.2 228.3 684.2 222.2 688.2 215.2C692.2 208.2 696.2 199.8 700.1 191.3C704.1 182.7 708.1 173.4 712.1 164.0C716.1 154.5 720.1 144.5 724.1 134.7C728.0 124.8 732.0 114.7 736.0 105.1C740.0 95.4 744.0 85.9 748.0 76.9C752.0 67.9 756.0 59.2 759.9 51.3C763.9 43.4 767.9 35.7 771.9 29.7C775.9 23.7 779.9 18.9 783.9 15.2C787.8 11.5 791.8 8.6 795.8 7.5C799.8 6.4 803.8 7.0 807.8 8.3C811.8 9.7 815.8 12.4 819.7 15.7C823.7 19.1 827.7 23.8 831.7 28.5C835.7 33.3 839.7 39.0 843.7 44.5C847.6 50.0 851.6 56.3 855.6 61.5C859.6 66.8 863.6 71.6 867.6 76.1C871.6 80.6 875.6 84.6 879.5 88.6C883.5 92.6 887.5 96.6 891.5 100.0C895.5 103.3 899.5 106.0 903.5 108.5C907.4 111.0 911.4 113.1 915.4 115.0C919.4 117.0 923.4 118.7 927.4 120.2C931.4 121.6 935.4 122.6 939.3 123.6C943.3 124.6 947.3 125.3 951.3 126.1C955.3 126.9 959.3 127.7 963.3 128.4C967.2 129.1 971.2 129.7 975.2 130.4C979.2 131.1 983.2 132.0 987.2 132.7C991.2 133.4 995.2 133.8 999.1 134.7C1003.1 135.5 1008.2 137.0 1011.1 137.8C1014.0 138.5 1015.5 138.9 1016.4 139.2" stroke="#ea6a78" stroke-width="1" fill="none"/>
<circle cx="592.5" cy="222.9" r="2.85" fill="#d81c30"/>
<circle cx="604.5" cy="230.3" r="2.85" fill="#d81c30"/>
<circle cx="616.4" cy="239.1" r="2.85" fill="#d81c30"/>
<circle cx="628.4" cy="245.9" r="2.85" fill="#d81c30"/>
<circle cx="640.3" cy="251.3" r="2.85" fill="#d81c30"/>
<circle cx="652.3" cy="251.6" r="2.85" fill="#d81c30"/>
<circle cx="664.3" cy="245.6" r="2.85" fill="#d81c30"/>
<circle cx="676.2" cy="233.4" r="2.85" fill="#d81c30"/>
<circle cx="688.2" cy="215.2" r="2.85" fill="#d81c30"/>
<circle cx="700.1" cy="191.3" r="2.85" fill="#d81c30"/>
<circle cx="712.1" cy="164.0" r="2.85" fill="#d81c30"/>
<circle cx="724.1" cy="134.7" r="2.85" fill="#d81c30"/>
<circle cx="736.0" cy="105.1" r="2.85" fill="#d81c30"/>
<circle cx="748.0" cy="76.9" r="2.85" fill="#d81c30"/>
<circle cx="759.9" cy="51.3" r="2.85" fill="#d81c30"/>
<circle cx="771.9" cy="29.7" r="2.85" fill="#d81c30"/>
<circle cx="783.9" cy="15.2" r="2.85" fill="#d81c30"/>
<circle cx="795.8" cy="7.5" r="2.85" fill="#d81c30"/>
<circle cx="807.8" cy="8.3" r="2.85" fill="#d81c30"/>
<circle cx="819.7" cy="15.7" r="2.85" fill="#d81c30"/>
<circle cx="831.7" cy="28.5" r="2.85" fill="#d81c30"/>
<circle cx="843.7" cy="44.5" r="2.85" fill="#d81c30"/>
<circle cx="855.6" cy="61.5" r="2.85" fill="#d81c30"/>
<circle cx="867.6" cy="76.1" r="2.85" fill="#d81c30"/>
<circle cx="879.5" cy="88.6" r="2.85" fill="#d81c30"/>
<circle cx="891.5" cy="100.0" r="2.85" fill="#d81c30"/>
<circle cx="903.5" cy="108.5" r="2.85" fill="#d81c30"/>
<circle cx="915.4" cy="115.0" r="2.85" fill="#d81c30"/>
<circle cx="927.4" cy="120.2" r="2.85" fill="#d81c30"/>
<circle cx="939.3" cy="123.6" r="2.85" fill="#d81c30"/>
<circle cx="951.3" cy="126.1" r="2.85" fill="#d81c30"/>
<circle cx="963.3" cy="128.4" r="2.85" fill="#d81c30"/>
<circle cx="975.2" cy="130.4" r="2.85" fill="#d81c30"/>
<circle cx="987.2" cy="132.7" r="2.85" fill="#d81c30"/>
<circle cx="999.1" cy="134.7" r="2.85" fill="#d81c30"/>
<circle cx="1011.1" cy="137.8" r="2.85" fill="#d81c30"/>
<path d="M592.5 290.0v-5.5M603.1 290.0v-4M613.7 290.0v-4M624.3 290.0v-4M634.9 290.0v-4M645.5 290.0v-5.5M656.1 290.0v-4M666.7 290.0v-4M677.3 290.0v-4M687.9 290.0v-4M698.5 290.0v-5.5M709.1 290.0v-4M719.7 290.0v-4M730.3 290.0v-4M740.9 290.0v-4M751.5 290.0v-5.5M762.1 290.0v-4M772.7 290.0v-4M783.3 290.0v-4M793.9 290.0v-4M804.5 290.0v-5.5M815.0 290.0v-4M825.6 290.0v-4M836.2 290.0v-4M846.8 290.0v-4M857.4 290.0v-5.5M868.0 290.0v-4M878.6 290.0v-4M889.2 290.0v-4M899.8 290.0v-4M910.4 290.0v-5.5M921.0 290.0v-4M931.6 290.0v-4M942.2 290.0v-4M952.8 290.0v-4M963.4 290.0v-5.5M974.0 290.0v-4M984.6 290.0v-4M995.2 290.0v-4M1005.8 290.0v-4M1016.4 290.0v-5.5M592.5 290.0h5.8M592.5 284.3h3.4M592.5 278.6h3.4M592.5 272.9h3.4M592.5 267.2h3.4M592.5 261.6h5.8M592.5 255.9h3.4M592.5 250.2h3.4M592.5 244.5h3.4M592.5 238.8h3.4M592.5 233.1h5.8M592.5 227.4h3.4M592.5 221.7h3.4M592.5 216.0h3.4M592.5 210.3h3.4M592.5 204.7h5.8M592.5 199.0h3.4M592.5 193.3h3.4M592.5 187.6h3.4M592.5 181.9h3.4M592.5 176.2h5.8M592.5 170.5h3.4M592.5 164.8h3.4M592.5 159.1h3.4M592.5 153.4h3.4M592.5 147.8h5.8M592.5 142.1h3.4M592.5 136.4h3.4M592.5 130.7h3.4M592.5 125.0h3.4M592.5 119.3h5.8M592.5 113.6h3.4M592.5 107.9h3.4M592.5 102.2h3.4M592.5 96.5h3.4M592.5 90.8h5.8M592.5 85.2h3.4M592.5 79.5h3.4M592.5 73.8h3.4M592.5 68.1h3.4M592.5 62.4h5.8M592.5 56.7h3.4M592.5 51.0h3.4M592.5 45.3h3.4M592.5 39.6h3.4M592.5 33.9h5.8M592.5 28.3h3.4M592.5 22.6h3.4M592.5 16.9h3.4M592.5 11.2h3.4M592.5 5.5h5.8" stroke="#222" stroke-width="1" fill="none"/>
<rect x="599.3" y="10.5" width="75.5" height="185.2" fill="#fff" stroke="#444" stroke-width="1"/>
<path d="M602.9 18.0H628.5" stroke="#ea6a78" stroke-width="1.3"/>
<circle cx="615.9" cy="18.0" r="2.45" fill="#d81c30"/>
<text x="632.8" y="21.1" font-size="11" font-weight="bold">On_0°</text>
<path d="M602.9 30.8H628.5" stroke="#4a9e74" stroke-width="1.3"/>
<path d="M615.9 27.8L618.9 30.8L615.9 33.8L612.9 30.8Z" fill="#17783c"/>
<text x="632.8" y="33.9" font-size="11" font-weight="bold">On_10°</text>
<path d="M602.9 43.6H628.5" stroke="#7f8fd8" stroke-width="1.3"/>
<rect x="613.4" y="41.0" width="5.1" height="5.1" fill="#2a46a8"/>
<text x="632.8" y="46.7" font-size="11" font-weight="bold">On_20°</text>
<path d="M602.9 56.4H628.5" stroke="#b4b47c" stroke-width="1.3"/>
<path d="M615.9 53.6L618.7 59.2L613.1 59.2Z" fill="#757520"/>
<text x="632.8" y="59.5" font-size="11" font-weight="bold">On_30°</text>
<path d="M602.9 69.2H628.5" stroke="#a050b8" stroke-width="1.3"/>
<path d="M615.9 72.0L618.7 66.4L613.1 66.4Z" fill="#6c1080"/>
<text x="632.8" y="72.3" font-size="11" font-weight="bold">On_40°</text>
<path d="M602.9 81.9H628.5" stroke="#30a0a0" stroke-width="1.3"/>
<rect x="613.6" y="79.7" width="4.5" height="4.5" fill="none" stroke="#2a9a9a" stroke-width="1.1"/><circle cx="615.9" cy="81.9" r="1.12" fill="none" stroke="#2a9a9a" stroke-width="0.8"/>
<text x="632.8" y="85.0" font-size="11" font-weight="bold">On_50°</text>
<path d="M602.9 94.7H628.5" stroke="#404078" stroke-width="1.3"/>
<rect x="613.6" y="92.5" width="4.5" height="4.5" fill="none" stroke="#404080" stroke-width="1"/><path d="M613.6 94.7H618.1M615.9 92.5V97.0" stroke="#404080" stroke-width="0.8"/>
<text x="632.8" y="97.8" font-size="11" font-weight="bold">On_60°</text>
<path d="M602.9 107.5H628.5" stroke="#e0505a" stroke-width="1.3"/>
<circle cx="615.9" cy="107.5" r="2.10" fill="none" stroke="#e03040" stroke-width="1.0"/>
<text x="632.8" y="110.6" font-size="11" font-weight="bold">Off_0°</text>
<path d="M602.9 120.3H628.5" stroke="#4a9e74" stroke-width="1.3"/>
<path d="M615.9 117.6L618.6 120.3L615.9 123.0L613.2 120.3Z" fill="none" stroke="#1f8a50" stroke-width="1.0"/>
<text x="632.8" y="123.4" font-size="11" font-weight="bold">Off_10°</text>
<path d="M602.9 133.1H628.5" stroke="#7080d0" stroke-width="1.3"/>
<rect x="613.7" y="130.9" width="4.4" height="4.4" fill="none" stroke="#4060c0" stroke-width="1.0"/>
<text x="632.8" y="136.2" font-size="11" font-weight="bold">Off_20°</text>
<path d="M602.9 145.9H628.5" stroke="#a0a050" stroke-width="1.3"/>
<path d="M615.9 143.4L618.4 148.3L613.4 148.3Z" fill="none" stroke="#808020" stroke-width="1.0"/>
<text x="632.8" y="149.0" font-size="11" font-weight="bold">Off_30°</text>
<path d="M602.9 158.7H628.5" stroke="#b050c0" stroke-width="1.3"/>
<path d="M615.9 161.1L618.4 156.2L613.4 156.2Z" fill="none" stroke="#9030a0" stroke-width="1.0"/>
<text x="632.8" y="161.8" font-size="11" font-weight="bold">Off_40°</text>
<path d="M602.9 171.5H628.5" stroke="#30a0a0" stroke-width="1.3"/>
<path d="M613.5 169.1L618.2 173.8M613.5 173.8L618.2 169.1" stroke="#30a0a0" stroke-width="1.0"/>
<text x="632.8" y="174.6" font-size="11" font-weight="bold">Off_50°</text>
<path d="M602.9 184.3H628.5" stroke="#6070a0" stroke-width="1.3"/>
<path d="M615.9 181.7V186.8" stroke="#303070" stroke-width="1.1"/>
<text x="632.8" y="187.4" font-size="11" font-weight="bold">Off_60°</text>
<path d="M592.5 5.5V290.0H1016.4" stroke="#0a0a0a" stroke-width="1.4" fill="none" stroke-linecap="square"/>
<path d="M592.5 5.5H1016.4" stroke="#1a1a1a" stroke-width="1.7" fill="none" stroke-linecap="square"/>
<path d="M1016.4 5.5V290.0" stroke="#1a1a1a" stroke-width="1.4" fill="none"/>
<text x="592.5" y="308.8" font-size="14.3" font-weight="bold" text-anchor="middle">9</text>
<text x="645.5" y="308.8" font-size="14.3" font-weight="bold" text-anchor="middle">9.5</text>
<text x="698.5" y="308.8" font-size="14.3" font-weight="bold" text-anchor="middle">10</text>
<text x="751.5" y="308.8" font-size="14.3" font-weight="bold" text-anchor="middle">10.5</text>
<text x="804.5" y="308.8" font-size="14.3" font-weight="bold" text-anchor="middle">11</text>
<text x="857.4" y="308.8" font-size="14.3" font-weight="bold" text-anchor="middle">11.5</text>
<text x="910.4" y="308.8" font-size="14.3" font-weight="bold" text-anchor="middle">12</text>
<text x="963.4" y="308.8" font-size="14.3" font-weight="bold" text-anchor="middle">12.5</text>
<text x="1016.4" y="308.8" font-size="14.3" font-weight="bold" text-anchor="middle">13</text>
<text x="583.1" y="295.1" font-size="14.4" font-weight="bold" text-anchor="end">0</text>
<text x="583.1" y="266.7" font-size="14.4" font-weight="bold" text-anchor="end">0.1</text>
<text x="583.1" y="238.2" font-size="14.4" font-weight="bold" text-anchor="end">0.2</text>
<text x="583.1" y="209.8" font-size="14.4" font-weight="bold" text-anchor="end">0.3</text>
<text x="583.1" y="181.3" font-size="14.4" font-weight="bold" text-anchor="end">0.4</text>
<text x="583.1" y="152.8" font-size="14.4" font-weight="bold" text-anchor="end">0.5</text>
<text x="583.1" y="124.4" font-size="14.4" font-weight="bold" text-anchor="end">0.6</text>
<text x="583.1" y="96.0" font-size="14.4" font-weight="bold" text-anchor="end">0.7</text>
<text x="583.1" y="67.5" font-size="14.4" font-weight="bold" text-anchor="end">0.8</text>
<text x="583.1" y="39.0" font-size="14.4" font-weight="bold" text-anchor="end">0.9</text>
<text x="583.1" y="10.6" font-size="14.4" font-weight="bold" text-anchor="end">1</text>
<text x="806.2" y="332.6" font-size="15.7" font-weight="bold" text-anchor="middle">Frequency [GHz]</text>
<text transform="translate(547.5 146.9) rotate(-90)" font-size="15.6" font-weight="bold" text-anchor="middle">Measured Absorptivity</text>
<text x="806.2" y="368.8" font-size="21" fill="#d5661f" text-anchor="middle">(b)</text>
<path d="M111.6 402.0V686.1M164.8 402.0V686.1M217.9 402.0V686.1M271.0 402.0V686.1M324.1 402.0V686.1M377.2 402.0V686.1M430.4 402.0V686.1M58.5 657.7H483.5M58.5 629.3H483.5M58.5 600.9H483.5M58.5 572.5H483.5M58.5 544.0H483.5M58.5 515.6H483.5M58.5 487.2H483.5M58.5 458.8H483.5M58.5 430.4H483.5" stroke="#a0a0a0" stroke-width="1" stroke-dasharray="1.4 2.9" fill="none"/>
<path d="M58.5 660.5L69.1 660.0L79.7 659.4L90.4 658.8L101.0 658.3L111.6 657.7L122.2 657.3L132.9 656.9L143.5 656.6L154.1 656.2L164.8 655.8L175.4 655.4L186.0 655.2L196.6 655.0L207.3 654.8L217.9 654.6L228.5 653.9L239.1 653.2L249.8 652.6L260.4 652.3L271.0 652.0L281.6 651.4L292.2 650.9L302.9 650.1L313.5 649.4L324.1 648.6L334.7 647.8L345.4 647.1L356.0 646.3L366.6 645.5L377.2 644.6L387.9 644.2L398.5 643.8L409.1 642.9L419.8 637.8L430.4 615.1L441.0 592.3L451.6 575.9L462.3 577.3L472.9 592.3L483.5 623.6" stroke="#6070a0" stroke-width="1" fill="none"/>
<path d="M58.5 658.0V663.1" stroke="#303070" stroke-width="1.1"/>
<path d="M69.1 657.4V662.5" stroke="#303070" stroke-width="1.1"/>
<path d="M79.7 656.8V661.9" stroke="#303070" stroke-width="1.1"/>
<path d="M90.4 656.3V661.4" stroke="#303070" stroke-width="1.1"/>
<path d="M101.0 655.7V660.8" stroke="#303070" stroke-width="1.1"/>
<path d="M111.6 655.1V660.2" stroke="#303070" stroke-width="1.1"/>
<path d="M122.2 654.8V659.9" stroke="#303070" stroke-width="1.1"/>
<path d="M132.9 654.4V659.5" stroke="#303070" stroke-width="1.1"/>
<path d="M143.5 654.0V659.1" stroke="#303070" stroke-width="1.1"/>
<path d="M154.1 653.6V658.7" stroke="#303070" stroke-width="1.1"/>
<path d="M164.8 653.2V658.3" stroke="#303070" stroke-width="1.1"/>
<path d="M175.4 652.9V658.0" stroke="#303070" stroke-width="1.1"/>
<path d="M186.0 652.7V657.8" stroke="#303070" stroke-width="1.1"/>
<path d="M196.6 652.4V657.5" stroke="#303070" stroke-width="1.1"/>
<path d="M207.3 652.2V657.3" stroke="#303070" stroke-width="1.1"/>
<path d="M217.9 652.0V657.1" stroke="#303070" stroke-width="1.1"/>
<path d="M228.5 651.4V656.5" stroke="#303070" stroke-width="1.1"/>
<path d="M239.1 650.7V655.8" stroke="#303070" stroke-width="1.1"/>
<path d="M249.8 650.0V655.1" stroke="#303070" stroke-width="1.1"/>
<path d="M260.4 649.7V654.8" stroke="#303070" stroke-width="1.1"/>
<path d="M271.0 649.5V654.6" stroke="#303070" stroke-width="1.1"/>
<path d="M281.6 648.9V654.0" stroke="#303070" stroke-width="1.1"/>
<path d="M292.2 648.3V653.4" stroke="#303070" stroke-width="1.1"/>
<path d="M302.9 647.6V652.7" stroke="#303070" stroke-width="1.1"/>
<path d="M313.5 646.8V651.9" stroke="#303070" stroke-width="1.1"/>
<path d="M324.1 646.0V651.1" stroke="#303070" stroke-width="1.1"/>
<path d="M334.7 645.3V650.4" stroke="#303070" stroke-width="1.1"/>
<path d="M345.4 644.5V649.6" stroke="#303070" stroke-width="1.1"/>
<path d="M356.0 643.8V648.9" stroke="#303070" stroke-width="1.1"/>
<path d="M366.6 642.9V648.0" stroke="#303070" stroke-width="1.1"/>
<path d="M377.2 642.1V647.2" stroke="#303070" stroke-width="1.1"/>
<path d="M387.9 641.6V646.7" stroke="#303070" stroke-width="1.1"/>
<path d="M398.5 641.2V646.3" stroke="#303070" stroke-width="1.1"/>
<path d="M409.1 640.4V645.5" stroke="#303070" stroke-width="1.1"/>
<path d="M419.8 635.3V640.4" stroke="#303070" stroke-width="1.1"/>
<path d="M430.4 612.5V617.6" stroke="#303070" stroke-width="1.1"/>
<path d="M441.0 589.8V594.9" stroke="#303070" stroke-width="1.1"/>
<path d="M451.6 573.3V578.4" stroke="#303070" stroke-width="1.1"/>
<path d="M462.3 574.7V579.8" stroke="#303070" stroke-width="1.1"/>
<path d="M472.9 589.8V594.9" stroke="#303070" stroke-width="1.1"/>
<path d="M483.5 621.0V626.1" stroke="#303070" stroke-width="1.1"/>
<path d="M58.5 665.6L69.1 665.4L79.7 665.1L90.4 664.8L101.0 660.5L111.6 663.7L122.2 663.2L132.9 662.8L143.5 662.4L154.1 662.0L164.8 661.5L175.4 661.1L186.0 661.0L196.6 660.8L207.3 660.7L217.9 660.5L228.5 659.8L239.1 659.2L249.8 658.5L260.4 657.8L271.0 657.1L281.6 655.6L292.2 654.0L302.9 652.7L313.5 651.3L324.1 650.0L334.7 649.3L345.4 648.5L356.0 647.7L366.6 647.0L377.2 646.3L387.9 644.9L398.5 645.0L409.1 645.2L419.8 644.9L430.4 644.6L441.0 643.2L451.6 642.6L462.3 642.1L472.9 641.1L483.5 640.1" stroke="#30a0a0" stroke-width="1" fill="none"/>
<path d="M56.1 663.3L60.9 668.0M56.1 668.0L60.9 663.3" stroke="#30a0a0" stroke-width="0.95"/>
<path d="M66.8 663.0L71.5 667.7M66.8 667.7L71.5 663.0" stroke="#30a0a0" stroke-width="0.95"/>
<path d="M77.4 662.7L82.1 667.4M77.4 667.4L82.1 662.7" stroke="#30a0a0" stroke-width="0.95"/>
<path d="M88.0 662.4L92.7 667.1M88.0 667.1L92.7 662.4" stroke="#30a0a0" stroke-width="0.95"/>
<path d="M98.7 658.2L103.4 662.9M98.7 662.9L103.4 658.2" stroke="#30a0a0" stroke-width="0.95"/>
<path d="M109.3 661.3L114.0 666.0M109.3 666.0L114.0 661.3" stroke="#30a0a0" stroke-width="0.95"/>
<path d="M119.9 660.9L124.6 665.6M119.9 665.6L124.6 660.9" stroke="#30a0a0" stroke-width="0.95"/>
<path d="M130.5 660.5L135.2 665.2M130.5 665.2L135.2 660.5" stroke="#30a0a0" stroke-width="0.95"/>
<path d="M141.2 660.0L145.9 664.7M141.2 664.7L145.9 660.0" stroke="#30a0a0" stroke-width="0.95"/>
<path d="M151.8 659.6L156.5 664.3M151.8 664.3L156.5 659.6" stroke="#30a0a0" stroke-width="0.95"/>
<path d="M162.4 659.2L167.1 663.9M162.4 663.9L167.1 659.2" stroke="#30a0a0" stroke-width="0.95"/>
<path d="M173.0 658.7L177.7 663.4M173.0 663.4L177.7 658.7" stroke="#30a0a0" stroke-width="0.95"/>
<path d="M183.6 658.6L188.3 663.3M183.6 663.3L188.3 658.6" stroke="#30a0a0" stroke-width="0.95"/>
<path d="M194.3 658.5L199.0 663.2M194.3 663.2L199.0 658.5" stroke="#30a0a0" stroke-width="0.95"/>
<path d="M204.9 658.3L209.6 663.0M204.9 663.0L209.6 658.3" stroke="#30a0a0" stroke-width="0.95"/>
<path d="M215.5 658.2L220.2 662.9M215.5 662.9L220.2 658.2" stroke="#30a0a0" stroke-width="0.95"/>
<path d="M226.1 657.5L230.8 662.2M226.1 662.2L230.8 657.5" stroke="#30a0a0" stroke-width="0.95"/>
<path d="M236.8 656.8L241.5 661.5M236.8 661.5L241.5 656.8" stroke="#30a0a0" stroke-width="0.95"/>
<path d="M247.4 656.1L252.1 660.8M247.4 660.8L252.1 656.1" stroke="#30a0a0" stroke-width="0.95"/>
<path d="M258.0 655.5L262.7 660.2M258.0 660.2L262.7 655.5" stroke="#30a0a0" stroke-width="0.95"/>
<path d="M268.6 654.8L273.4 659.5M268.6 659.5L273.4 654.8" stroke="#30a0a0" stroke-width="0.95"/>
<path d="M279.3 653.2L284.0 657.9M279.3 657.9L284.0 653.2" stroke="#30a0a0" stroke-width="0.95"/>
<path d="M289.9 651.6L294.6 656.3M289.9 656.3L294.6 651.6" stroke="#30a0a0" stroke-width="0.95"/>
<path d="M300.5 650.3L305.2 655.0M300.5 655.0L305.2 650.3" stroke="#30a0a0" stroke-width="0.95"/>
<path d="M311.1 649.0L315.9 653.7M311.1 653.7L315.9 649.0" stroke="#30a0a0" stroke-width="0.95"/>
<path d="M321.8 647.7L326.5 652.4M321.8 652.4L326.5 647.7" stroke="#30a0a0" stroke-width="0.95"/>
<path d="M332.4 646.9L337.1 651.6M332.4 651.6L337.1 646.9" stroke="#30a0a0" stroke-width="0.95"/>
<path d="M343.0 646.2L347.7 650.9M343.0 650.9L347.7 646.2" stroke="#30a0a0" stroke-width="0.95"/>
<path d="M353.7 645.4L358.4 650.1M353.7 650.1L358.4 645.4" stroke="#30a0a0" stroke-width="0.95"/>
<path d="M364.3 644.7L369.0 649.4M364.3 649.4L369.0 644.7" stroke="#30a0a0" stroke-width="0.95"/>
<path d="M374.9 644.0L379.6 648.7M374.9 648.7L379.6 644.0" stroke="#30a0a0" stroke-width="0.95"/>
<path d="M385.5 642.6L390.2 647.3M385.5 647.3L390.2 642.6" stroke="#30a0a0" stroke-width="0.95"/>
<path d="M396.1 642.7L400.8 647.4M396.1 647.4L400.8 642.7" stroke="#30a0a0" stroke-width="0.95"/>
<path d="M406.8 642.8L411.5 647.5M406.8 647.5L411.5 642.8" stroke="#30a0a0" stroke-width="0.95"/>
<path d="M417.4 642.6L422.1 647.3M417.4 647.3L422.1 642.6" stroke="#30a0a0" stroke-width="0.95"/>
<path d="M428.0 642.3L432.7 647.0M428.0 647.0L432.7 642.3" stroke="#30a0a0" stroke-width="0.95"/>
<path d="M438.6 640.9L443.3 645.6M438.6 645.6L443.3 640.9" stroke="#30a0a0" stroke-width="0.95"/>
<path d="M449.3 640.3L454.0 645.0M449.3 645.0L454.0 640.3" stroke="#30a0a0" stroke-width="0.95"/>
<path d="M459.9 639.7L464.6 644.4M459.9 644.4L464.6 639.7" stroke="#30a0a0" stroke-width="0.95"/>
<path d="M470.5 638.7L475.2 643.4M470.5 643.4L475.2 638.7" stroke="#30a0a0" stroke-width="0.95"/>
<path d="M481.1 637.7L485.9 642.4M481.1 642.4L485.9 637.7" stroke="#30a0a0" stroke-width="0.95"/>
<path d="M58.5 662.0L69.1 661.7L79.7 661.4L90.4 661.1L101.0 633.0L111.6 652.0L122.2 660.5L132.9 660.7L143.5 660.8L154.1 661.0L164.8 661.1L175.4 661.0L186.0 660.9L196.6 660.8L207.3 660.6L217.9 660.5L228.5 660.2L239.1 660.0L249.8 659.7L260.4 659.4L271.0 659.1L281.6 658.5L292.2 658.0L302.9 657.4L313.5 656.8L324.1 656.3L334.7 655.8L345.4 655.3L356.0 654.8L366.6 654.0L377.2 653.1L387.9 649.7L398.5 648.3L409.1 646.9L419.8 638.7L430.4 617.9L441.0 586.7L451.6 551.4L462.3 546.3L472.9 567.9L483.5 592.3" stroke="#b050c0" stroke-width="1" fill="none"/>
<path d="M58.5 664.5L61.0 659.5L56.0 659.5Z" fill="none" stroke="#9030a0" stroke-width="0.95"/>
<path d="M69.1 664.2L71.6 659.2L66.6 659.2Z" fill="none" stroke="#9030a0" stroke-width="0.95"/>
<path d="M79.7 663.9L82.2 658.9L77.2 658.9Z" fill="none" stroke="#9030a0" stroke-width="0.95"/>
<path d="M90.4 663.6L92.9 658.6L87.9 658.6Z" fill="none" stroke="#9030a0" stroke-width="0.95"/>
<path d="M101.0 635.5L103.5 630.5L98.5 630.5Z" fill="none" stroke="#9030a0" stroke-width="0.95"/>
<path d="M111.6 654.5L114.1 649.5L109.1 649.5Z" fill="none" stroke="#9030a0" stroke-width="0.95"/>
<path d="M122.2 663.0L124.7 658.0L119.7 658.0Z" fill="none" stroke="#9030a0" stroke-width="0.95"/>
<path d="M132.9 663.2L135.4 658.2L130.4 658.2Z" fill="none" stroke="#9030a0" stroke-width="0.95"/>
<path d="M143.5 663.3L146.0 658.3L141.0 658.3Z" fill="none" stroke="#9030a0" stroke-width="0.95"/>
<path d="M154.1 663.5L156.6 658.5L151.6 658.5Z" fill="none" stroke="#9030a0" stroke-width="0.95"/>
<path d="M164.8 663.6L167.2 658.6L162.2 658.6Z" fill="none" stroke="#9030a0" stroke-width="0.95"/>
<path d="M175.4 663.5L177.9 658.5L172.9 658.5Z" fill="none" stroke="#9030a0" stroke-width="0.95"/>
<path d="M186.0 663.4L188.5 658.4L183.5 658.4Z" fill="none" stroke="#9030a0" stroke-width="0.95"/>
<path d="M196.6 663.3L199.1 658.3L194.1 658.3Z" fill="none" stroke="#9030a0" stroke-width="0.95"/>
<path d="M207.3 663.1L209.8 658.1L204.8 658.1Z" fill="none" stroke="#9030a0" stroke-width="0.95"/>
<path d="M217.9 663.0L220.4 658.0L215.4 658.0Z" fill="none" stroke="#9030a0" stroke-width="0.95"/>
<path d="M228.5 662.7L231.0 657.7L226.0 657.7Z" fill="none" stroke="#9030a0" stroke-width="0.95"/>
<path d="M239.1 662.5L241.6 657.5L236.6 657.5Z" fill="none" stroke="#9030a0" stroke-width="0.95"/>
<path d="M249.8 662.2L252.3 657.2L247.3 657.2Z" fill="none" stroke="#9030a0" stroke-width="0.95"/>
<path d="M260.4 661.9L262.9 656.9L257.9 656.9Z" fill="none" stroke="#9030a0" stroke-width="0.95"/>
<path d="M271.0 661.6L273.5 656.6L268.5 656.6Z" fill="none" stroke="#9030a0" stroke-width="0.95"/>
<path d="M281.6 661.0L284.1 656.0L279.1 656.0Z" fill="none" stroke="#9030a0" stroke-width="0.95"/>
<path d="M292.2 660.5L294.7 655.5L289.7 655.5Z" fill="none" stroke="#9030a0" stroke-width="0.95"/>
<path d="M302.9 659.9L305.4 654.9L300.4 654.9Z" fill="none" stroke="#9030a0" stroke-width="0.95"/>
<path d="M313.5 659.3L316.0 654.3L311.0 654.3Z" fill="none" stroke="#9030a0" stroke-width="0.95"/>
<path d="M324.1 658.8L326.6 653.8L321.6 653.8Z" fill="none" stroke="#9030a0" stroke-width="0.95"/>
<path d="M334.7 658.3L337.2 653.3L332.2 653.3Z" fill="none" stroke="#9030a0" stroke-width="0.95"/>
<path d="M345.4 657.8L347.9 652.8L342.9 652.8Z" fill="none" stroke="#9030a0" stroke-width="0.95"/>
<path d="M356.0 657.3L358.5 652.3L353.5 652.3Z" fill="none" stroke="#9030a0" stroke-width="0.95"/>
<path d="M366.6 656.5L369.1 651.5L364.1 651.5Z" fill="none" stroke="#9030a0" stroke-width="0.95"/>
<path d="M377.2 655.6L379.8 650.6L374.8 650.6Z" fill="none" stroke="#9030a0" stroke-width="0.95"/>
<path d="M387.9 652.2L390.4 647.2L385.4 647.2Z" fill="none" stroke="#9030a0" stroke-width="0.95"/>
<path d="M398.5 650.8L401.0 645.8L396.0 645.8Z" fill="none" stroke="#9030a0" stroke-width="0.95"/>
<path d="M409.1 649.4L411.6 644.4L406.6 644.4Z" fill="none" stroke="#9030a0" stroke-width="0.95"/>
<path d="M419.8 641.2L422.3 636.2L417.3 636.2Z" fill="none" stroke="#9030a0" stroke-width="0.95"/>
<path d="M430.4 620.4L432.9 615.4L427.9 615.4Z" fill="none" stroke="#9030a0" stroke-width="0.95"/>
<path d="M441.0 589.2L443.5 584.2L438.5 584.2Z" fill="none" stroke="#9030a0" stroke-width="0.95"/>
<path d="M451.6 553.9L454.1 548.9L449.1 548.9Z" fill="none" stroke="#9030a0" stroke-width="0.95"/>
<path d="M462.3 548.8L464.8 543.8L459.8 543.8Z" fill="none" stroke="#9030a0" stroke-width="0.95"/>
<path d="M472.9 570.4L475.4 565.4L470.4 565.4Z" fill="none" stroke="#9030a0" stroke-width="0.95"/>
<path d="M483.5 594.8L486.0 589.8L481.0 589.8Z" fill="none" stroke="#9030a0" stroke-width="0.95"/>
<path d="M58.5 671.9L69.1 671.3L79.7 670.8L90.4 670.2L101.0 669.6L111.6 669.1L122.2 664.8L132.9 668.7L143.5 668.5L154.1 668.3L164.8 668.1L175.4 667.9L186.0 667.8L196.6 667.6L207.3 667.5L217.9 667.3L228.5 666.8L239.1 666.2L249.8 665.6L260.4 665.1L271.0 664.5L281.6 663.9L292.2 663.4L302.9 662.3L313.5 661.3L324.1 660.2L334.7 659.1L345.4 654.0L356.0 643.2L366.6 652.0L377.2 654.0L387.9 654.3L398.5 654.0L409.1 652.0L419.8 650.3L430.4 650.0L441.0 649.5L451.6 648.9L462.3 648.3L472.9 646.9L483.5 646.3" stroke="#a0a050" stroke-width="1" fill="none"/>
<path d="M58.5 669.4L61.0 674.4L56.0 674.4Z" fill="none" stroke="#808020" stroke-width="0.95"/>
<path d="M69.1 668.8L71.6 673.8L66.6 673.8Z" fill="none" stroke="#808020" stroke-width="0.95"/>
<path d="M79.7 668.3L82.2 673.3L77.2 673.3Z" fill="none" stroke="#808020" stroke-width="0.95"/>
<path d="M90.4 667.7L92.9 672.7L87.9 672.7Z" fill="none" stroke="#808020" stroke-width="0.95"/>
<path d="M101.0 667.1L103.5 672.1L98.5 672.1Z" fill="none" stroke="#808020" stroke-width="0.95"/>
<path d="M111.6 666.6L114.1 671.6L109.1 671.6Z" fill="none" stroke="#808020" stroke-width="0.95"/>
<path d="M122.2 662.3L124.7 667.3L119.7 667.3Z" fill="none" stroke="#808020" stroke-width="0.95"/>
<path d="M132.9 666.2L135.4 671.2L130.4 671.2Z" fill="none" stroke="#808020" stroke-width="0.95"/>
<path d="M143.5 666.0L146.0 671.0L141.0 671.0Z" fill="none" stroke="#808020" stroke-width="0.95"/>
<path d="M154.1 665.8L156.6 670.8L151.6 670.8Z" fill="none" stroke="#808020" stroke-width="0.95"/>
<path d="M164.8 665.6L167.2 670.6L162.2 670.6Z" fill="none" stroke="#808020" stroke-width="0.95"/>
<path d="M175.4 665.4L177.9 670.4L172.9 670.4Z" fill="none" stroke="#808020" stroke-width="0.95"/>
<path d="M186.0 665.3L188.5 670.3L183.5 670.3Z" fill="none" stroke="#808020" stroke-width="0.95"/>
<path d="M196.6 665.1L199.1 670.1L194.1 670.1Z" fill="none" stroke="#808020" stroke-width="0.95"/>
<path d="M207.3 665.0L209.8 670.0L204.8 670.0Z" fill="none" stroke="#808020" stroke-width="0.95"/>
<path d="M217.9 664.8L220.4 669.8L215.4 669.8Z" fill="none" stroke="#808020" stroke-width="0.95"/>
<path d="M228.5 664.3L231.0 669.3L226.0 669.3Z" fill="none" stroke="#808020" stroke-width="0.95"/>
<path d="M239.1 663.7L241.6 668.7L236.6 668.7Z" fill="none" stroke="#808020" stroke-width="0.95"/>
<path d="M249.8 663.1L252.3 668.1L247.3 668.1Z" fill="none" stroke="#808020" stroke-width="0.95"/>
<path d="M260.4 662.6L262.9 667.6L257.9 667.6Z" fill="none" stroke="#808020" stroke-width="0.95"/>
<path d="M271.0 662.0L273.5 667.0L268.5 667.0Z" fill="none" stroke="#808020" stroke-width="0.95"/>
<path d="M281.6 661.4L284.1 666.4L279.1 666.4Z" fill="none" stroke="#808020" stroke-width="0.95"/>
<path d="M292.2 660.9L294.7 665.9L289.7 665.9Z" fill="none" stroke="#808020" stroke-width="0.95"/>
<path d="M302.9 659.8L305.4 664.8L300.4 664.8Z" fill="none" stroke="#808020" stroke-width="0.95"/>
<path d="M313.5 658.8L316.0 663.8L311.0 663.8Z" fill="none" stroke="#808020" stroke-width="0.95"/>
<path d="M324.1 657.7L326.6 662.7L321.6 662.7Z" fill="none" stroke="#808020" stroke-width="0.95"/>
<path d="M334.7 656.6L337.2 661.6L332.2 661.6Z" fill="none" stroke="#808020" stroke-width="0.95"/>
<path d="M345.4 651.5L347.9 656.5L342.9 656.5Z" fill="none" stroke="#808020" stroke-width="0.95"/>
<path d="M356.0 640.7L358.5 645.7L353.5 645.7Z" fill="none" stroke="#808020" stroke-width="0.95"/>
<path d="M366.6 649.5L369.1 654.5L364.1 654.5Z" fill="none" stroke="#808020" stroke-width="0.95"/>
<path d="M377.2 651.5L379.8 656.5L374.8 656.5Z" fill="none" stroke="#808020" stroke-width="0.95"/>
<path d="M387.9 651.8L390.4 656.8L385.4 656.8Z" fill="none" stroke="#808020" stroke-width="0.95"/>
<path d="M398.5 651.5L401.0 656.5L396.0 656.5Z" fill="none" stroke="#808020" stroke-width="0.95"/>
<path d="M409.1 649.5L411.6 654.5L406.6 654.5Z" fill="none" stroke="#808020" stroke-width="0.95"/>
<path d="M419.8 647.8L422.3 652.8L417.3 652.8Z" fill="none" stroke="#808020" stroke-width="0.95"/>
<path d="M430.4 647.5L432.9 652.5L427.9 652.5Z" fill="none" stroke="#808020" stroke-width="0.95"/>
<path d="M441.0 647.0L443.5 652.0L438.5 652.0Z" fill="none" stroke="#808020" stroke-width="0.95"/>
<path d="M451.6 646.4L454.1 651.4L449.1 651.4Z" fill="none" stroke="#808020" stroke-width="0.95"/>
<path d="M462.3 645.8L464.8 650.8L459.8 650.8Z" fill="none" stroke="#808020" stroke-width="0.95"/>
<path d="M472.9 644.4L475.4 649.4L470.4 649.4Z" fill="none" stroke="#808020" stroke-width="0.95"/>
<path d="M483.5 643.8L486.0 648.8L481.0 648.8Z" fill="none" stroke="#808020" stroke-width="0.95"/>
<path d="M58.5 674.7L69.1 674.5L79.7 674.4L90.4 674.2L101.0 676.2L111.6 654.8L122.2 626.4L132.9 664.8L143.5 671.9L154.1 674.7L164.8 674.7L175.4 674.6L186.0 674.5L196.6 674.4L207.3 674.3L217.9 674.2L228.5 673.6L239.1 673.0L249.8 672.5L260.4 671.9L271.0 671.3L281.6 670.6L292.2 669.8L302.9 669.1L313.5 668.4L324.1 667.6L334.7 666.9L345.4 666.1L356.0 665.4L366.6 664.4L377.2 663.4L387.9 661.1L398.5 657.4L409.1 654.3L419.8 643.5L430.4 609.4L441.0 598.3L451.6 592.1L462.3 631.0L472.9 645.2L483.5 651.2" stroke="#7080d0" stroke-width="1" fill="none"/>
<rect x="56.3" y="672.5" width="4.4" height="4.4" fill="none" stroke="#4060c0" stroke-width="0.95"/>
<rect x="66.9" y="672.3" width="4.4" height="4.4" fill="none" stroke="#4060c0" stroke-width="0.95"/>
<rect x="77.5" y="672.2" width="4.4" height="4.4" fill="none" stroke="#4060c0" stroke-width="0.95"/>
<rect x="88.2" y="672.0" width="4.4" height="4.4" fill="none" stroke="#4060c0" stroke-width="0.95"/>
<rect x="98.8" y="674.0" width="4.4" height="4.4" fill="none" stroke="#4060c0" stroke-width="0.95"/>
<rect x="109.4" y="652.6" width="4.4" height="4.4" fill="none" stroke="#4060c0" stroke-width="0.95"/>
<rect x="120.0" y="624.2" width="4.4" height="4.4" fill="none" stroke="#4060c0" stroke-width="0.95"/>
<rect x="130.7" y="662.6" width="4.4" height="4.4" fill="none" stroke="#4060c0" stroke-width="0.95"/>
<rect x="141.3" y="669.7" width="4.4" height="4.4" fill="none" stroke="#4060c0" stroke-width="0.95"/>
<rect x="151.9" y="672.5" width="4.4" height="4.4" fill="none" stroke="#4060c0" stroke-width="0.95"/>
<rect x="162.6" y="672.5" width="4.4" height="4.4" fill="none" stroke="#4060c0" stroke-width="0.95"/>
<rect x="173.2" y="672.4" width="4.4" height="4.4" fill="none" stroke="#4060c0" stroke-width="0.95"/>
<rect x="183.8" y="672.3" width="4.4" height="4.4" fill="none" stroke="#4060c0" stroke-width="0.95"/>
<rect x="194.4" y="672.2" width="4.4" height="4.4" fill="none" stroke="#4060c0" stroke-width="0.95"/>
<rect x="205.1" y="672.1" width="4.4" height="4.4" fill="none" stroke="#4060c0" stroke-width="0.95"/>
<rect x="215.7" y="672.0" width="4.4" height="4.4" fill="none" stroke="#4060c0" stroke-width="0.95"/>
<rect x="226.3" y="671.4" width="4.4" height="4.4" fill="none" stroke="#4060c0" stroke-width="0.95"/>
<rect x="236.9" y="670.8" width="4.4" height="4.4" fill="none" stroke="#4060c0" stroke-width="0.95"/>
<rect x="247.6" y="670.3" width="4.4" height="4.4" fill="none" stroke="#4060c0" stroke-width="0.95"/>
<rect x="258.2" y="669.7" width="4.4" height="4.4" fill="none" stroke="#4060c0" stroke-width="0.95"/>
<rect x="268.8" y="669.1" width="4.4" height="4.4" fill="none" stroke="#4060c0" stroke-width="0.95"/>
<rect x="279.4" y="668.4" width="4.4" height="4.4" fill="none" stroke="#4060c0" stroke-width="0.95"/>
<rect x="290.0" y="667.6" width="4.4" height="4.4" fill="none" stroke="#4060c0" stroke-width="0.95"/>
<rect x="300.7" y="666.9" width="4.4" height="4.4" fill="none" stroke="#4060c0" stroke-width="0.95"/>
<rect x="311.3" y="666.2" width="4.4" height="4.4" fill="none" stroke="#4060c0" stroke-width="0.95"/>
<rect x="321.9" y="665.4" width="4.4" height="4.4" fill="none" stroke="#4060c0" stroke-width="0.95"/>
<rect x="332.5" y="664.7" width="4.4" height="4.4" fill="none" stroke="#4060c0" stroke-width="0.95"/>
<rect x="343.2" y="663.9" width="4.4" height="4.4" fill="none" stroke="#4060c0" stroke-width="0.95"/>
<rect x="353.8" y="663.2" width="4.4" height="4.4" fill="none" stroke="#4060c0" stroke-width="0.95"/>
<rect x="364.4" y="662.2" width="4.4" height="4.4" fill="none" stroke="#4060c0" stroke-width="0.95"/>
<rect x="375.1" y="661.2" width="4.4" height="4.4" fill="none" stroke="#4060c0" stroke-width="0.95"/>
<rect x="385.7" y="658.9" width="4.4" height="4.4" fill="none" stroke="#4060c0" stroke-width="0.95"/>
<rect x="396.3" y="655.2" width="4.4" height="4.4" fill="none" stroke="#4060c0" stroke-width="0.95"/>
<rect x="406.9" y="652.1" width="4.4" height="4.4" fill="none" stroke="#4060c0" stroke-width="0.95"/>
<rect x="417.6" y="641.3" width="4.4" height="4.4" fill="none" stroke="#4060c0" stroke-width="0.95"/>
<rect x="428.2" y="607.2" width="4.4" height="4.4" fill="none" stroke="#4060c0" stroke-width="0.95"/>
<rect x="438.8" y="596.1" width="4.4" height="4.4" fill="none" stroke="#4060c0" stroke-width="0.95"/>
<rect x="449.4" y="589.9" width="4.4" height="4.4" fill="none" stroke="#4060c0" stroke-width="0.95"/>
<rect x="460.1" y="628.8" width="4.4" height="4.4" fill="none" stroke="#4060c0" stroke-width="0.95"/>
<rect x="470.7" y="643.0" width="4.4" height="4.4" fill="none" stroke="#4060c0" stroke-width="0.95"/>
<rect x="481.3" y="649.0" width="4.4" height="4.4" fill="none" stroke="#4060c0" stroke-width="0.95"/>
<path d="M58.5 676.7L69.1 676.6L79.7 676.5L90.4 676.4L101.0 676.3L111.6 660.5L122.2 666.2L132.9 676.0L143.5 676.0L154.1 675.9L164.8 675.9L175.4 675.8L186.0 675.8L196.6 675.7L207.3 675.6L217.9 675.6L228.5 674.8L239.1 674.1L249.8 673.4L260.4 672.6L271.0 671.9L281.6 671.2L292.2 670.4L302.9 669.7L313.5 668.9L324.1 668.2L334.7 668.2L345.4 665.6L356.0 663.4L366.6 652.6L377.2 621.3L387.9 590.4L398.5 647.7L409.1 649.7L419.8 653.7L430.4 660.8L441.0 660.8L451.6 662.0L462.3 660.8L472.9 660.8L483.5 660.8" stroke="#1f8a50" stroke-width="1" fill="none"/>
<path d="M58.5 674.1L61.1 676.7L58.5 679.3L55.9 676.7Z" fill="none" stroke="#1f8a50" stroke-width="0.95"/>
<path d="M69.1 674.0L71.7 676.6L69.1 679.2L66.5 676.6Z" fill="none" stroke="#1f8a50" stroke-width="0.95"/>
<path d="M79.7 673.9L82.3 676.5L79.7 679.1L77.1 676.5Z" fill="none" stroke="#1f8a50" stroke-width="0.95"/>
<path d="M90.4 673.8L93.0 676.4L90.4 679.0L87.8 676.4Z" fill="none" stroke="#1f8a50" stroke-width="0.95"/>
<path d="M101.0 673.7L103.6 676.3L101.0 678.9L98.4 676.3Z" fill="none" stroke="#1f8a50" stroke-width="0.95"/>
<path d="M111.6 657.9L114.2 660.5L111.6 663.1L109.0 660.5Z" fill="none" stroke="#1f8a50" stroke-width="0.95"/>
<path d="M122.2 663.6L124.8 666.2L122.2 668.8L119.6 666.2Z" fill="none" stroke="#1f8a50" stroke-width="0.95"/>
<path d="M132.9 673.4L135.5 676.0L132.9 678.6L130.3 676.0Z" fill="none" stroke="#1f8a50" stroke-width="0.95"/>
<path d="M143.5 673.4L146.1 676.0L143.5 678.6L140.9 676.0Z" fill="none" stroke="#1f8a50" stroke-width="0.95"/>
<path d="M154.1 673.3L156.7 675.9L154.1 678.5L151.5 675.9Z" fill="none" stroke="#1f8a50" stroke-width="0.95"/>
<path d="M164.8 673.3L167.3 675.9L164.8 678.5L162.2 675.9Z" fill="none" stroke="#1f8a50" stroke-width="0.95"/>
<path d="M175.4 673.2L178.0 675.8L175.4 678.4L172.8 675.8Z" fill="none" stroke="#1f8a50" stroke-width="0.95"/>
<path d="M186.0 673.2L188.6 675.8L186.0 678.4L183.4 675.8Z" fill="none" stroke="#1f8a50" stroke-width="0.95"/>
<path d="M196.6 673.1L199.2 675.7L196.6 678.3L194.0 675.7Z" fill="none" stroke="#1f8a50" stroke-width="0.95"/>
<path d="M207.3 673.0L209.9 675.6L207.3 678.2L204.7 675.6Z" fill="none" stroke="#1f8a50" stroke-width="0.95"/>
<path d="M217.9 673.0L220.5 675.6L217.9 678.2L215.3 675.6Z" fill="none" stroke="#1f8a50" stroke-width="0.95"/>
<path d="M228.5 672.2L231.1 674.8L228.5 677.4L225.9 674.8Z" fill="none" stroke="#1f8a50" stroke-width="0.95"/>
<path d="M239.1 671.5L241.7 674.1L239.1 676.7L236.5 674.1Z" fill="none" stroke="#1f8a50" stroke-width="0.95"/>
<path d="M249.8 670.8L252.4 673.4L249.8 676.0L247.2 673.4Z" fill="none" stroke="#1f8a50" stroke-width="0.95"/>
<path d="M260.4 670.0L263.0 672.6L260.4 675.2L257.8 672.6Z" fill="none" stroke="#1f8a50" stroke-width="0.95"/>
<path d="M271.0 669.3L273.6 671.9L271.0 674.5L268.4 671.9Z" fill="none" stroke="#1f8a50" stroke-width="0.95"/>
<path d="M281.6 668.6L284.2 671.2L281.6 673.8L279.0 671.2Z" fill="none" stroke="#1f8a50" stroke-width="0.95"/>
<path d="M292.2 667.8L294.8 670.4L292.2 673.0L289.6 670.4Z" fill="none" stroke="#1f8a50" stroke-width="0.95"/>
<path d="M302.9 667.1L305.5 669.7L302.9 672.3L300.3 669.7Z" fill="none" stroke="#1f8a50" stroke-width="0.95"/>
<path d="M313.5 666.3L316.1 668.9L313.5 671.5L310.9 668.9Z" fill="none" stroke="#1f8a50" stroke-width="0.95"/>
<path d="M324.1 665.6L326.7 668.2L324.1 670.8L321.5 668.2Z" fill="none" stroke="#1f8a50" stroke-width="0.95"/>
<path d="M334.7 665.6L337.3 668.2L334.7 670.8L332.1 668.2Z" fill="none" stroke="#1f8a50" stroke-width="0.95"/>
<path d="M345.4 663.0L348.0 665.6L345.4 668.2L342.8 665.6Z" fill="none" stroke="#1f8a50" stroke-width="0.95"/>
<path d="M356.0 660.8L358.6 663.4L356.0 666.0L353.4 663.4Z" fill="none" stroke="#1f8a50" stroke-width="0.95"/>
<path d="M366.6 650.0L369.2 652.6L366.6 655.2L364.0 652.6Z" fill="none" stroke="#1f8a50" stroke-width="0.95"/>
<path d="M377.2 618.7L379.9 621.3L377.2 623.9L374.6 621.3Z" fill="none" stroke="#1f8a50" stroke-width="0.95"/>
<path d="M387.9 587.8L390.5 590.4L387.9 593.0L385.3 590.4Z" fill="none" stroke="#1f8a50" stroke-width="0.95"/>
<path d="M398.5 645.1L401.1 647.7L398.5 650.3L395.9 647.7Z" fill="none" stroke="#1f8a50" stroke-width="0.95"/>
<path d="M409.1 647.1L411.7 649.7L409.1 652.3L406.5 649.7Z" fill="none" stroke="#1f8a50" stroke-width="0.95"/>
<path d="M419.8 651.1L422.4 653.7L419.8 656.3L417.2 653.7Z" fill="none" stroke="#1f8a50" stroke-width="0.95"/>
<path d="M430.4 658.2L433.0 660.8L430.4 663.4L427.8 660.8Z" fill="none" stroke="#1f8a50" stroke-width="0.95"/>
<path d="M441.0 658.2L443.6 660.8L441.0 663.4L438.4 660.8Z" fill="none" stroke="#1f8a50" stroke-width="0.95"/>
<path d="M451.6 659.4L454.2 662.0L451.6 664.6L449.0 662.0Z" fill="none" stroke="#1f8a50" stroke-width="0.95"/>
<path d="M462.3 658.2L464.9 660.8L462.3 663.4L459.7 660.8Z" fill="none" stroke="#1f8a50" stroke-width="0.95"/>
<path d="M472.9 658.2L475.5 660.8L472.9 663.4L470.3 660.8Z" fill="none" stroke="#1f8a50" stroke-width="0.95"/>
<path d="M483.5 658.2L486.1 660.8L483.5 663.4L480.9 660.8Z" fill="none" stroke="#1f8a50" stroke-width="0.95"/>
<path d="M58.5 677.9L69.1 677.9L79.7 677.9L90.4 677.9L101.0 677.9L111.6 677.9L122.2 677.9L132.9 677.9L143.5 677.9L154.1 677.6L164.8 677.4L175.4 677.1L186.0 676.9L196.6 676.6L207.3 676.4L217.9 676.2L228.5 675.3L239.1 674.5L249.8 673.6L260.4 672.7L271.0 671.9L281.6 670.3L292.2 668.8L302.9 668.2L313.5 667.6L324.1 665.1L334.7 660.2L345.4 647.7L356.0 608.8L366.6 625.0L377.2 629.3L387.9 649.5L398.5 655.7L409.1 653.7L419.8 658.8L430.4 660.8L441.0 660.8L451.6 656.8L462.3 660.8L472.9 660.8L483.5 660.8" stroke="#e0505a" stroke-width="1" fill="none"/>
<circle cx="58.5" cy="677.9" r="2.20" fill="none" stroke="#e03040" stroke-width="0.95"/>
<circle cx="69.1" cy="677.9" r="2.20" fill="none" stroke="#e03040" stroke-width="0.95"/>
<circle cx="79.7" cy="677.9" r="2.20" fill="none" stroke="#e03040" stroke-width="0.95"/>
<circle cx="90.4" cy="677.9" r="2.20" fill="none" stroke="#e03040" stroke-width="0.95"/>
<circle cx="101.0" cy="677.9" r="2.20" fill="none" stroke="#e03040" stroke-width="0.95"/>
<circle cx="111.6" cy="677.9" r="2.20" fill="none" stroke="#e03040" stroke-width="0.95"/>
<circle cx="122.2" cy="677.9" r="2.20" fill="none" stroke="#e03040" stroke-width="0.95"/>
<circle cx="132.9" cy="677.9" r="2.20" fill="none" stroke="#e03040" stroke-width="0.95"/>
<circle cx="143.5" cy="677.9" r="2.20" fill="none" stroke="#e03040" stroke-width="0.95"/>
<circle cx="154.1" cy="677.6" r="2.20" fill="none" stroke="#e03040" stroke-width="0.95"/>
<circle cx="164.8" cy="677.4" r="2.20" fill="none" stroke="#e03040" stroke-width="0.95"/>
<circle cx="175.4" cy="677.1" r="2.20" fill="none" stroke="#e03040" stroke-width="0.95"/>
<circle cx="186.0" cy="676.9" r="2.20" fill="none" stroke="#e03040" stroke-width="0.95"/>
<circle cx="196.6" cy="676.6" r="2.20" fill="none" stroke="#e03040" stroke-width="0.95"/>
<circle cx="207.3" cy="676.4" r="2.20" fill="none" stroke="#e03040" stroke-width="0.95"/>
<circle cx="217.9" cy="676.2" r="2.20" fill="none" stroke="#e03040" stroke-width="0.95"/>
<circle cx="228.5" cy="675.3" r="2.20" fill="none" stroke="#e03040" stroke-width="0.95"/>
<circle cx="239.1" cy="674.5" r="2.20" fill="none" stroke="#e03040" stroke-width="0.95"/>
<circle cx="249.8" cy="673.6" r="2.20" fill="none" stroke="#e03040" stroke-width="0.95"/>
<circle cx="260.4" cy="672.7" r="2.20" fill="none" stroke="#e03040" stroke-width="0.95"/>
<circle cx="271.0" cy="671.9" r="2.20" fill="none" stroke="#e03040" stroke-width="0.95"/>
<circle cx="281.6" cy="670.3" r="2.20" fill="none" stroke="#e03040" stroke-width="0.95"/>
<circle cx="292.2" cy="668.8" r="2.20" fill="none" stroke="#e03040" stroke-width="0.95"/>
<circle cx="302.9" cy="668.2" r="2.20" fill="none" stroke="#e03040" stroke-width="0.95"/>
<circle cx="313.5" cy="667.6" r="2.20" fill="none" stroke="#e03040" stroke-width="0.95"/>
<circle cx="324.1" cy="665.1" r="2.20" fill="none" stroke="#e03040" stroke-width="0.95"/>
<circle cx="334.7" cy="660.2" r="2.20" fill="none" stroke="#e03040" stroke-width="0.95"/>
<circle cx="345.4" cy="647.7" r="2.20" fill="none" stroke="#e03040" stroke-width="0.95"/>
<circle cx="356.0" cy="608.8" r="2.20" fill="none" stroke="#e03040" stroke-width="0.95"/>
<circle cx="366.6" cy="625.0" r="2.20" fill="none" stroke="#e03040" stroke-width="0.95"/>
<circle cx="377.2" cy="629.3" r="2.20" fill="none" stroke="#e03040" stroke-width="0.95"/>
<circle cx="387.9" cy="649.5" r="2.20" fill="none" stroke="#e03040" stroke-width="0.95"/>
<circle cx="398.5" cy="655.7" r="2.20" fill="none" stroke="#e03040" stroke-width="0.95"/>
<circle cx="409.1" cy="653.7" r="2.20" fill="none" stroke="#e03040" stroke-width="0.95"/>
<circle cx="419.8" cy="658.8" r="2.20" fill="none" stroke="#e03040" stroke-width="0.95"/>
<circle cx="430.4" cy="660.8" r="2.20" fill="none" stroke="#e03040" stroke-width="0.95"/>
<circle cx="441.0" cy="660.8" r="2.20" fill="none" stroke="#e03040" stroke-width="0.95"/>
<circle cx="451.6" cy="656.8" r="2.20" fill="none" stroke="#e03040" stroke-width="0.95"/>
<circle cx="462.3" cy="660.8" r="2.20" fill="none" stroke="#e03040" stroke-width="0.95"/>
<circle cx="472.9" cy="660.8" r="2.20" fill="none" stroke="#e03040" stroke-width="0.95"/>
<circle cx="483.5" cy="660.8" r="2.20" fill="none" stroke="#e03040" stroke-width="0.95"/>
<path d="M58.5 658.3L69.1 658.3L79.7 658.3L90.4 658.3L101.0 658.0L111.6 656.6L122.2 655.4L132.9 654.8L143.5 654.8L154.1 654.3L164.8 653.4L175.4 652.9L186.0 652.6L196.6 652.0L207.3 650.3L217.9 647.7L228.5 646.3L239.1 643.5L249.8 640.6L260.4 636.7L271.0 633.3L281.6 631.6L292.2 631.6L302.9 633.0L313.5 635.2L324.1 637.2L334.7 638.9L345.4 639.8L356.0 640.4L366.6 640.9L377.2 640.9L387.9 640.6L398.5 640.1L409.1 638.7L419.8 633.0L430.4 619.9L441.0 590.6L451.6 527.0L462.3 511.1L472.9 549.7L483.5 575.6" stroke="#a04858" stroke-width="1" fill="none"/>
<rect x="56.2" y="656.0" width="4.5" height="4.5" fill="none" stroke="#404080" stroke-width="1"/><path d="M56.2 658.3H60.8M58.5 656.0V660.5" stroke="#404080" stroke-width="0.8"/>
<rect x="66.9" y="656.0" width="4.5" height="4.5" fill="none" stroke="#404080" stroke-width="1"/><path d="M66.9 658.3H71.4M69.1 656.0V660.5" stroke="#404080" stroke-width="0.8"/>
<rect x="77.5" y="656.0" width="4.5" height="4.5" fill="none" stroke="#404080" stroke-width="1"/><path d="M77.5 658.3H82.0M79.7 656.0V660.5" stroke="#404080" stroke-width="0.8"/>
<rect x="88.1" y="656.0" width="4.5" height="4.5" fill="none" stroke="#404080" stroke-width="1"/><path d="M88.1 658.3H92.6M90.4 656.0V660.5" stroke="#404080" stroke-width="0.8"/>
<rect x="98.8" y="655.7" width="4.5" height="4.5" fill="none" stroke="#404080" stroke-width="1"/><path d="M98.8 658.0H103.3M101.0 655.7V660.2" stroke="#404080" stroke-width="0.8"/>
<rect x="109.4" y="654.3" width="4.5" height="4.5" fill="none" stroke="#404080" stroke-width="1"/><path d="M109.4 656.6H113.9M111.6 654.3V658.8" stroke="#404080" stroke-width="0.8"/>
<rect x="120.0" y="653.2" width="4.5" height="4.5" fill="none" stroke="#404080" stroke-width="1"/><path d="M120.0 655.4H124.5M122.2 653.2V657.7" stroke="#404080" stroke-width="0.8"/>
<rect x="130.6" y="652.6" width="4.5" height="4.5" fill="none" stroke="#404080" stroke-width="1"/><path d="M130.6 654.8H135.1M132.9 652.6V657.1" stroke="#404080" stroke-width="0.8"/>
<rect x="141.3" y="652.6" width="4.5" height="4.5" fill="none" stroke="#404080" stroke-width="1"/><path d="M141.3 654.8H145.8M143.5 652.6V657.1" stroke="#404080" stroke-width="0.8"/>
<rect x="151.9" y="652.0" width="4.5" height="4.5" fill="none" stroke="#404080" stroke-width="1"/><path d="M151.9 654.3H156.4M154.1 652.0V656.5" stroke="#404080" stroke-width="0.8"/>
<rect x="162.5" y="651.2" width="4.5" height="4.5" fill="none" stroke="#404080" stroke-width="1"/><path d="M162.5 653.4H167.0M164.8 651.2V655.7" stroke="#404080" stroke-width="0.8"/>
<rect x="173.1" y="650.6" width="4.5" height="4.5" fill="none" stroke="#404080" stroke-width="1"/><path d="M173.1 652.9H177.6M175.4 650.6V655.1" stroke="#404080" stroke-width="0.8"/>
<rect x="183.7" y="650.3" width="4.5" height="4.5" fill="none" stroke="#404080" stroke-width="1"/><path d="M183.7 652.6H188.2M186.0 650.3V654.8" stroke="#404080" stroke-width="0.8"/>
<rect x="194.4" y="649.8" width="4.5" height="4.5" fill="none" stroke="#404080" stroke-width="1"/><path d="M194.4 652.0H198.9M196.6 649.8V654.3" stroke="#404080" stroke-width="0.8"/>
<rect x="205.0" y="648.1" width="4.5" height="4.5" fill="none" stroke="#404080" stroke-width="1"/><path d="M205.0 650.3H209.5M207.3 648.1V652.6" stroke="#404080" stroke-width="0.8"/>
<rect x="215.6" y="645.5" width="4.5" height="4.5" fill="none" stroke="#404080" stroke-width="1"/><path d="M215.6 647.7H220.1M217.9 645.5V650.0" stroke="#404080" stroke-width="0.8"/>
<rect x="226.2" y="644.1" width="4.5" height="4.5" fill="none" stroke="#404080" stroke-width="1"/><path d="M226.2 646.3H230.7M228.5 644.1V648.6" stroke="#404080" stroke-width="0.8"/>
<rect x="236.9" y="641.2" width="4.5" height="4.5" fill="none" stroke="#404080" stroke-width="1"/><path d="M236.9 643.5H241.4M239.1 641.2V645.7" stroke="#404080" stroke-width="0.8"/>
<rect x="247.5" y="638.4" width="4.5" height="4.5" fill="none" stroke="#404080" stroke-width="1"/><path d="M247.5 640.6H252.0M249.8 638.4V642.9" stroke="#404080" stroke-width="0.8"/>
<rect x="258.1" y="634.4" width="4.5" height="4.5" fill="none" stroke="#404080" stroke-width="1"/><path d="M258.1 636.7H262.6M260.4 634.4V638.9" stroke="#404080" stroke-width="0.8"/>
<rect x="268.8" y="631.0" width="4.5" height="4.5" fill="none" stroke="#404080" stroke-width="1"/><path d="M268.8 633.3H273.2M271.0 631.0V635.5" stroke="#404080" stroke-width="0.8"/>
<rect x="279.4" y="629.3" width="4.5" height="4.5" fill="none" stroke="#404080" stroke-width="1"/><path d="M279.4 631.6H283.9M281.6 629.3V633.8" stroke="#404080" stroke-width="0.8"/>
<rect x="290.0" y="629.3" width="4.5" height="4.5" fill="none" stroke="#404080" stroke-width="1"/><path d="M290.0 631.6H294.5M292.2 629.3V633.8" stroke="#404080" stroke-width="0.8"/>
<rect x="300.6" y="630.7" width="4.5" height="4.5" fill="none" stroke="#404080" stroke-width="1"/><path d="M300.6 633.0H305.1M302.9 630.7V635.2" stroke="#404080" stroke-width="0.8"/>
<rect x="311.2" y="633.0" width="4.5" height="4.5" fill="none" stroke="#404080" stroke-width="1"/><path d="M311.2 635.2H315.8M313.5 633.0V637.5" stroke="#404080" stroke-width="0.8"/>
<rect x="321.9" y="635.0" width="4.5" height="4.5" fill="none" stroke="#404080" stroke-width="1"/><path d="M321.9 637.2H326.4M324.1 635.0V639.5" stroke="#404080" stroke-width="0.8"/>
<rect x="332.5" y="636.7" width="4.5" height="4.5" fill="none" stroke="#404080" stroke-width="1"/><path d="M332.5 638.9H337.0M334.7 636.7V641.2" stroke="#404080" stroke-width="0.8"/>
<rect x="343.1" y="637.5" width="4.5" height="4.5" fill="none" stroke="#404080" stroke-width="1"/><path d="M343.1 639.8H347.6M345.4 637.5V642.0" stroke="#404080" stroke-width="0.8"/>
<rect x="353.8" y="638.1" width="4.5" height="4.5" fill="none" stroke="#404080" stroke-width="1"/><path d="M353.8 640.4H358.3M356.0 638.1V642.6" stroke="#404080" stroke-width="0.8"/>
<rect x="364.4" y="638.7" width="4.5" height="4.5" fill="none" stroke="#404080" stroke-width="1"/><path d="M364.4 640.9H368.9M366.6 638.7V643.2" stroke="#404080" stroke-width="0.8"/>
<rect x="375.0" y="638.7" width="4.5" height="4.5" fill="none" stroke="#404080" stroke-width="1"/><path d="M375.0 640.9H379.5M377.2 638.7V643.2" stroke="#404080" stroke-width="0.8"/>
<rect x="385.6" y="638.4" width="4.5" height="4.5" fill="none" stroke="#404080" stroke-width="1"/><path d="M385.6 640.6H390.1M387.9 638.4V642.9" stroke="#404080" stroke-width="0.8"/>
<rect x="396.2" y="637.8" width="4.5" height="4.5" fill="none" stroke="#404080" stroke-width="1"/><path d="M396.2 640.1H400.7M398.5 637.8V642.3" stroke="#404080" stroke-width="0.8"/>
<rect x="406.9" y="636.4" width="4.5" height="4.5" fill="none" stroke="#404080" stroke-width="1"/><path d="M406.9 638.7H411.4M409.1 636.4V640.9" stroke="#404080" stroke-width="0.8"/>
<rect x="417.5" y="630.7" width="4.5" height="4.5" fill="none" stroke="#404080" stroke-width="1"/><path d="M417.5 633.0H422.0M419.8 630.7V635.2" stroke="#404080" stroke-width="0.8"/>
<rect x="428.1" y="617.7" width="4.5" height="4.5" fill="none" stroke="#404080" stroke-width="1"/><path d="M428.1 619.9H432.6M430.4 617.7V622.2" stroke="#404080" stroke-width="0.8"/>
<rect x="438.7" y="588.4" width="4.5" height="4.5" fill="none" stroke="#404080" stroke-width="1"/><path d="M438.7 590.6H443.2M441.0 588.4V592.9" stroke="#404080" stroke-width="0.8"/>
<rect x="449.4" y="524.8" width="4.5" height="4.5" fill="none" stroke="#404080" stroke-width="1"/><path d="M449.4 527.0H453.9M451.6 524.8V529.3" stroke="#404080" stroke-width="0.8"/>
<rect x="460.0" y="508.8" width="4.5" height="4.5" fill="none" stroke="#404080" stroke-width="1"/><path d="M460.0 511.1H464.5M462.3 508.8V513.3" stroke="#404080" stroke-width="0.8"/>
<rect x="470.6" y="547.5" width="4.5" height="4.5" fill="none" stroke="#404080" stroke-width="1"/><path d="M470.6 549.7H475.1M472.9 547.5V552.0" stroke="#404080" stroke-width="0.8"/>
<rect x="481.2" y="573.3" width="4.5" height="4.5" fill="none" stroke="#404080" stroke-width="1"/><path d="M481.2 575.6H485.8M483.5 573.3V577.8" stroke="#404080" stroke-width="0.8"/>
<path d="M58.5 663.4L69.1 663.9L79.7 664.5L90.4 663.9L101.0 635.0L111.6 657.7L122.2 656.3L132.9 656.3L143.5 655.4L154.1 654.3L164.8 652.6L175.4 650.6L186.0 648.3L196.6 645.2L207.3 640.9L217.9 634.1L228.5 626.7L239.1 616.5L249.8 602.9L260.4 587.8L271.0 573.6L281.6 565.4L292.2 565.9L302.9 575.0L313.5 585.8L324.1 596.9L334.7 606.6L345.4 614.2L356.0 620.2L366.6 624.5L377.2 627.3L387.9 629.0L398.5 629.6L409.1 628.7L419.8 623.9L430.4 613.9L441.0 590.1L451.6 534.4L462.3 494.0L472.9 529.0L483.5 565.6" stroke="#30a0a0" stroke-width="1" fill="none"/>
<rect x="56.2" y="661.1" width="4.5" height="4.5" fill="none" stroke="#2a9a9a" stroke-width="1.1"/><circle cx="58.5" cy="663.4" r="1.12" fill="none" stroke="#2a9a9a" stroke-width="0.8"/>
<rect x="66.9" y="661.7" width="4.5" height="4.5" fill="none" stroke="#2a9a9a" stroke-width="1.1"/><circle cx="69.1" cy="663.9" r="1.12" fill="none" stroke="#2a9a9a" stroke-width="0.8"/>
<rect x="77.5" y="662.3" width="4.5" height="4.5" fill="none" stroke="#2a9a9a" stroke-width="1.1"/><circle cx="79.7" cy="664.5" r="1.12" fill="none" stroke="#2a9a9a" stroke-width="0.8"/>
<rect x="88.1" y="661.7" width="4.5" height="4.5" fill="none" stroke="#2a9a9a" stroke-width="1.1"/><circle cx="90.4" cy="663.9" r="1.12" fill="none" stroke="#2a9a9a" stroke-width="0.8"/>
<rect x="98.8" y="632.7" width="4.5" height="4.5" fill="none" stroke="#2a9a9a" stroke-width="1.1"/><circle cx="101.0" cy="635.0" r="1.12" fill="none" stroke="#2a9a9a" stroke-width="0.8"/>
<rect x="109.4" y="655.4" width="4.5" height="4.5" fill="none" stroke="#2a9a9a" stroke-width="1.1"/><circle cx="111.6" cy="657.7" r="1.12" fill="none" stroke="#2a9a9a" stroke-width="0.8"/>
<rect x="120.0" y="654.0" width="4.5" height="4.5" fill="none" stroke="#2a9a9a" stroke-width="1.1"/><circle cx="122.2" cy="656.3" r="1.12" fill="none" stroke="#2a9a9a" stroke-width="0.8"/>
<rect x="130.6" y="654.0" width="4.5" height="4.5" fill="none" stroke="#2a9a9a" stroke-width="1.1"/><circle cx="132.9" cy="656.3" r="1.12" fill="none" stroke="#2a9a9a" stroke-width="0.8"/>
<rect x="141.3" y="653.2" width="4.5" height="4.5" fill="none" stroke="#2a9a9a" stroke-width="1.1"/><circle cx="143.5" cy="655.4" r="1.12" fill="none" stroke="#2a9a9a" stroke-width="0.8"/>
<rect x="151.9" y="652.0" width="4.5" height="4.5" fill="none" stroke="#2a9a9a" stroke-width="1.1"/><circle cx="154.1" cy="654.3" r="1.12" fill="none" stroke="#2a9a9a" stroke-width="0.8"/>
<rect x="162.5" y="650.3" width="4.5" height="4.5" fill="none" stroke="#2a9a9a" stroke-width="1.1"/><circle cx="164.8" cy="652.6" r="1.12" fill="none" stroke="#2a9a9a" stroke-width="0.8"/>
<rect x="173.1" y="648.3" width="4.5" height="4.5" fill="none" stroke="#2a9a9a" stroke-width="1.1"/><circle cx="175.4" cy="650.6" r="1.12" fill="none" stroke="#2a9a9a" stroke-width="0.8"/>
<rect x="183.7" y="646.1" width="4.5" height="4.5" fill="none" stroke="#2a9a9a" stroke-width="1.1"/><circle cx="186.0" cy="648.3" r="1.12" fill="none" stroke="#2a9a9a" stroke-width="0.8"/>
<rect x="194.4" y="642.9" width="4.5" height="4.5" fill="none" stroke="#2a9a9a" stroke-width="1.1"/><circle cx="196.6" cy="645.2" r="1.12" fill="none" stroke="#2a9a9a" stroke-width="0.8"/>
<rect x="205.0" y="638.7" width="4.5" height="4.5" fill="none" stroke="#2a9a9a" stroke-width="1.1"/><circle cx="207.3" cy="640.9" r="1.12" fill="none" stroke="#2a9a9a" stroke-width="0.8"/>
<rect x="215.6" y="631.9" width="4.5" height="4.5" fill="none" stroke="#2a9a9a" stroke-width="1.1"/><circle cx="217.9" cy="634.1" r="1.12" fill="none" stroke="#2a9a9a" stroke-width="0.8"/>
<rect x="226.2" y="624.5" width="4.5" height="4.5" fill="none" stroke="#2a9a9a" stroke-width="1.1"/><circle cx="228.5" cy="626.7" r="1.12" fill="none" stroke="#2a9a9a" stroke-width="0.8"/>
<rect x="236.9" y="614.2" width="4.5" height="4.5" fill="none" stroke="#2a9a9a" stroke-width="1.1"/><circle cx="239.1" cy="616.5" r="1.12" fill="none" stroke="#2a9a9a" stroke-width="0.8"/>
<rect x="247.5" y="600.6" width="4.5" height="4.5" fill="none" stroke="#2a9a9a" stroke-width="1.1"/><circle cx="249.8" cy="602.9" r="1.12" fill="none" stroke="#2a9a9a" stroke-width="0.8"/>
<rect x="258.1" y="585.6" width="4.5" height="4.5" fill="none" stroke="#2a9a9a" stroke-width="1.1"/><circle cx="260.4" cy="587.8" r="1.12" fill="none" stroke="#2a9a9a" stroke-width="0.8"/>
<rect x="268.8" y="571.3" width="4.5" height="4.5" fill="none" stroke="#2a9a9a" stroke-width="1.1"/><circle cx="271.0" cy="573.6" r="1.12" fill="none" stroke="#2a9a9a" stroke-width="0.8"/>
<rect x="279.4" y="563.1" width="4.5" height="4.5" fill="none" stroke="#2a9a9a" stroke-width="1.1"/><circle cx="281.6" cy="565.4" r="1.12" fill="none" stroke="#2a9a9a" stroke-width="0.8"/>
<rect x="290.0" y="563.7" width="4.5" height="4.5" fill="none" stroke="#2a9a9a" stroke-width="1.1"/><circle cx="292.2" cy="565.9" r="1.12" fill="none" stroke="#2a9a9a" stroke-width="0.8"/>
<rect x="300.6" y="572.8" width="4.5" height="4.5" fill="none" stroke="#2a9a9a" stroke-width="1.1"/><circle cx="302.9" cy="575.0" r="1.12" fill="none" stroke="#2a9a9a" stroke-width="0.8"/>
<rect x="311.2" y="583.6" width="4.5" height="4.5" fill="none" stroke="#2a9a9a" stroke-width="1.1"/><circle cx="313.5" cy="585.8" r="1.12" fill="none" stroke="#2a9a9a" stroke-width="0.8"/>
<rect x="321.9" y="594.6" width="4.5" height="4.5" fill="none" stroke="#2a9a9a" stroke-width="1.1"/><circle cx="324.1" cy="596.9" r="1.12" fill="none" stroke="#2a9a9a" stroke-width="0.8"/>
<rect x="332.5" y="604.3" width="4.5" height="4.5" fill="none" stroke="#2a9a9a" stroke-width="1.1"/><circle cx="334.7" cy="606.6" r="1.12" fill="none" stroke="#2a9a9a" stroke-width="0.8"/>
<rect x="343.1" y="612.0" width="4.5" height="4.5" fill="none" stroke="#2a9a9a" stroke-width="1.1"/><circle cx="345.4" cy="614.2" r="1.12" fill="none" stroke="#2a9a9a" stroke-width="0.8"/>
<rect x="353.8" y="617.9" width="4.5" height="4.5" fill="none" stroke="#2a9a9a" stroke-width="1.1"/><circle cx="356.0" cy="620.2" r="1.12" fill="none" stroke="#2a9a9a" stroke-width="0.8"/>
<rect x="364.4" y="622.2" width="4.5" height="4.5" fill="none" stroke="#2a9a9a" stroke-width="1.1"/><circle cx="366.6" cy="624.5" r="1.12" fill="none" stroke="#2a9a9a" stroke-width="0.8"/>
<rect x="375.0" y="625.0" width="4.5" height="4.5" fill="none" stroke="#2a9a9a" stroke-width="1.1"/><circle cx="377.2" cy="627.3" r="1.12" fill="none" stroke="#2a9a9a" stroke-width="0.8"/>
<rect x="385.6" y="626.7" width="4.5" height="4.5" fill="none" stroke="#2a9a9a" stroke-width="1.1"/><circle cx="387.9" cy="629.0" r="1.12" fill="none" stroke="#2a9a9a" stroke-width="0.8"/>
<rect x="396.2" y="627.3" width="4.5" height="4.5" fill="none" stroke="#2a9a9a" stroke-width="1.1"/><circle cx="398.5" cy="629.6" r="1.12" fill="none" stroke="#2a9a9a" stroke-width="0.8"/>
<rect x="406.9" y="626.5" width="4.5" height="4.5" fill="none" stroke="#2a9a9a" stroke-width="1.1"/><circle cx="409.1" cy="628.7" r="1.12" fill="none" stroke="#2a9a9a" stroke-width="0.8"/>
<rect x="417.5" y="621.6" width="4.5" height="4.5" fill="none" stroke="#2a9a9a" stroke-width="1.1"/><circle cx="419.8" cy="623.9" r="1.12" fill="none" stroke="#2a9a9a" stroke-width="0.8"/>
<rect x="428.1" y="611.7" width="4.5" height="4.5" fill="none" stroke="#2a9a9a" stroke-width="1.1"/><circle cx="430.4" cy="613.9" r="1.12" fill="none" stroke="#2a9a9a" stroke-width="0.8"/>
<rect x="438.7" y="587.8" width="4.5" height="4.5" fill="none" stroke="#2a9a9a" stroke-width="1.1"/><circle cx="441.0" cy="590.1" r="1.12" fill="none" stroke="#2a9a9a" stroke-width="0.8"/>
<rect x="449.4" y="532.1" width="4.5" height="4.5" fill="none" stroke="#2a9a9a" stroke-width="1.1"/><circle cx="451.6" cy="534.4" r="1.12" fill="none" stroke="#2a9a9a" stroke-width="0.8"/>
<rect x="460.0" y="491.8" width="4.5" height="4.5" fill="none" stroke="#2a9a9a" stroke-width="1.1"/><circle cx="462.3" cy="494.0" r="1.12" fill="none" stroke="#2a9a9a" stroke-width="0.8"/>
<rect x="470.6" y="526.7" width="4.5" height="4.5" fill="none" stroke="#2a9a9a" stroke-width="1.1"/><circle cx="472.9" cy="529.0" r="1.12" fill="none" stroke="#2a9a9a" stroke-width="0.8"/>
<rect x="481.2" y="563.4" width="4.5" height="4.5" fill="none" stroke="#2a9a9a" stroke-width="1.1"/><circle cx="483.5" cy="565.6" r="1.12" fill="none" stroke="#2a9a9a" stroke-width="0.8"/>
<path d="M58.5 666.8L69.1 667.3L79.7 668.2L90.4 667.6L101.0 621.9L111.6 640.9L122.2 654.3L132.9 655.4L143.5 654.8L154.1 652.6L164.8 652.6L175.4 648.6L186.0 644.1L196.6 637.8L207.3 631.3L217.9 620.8L228.5 608.0L239.1 590.4L249.8 568.2L260.4 544.0L271.0 521.9L281.6 506.8L292.2 506.5L302.9 517.9L313.5 535.0L324.1 553.1L334.7 570.2L345.4 583.8L356.0 594.3L366.6 603.1L377.2 608.8L387.9 613.4L398.5 614.5L409.1 613.1L419.8 604.8L430.4 588.1L441.0 544.9L451.6 514.2L462.3 544.0L472.9 581.0L483.5 597.2" stroke="#a050b8" stroke-width="1" fill="none"/>
<path d="M58.5 669.6L61.4 663.9L55.6 663.9Z" fill="#6c1080"/>
<path d="M69.1 670.2L72.0 664.5L66.3 664.5Z" fill="#6c1080"/>
<path d="M79.7 671.1L82.6 665.4L76.9 665.4Z" fill="#6c1080"/>
<path d="M90.4 670.5L93.2 664.8L87.5 664.8Z" fill="#6c1080"/>
<path d="M101.0 624.7L103.9 619.0L98.2 619.0Z" fill="#6c1080"/>
<path d="M111.6 643.8L114.5 638.1L108.8 638.1Z" fill="#6c1080"/>
<path d="M122.2 657.1L125.1 651.4L119.4 651.4Z" fill="#6c1080"/>
<path d="M132.9 658.3L135.7 652.6L130.0 652.6Z" fill="#6c1080"/>
<path d="M143.5 657.7L146.4 652.0L140.7 652.0Z" fill="#6c1080"/>
<path d="M154.1 655.4L157.0 649.7L151.3 649.7Z" fill="#6c1080"/>
<path d="M164.8 655.4L167.6 649.7L161.9 649.7Z" fill="#6c1080"/>
<path d="M175.4 651.4L178.2 645.7L172.5 645.7Z" fill="#6c1080"/>
<path d="M186.0 646.9L188.8 641.2L183.1 641.2Z" fill="#6c1080"/>
<path d="M196.6 640.7L199.5 635.0L193.8 635.0Z" fill="#6c1080"/>
<path d="M207.3 634.1L210.1 628.4L204.4 628.4Z" fill="#6c1080"/>
<path d="M217.9 623.6L220.7 617.9L215.0 617.9Z" fill="#6c1080"/>
<path d="M228.5 610.8L231.3 605.1L225.6 605.1Z" fill="#6c1080"/>
<path d="M239.1 593.2L242.0 587.5L236.3 587.5Z" fill="#6c1080"/>
<path d="M249.8 571.0L252.6 565.3L246.9 565.3Z" fill="#6c1080"/>
<path d="M260.4 546.9L263.2 541.2L257.5 541.2Z" fill="#6c1080"/>
<path d="M271.0 524.7L273.9 519.0L268.1 519.0Z" fill="#6c1080"/>
<path d="M281.6 509.7L284.5 504.0L278.8 504.0Z" fill="#6c1080"/>
<path d="M292.2 509.4L295.1 503.7L289.4 503.7Z" fill="#6c1080"/>
<path d="M302.9 520.8L305.7 515.1L300.0 515.1Z" fill="#6c1080"/>
<path d="M313.5 537.8L316.4 532.1L310.6 532.1Z" fill="#6c1080"/>
<path d="M324.1 556.0L327.0 550.3L321.3 550.3Z" fill="#6c1080"/>
<path d="M334.7 573.0L337.6 567.3L331.9 567.3Z" fill="#6c1080"/>
<path d="M345.4 586.7L348.2 581.0L342.5 581.0Z" fill="#6c1080"/>
<path d="M356.0 597.2L358.9 591.5L353.2 591.5Z" fill="#6c1080"/>
<path d="M366.6 606.0L369.5 600.3L363.8 600.3Z" fill="#6c1080"/>
<path d="M377.2 611.7L380.1 606.0L374.4 606.0Z" fill="#6c1080"/>
<path d="M387.9 616.2L390.7 610.5L385.0 610.5Z" fill="#6c1080"/>
<path d="M398.5 617.4L401.3 611.7L395.6 611.7Z" fill="#6c1080"/>
<path d="M409.1 615.9L412.0 610.2L406.3 610.2Z" fill="#6c1080"/>
<path d="M419.8 607.7L422.6 602.0L416.9 602.0Z" fill="#6c1080"/>
<path d="M430.4 590.9L433.2 585.2L427.5 585.2Z" fill="#6c1080"/>
<path d="M441.0 547.8L443.8 542.1L438.1 542.1Z" fill="#6c1080"/>
<path d="M451.6 517.1L454.5 511.4L448.8 511.4Z" fill="#6c1080"/>
<path d="M462.3 546.9L465.1 541.2L459.4 541.2Z" fill="#6c1080"/>
<path d="M472.9 583.8L475.7 578.1L470.0 578.1Z" fill="#6c1080"/>
<path d="M483.5 600.0L486.4 594.3L480.6 594.3Z" fill="#6c1080"/>
<path d="M58.5 671.9L69.1 670.8L79.7 669.6L90.4 667.3L101.0 663.4L111.6 657.7L122.2 644.9L132.9 654.8L143.5 656.3L154.1 653.4L164.8 648.6L175.4 641.8L186.0 633.0L196.6 620.8L207.3 605.7L217.9 586.7L228.5 563.1L239.1 534.1L249.8 501.7L260.4 469.9L271.0 444.6L281.6 431.3L292.2 432.1L302.9 446.3L313.5 465.4L324.1 487.2L334.7 508.5L345.4 527.6L356.0 544.0L366.6 556.8L377.2 567.6L387.9 575.9L398.5 580.4L409.1 578.4L419.8 550.0L430.4 548.3L441.0 527.0L451.6 529.8L462.3 571.6L472.9 592.6L483.5 602.3" stroke="#a8a868" stroke-width="1" fill="none"/>
<path d="M58.5 669.0L61.4 674.7L55.6 674.7Z" fill="#757520"/>
<path d="M69.1 667.9L72.0 673.6L66.3 673.6Z" fill="#757520"/>
<path d="M79.7 666.8L82.6 672.5L76.9 672.5Z" fill="#757520"/>
<path d="M90.4 664.5L93.2 670.2L87.5 670.2Z" fill="#757520"/>
<path d="M101.0 660.5L103.9 666.2L98.2 666.2Z" fill="#757520"/>
<path d="M111.6 654.8L114.5 660.5L108.8 660.5Z" fill="#757520"/>
<path d="M122.2 642.1L125.1 647.8L119.4 647.8Z" fill="#757520"/>
<path d="M132.9 652.0L135.7 657.7L130.0 657.7Z" fill="#757520"/>
<path d="M143.5 653.4L146.4 659.1L140.7 659.1Z" fill="#757520"/>
<path d="M154.1 650.6L157.0 656.3L151.3 656.3Z" fill="#757520"/>
<path d="M164.8 645.7L167.6 651.4L161.9 651.4Z" fill="#757520"/>
<path d="M175.4 638.9L178.2 644.6L172.5 644.6Z" fill="#757520"/>
<path d="M186.0 630.1L188.8 635.8L183.1 635.8Z" fill="#757520"/>
<path d="M196.6 617.9L199.5 623.6L193.8 623.6Z" fill="#757520"/>
<path d="M207.3 602.8L210.1 608.5L204.4 608.5Z" fill="#757520"/>
<path d="M217.9 583.8L220.7 589.5L215.0 589.5Z" fill="#757520"/>
<path d="M228.5 560.2L231.3 565.9L225.6 565.9Z" fill="#757520"/>
<path d="M239.1 531.3L242.0 537.0L236.3 537.0Z" fill="#757520"/>
<path d="M249.8 498.9L252.6 504.6L246.9 504.6Z" fill="#757520"/>
<path d="M260.4 467.0L263.2 472.7L257.5 472.7Z" fill="#757520"/>
<path d="M271.0 441.8L273.9 447.5L268.1 447.5Z" fill="#757520"/>
<path d="M281.6 428.4L284.5 434.1L278.8 434.1Z" fill="#757520"/>
<path d="M292.2 429.3L295.1 435.0L289.4 435.0Z" fill="#757520"/>
<path d="M302.9 443.5L305.7 449.2L300.0 449.2Z" fill="#757520"/>
<path d="M313.5 462.5L316.4 468.2L310.6 468.2Z" fill="#757520"/>
<path d="M324.1 484.4L327.0 490.1L321.3 490.1Z" fill="#757520"/>
<path d="M334.7 505.7L337.6 511.4L331.9 511.4Z" fill="#757520"/>
<path d="M345.4 524.7L348.2 530.4L342.5 530.4Z" fill="#757520"/>
<path d="M356.0 541.2L358.9 546.9L353.2 546.9Z" fill="#757520"/>
<path d="M366.6 554.0L369.5 559.7L363.8 559.7Z" fill="#757520"/>
<path d="M377.2 564.8L380.1 570.5L374.4 570.5Z" fill="#757520"/>
<path d="M387.9 573.0L390.7 578.7L385.0 578.7Z" fill="#757520"/>
<path d="M398.5 577.6L401.3 583.3L395.6 583.3Z" fill="#757520"/>
<path d="M409.1 575.6L412.0 581.3L406.3 581.3Z" fill="#757520"/>
<path d="M419.8 547.2L422.6 552.9L416.9 552.9Z" fill="#757520"/>
<path d="M430.4 545.5L433.2 551.2L427.5 551.2Z" fill="#757520"/>
<path d="M441.0 524.2L443.8 529.9L438.1 529.9Z" fill="#757520"/>
<path d="M451.6 527.0L454.5 532.7L448.8 532.7Z" fill="#757520"/>
<path d="M462.3 568.8L465.1 574.5L459.4 574.5Z" fill="#757520"/>
<path d="M472.9 589.8L475.7 595.5L470.0 595.5Z" fill="#757520"/>
<path d="M483.5 599.4L486.4 605.1L480.6 605.1Z" fill="#757520"/>
<path d="M58.5 674.7L69.1 673.6L79.7 672.2L90.4 670.8L101.0 667.6L111.6 646.3L122.2 612.5L132.9 655.7L143.5 656.3L154.1 652.6L164.8 646.3L175.4 638.4L186.0 627.9L196.6 614.2L207.3 598.0L217.9 576.4L228.5 551.2L239.1 521.0L249.8 488.1L260.4 456.5L271.0 430.7L281.6 415.9L292.2 413.4L302.9 423.0L313.5 439.5L324.1 460.0L334.7 480.7L345.4 500.0L356.0 517.1L366.6 532.1L377.2 544.9L387.9 554.8L398.5 562.2L409.1 564.8L419.8 554.3L430.4 510.0L441.0 532.1L451.6 520.8L462.3 551.7L472.9 580.4L483.5 594.1" stroke="#7f8fd8" stroke-width="1" fill="none"/>
<rect x="56.0" y="672.2" width="5.1" height="5.1" fill="#2a46a8"/>
<rect x="66.6" y="671.0" width="5.1" height="5.1" fill="#2a46a8"/>
<rect x="77.2" y="669.6" width="5.1" height="5.1" fill="#2a46a8"/>
<rect x="87.8" y="668.2" width="5.1" height="5.1" fill="#2a46a8"/>
<rect x="98.5" y="665.1" width="5.1" height="5.1" fill="#2a46a8"/>
<rect x="109.1" y="643.8" width="5.1" height="5.1" fill="#2a46a8"/>
<rect x="119.7" y="610.0" width="5.1" height="5.1" fill="#2a46a8"/>
<rect x="130.3" y="653.2" width="5.1" height="5.1" fill="#2a46a8"/>
<rect x="141.0" y="653.7" width="5.1" height="5.1" fill="#2a46a8"/>
<rect x="151.6" y="650.0" width="5.1" height="5.1" fill="#2a46a8"/>
<rect x="162.2" y="643.8" width="5.1" height="5.1" fill="#2a46a8"/>
<rect x="172.8" y="635.8" width="5.1" height="5.1" fill="#2a46a8"/>
<rect x="183.4" y="625.3" width="5.1" height="5.1" fill="#2a46a8"/>
<rect x="194.1" y="611.7" width="5.1" height="5.1" fill="#2a46a8"/>
<rect x="204.7" y="595.5" width="5.1" height="5.1" fill="#2a46a8"/>
<rect x="215.3" y="573.9" width="5.1" height="5.1" fill="#2a46a8"/>
<rect x="225.9" y="548.6" width="5.1" height="5.1" fill="#2a46a8"/>
<rect x="236.6" y="518.5" width="5.1" height="5.1" fill="#2a46a8"/>
<rect x="247.2" y="485.5" width="5.1" height="5.1" fill="#2a46a8"/>
<rect x="257.8" y="454.0" width="5.1" height="5.1" fill="#2a46a8"/>
<rect x="268.4" y="428.1" width="5.1" height="5.1" fill="#2a46a8"/>
<rect x="279.1" y="413.4" width="5.1" height="5.1" fill="#2a46a8"/>
<rect x="289.7" y="410.8" width="5.1" height="5.1" fill="#2a46a8"/>
<rect x="300.3" y="420.5" width="5.1" height="5.1" fill="#2a46a8"/>
<rect x="310.9" y="437.0" width="5.1" height="5.1" fill="#2a46a8"/>
<rect x="321.6" y="457.4" width="5.1" height="5.1" fill="#2a46a8"/>
<rect x="332.2" y="478.1" width="5.1" height="5.1" fill="#2a46a8"/>
<rect x="342.8" y="497.5" width="5.1" height="5.1" fill="#2a46a8"/>
<rect x="353.5" y="514.5" width="5.1" height="5.1" fill="#2a46a8"/>
<rect x="364.1" y="529.6" width="5.1" height="5.1" fill="#2a46a8"/>
<rect x="374.7" y="542.4" width="5.1" height="5.1" fill="#2a46a8"/>
<rect x="385.3" y="552.3" width="5.1" height="5.1" fill="#2a46a8"/>
<rect x="395.9" y="559.7" width="5.1" height="5.1" fill="#2a46a8"/>
<rect x="406.6" y="562.2" width="5.1" height="5.1" fill="#2a46a8"/>
<rect x="417.2" y="551.7" width="5.1" height="5.1" fill="#2a46a8"/>
<rect x="427.8" y="507.4" width="5.1" height="5.1" fill="#2a46a8"/>
<rect x="438.4" y="529.6" width="5.1" height="5.1" fill="#2a46a8"/>
<rect x="449.1" y="518.2" width="5.1" height="5.1" fill="#2a46a8"/>
<rect x="459.7" y="549.2" width="5.1" height="5.1" fill="#2a46a8"/>
<rect x="470.3" y="577.9" width="5.1" height="5.1" fill="#2a46a8"/>
<rect x="480.9" y="591.5" width="5.1" height="5.1" fill="#2a46a8"/>
<path d="M58.5 673.3L69.1 671.9L79.7 669.9L90.4 666.5L101.0 662.8L111.6 657.4L122.2 651.2L132.9 647.7L143.5 640.4L154.1 629.6L164.8 618.2L175.4 603.4L186.0 586.1L196.6 564.5L207.3 539.5L217.9 511.4L228.5 482.1L239.1 453.1L249.8 428.4L260.4 411.7L271.0 404.8L281.6 405.4L292.2 414.5L302.9 428.4L313.5 444.0L324.1 460.5L334.7 476.7L345.4 489.5L356.0 493.5L366.6 486.9L377.2 504.3L387.9 525.9L398.5 540.6L409.1 552.0L419.8 561.1L430.4 569.9L441.0 576.2L451.6 581.6L462.3 585.0L472.9 588.7L483.5 592.1" stroke="#1f8a50" stroke-width="1" fill="none"/>
<path d="M58.5 670.4L61.4 673.3L58.5 676.2L55.6 673.3Z" fill="#17783c"/>
<path d="M69.1 669.0L72.0 671.9L69.1 674.8L66.2 671.9Z" fill="#17783c"/>
<path d="M79.7 667.0L82.6 669.9L79.7 672.8L76.8 669.9Z" fill="#17783c"/>
<path d="M90.4 663.6L93.3 666.5L90.4 669.4L87.5 666.5Z" fill="#17783c"/>
<path d="M101.0 659.9L103.9 662.8L101.0 665.7L98.1 662.8Z" fill="#17783c"/>
<path d="M111.6 654.5L114.5 657.4L111.6 660.3L108.7 657.4Z" fill="#17783c"/>
<path d="M122.2 648.3L125.1 651.2L122.2 654.1L119.3 651.2Z" fill="#17783c"/>
<path d="M132.9 644.8L135.8 647.7L132.9 650.6L130.0 647.7Z" fill="#17783c"/>
<path d="M143.5 637.5L146.4 640.4L143.5 643.3L140.6 640.4Z" fill="#17783c"/>
<path d="M154.1 626.7L157.0 629.6L154.1 632.5L151.2 629.6Z" fill="#17783c"/>
<path d="M164.8 615.3L167.7 618.2L164.8 621.1L161.8 618.2Z" fill="#17783c"/>
<path d="M175.4 600.5L178.3 603.4L175.4 606.3L172.5 603.4Z" fill="#17783c"/>
<path d="M186.0 583.2L188.9 586.1L186.0 589.0L183.1 586.1Z" fill="#17783c"/>
<path d="M196.6 561.6L199.5 564.5L196.6 567.4L193.7 564.5Z" fill="#17783c"/>
<path d="M207.3 536.6L210.2 539.5L207.3 542.4L204.4 539.5Z" fill="#17783c"/>
<path d="M217.9 508.5L220.8 511.4L217.9 514.3L215.0 511.4Z" fill="#17783c"/>
<path d="M228.5 479.2L231.4 482.1L228.5 485.0L225.6 482.1Z" fill="#17783c"/>
<path d="M239.1 450.2L242.0 453.1L239.1 456.0L236.2 453.1Z" fill="#17783c"/>
<path d="M249.8 425.5L252.7 428.4L249.8 431.3L246.9 428.4Z" fill="#17783c"/>
<path d="M260.4 408.8L263.3 411.7L260.4 414.6L257.5 411.7Z" fill="#17783c"/>
<path d="M271.0 401.9L273.9 404.8L271.0 407.7L268.1 404.8Z" fill="#17783c"/>
<path d="M281.6 402.5L284.5 405.4L281.6 408.3L278.7 405.4Z" fill="#17783c"/>
<path d="M292.2 411.6L295.1 414.5L292.2 417.4L289.3 414.5Z" fill="#17783c"/>
<path d="M302.9 425.5L305.8 428.4L302.9 431.3L300.0 428.4Z" fill="#17783c"/>
<path d="M313.5 441.1L316.4 444.0L313.5 446.9L310.6 444.0Z" fill="#17783c"/>
<path d="M324.1 457.6L327.0 460.5L324.1 463.4L321.2 460.5Z" fill="#17783c"/>
<path d="M334.7 473.8L337.6 476.7L334.7 479.6L331.8 476.7Z" fill="#17783c"/>
<path d="M345.4 486.6L348.3 489.5L345.4 492.4L342.5 489.5Z" fill="#17783c"/>
<path d="M356.0 490.6L358.9 493.5L356.0 496.4L353.1 493.5Z" fill="#17783c"/>
<path d="M366.6 484.0L369.5 486.9L366.6 489.8L363.7 486.9Z" fill="#17783c"/>
<path d="M377.2 501.4L380.1 504.3L377.2 507.2L374.4 504.3Z" fill="#17783c"/>
<path d="M387.9 523.0L390.8 525.9L387.9 528.8L385.0 525.9Z" fill="#17783c"/>
<path d="M398.5 537.7L401.4 540.6L398.5 543.5L395.6 540.6Z" fill="#17783c"/>
<path d="M409.1 549.1L412.0 552.0L409.1 554.9L406.2 552.0Z" fill="#17783c"/>
<path d="M419.8 558.2L422.7 561.1L419.8 564.0L416.9 561.1Z" fill="#17783c"/>
<path d="M430.4 567.0L433.3 569.9L430.4 572.8L427.5 569.9Z" fill="#17783c"/>
<path d="M441.0 573.3L443.9 576.2L441.0 579.1L438.1 576.2Z" fill="#17783c"/>
<path d="M451.6 578.7L454.5 581.6L451.6 584.5L448.7 581.6Z" fill="#17783c"/>
<path d="M462.3 582.1L465.2 585.0L462.3 587.9L459.4 585.0Z" fill="#17783c"/>
<path d="M472.9 585.8L475.8 588.7L472.9 591.6L470.0 588.7Z" fill="#17783c"/>
<path d="M483.5 589.2L486.4 592.1L483.5 595.0L480.6 592.1Z" fill="#17783c"/>
<path d="M58.5 671.0L69.1 669.1L79.7 666.5L90.4 663.1L101.0 659.1L111.6 654.0L122.2 648.3L132.9 640.6L143.5 631.6L154.1 619.9L164.8 606.0L175.4 588.9L186.0 569.6L196.6 545.5L207.3 519.0L217.9 489.8L228.5 461.7L239.1 436.1L249.8 416.5L260.4 405.1L271.0 403.1L281.6 408.8L292.2 419.6L302.9 433.5L313.5 448.6L324.1 463.6L334.7 478.4L345.4 492.6L356.0 505.7L366.6 517.3L377.2 528.7L387.9 538.9L398.5 547.7L409.1 556.6L419.8 563.7L430.4 570.2L441.0 576.2L451.6 580.4L462.3 584.7L472.9 587.5L483.5 590.1" stroke="#ea6a78" stroke-width="1" fill="none"/>
<circle cx="58.5" cy="671.0" r="2.55" fill="#d81c30"/>
<circle cx="69.1" cy="669.1" r="2.55" fill="#d81c30"/>
<circle cx="79.7" cy="666.5" r="2.55" fill="#d81c30"/>
<circle cx="90.4" cy="663.1" r="2.55" fill="#d81c30"/>
<circle cx="101.0" cy="659.1" r="2.55" fill="#d81c30"/>
<circle cx="111.6" cy="654.0" r="2.55" fill="#d81c30"/>
<circle cx="122.2" cy="648.3" r="2.55" fill="#d81c30"/>
<circle cx="132.9" cy="640.6" r="2.55" fill="#d81c30"/>
<circle cx="143.5" cy="631.6" r="2.55" fill="#d81c30"/>
<circle cx="154.1" cy="619.9" r="2.55" fill="#d81c30"/>
<circle cx="164.8" cy="606.0" r="2.55" fill="#d81c30"/>
<circle cx="175.4" cy="588.9" r="2.55" fill="#d81c30"/>
<circle cx="186.0" cy="569.6" r="2.55" fill="#d81c30"/>
<circle cx="196.6" cy="545.5" r="2.55" fill="#d81c30"/>
<circle cx="207.3" cy="519.0" r="2.55" fill="#d81c30"/>
<circle cx="217.9" cy="489.8" r="2.55" fill="#d81c30"/>
<circle cx="228.5" cy="461.7" r="2.55" fill="#d81c30"/>
<circle cx="239.1" cy="436.1" r="2.55" fill="#d81c30"/>
<circle cx="249.8" cy="416.5" r="2.55" fill="#d81c30"/>
<circle cx="260.4" cy="405.1" r="2.55" fill="#d81c30"/>
<circle cx="271.0" cy="403.1" r="2.55" fill="#d81c30"/>
<circle cx="281.6" cy="408.8" r="2.55" fill="#d81c30"/>
<circle cx="292.2" cy="419.6" r="2.55" fill="#d81c30"/>
<circle cx="302.9" cy="433.5" r="2.55" fill="#d81c30"/>
<circle cx="313.5" cy="448.6" r="2.55" fill="#d81c30"/>
<circle cx="324.1" cy="463.6" r="2.55" fill="#d81c30"/>
<circle cx="334.7" cy="478.4" r="2.55" fill="#d81c30"/>
<circle cx="345.4" cy="492.6" r="2.55" fill="#d81c30"/>
<circle cx="356.0" cy="505.7" r="2.55" fill="#d81c30"/>
<circle cx="366.6" cy="517.3" r="2.55" fill="#d81c30"/>
<circle cx="377.2" cy="528.7" r="2.55" fill="#d81c30"/>
<circle cx="387.9" cy="538.9" r="2.55" fill="#d81c30"/>
<circle cx="398.5" cy="547.7" r="2.55" fill="#d81c30"/>
<circle cx="409.1" cy="556.6" r="2.55" fill="#d81c30"/>
<circle cx="419.8" cy="563.7" r="2.55" fill="#d81c30"/>
<circle cx="430.4" cy="570.2" r="2.55" fill="#d81c30"/>
<circle cx="441.0" cy="576.2" r="2.55" fill="#d81c30"/>
<circle cx="451.6" cy="580.4" r="2.55" fill="#d81c30"/>
<circle cx="462.3" cy="584.7" r="2.55" fill="#d81c30"/>
<circle cx="472.9" cy="587.5" r="2.55" fill="#d81c30"/>
<circle cx="483.5" cy="590.1" r="2.55" fill="#d81c30"/>
<path d="M58.5 686.1v-5.5M69.1 686.1v-4M79.7 686.1v-4M90.4 686.1v-4M101.0 686.1v-4M111.6 686.1v-5.5M122.2 686.1v-4M132.9 686.1v-4M143.5 686.1v-4M154.1 686.1v-4M164.8 686.1v-5.5M175.4 686.1v-4M186.0 686.1v-4M196.6 686.1v-4M207.3 686.1v-4M217.9 686.1v-5.5M228.5 686.1v-4M239.1 686.1v-4M249.8 686.1v-4M260.4 686.1v-4M271.0 686.1v-5.5M281.6 686.1v-4M292.2 686.1v-4M302.9 686.1v-4M313.5 686.1v-4M324.1 686.1v-5.5M334.7 686.1v-4M345.4 686.1v-4M356.0 686.1v-4M366.6 686.1v-4M377.2 686.1v-5.5M387.9 686.1v-4M398.5 686.1v-4M409.1 686.1v-4M419.8 686.1v-4M430.4 686.1v-5.5M441.0 686.1v-4M451.6 686.1v-4M462.3 686.1v-4M472.9 686.1v-4M483.5 686.1v-5.5M58.5 686.1h5.8M58.5 680.4h3.4M58.5 674.7h3.4M58.5 669.1h3.4M58.5 663.4h3.4M58.5 657.7h5.8M58.5 652.0h3.4M58.5 646.3h3.4M58.5 640.6h3.4M58.5 635.0h3.4M58.5 629.3h5.8M58.5 623.6h3.4M58.5 617.9h3.4M58.5 612.2h3.4M58.5 606.6h3.4M58.5 600.9h5.8M58.5 595.2h3.4M58.5 589.5h3.4M58.5 583.8h3.4M58.5 578.1h3.4M58.5 572.5h5.8M58.5 566.8h3.4M58.5 561.1h3.4M58.5 555.4h3.4M58.5 549.7h3.4M58.5 544.0h5.8M58.5 538.4h3.4M58.5 532.7h3.4M58.5 527.0h3.4M58.5 521.3h3.4M58.5 515.6h5.8M58.5 510.0h3.4M58.5 504.3h3.4M58.5 498.6h3.4M58.5 492.9h3.4M58.5 487.2h5.8M58.5 481.5h3.4M58.5 475.9h3.4M58.5 470.2h3.4M58.5 464.5h3.4M58.5 458.8h5.8M58.5 453.1h3.4M58.5 447.5h3.4M58.5 441.8h3.4M58.5 436.1h3.4M58.5 430.4h5.8M58.5 424.7h3.4M58.5 419.0h3.4M58.5 413.4h3.4M58.5 407.7h3.4M58.5 402.0h5.8" stroke="#222" stroke-width="1" fill="none"/>
<rect x="64.5" y="406.8" width="75.0" height="183.6" fill="#fff" stroke="#444" stroke-width="1"/>
<path d="M68.1 414.6H93.7" stroke="#ea6a78" stroke-width="1.3"/>
<circle cx="81.1" cy="414.6" r="2.45" fill="#d81c30"/>
<text x="96.9" y="417.7" font-size="11" font-weight="bold">On_0°</text>
<path d="M68.1 427.3H93.7" stroke="#1f8a50" stroke-width="1.3"/>
<path d="M81.1 424.3L84.1 427.3L81.1 430.3L78.1 427.3Z" fill="#17783c"/>
<text x="96.9" y="430.4" font-size="11" font-weight="bold">On_15°</text>
<path d="M68.1 439.9H93.7" stroke="#7f8fd8" stroke-width="1.3"/>
<rect x="78.5" y="437.4" width="5.1" height="5.1" fill="#2a46a8"/>
<text x="96.9" y="443.0" font-size="11" font-weight="bold">On_30°</text>
<path d="M68.1 452.6H93.7" stroke="#a8a868" stroke-width="1.3"/>
<path d="M81.1 449.8L83.9 455.4L78.3 455.4Z" fill="#757520"/>
<text x="96.9" y="455.7" font-size="11" font-weight="bold">On_45°</text>
<path d="M68.1 465.2H93.7" stroke="#a050b8" stroke-width="1.3"/>
<path d="M81.1 468.0L83.9 462.4L78.3 462.4Z" fill="#6c1080"/>
<text x="96.9" y="468.3" font-size="11" font-weight="bold">On_60°</text>
<path d="M68.1 477.9H93.7" stroke="#30a0a0" stroke-width="1.3"/>
<rect x="78.8" y="475.7" width="4.5" height="4.5" fill="none" stroke="#2a9a9a" stroke-width="1.1"/><circle cx="81.1" cy="477.9" r="1.12" fill="none" stroke="#2a9a9a" stroke-width="0.8"/>
<text x="96.9" y="481.0" font-size="11" font-weight="bold">On_75°</text>
<path d="M68.1 490.6H93.7" stroke="#a04858" stroke-width="1.3"/>
<rect x="78.8" y="488.3" width="4.5" height="4.5" fill="none" stroke="#404080" stroke-width="1"/><path d="M78.8 490.6H83.3M81.1 488.3V492.8" stroke="#404080" stroke-width="0.8"/>
<text x="96.9" y="493.7" font-size="11" font-weight="bold">On_90°</text>
<path d="M68.1 503.2H93.7" stroke="#e0505a" stroke-width="1.3"/>
<circle cx="81.1" cy="503.2" r="2.10" fill="none" stroke="#e03040" stroke-width="1.0"/>
<text x="96.9" y="506.3" font-size="11" font-weight="bold">Off_0°</text>
<path d="M68.1 515.9H93.7" stroke="#1f8a50" stroke-width="1.3"/>
<path d="M81.1 513.2L83.8 515.9L81.1 518.6L78.4 515.9Z" fill="none" stroke="#1f8a50" stroke-width="1.0"/>
<text x="96.9" y="519.0" font-size="11" font-weight="bold">Off_15°</text>
<path d="M68.1 528.5H93.7" stroke="#7080d0" stroke-width="1.3"/>
<rect x="78.9" y="526.3" width="4.4" height="4.4" fill="none" stroke="#4060c0" stroke-width="1.0"/>
<text x="96.9" y="531.6" font-size="11" font-weight="bold">Off_30°</text>
<path d="M68.1 541.2H93.7" stroke="#a0a050" stroke-width="1.3"/>
<path d="M81.1 538.8L83.5 543.7L78.6 543.7Z" fill="none" stroke="#808020" stroke-width="1.0"/>
<text x="96.9" y="544.3" font-size="11" font-weight="bold">Off_45°</text>
<path d="M68.1 553.9H93.7" stroke="#b050c0" stroke-width="1.3"/>
<path d="M81.1 556.3L83.5 551.4L78.6 551.4Z" fill="none" stroke="#9030a0" stroke-width="1.0"/>
<text x="96.9" y="557.0" font-size="11" font-weight="bold">Off_60°</text>
<path d="M68.1 566.5H93.7" stroke="#30a0a0" stroke-width="1.3"/>
<path d="M78.8 564.2L83.4 568.9M78.8 568.9L83.4 564.2" stroke="#30a0a0" stroke-width="1.0"/>
<text x="96.9" y="569.6" font-size="11" font-weight="bold">Off_75°</text>
<path d="M68.1 579.2H93.7" stroke="#6070a0" stroke-width="1.3"/>
<path d="M81.1 576.6V581.7" stroke="#303070" stroke-width="1.1"/>
<text x="96.9" y="582.3" font-size="11" font-weight="bold">Off_90°</text>
<path d="M58.5 402.0V686.1H483.5" stroke="#0a0a0a" stroke-width="1.4" fill="none" stroke-linecap="square"/>
<path d="M58.5 402.0H483.5" stroke="#1a1a1a" stroke-width="1.7" fill="none" stroke-linecap="square"/>
<path d="M483.5 402.0V686.1" stroke="#1a1a1a" stroke-width="1.4" fill="none"/>
<text x="58.5" y="704.9" font-size="14.3" font-weight="bold" text-anchor="middle">9</text>
<text x="111.6" y="704.9" font-size="14.3" font-weight="bold" text-anchor="middle">9.5</text>
<text x="164.8" y="704.9" font-size="14.3" font-weight="bold" text-anchor="middle">10</text>
<text x="217.9" y="704.9" font-size="14.3" font-weight="bold" text-anchor="middle">10.5</text>
<text x="271.0" y="704.9" font-size="14.3" font-weight="bold" text-anchor="middle">11</text>
<text x="324.1" y="704.9" font-size="14.3" font-weight="bold" text-anchor="middle">11.5</text>
<text x="377.2" y="704.9" font-size="14.3" font-weight="bold" text-anchor="middle">12</text>
<text x="430.4" y="704.9" font-size="14.3" font-weight="bold" text-anchor="middle">12.5</text>
<text x="483.5" y="704.9" font-size="14.3" font-weight="bold" text-anchor="middle">13</text>
<text x="49.1" y="691.2" font-size="14.4" font-weight="bold" text-anchor="end">0</text>
<text x="49.1" y="662.8" font-size="14.4" font-weight="bold" text-anchor="end">0.1</text>
<text x="49.1" y="634.4" font-size="14.4" font-weight="bold" text-anchor="end">0.2</text>
<text x="49.1" y="606.0" font-size="14.4" font-weight="bold" text-anchor="end">0.3</text>
<text x="49.1" y="577.6" font-size="14.4" font-weight="bold" text-anchor="end">0.4</text>
<text x="49.1" y="549.1" font-size="14.4" font-weight="bold" text-anchor="end">0.5</text>
<text x="49.1" y="520.7" font-size="14.4" font-weight="bold" text-anchor="end">0.6</text>
<text x="49.1" y="492.3" font-size="14.4" font-weight="bold" text-anchor="end">0.7</text>
<text x="49.1" y="463.9" font-size="14.4" font-weight="bold" text-anchor="end">0.8</text>
<text x="49.1" y="435.5" font-size="14.4" font-weight="bold" text-anchor="end">0.9</text>
<text x="49.1" y="407.1" font-size="14.4" font-weight="bold" text-anchor="end">1</text>
<text x="272.6" y="728.7" font-size="15.7" font-weight="bold" text-anchor="middle">Frequency [GHz]</text>
<text transform="translate(13.5 542.8) rotate(-90)" font-size="15.9" font-weight="bold" text-anchor="middle">Simulated Absorptivity</text>
<text x="272.2" y="764.9" font-size="21" fill="#d5661f" text-anchor="middle">(c)</text>
<path d="M645.4 403.0V686.0M698.2 403.0V686.0M751.1 403.0V686.0M804.0 403.0V686.0M856.9 403.0V686.0M909.8 403.0V686.0M962.6 403.0V686.0M592.5 657.7H1015.5M592.5 629.4H1015.5M592.5 601.1H1015.5M592.5 572.8H1015.5M592.5 544.5H1015.5M592.5 516.2H1015.5M592.5 487.9H1015.5M592.5 459.6H1015.5M592.5 431.3H1015.5" stroke="#bdbdbd" stroke-width="1" stroke-dasharray="2.6 1.7" fill="none"/>
<path d="M592.5 670.4C594.5 670.2 600.4 669.7 604.4 669.0C608.4 668.3 612.3 667.6 616.3 666.2C620.3 664.8 624.3 662.9 628.2 660.5C632.2 658.2 636.2 654.9 640.1 652.0C644.1 649.2 648.1 646.0 652.0 643.5C656.0 641.1 660.0 638.9 664.0 637.3C667.9 635.8 671.9 635.0 675.9 634.2C679.8 633.5 683.8 632.8 687.8 632.8C691.8 632.8 695.7 633.0 699.7 634.2C703.7 635.4 707.6 637.6 711.6 639.9C715.6 642.1 719.5 645.0 723.5 647.8C727.5 650.6 731.5 653.9 735.4 656.6C739.4 659.2 743.4 661.6 747.3 663.6C751.3 665.7 755.3 667.9 759.2 669.0C763.2 670.2 767.2 670.4 771.1 670.4C775.1 670.4 779.1 670.2 783.1 669.0C787.0 667.8 791.0 665.6 795.0 663.4C798.9 661.1 802.9 658.3 806.9 655.4C810.9 652.6 814.8 649.5 818.8 646.4C822.8 643.2 826.7 639.3 830.7 636.5C834.7 633.6 838.6 631.4 842.6 629.4C846.6 627.4 850.5 625.5 854.5 624.3C858.5 623.1 862.5 622.2 866.4 622.0C870.4 621.9 874.4 622.2 878.3 623.2C882.3 624.2 886.3 626.7 890.2 628.0C894.2 629.3 898.2 630.1 902.2 630.8C906.1 631.5 910.1 632.0 914.1 632.2C918.0 632.5 922.0 632.9 926.0 632.2C930.0 631.5 933.9 630.3 937.9 628.0C941.9 625.7 945.8 622.2 949.8 618.4C953.8 614.5 957.7 609.6 961.7 604.8C965.7 600.0 969.6 594.8 973.6 589.5C977.6 584.2 981.6 577.9 985.5 572.8C989.5 567.7 993.5 563.4 997.4 558.6C1001.4 553.9 1006.3 548.1 1009.4 544.5C1012.4 540.9 1014.5 538.4 1015.5 537.2" stroke="#6070a0" stroke-width="1" fill="none"/>
<path d="M592.5 667.5V673.3" stroke="#303070" stroke-width="1.1"/>
<path d="M604.4 666.1V671.9" stroke="#303070" stroke-width="1.1"/>
<path d="M616.3 663.3V669.1" stroke="#303070" stroke-width="1.1"/>
<path d="M628.2 657.6V663.4" stroke="#303070" stroke-width="1.1"/>
<path d="M640.1 649.1V654.9" stroke="#303070" stroke-width="1.1"/>
<path d="M652.0 640.6V646.4" stroke="#303070" stroke-width="1.1"/>
<path d="M664.0 634.4V640.2" stroke="#303070" stroke-width="1.1"/>
<path d="M675.9 631.3V637.1" stroke="#303070" stroke-width="1.1"/>
<path d="M687.8 629.9V635.7" stroke="#303070" stroke-width="1.1"/>
<path d="M699.7 631.3V637.1" stroke="#303070" stroke-width="1.1"/>
<path d="M711.6 637.0V642.8" stroke="#303070" stroke-width="1.1"/>
<path d="M723.5 644.9V650.7" stroke="#303070" stroke-width="1.1"/>
<path d="M735.4 653.7V659.5" stroke="#303070" stroke-width="1.1"/>
<path d="M747.3 660.7V666.5" stroke="#303070" stroke-width="1.1"/>
<path d="M759.2 666.1V671.9" stroke="#303070" stroke-width="1.1"/>
<path d="M771.1 667.5V673.3" stroke="#303070" stroke-width="1.1"/>
<path d="M783.1 666.1V671.9" stroke="#303070" stroke-width="1.1"/>
<path d="M795.0 660.5V666.3" stroke="#303070" stroke-width="1.1"/>
<path d="M806.9 652.5V658.3" stroke="#303070" stroke-width="1.1"/>
<path d="M818.8 643.5V649.3" stroke="#303070" stroke-width="1.1"/>
<path d="M830.7 633.6V639.4" stroke="#303070" stroke-width="1.1"/>
<path d="M842.6 626.5V632.3" stroke="#303070" stroke-width="1.1"/>
<path d="M854.5 621.4V627.2" stroke="#303070" stroke-width="1.1"/>
<path d="M866.4 619.1V624.9" stroke="#303070" stroke-width="1.1"/>
<path d="M878.3 620.3V626.1" stroke="#303070" stroke-width="1.1"/>
<path d="M890.2 625.1V630.9" stroke="#303070" stroke-width="1.1"/>
<path d="M902.2 627.9V633.7" stroke="#303070" stroke-width="1.1"/>
<path d="M914.1 629.3V635.1" stroke="#303070" stroke-width="1.1"/>
<path d="M926.0 629.3V635.1" stroke="#303070" stroke-width="1.1"/>
<path d="M937.9 625.1V630.9" stroke="#303070" stroke-width="1.1"/>
<path d="M949.8 615.5V621.3" stroke="#303070" stroke-width="1.1"/>
<path d="M961.7 601.9V607.7" stroke="#303070" stroke-width="1.1"/>
<path d="M973.6 586.6V592.4" stroke="#303070" stroke-width="1.1"/>
<path d="M985.5 569.9V575.7" stroke="#303070" stroke-width="1.1"/>
<path d="M997.4 555.8V561.5" stroke="#303070" stroke-width="1.1"/>
<path d="M1009.4 541.6V547.4" stroke="#303070" stroke-width="1.1"/>
<path d="M592.5 676.1C594.5 675.9 600.4 675.9 604.4 674.7C608.4 673.5 612.3 671.1 616.3 669.0C620.3 666.9 624.3 664.3 628.2 661.9C632.2 659.6 636.2 657.5 640.1 654.9C644.1 652.3 648.1 648.7 652.0 646.4C656.0 644.0 660.0 641.9 664.0 640.7C667.9 639.5 671.9 639.1 675.9 639.3C679.8 639.5 683.8 640.8 687.8 642.1C691.8 643.5 695.7 645.2 699.7 647.2C703.7 649.3 707.6 651.8 711.6 654.3C715.6 656.8 719.5 659.7 723.5 662.2C727.5 664.7 731.5 667.9 735.4 669.3C739.4 670.7 743.4 670.5 747.3 670.4C751.3 670.4 755.3 670.1 759.2 669.0C763.2 668.0 767.2 666.1 771.1 664.2C775.1 662.3 779.1 659.8 783.1 657.7C787.0 655.6 791.0 653.9 795.0 651.5C798.9 649.0 802.9 645.6 806.9 643.0C810.9 640.4 814.8 638.0 818.8 635.9C822.8 633.8 826.7 631.9 830.7 630.2C834.7 628.6 838.6 627.0 842.6 626.0C846.6 625.0 850.5 624.7 854.5 624.3C858.5 623.9 862.5 623.6 866.4 623.7C870.4 623.8 874.4 624.3 878.3 624.9C882.3 625.5 886.3 626.4 890.2 627.4C894.2 628.4 898.2 629.9 902.2 630.8C906.1 631.8 910.1 632.6 914.1 633.1C918.0 633.6 922.0 634.0 926.0 633.6C930.0 633.3 933.9 632.4 937.9 630.8C941.9 629.3 945.8 627.1 949.8 624.3C953.8 621.5 957.7 617.9 961.7 614.1C965.7 610.3 969.6 605.9 973.6 601.4C977.6 596.9 981.6 592.2 985.5 587.2C989.5 582.2 993.5 575.9 997.4 571.4C1001.4 566.9 1006.3 562.9 1009.4 560.1C1012.4 557.2 1014.5 555.2 1015.5 554.2" stroke="#30a0a0" stroke-width="1" fill="none"/>
<path d="M589.8 673.4L595.2 678.8M589.8 678.8L595.2 673.4" stroke="#30a0a0" stroke-width="0.95"/>
<path d="M601.7 672.0L607.1 677.4M601.7 677.4L607.1 672.0" stroke="#30a0a0" stroke-width="0.95"/>
<path d="M613.6 666.3L619.0 671.7M613.6 671.7L619.0 666.3" stroke="#30a0a0" stroke-width="0.95"/>
<path d="M625.5 659.2L630.9 664.6M625.5 664.6L630.9 659.2" stroke="#30a0a0" stroke-width="0.95"/>
<path d="M637.4 652.2L642.8 657.6M637.4 657.6L642.8 652.2" stroke="#30a0a0" stroke-width="0.95"/>
<path d="M649.3 643.7L654.8 649.1M649.3 649.1L654.8 643.7" stroke="#30a0a0" stroke-width="0.95"/>
<path d="M661.3 638.0L666.7 643.4M661.3 643.4L666.7 638.0" stroke="#30a0a0" stroke-width="0.95"/>
<path d="M673.2 636.6L678.6 642.0M673.2 642.0L678.6 636.6" stroke="#30a0a0" stroke-width="0.95"/>
<path d="M685.1 639.4L690.5 644.8M685.1 644.8L690.5 639.4" stroke="#30a0a0" stroke-width="0.95"/>
<path d="M697.0 644.5L702.4 649.9M697.0 649.9L702.4 644.5" stroke="#30a0a0" stroke-width="0.95"/>
<path d="M708.9 651.6L714.3 657.0M708.9 657.0L714.3 651.6" stroke="#30a0a0" stroke-width="0.95"/>
<path d="M720.8 659.5L726.2 664.9M720.8 664.9L726.2 659.5" stroke="#30a0a0" stroke-width="0.95"/>
<path d="M732.7 666.6L738.1 672.0M732.7 672.0L738.1 666.6" stroke="#30a0a0" stroke-width="0.95"/>
<path d="M744.6 667.7L750.0 673.1M744.6 673.1L750.0 667.7" stroke="#30a0a0" stroke-width="0.95"/>
<path d="M756.5 666.3L761.9 671.7M756.5 671.7L761.9 666.3" stroke="#30a0a0" stroke-width="0.95"/>
<path d="M768.4 661.5L773.9 666.9M768.4 666.9L773.9 661.5" stroke="#30a0a0" stroke-width="0.95"/>
<path d="M780.4 655.0L785.8 660.4M780.4 660.4L785.8 655.0" stroke="#30a0a0" stroke-width="0.95"/>
<path d="M792.3 648.8L797.7 654.2M792.3 654.2L797.7 648.8" stroke="#30a0a0" stroke-width="0.95"/>
<path d="M804.2 640.3L809.6 645.7M804.2 645.7L809.6 640.3" stroke="#30a0a0" stroke-width="0.95"/>
<path d="M816.1 633.2L821.5 638.6M816.1 638.6L821.5 633.2" stroke="#30a0a0" stroke-width="0.95"/>
<path d="M828.0 627.5L833.4 632.9M828.0 632.9L833.4 627.5" stroke="#30a0a0" stroke-width="0.95"/>
<path d="M839.9 623.3L845.3 628.7M839.9 628.7L845.3 623.3" stroke="#30a0a0" stroke-width="0.95"/>
<path d="M851.8 621.6L857.2 627.0M851.8 627.0L857.2 621.6" stroke="#30a0a0" stroke-width="0.95"/>
<path d="M863.7 621.0L869.1 626.4M863.7 626.4L869.1 621.0" stroke="#30a0a0" stroke-width="0.95"/>
<path d="M875.6 622.2L881.0 627.6M875.6 627.6L881.0 622.2" stroke="#30a0a0" stroke-width="0.95"/>
<path d="M887.5 624.7L892.9 630.1M887.5 630.1L892.9 624.7" stroke="#30a0a0" stroke-width="0.95"/>
<path d="M899.5 628.1L904.9 633.5M899.5 633.5L904.9 628.1" stroke="#30a0a0" stroke-width="0.95"/>
<path d="M911.4 630.4L916.8 635.8M911.4 635.8L916.8 630.4" stroke="#30a0a0" stroke-width="0.95"/>
<path d="M923.3 630.9L928.7 636.3M923.3 636.3L928.7 630.9" stroke="#30a0a0" stroke-width="0.95"/>
<path d="M935.2 628.1L940.6 633.5M935.2 633.5L940.6 628.1" stroke="#30a0a0" stroke-width="0.95"/>
<path d="M947.1 621.6L952.5 627.0M947.1 627.0L952.5 621.6" stroke="#30a0a0" stroke-width="0.95"/>
<path d="M959.0 611.4L964.4 616.8M959.0 616.8L964.4 611.4" stroke="#30a0a0" stroke-width="0.95"/>
<path d="M970.9 598.7L976.3 604.1M970.9 604.1L976.3 598.7" stroke="#30a0a0" stroke-width="0.95"/>
<path d="M982.8 584.5L988.2 589.9M982.8 589.9L988.2 584.5" stroke="#30a0a0" stroke-width="0.95"/>
<path d="M994.7 568.7L1000.1 574.1M994.7 574.1L1000.1 568.7" stroke="#30a0a0" stroke-width="0.95"/>
<path d="M1006.6 557.4L1012.1 562.8M1006.6 562.8L1012.1 557.4" stroke="#30a0a0" stroke-width="0.95"/>
<path d="M592.5 669.0C594.5 668.8 600.4 668.5 604.4 667.6C608.4 666.7 612.3 665.0 616.3 663.4C620.3 661.7 624.3 659.8 628.2 657.7C632.2 655.6 636.2 653.0 640.1 650.6C644.1 648.3 648.1 645.4 652.0 643.5C656.0 641.7 660.0 640.0 664.0 639.3C667.9 638.6 671.9 638.2 675.9 639.3C679.8 640.4 683.8 643.8 687.8 646.1C691.8 648.4 695.7 650.3 699.7 652.9C703.7 655.4 707.6 659.2 711.6 661.4C715.6 663.5 719.5 664.6 723.5 665.9C727.5 667.2 731.5 669.0 735.4 669.3C739.4 669.6 743.4 668.8 747.3 667.6C751.3 666.4 755.3 664.0 759.2 662.2C763.2 660.5 767.2 658.8 771.1 657.1C775.1 655.4 779.1 653.5 783.1 652.0C787.0 650.6 791.0 649.3 795.0 648.4C798.9 647.4 802.9 646.9 806.9 646.4C810.9 645.8 814.8 645.3 818.8 645.0C822.8 644.6 826.7 644.4 830.7 644.1C834.7 643.8 838.6 643.4 842.6 643.0C846.6 642.6 850.5 642.4 854.5 641.9C858.5 641.3 862.5 640.4 866.4 639.9C870.4 639.4 874.4 639.2 878.3 638.7C882.3 638.3 886.3 637.8 890.2 637.3C894.2 636.9 898.2 636.1 902.2 635.9C906.1 635.7 910.1 636.0 914.1 635.9C918.0 635.9 922.0 635.9 926.0 635.6C930.0 635.4 933.9 635.5 937.9 634.5C941.9 633.5 945.8 631.5 949.8 629.4C953.8 627.3 957.7 624.9 961.7 621.8C965.7 618.6 969.6 614.5 973.6 610.7C977.6 606.9 981.6 602.9 985.5 598.8C989.5 594.7 993.5 590.3 997.4 586.1C1001.4 581.9 1006.3 576.8 1009.4 573.6C1012.4 570.5 1014.5 568.3 1015.5 567.2" stroke="#b050c0" stroke-width="1" fill="none"/>
<path d="M592.5 671.9L595.4 666.1L589.6 666.1Z" fill="none" stroke="#9030a0" stroke-width="0.95"/>
<path d="M604.4 670.5L607.3 664.7L601.5 664.7Z" fill="none" stroke="#9030a0" stroke-width="0.95"/>
<path d="M616.3 666.3L619.2 660.5L613.4 660.5Z" fill="none" stroke="#9030a0" stroke-width="0.95"/>
<path d="M628.2 660.6L631.1 654.8L625.3 654.8Z" fill="none" stroke="#9030a0" stroke-width="0.95"/>
<path d="M640.1 653.5L643.0 647.7L637.2 647.7Z" fill="none" stroke="#9030a0" stroke-width="0.95"/>
<path d="M652.0 646.4L654.9 640.6L649.1 640.6Z" fill="none" stroke="#9030a0" stroke-width="0.95"/>
<path d="M664.0 642.2L666.9 636.4L661.1 636.4Z" fill="none" stroke="#9030a0" stroke-width="0.95"/>
<path d="M675.9 642.2L678.8 636.4L673.0 636.4Z" fill="none" stroke="#9030a0" stroke-width="0.95"/>
<path d="M687.8 649.0L690.7 643.2L684.9 643.2Z" fill="none" stroke="#9030a0" stroke-width="0.95"/>
<path d="M699.7 655.8L702.6 650.0L696.8 650.0Z" fill="none" stroke="#9030a0" stroke-width="0.95"/>
<path d="M711.6 664.3L714.5 658.5L708.7 658.5Z" fill="none" stroke="#9030a0" stroke-width="0.95"/>
<path d="M723.5 668.8L726.4 663.0L720.6 663.0Z" fill="none" stroke="#9030a0" stroke-width="0.95"/>
<path d="M735.4 672.2L738.3 666.4L732.5 666.4Z" fill="none" stroke="#9030a0" stroke-width="0.95"/>
<path d="M747.3 670.5L750.2 664.7L744.4 664.7Z" fill="none" stroke="#9030a0" stroke-width="0.95"/>
<path d="M759.2 665.1L762.1 659.3L756.3 659.3Z" fill="none" stroke="#9030a0" stroke-width="0.95"/>
<path d="M771.1 660.0L774.0 654.2L768.2 654.2Z" fill="none" stroke="#9030a0" stroke-width="0.95"/>
<path d="M783.1 654.9L786.0 649.1L780.2 649.1Z" fill="none" stroke="#9030a0" stroke-width="0.95"/>
<path d="M795.0 651.3L797.9 645.5L792.1 645.5Z" fill="none" stroke="#9030a0" stroke-width="0.95"/>
<path d="M806.9 649.3L809.8 643.5L804.0 643.5Z" fill="none" stroke="#9030a0" stroke-width="0.95"/>
<path d="M818.8 647.9L821.7 642.1L815.9 642.1Z" fill="none" stroke="#9030a0" stroke-width="0.95"/>
<path d="M830.7 647.0L833.6 641.2L827.8 641.2Z" fill="none" stroke="#9030a0" stroke-width="0.95"/>
<path d="M842.6 645.9L845.5 640.1L839.7 640.1Z" fill="none" stroke="#9030a0" stroke-width="0.95"/>
<path d="M854.5 644.8L857.4 639.0L851.6 639.0Z" fill="none" stroke="#9030a0" stroke-width="0.95"/>
<path d="M866.4 642.8L869.3 637.0L863.5 637.0Z" fill="none" stroke="#9030a0" stroke-width="0.95"/>
<path d="M878.3 641.6L881.2 635.8L875.4 635.8Z" fill="none" stroke="#9030a0" stroke-width="0.95"/>
<path d="M890.2 640.2L893.1 634.4L887.3 634.4Z" fill="none" stroke="#9030a0" stroke-width="0.95"/>
<path d="M902.2 638.8L905.1 633.0L899.3 633.0Z" fill="none" stroke="#9030a0" stroke-width="0.95"/>
<path d="M914.1 638.8L917.0 633.0L911.2 633.0Z" fill="none" stroke="#9030a0" stroke-width="0.95"/>
<path d="M926.0 638.5L928.9 632.7L923.1 632.7Z" fill="none" stroke="#9030a0" stroke-width="0.95"/>
<path d="M937.9 637.4L940.8 631.6L935.0 631.6Z" fill="none" stroke="#9030a0" stroke-width="0.95"/>
<path d="M949.8 632.3L952.7 626.5L946.9 626.5Z" fill="none" stroke="#9030a0" stroke-width="0.95"/>
<path d="M961.7 624.7L964.6 618.9L958.8 618.9Z" fill="none" stroke="#9030a0" stroke-width="0.95"/>
<path d="M973.6 613.6L976.5 607.8L970.7 607.8Z" fill="none" stroke="#9030a0" stroke-width="0.95"/>
<path d="M985.5 601.7L988.4 595.9L982.6 595.9Z" fill="none" stroke="#9030a0" stroke-width="0.95"/>
<path d="M997.4 589.0L1000.3 583.2L994.5 583.2Z" fill="none" stroke="#9030a0" stroke-width="0.95"/>
<path d="M1009.4 576.5L1012.2 570.7L1006.5 570.7Z" fill="none" stroke="#9030a0" stroke-width="0.95"/>
<path d="M592.5 660.5C594.5 660.8 600.4 661.9 604.4 661.9C608.4 661.9 612.3 661.2 616.3 660.5C620.3 659.8 624.3 658.5 628.2 657.7C632.2 656.9 636.2 656.0 640.1 655.4C644.1 654.9 648.1 654.4 652.0 654.3C656.0 654.2 660.0 653.5 664.0 654.6C667.9 655.7 671.9 658.7 675.9 660.8C679.8 662.9 683.8 665.0 687.8 667.3C691.8 669.7 695.7 672.6 699.7 675.0C703.7 677.3 707.6 679.6 711.6 681.5C715.6 683.3 719.5 685.2 723.5 686.0C727.5 686.8 731.5 686.6 735.4 686.0C739.4 685.4 743.4 684.3 747.3 682.6C751.3 680.9 755.3 678.4 759.2 675.8C763.2 673.3 767.2 670.0 771.1 667.3C775.1 664.7 779.1 662.0 783.1 660.0C787.0 657.9 791.0 656.0 795.0 654.9C798.9 653.7 802.9 653.1 806.9 653.2C810.9 653.3 814.8 654.6 818.8 655.4C822.8 656.3 826.7 656.9 830.7 658.3C834.7 659.6 838.6 662.0 842.6 663.6C846.6 665.2 850.5 666.8 854.5 667.9C858.5 669.0 862.5 670.0 866.4 670.4C870.4 670.9 874.4 670.8 878.3 670.7C882.3 670.6 886.3 670.4 890.2 669.9C894.2 669.3 898.2 668.3 902.2 667.3C906.1 666.3 910.1 664.8 914.1 663.9C918.0 663.1 922.0 662.7 926.0 662.2C930.0 661.8 933.9 661.5 937.9 661.1C941.9 660.7 945.8 660.2 949.8 660.0C953.8 659.7 957.7 660.0 961.7 659.7C965.7 659.4 969.6 658.7 973.6 658.0C977.6 657.3 981.6 656.4 985.5 655.4C989.5 654.4 993.5 653.3 997.4 652.0C1001.4 650.8 1006.3 648.9 1009.4 647.8C1012.4 646.7 1014.5 646.0 1015.5 645.6" stroke="#a0a050" stroke-width="1" fill="none"/>
<path d="M592.5 657.6L595.4 663.4L589.6 663.4Z" fill="none" stroke="#808020" stroke-width="0.95"/>
<path d="M604.4 659.0L607.3 664.8L601.5 664.8Z" fill="none" stroke="#808020" stroke-width="0.95"/>
<path d="M616.3 657.6L619.2 663.4L613.4 663.4Z" fill="none" stroke="#808020" stroke-width="0.95"/>
<path d="M628.2 654.8L631.1 660.6L625.3 660.6Z" fill="none" stroke="#808020" stroke-width="0.95"/>
<path d="M640.1 652.5L643.0 658.3L637.2 658.3Z" fill="none" stroke="#808020" stroke-width="0.95"/>
<path d="M652.0 651.4L654.9 657.2L649.1 657.2Z" fill="none" stroke="#808020" stroke-width="0.95"/>
<path d="M664.0 651.7L666.9 657.5L661.1 657.5Z" fill="none" stroke="#808020" stroke-width="0.95"/>
<path d="M675.9 657.9L678.8 663.7L673.0 663.7Z" fill="none" stroke="#808020" stroke-width="0.95"/>
<path d="M687.8 664.4L690.7 670.2L684.9 670.2Z" fill="none" stroke="#808020" stroke-width="0.95"/>
<path d="M699.7 672.1L702.6 677.9L696.8 677.9Z" fill="none" stroke="#808020" stroke-width="0.95"/>
<path d="M711.6 678.6L714.5 684.4L708.7 684.4Z" fill="none" stroke="#808020" stroke-width="0.95"/>
<path d="M723.5 683.1L726.4 688.9L720.6 688.9Z" fill="none" stroke="#808020" stroke-width="0.95"/>
<path d="M735.4 683.1L738.3 688.9L732.5 688.9Z" fill="none" stroke="#808020" stroke-width="0.95"/>
<path d="M747.3 679.7L750.2 685.5L744.4 685.5Z" fill="none" stroke="#808020" stroke-width="0.95"/>
<path d="M759.2 672.9L762.1 678.7L756.3 678.7Z" fill="none" stroke="#808020" stroke-width="0.95"/>
<path d="M771.1 664.4L774.0 670.2L768.2 670.2Z" fill="none" stroke="#808020" stroke-width="0.95"/>
<path d="M783.1 657.1L786.0 662.9L780.2 662.9Z" fill="none" stroke="#808020" stroke-width="0.95"/>
<path d="M795.0 652.0L797.9 657.8L792.1 657.8Z" fill="none" stroke="#808020" stroke-width="0.95"/>
<path d="M806.9 650.3L809.8 656.1L804.0 656.1Z" fill="none" stroke="#808020" stroke-width="0.95"/>
<path d="M818.8 652.5L821.7 658.3L815.9 658.3Z" fill="none" stroke="#808020" stroke-width="0.95"/>
<path d="M830.7 655.4L833.6 661.2L827.8 661.2Z" fill="none" stroke="#808020" stroke-width="0.95"/>
<path d="M842.6 660.7L845.5 666.5L839.7 666.5Z" fill="none" stroke="#808020" stroke-width="0.95"/>
<path d="M854.5 665.0L857.4 670.8L851.6 670.8Z" fill="none" stroke="#808020" stroke-width="0.95"/>
<path d="M866.4 667.5L869.3 673.3L863.5 673.3Z" fill="none" stroke="#808020" stroke-width="0.95"/>
<path d="M878.3 667.8L881.2 673.6L875.4 673.6Z" fill="none" stroke="#808020" stroke-width="0.95"/>
<path d="M890.2 667.0L893.1 672.8L887.3 672.8Z" fill="none" stroke="#808020" stroke-width="0.95"/>
<path d="M902.2 664.4L905.1 670.2L899.3 670.2Z" fill="none" stroke="#808020" stroke-width="0.95"/>
<path d="M914.1 661.0L917.0 666.8L911.2 666.8Z" fill="none" stroke="#808020" stroke-width="0.95"/>
<path d="M926.0 659.3L928.9 665.1L923.1 665.1Z" fill="none" stroke="#808020" stroke-width="0.95"/>
<path d="M937.9 658.2L940.8 664.0L935.0 664.0Z" fill="none" stroke="#808020" stroke-width="0.95"/>
<path d="M949.8 657.1L952.7 662.9L946.9 662.9Z" fill="none" stroke="#808020" stroke-width="0.95"/>
<path d="M961.7 656.8L964.6 662.6L958.8 662.6Z" fill="none" stroke="#808020" stroke-width="0.95"/>
<path d="M973.6 655.1L976.5 660.9L970.7 660.9Z" fill="none" stroke="#808020" stroke-width="0.95"/>
<path d="M985.5 652.5L988.4 658.3L982.6 658.3Z" fill="none" stroke="#808020" stroke-width="0.95"/>
<path d="M997.4 649.1L1000.3 654.9L994.5 654.9Z" fill="none" stroke="#808020" stroke-width="0.95"/>
<path d="M1009.4 644.9L1012.2 650.7L1006.5 650.7Z" fill="none" stroke="#808020" stroke-width="0.95"/>
<path d="M592.5 670.4C594.5 670.4 600.4 670.9 604.4 670.4C608.4 670.0 612.3 668.8 616.3 667.6C620.3 666.4 624.3 664.4 628.2 663.4C632.2 662.3 636.2 661.9 640.1 661.4C644.1 660.8 648.1 659.7 652.0 660.0C656.0 660.2 660.0 661.3 664.0 662.8C667.9 664.3 671.9 666.9 675.9 668.7C679.8 670.5 683.8 671.9 687.8 673.5C691.8 675.2 695.7 676.9 699.7 678.6C703.7 680.3 707.6 682.5 711.6 683.7C715.6 685.0 719.5 685.6 723.5 686.0C727.5 686.4 731.5 686.7 735.4 686.0C739.4 685.3 743.4 683.9 747.3 682.0C751.3 680.2 755.3 677.1 759.2 675.0C763.2 672.8 767.2 671.1 771.1 669.3C775.1 667.5 779.1 665.3 783.1 664.2C787.0 663.1 791.0 662.6 795.0 662.5C798.9 662.4 802.9 663.2 806.9 663.6C810.9 664.1 814.8 664.4 818.8 665.3C822.8 666.3 826.7 667.9 830.7 669.3C834.7 670.7 838.6 672.4 842.6 673.5C846.6 674.7 850.5 675.5 854.5 676.4C858.5 677.2 862.5 678.3 866.4 678.6C870.4 679.0 874.4 679.1 878.3 678.6C882.3 678.2 886.3 676.7 890.2 675.8C894.2 675.0 898.2 674.3 902.2 673.5C906.1 672.8 910.1 672.2 914.1 671.6C918.0 670.9 922.0 670.1 926.0 669.6C930.0 669.1 933.9 668.6 937.9 668.5C941.9 668.3 945.8 668.4 949.8 668.5C953.8 668.5 957.7 669.1 961.7 669.0C965.7 669.0 969.6 668.6 973.6 668.2C977.6 667.7 981.6 667.2 985.5 666.5C989.5 665.8 993.5 664.9 997.4 663.9C1001.4 662.9 1006.3 661.4 1009.4 660.5C1012.4 659.7 1014.5 659.1 1015.5 658.8" stroke="#7080d0" stroke-width="1" fill="none"/>
<rect x="590.0" y="667.9" width="5.1" height="5.1" fill="none" stroke="#4060c0" stroke-width="0.95"/>
<rect x="601.9" y="667.9" width="5.1" height="5.1" fill="none" stroke="#4060c0" stroke-width="0.95"/>
<rect x="613.8" y="665.1" width="5.1" height="5.1" fill="none" stroke="#4060c0" stroke-width="0.95"/>
<rect x="625.7" y="660.8" width="5.1" height="5.1" fill="none" stroke="#4060c0" stroke-width="0.95"/>
<rect x="637.6" y="658.8" width="5.1" height="5.1" fill="none" stroke="#4060c0" stroke-width="0.95"/>
<rect x="649.5" y="657.4" width="5.1" height="5.1" fill="none" stroke="#4060c0" stroke-width="0.95"/>
<rect x="661.4" y="660.2" width="5.1" height="5.1" fill="none" stroke="#4060c0" stroke-width="0.95"/>
<rect x="673.3" y="666.2" width="5.1" height="5.1" fill="none" stroke="#4060c0" stroke-width="0.95"/>
<rect x="685.2" y="671.0" width="5.1" height="5.1" fill="none" stroke="#4060c0" stroke-width="0.95"/>
<rect x="697.1" y="676.1" width="5.1" height="5.1" fill="none" stroke="#4060c0" stroke-width="0.95"/>
<rect x="709.0" y="681.2" width="5.1" height="5.1" fill="none" stroke="#4060c0" stroke-width="0.95"/>
<rect x="721.0" y="683.5" width="5.1" height="5.1" fill="none" stroke="#4060c0" stroke-width="0.95"/>
<rect x="732.9" y="683.5" width="5.1" height="5.1" fill="none" stroke="#4060c0" stroke-width="0.95"/>
<rect x="744.8" y="679.5" width="5.1" height="5.1" fill="none" stroke="#4060c0" stroke-width="0.95"/>
<rect x="756.7" y="672.4" width="5.1" height="5.1" fill="none" stroke="#4060c0" stroke-width="0.95"/>
<rect x="768.6" y="666.8" width="5.1" height="5.1" fill="none" stroke="#4060c0" stroke-width="0.95"/>
<rect x="780.5" y="661.7" width="5.1" height="5.1" fill="none" stroke="#4060c0" stroke-width="0.95"/>
<rect x="792.4" y="660.0" width="5.1" height="5.1" fill="none" stroke="#4060c0" stroke-width="0.95"/>
<rect x="804.3" y="661.1" width="5.1" height="5.1" fill="none" stroke="#4060c0" stroke-width="0.95"/>
<rect x="816.2" y="662.8" width="5.1" height="5.1" fill="none" stroke="#4060c0" stroke-width="0.95"/>
<rect x="828.1" y="666.8" width="5.1" height="5.1" fill="none" stroke="#4060c0" stroke-width="0.95"/>
<rect x="840.1" y="671.0" width="5.1" height="5.1" fill="none" stroke="#4060c0" stroke-width="0.95"/>
<rect x="852.0" y="673.8" width="5.1" height="5.1" fill="none" stroke="#4060c0" stroke-width="0.95"/>
<rect x="863.9" y="676.1" width="5.1" height="5.1" fill="none" stroke="#4060c0" stroke-width="0.95"/>
<rect x="875.8" y="676.1" width="5.1" height="5.1" fill="none" stroke="#4060c0" stroke-width="0.95"/>
<rect x="887.7" y="673.3" width="5.1" height="5.1" fill="none" stroke="#4060c0" stroke-width="0.95"/>
<rect x="899.6" y="671.0" width="5.1" height="5.1" fill="none" stroke="#4060c0" stroke-width="0.95"/>
<rect x="911.5" y="669.0" width="5.1" height="5.1" fill="none" stroke="#4060c0" stroke-width="0.95"/>
<rect x="923.4" y="667.0" width="5.1" height="5.1" fill="none" stroke="#4060c0" stroke-width="0.95"/>
<rect x="935.3" y="665.9" width="5.1" height="5.1" fill="none" stroke="#4060c0" stroke-width="0.95"/>
<rect x="947.3" y="665.9" width="5.1" height="5.1" fill="none" stroke="#4060c0" stroke-width="0.95"/>
<rect x="959.2" y="666.5" width="5.1" height="5.1" fill="none" stroke="#4060c0" stroke-width="0.95"/>
<rect x="971.1" y="665.6" width="5.1" height="5.1" fill="none" stroke="#4060c0" stroke-width="0.95"/>
<rect x="983.0" y="663.9" width="5.1" height="5.1" fill="none" stroke="#4060c0" stroke-width="0.95"/>
<rect x="994.9" y="661.4" width="5.1" height="5.1" fill="none" stroke="#4060c0" stroke-width="0.95"/>
<rect x="1006.8" y="658.0" width="5.1" height="5.1" fill="none" stroke="#4060c0" stroke-width="0.95"/>
<path d="M592.5 669.0C594.5 669.0 600.4 669.5 604.4 669.0C608.4 668.5 612.3 667.4 616.3 666.2C620.3 665.0 624.3 663.1 628.2 661.9C632.2 660.8 636.2 659.5 640.1 659.1C644.1 658.7 648.1 659.1 652.0 659.7C656.0 660.2 660.0 661.0 664.0 662.5C667.9 664.1 671.9 667.0 675.9 669.0C679.8 671.0 683.8 672.9 687.8 674.7C691.8 676.5 695.7 678.3 699.7 679.8C703.7 681.3 707.6 682.7 711.6 683.7C715.6 684.8 719.5 685.6 723.5 686.0C727.5 686.4 731.5 686.5 735.4 686.0C739.4 685.5 743.4 684.6 747.3 683.2C751.3 681.7 755.3 679.2 759.2 677.2C763.2 675.2 767.2 673.1 771.1 671.3C775.1 669.4 779.1 667.7 783.1 666.2C787.0 664.7 791.0 663.5 795.0 662.5C798.9 661.5 802.9 659.8 806.9 660.0C810.9 660.1 814.8 661.4 818.8 663.4C822.8 665.3 826.7 669.3 830.7 671.6C834.7 673.9 838.6 675.5 842.6 677.2C846.6 679.0 850.5 680.9 854.5 682.0C858.5 683.2 862.5 683.7 866.4 684.0C870.4 684.3 874.4 684.3 878.3 684.0C882.3 683.7 886.3 683.1 890.2 682.0C894.2 681.0 898.2 679.0 902.2 677.8C906.1 676.6 910.1 676.0 914.1 675.0C918.0 673.9 922.0 672.5 926.0 671.6C930.0 670.7 933.9 669.9 937.9 669.6C941.9 669.3 945.8 669.6 949.8 669.6C953.8 669.6 957.7 669.5 961.7 669.6C965.7 669.6 969.6 670.0 973.6 669.9C977.6 669.8 981.6 669.6 985.5 669.0C989.5 668.5 993.5 667.4 997.4 666.5C1001.4 665.5 1006.3 664.1 1009.4 663.4C1012.4 662.6 1014.5 662.0 1015.5 661.8" stroke="#1f8a50" stroke-width="1" fill="none"/>
<path d="M592.5 666.1L595.4 669.0L592.5 671.9L589.6 669.0Z" fill="none" stroke="#1f8a50" stroke-width="0.95"/>
<path d="M604.4 666.1L607.3 669.0L604.4 671.9L601.5 669.0Z" fill="none" stroke="#1f8a50" stroke-width="0.95"/>
<path d="M616.3 663.3L619.2 666.2L616.3 669.1L613.4 666.2Z" fill="none" stroke="#1f8a50" stroke-width="0.95"/>
<path d="M628.2 659.0L631.1 661.9L628.2 664.8L625.3 661.9Z" fill="none" stroke="#1f8a50" stroke-width="0.95"/>
<path d="M640.1 656.2L643.0 659.1L640.1 662.0L637.2 659.1Z" fill="none" stroke="#1f8a50" stroke-width="0.95"/>
<path d="M652.0 656.8L654.9 659.7L652.0 662.6L649.1 659.7Z" fill="none" stroke="#1f8a50" stroke-width="0.95"/>
<path d="M664.0 659.6L666.9 662.5L664.0 665.4L661.1 662.5Z" fill="none" stroke="#1f8a50" stroke-width="0.95"/>
<path d="M675.9 666.1L678.8 669.0L675.9 671.9L673.0 669.0Z" fill="none" stroke="#1f8a50" stroke-width="0.95"/>
<path d="M687.8 671.8L690.7 674.7L687.8 677.6L684.9 674.7Z" fill="none" stroke="#1f8a50" stroke-width="0.95"/>
<path d="M699.7 676.9L702.6 679.8L699.7 682.7L696.8 679.8Z" fill="none" stroke="#1f8a50" stroke-width="0.95"/>
<path d="M711.6 680.8L714.5 683.7L711.6 686.6L708.7 683.7Z" fill="none" stroke="#1f8a50" stroke-width="0.95"/>
<path d="M723.5 683.1L726.4 686.0L723.5 688.9L720.6 686.0Z" fill="none" stroke="#1f8a50" stroke-width="0.95"/>
<path d="M735.4 683.1L738.3 686.0L735.4 688.9L732.5 686.0Z" fill="none" stroke="#1f8a50" stroke-width="0.95"/>
<path d="M747.3 680.3L750.2 683.2L747.3 686.1L744.4 683.2Z" fill="none" stroke="#1f8a50" stroke-width="0.95"/>
<path d="M759.2 674.3L762.1 677.2L759.2 680.1L756.3 677.2Z" fill="none" stroke="#1f8a50" stroke-width="0.95"/>
<path d="M771.1 668.4L774.0 671.3L771.1 674.2L768.2 671.3Z" fill="none" stroke="#1f8a50" stroke-width="0.95"/>
<path d="M783.1 663.3L786.0 666.2L783.1 669.1L780.2 666.2Z" fill="none" stroke="#1f8a50" stroke-width="0.95"/>
<path d="M795.0 659.6L797.9 662.5L795.0 665.4L792.1 662.5Z" fill="none" stroke="#1f8a50" stroke-width="0.95"/>
<path d="M806.9 657.1L809.8 660.0L806.9 662.9L804.0 660.0Z" fill="none" stroke="#1f8a50" stroke-width="0.95"/>
<path d="M818.8 660.5L821.7 663.4L818.8 666.3L815.9 663.4Z" fill="none" stroke="#1f8a50" stroke-width="0.95"/>
<path d="M830.7 668.7L833.6 671.6L830.7 674.5L827.8 671.6Z" fill="none" stroke="#1f8a50" stroke-width="0.95"/>
<path d="M842.6 674.3L845.5 677.2L842.6 680.1L839.7 677.2Z" fill="none" stroke="#1f8a50" stroke-width="0.95"/>
<path d="M854.5 679.1L857.4 682.0L854.5 684.9L851.6 682.0Z" fill="none" stroke="#1f8a50" stroke-width="0.95"/>
<path d="M866.4 681.1L869.3 684.0L866.4 686.9L863.5 684.0Z" fill="none" stroke="#1f8a50" stroke-width="0.95"/>
<path d="M878.3 681.1L881.2 684.0L878.3 686.9L875.4 684.0Z" fill="none" stroke="#1f8a50" stroke-width="0.95"/>
<path d="M890.2 679.1L893.1 682.0L890.2 684.9L887.3 682.0Z" fill="none" stroke="#1f8a50" stroke-width="0.95"/>
<path d="M902.2 674.9L905.1 677.8L902.2 680.7L899.3 677.8Z" fill="none" stroke="#1f8a50" stroke-width="0.95"/>
<path d="M914.1 672.1L917.0 675.0L914.1 677.9L911.2 675.0Z" fill="none" stroke="#1f8a50" stroke-width="0.95"/>
<path d="M926.0 668.7L928.9 671.6L926.0 674.5L923.1 671.6Z" fill="none" stroke="#1f8a50" stroke-width="0.95"/>
<path d="M937.9 666.7L940.8 669.6L937.9 672.5L935.0 669.6Z" fill="none" stroke="#1f8a50" stroke-width="0.95"/>
<path d="M949.8 666.7L952.7 669.6L949.8 672.5L946.9 669.6Z" fill="none" stroke="#1f8a50" stroke-width="0.95"/>
<path d="M961.7 666.7L964.6 669.6L961.7 672.5L958.8 669.6Z" fill="none" stroke="#1f8a50" stroke-width="0.95"/>
<path d="M973.6 667.0L976.5 669.9L973.6 672.8L970.7 669.9Z" fill="none" stroke="#1f8a50" stroke-width="0.95"/>
<path d="M985.5 666.1L988.4 669.0L985.5 671.9L982.6 669.0Z" fill="none" stroke="#1f8a50" stroke-width="0.95"/>
<path d="M997.4 663.6L1000.3 666.5L997.4 669.4L994.5 666.5Z" fill="none" stroke="#1f8a50" stroke-width="0.95"/>
<path d="M1009.4 660.5L1012.2 663.4L1009.4 666.3L1006.5 663.4Z" fill="none" stroke="#1f8a50" stroke-width="0.95"/>
<path d="M592.5 641.3C594.5 641.2 600.4 640.6 604.4 640.7C608.4 640.9 612.3 641.2 616.3 642.1C620.3 643.0 624.3 644.5 628.2 646.1C632.2 647.7 636.2 648.7 640.1 651.5C644.1 654.2 648.1 659.3 652.0 662.5C656.0 665.7 660.0 668.2 664.0 670.7C667.9 673.3 671.9 675.8 675.9 677.8C679.8 679.8 683.8 681.4 687.8 682.6C691.8 683.8 695.7 684.7 699.7 685.2C703.7 685.6 707.6 685.3 711.6 685.2C715.6 685.0 719.5 685.1 723.5 684.3C727.5 683.5 731.5 681.8 735.4 680.6C739.4 679.4 743.4 678.5 747.3 677.2C751.3 676.0 755.3 674.1 759.2 673.0C763.2 671.9 767.2 671.4 771.1 670.7C775.1 670.0 779.1 669.3 783.1 668.7C787.0 668.2 791.0 667.5 795.0 667.3C798.9 667.2 802.9 667.4 806.9 667.9C810.9 668.4 814.8 669.4 818.8 670.2C822.8 670.9 826.7 671.4 830.7 672.1C834.7 672.8 838.6 673.7 842.6 674.4C846.6 675.1 850.5 675.9 854.5 676.4C858.5 676.9 862.5 677.2 866.4 677.5C870.4 677.8 874.4 678.1 878.3 678.4C882.3 678.6 886.3 678.9 890.2 679.2C894.2 679.5 898.2 679.9 902.2 680.1C906.1 680.2 910.1 680.3 914.1 680.3C918.0 680.4 922.0 680.3 926.0 680.3C930.0 680.3 933.9 680.5 937.9 680.3C941.9 680.2 945.8 679.8 949.8 679.2C953.8 678.6 957.7 677.8 961.7 676.7C965.7 675.5 969.6 674.1 973.6 672.4C977.6 670.7 981.6 668.3 985.5 666.5C989.5 664.6 993.5 663.1 997.4 661.4C1001.4 659.6 1006.3 657.4 1009.4 656.0C1012.4 654.6 1014.5 653.7 1015.5 653.2" stroke="#e0505a" stroke-width="1" fill="none"/>
<circle cx="592.5" cy="641.3" r="2.45" fill="none" stroke="#e03040" stroke-width="0.95"/>
<circle cx="604.4" cy="640.7" r="2.45" fill="none" stroke="#e03040" stroke-width="0.95"/>
<circle cx="616.3" cy="642.1" r="2.45" fill="none" stroke="#e03040" stroke-width="0.95"/>
<circle cx="628.2" cy="646.1" r="2.45" fill="none" stroke="#e03040" stroke-width="0.95"/>
<circle cx="640.1" cy="651.5" r="2.45" fill="none" stroke="#e03040" stroke-width="0.95"/>
<circle cx="652.0" cy="662.5" r="2.45" fill="none" stroke="#e03040" stroke-width="0.95"/>
<circle cx="664.0" cy="670.7" r="2.45" fill="none" stroke="#e03040" stroke-width="0.95"/>
<circle cx="675.9" cy="677.8" r="2.45" fill="none" stroke="#e03040" stroke-width="0.95"/>
<circle cx="687.8" cy="682.6" r="2.45" fill="none" stroke="#e03040" stroke-width="0.95"/>
<circle cx="699.7" cy="685.2" r="2.45" fill="none" stroke="#e03040" stroke-width="0.95"/>
<circle cx="711.6" cy="685.2" r="2.45" fill="none" stroke="#e03040" stroke-width="0.95"/>
<circle cx="723.5" cy="684.3" r="2.45" fill="none" stroke="#e03040" stroke-width="0.95"/>
<circle cx="735.4" cy="680.6" r="2.45" fill="none" stroke="#e03040" stroke-width="0.95"/>
<circle cx="747.3" cy="677.2" r="2.45" fill="none" stroke="#e03040" stroke-width="0.95"/>
<circle cx="759.2" cy="673.0" r="2.45" fill="none" stroke="#e03040" stroke-width="0.95"/>
<circle cx="771.1" cy="670.7" r="2.45" fill="none" stroke="#e03040" stroke-width="0.95"/>
<circle cx="783.1" cy="668.7" r="2.45" fill="none" stroke="#e03040" stroke-width="0.95"/>
<circle cx="795.0" cy="667.3" r="2.45" fill="none" stroke="#e03040" stroke-width="0.95"/>
<circle cx="806.9" cy="667.9" r="2.45" fill="none" stroke="#e03040" stroke-width="0.95"/>
<circle cx="818.8" cy="670.2" r="2.45" fill="none" stroke="#e03040" stroke-width="0.95"/>
<circle cx="830.7" cy="672.1" r="2.45" fill="none" stroke="#e03040" stroke-width="0.95"/>
<circle cx="842.6" cy="674.4" r="2.45" fill="none" stroke="#e03040" stroke-width="0.95"/>
<circle cx="854.5" cy="676.4" r="2.45" fill="none" stroke="#e03040" stroke-width="0.95"/>
<circle cx="866.4" cy="677.5" r="2.45" fill="none" stroke="#e03040" stroke-width="0.95"/>
<circle cx="878.3" cy="678.4" r="2.45" fill="none" stroke="#e03040" stroke-width="0.95"/>
<circle cx="890.2" cy="679.2" r="2.45" fill="none" stroke="#e03040" stroke-width="0.95"/>
<circle cx="902.2" cy="680.1" r="2.45" fill="none" stroke="#e03040" stroke-width="0.95"/>
<circle cx="914.1" cy="680.3" r="2.45" fill="none" stroke="#e03040" stroke-width="0.95"/>
<circle cx="926.0" cy="680.3" r="2.45" fill="none" stroke="#e03040" stroke-width="0.95"/>
<circle cx="937.9" cy="680.3" r="2.45" fill="none" stroke="#e03040" stroke-width="0.95"/>
<circle cx="949.8" cy="679.2" r="2.45" fill="none" stroke="#e03040" stroke-width="0.95"/>
<circle cx="961.7" cy="676.7" r="2.45" fill="none" stroke="#e03040" stroke-width="0.95"/>
<circle cx="973.6" cy="672.4" r="2.45" fill="none" stroke="#e03040" stroke-width="0.95"/>
<circle cx="985.5" cy="666.5" r="2.45" fill="none" stroke="#e03040" stroke-width="0.95"/>
<circle cx="997.4" cy="661.4" r="2.45" fill="none" stroke="#e03040" stroke-width="0.95"/>
<circle cx="1009.4" cy="656.0" r="2.45" fill="none" stroke="#e03040" stroke-width="0.95"/>
<path d="M592.5 672.1C594.5 672.1 600.4 672.6 604.4 671.9C608.4 671.1 612.3 669.4 616.3 667.9C620.3 666.3 624.3 664.7 628.2 662.5C632.2 660.3 636.2 657.6 640.1 654.9C644.1 652.2 648.1 649.0 652.0 646.4C656.0 643.8 660.0 641.2 664.0 639.3C667.9 637.4 671.9 635.9 675.9 635.1C679.8 634.2 683.8 633.7 687.8 634.2C691.8 634.7 695.7 636.2 699.7 637.9C703.7 639.5 707.6 641.8 711.6 644.1C715.6 646.5 719.5 649.4 723.5 652.0C727.5 654.7 731.5 657.8 735.4 660.2C739.4 662.7 743.4 664.8 747.3 666.8C751.3 668.7 755.3 671.1 759.2 672.1C763.2 673.2 767.2 673.2 771.1 673.0C775.1 672.7 779.1 672.1 783.1 670.7C787.0 669.4 791.0 667.1 795.0 664.8C798.9 662.4 802.9 659.5 806.9 656.6C810.9 653.6 814.8 650.3 818.8 647.2C822.8 644.1 826.7 640.7 830.7 637.9C834.7 635.1 838.6 632.3 842.6 630.2C846.6 628.2 850.5 626.7 854.5 625.4C858.5 624.2 862.5 623.0 866.4 622.6C870.4 622.2 874.4 622.6 878.3 623.2C882.3 623.7 886.3 625.0 890.2 626.0C894.2 627.0 898.2 628.4 902.2 629.4C906.1 630.4 910.1 631.6 914.1 632.2C918.0 632.8 922.0 633.6 926.0 633.1C930.0 632.6 933.9 631.4 937.9 629.4C941.9 627.4 945.8 624.5 949.8 621.2C953.8 617.8 957.7 613.6 961.7 609.3C965.7 605.0 969.6 600.6 973.6 595.4C977.6 590.3 981.6 583.6 985.5 578.2C989.5 572.7 993.5 567.7 997.4 562.6C1001.4 557.6 1006.3 551.6 1009.4 547.9C1012.4 544.2 1014.5 541.6 1015.5 540.3" stroke="#404078" stroke-width="1" fill="none"/>
<rect x="589.9" y="669.5" width="5.2" height="5.2" fill="none" stroke="#404080" stroke-width="1"/><path d="M589.9 672.1H595.1M592.5 669.5V674.7" stroke="#404080" stroke-width="0.8"/>
<rect x="601.8" y="669.2" width="5.2" height="5.2" fill="none" stroke="#404080" stroke-width="1"/><path d="M601.8 671.9H607.0M604.4 669.2V674.5" stroke="#404080" stroke-width="0.8"/>
<rect x="613.7" y="665.3" width="5.2" height="5.2" fill="none" stroke="#404080" stroke-width="1"/><path d="M613.7 667.9H618.9M616.3 665.3V670.5" stroke="#404080" stroke-width="0.8"/>
<rect x="625.6" y="659.9" width="5.2" height="5.2" fill="none" stroke="#404080" stroke-width="1"/><path d="M625.6 662.5H630.8M628.2 659.9V665.1" stroke="#404080" stroke-width="0.8"/>
<rect x="637.5" y="652.3" width="5.2" height="5.2" fill="none" stroke="#404080" stroke-width="1"/><path d="M637.5 654.9H642.7M640.1 652.3V657.5" stroke="#404080" stroke-width="0.8"/>
<rect x="649.4" y="643.8" width="5.2" height="5.2" fill="none" stroke="#404080" stroke-width="1"/><path d="M649.4 646.4H654.6M652.0 643.8V649.0" stroke="#404080" stroke-width="0.8"/>
<rect x="661.4" y="636.7" width="5.2" height="5.2" fill="none" stroke="#404080" stroke-width="1"/><path d="M661.4 639.3H666.6M664.0 636.7V641.9" stroke="#404080" stroke-width="0.8"/>
<rect x="673.3" y="632.5" width="5.2" height="5.2" fill="none" stroke="#404080" stroke-width="1"/><path d="M673.3 635.1H678.5M675.9 632.5V637.7" stroke="#404080" stroke-width="0.8"/>
<rect x="685.2" y="631.6" width="5.2" height="5.2" fill="none" stroke="#404080" stroke-width="1"/><path d="M685.2 634.2H690.4M687.8 631.6V636.8" stroke="#404080" stroke-width="0.8"/>
<rect x="697.1" y="635.3" width="5.2" height="5.2" fill="none" stroke="#404080" stroke-width="1"/><path d="M697.1 637.9H702.3M699.7 635.3V640.5" stroke="#404080" stroke-width="0.8"/>
<rect x="709.0" y="641.5" width="5.2" height="5.2" fill="none" stroke="#404080" stroke-width="1"/><path d="M709.0 644.1H714.2M711.6 641.5V646.7" stroke="#404080" stroke-width="0.8"/>
<rect x="720.9" y="649.4" width="5.2" height="5.2" fill="none" stroke="#404080" stroke-width="1"/><path d="M720.9 652.0H726.1M723.5 649.4V654.6" stroke="#404080" stroke-width="0.8"/>
<rect x="732.8" y="657.6" width="5.2" height="5.2" fill="none" stroke="#404080" stroke-width="1"/><path d="M732.8 660.2H738.0M735.4 657.6V662.8" stroke="#404080" stroke-width="0.8"/>
<rect x="744.7" y="664.2" width="5.2" height="5.2" fill="none" stroke="#404080" stroke-width="1"/><path d="M744.7 666.8H749.9M747.3 664.2V669.4" stroke="#404080" stroke-width="0.8"/>
<rect x="756.6" y="669.5" width="5.2" height="5.2" fill="none" stroke="#404080" stroke-width="1"/><path d="M756.6 672.1H761.8M759.2 669.5V674.7" stroke="#404080" stroke-width="0.8"/>
<rect x="768.5" y="670.4" width="5.2" height="5.2" fill="none" stroke="#404080" stroke-width="1"/><path d="M768.5 673.0H773.8M771.1 670.4V675.6" stroke="#404080" stroke-width="0.8"/>
<rect x="780.5" y="668.1" width="5.2" height="5.2" fill="none" stroke="#404080" stroke-width="1"/><path d="M780.5 670.7H785.7M783.1 668.1V673.3" stroke="#404080" stroke-width="0.8"/>
<rect x="792.4" y="662.2" width="5.2" height="5.2" fill="none" stroke="#404080" stroke-width="1"/><path d="M792.4 664.8H797.6M795.0 662.2V667.4" stroke="#404080" stroke-width="0.8"/>
<rect x="804.3" y="654.0" width="5.2" height="5.2" fill="none" stroke="#404080" stroke-width="1"/><path d="M804.3 656.6H809.5M806.9 654.0V659.2" stroke="#404080" stroke-width="0.8"/>
<rect x="816.2" y="644.6" width="5.2" height="5.2" fill="none" stroke="#404080" stroke-width="1"/><path d="M816.2 647.2H821.4M818.8 644.6V649.8" stroke="#404080" stroke-width="0.8"/>
<rect x="828.1" y="635.3" width="5.2" height="5.2" fill="none" stroke="#404080" stroke-width="1"/><path d="M828.1 637.9H833.3M830.7 635.3V640.5" stroke="#404080" stroke-width="0.8"/>
<rect x="840.0" y="627.6" width="5.2" height="5.2" fill="none" stroke="#404080" stroke-width="1"/><path d="M840.0 630.2H845.2M842.6 627.6V632.8" stroke="#404080" stroke-width="0.8"/>
<rect x="851.9" y="622.8" width="5.2" height="5.2" fill="none" stroke="#404080" stroke-width="1"/><path d="M851.9 625.4H857.1M854.5 622.8V628.0" stroke="#404080" stroke-width="0.8"/>
<rect x="863.8" y="620.0" width="5.2" height="5.2" fill="none" stroke="#404080" stroke-width="1"/><path d="M863.8 622.6H869.0M866.4 620.0V625.2" stroke="#404080" stroke-width="0.8"/>
<rect x="875.7" y="620.6" width="5.2" height="5.2" fill="none" stroke="#404080" stroke-width="1"/><path d="M875.7 623.2H880.9M878.3 620.6V625.8" stroke="#404080" stroke-width="0.8"/>
<rect x="887.6" y="623.4" width="5.2" height="5.2" fill="none" stroke="#404080" stroke-width="1"/><path d="M887.6 626.0H892.8M890.2 623.4V628.6" stroke="#404080" stroke-width="0.8"/>
<rect x="899.6" y="626.8" width="5.2" height="5.2" fill="none" stroke="#404080" stroke-width="1"/><path d="M899.6 629.4H904.8M902.2 626.8V632.0" stroke="#404080" stroke-width="0.8"/>
<rect x="911.5" y="629.6" width="5.2" height="5.2" fill="none" stroke="#404080" stroke-width="1"/><path d="M911.5 632.2H916.7M914.1 629.6V634.8" stroke="#404080" stroke-width="0.8"/>
<rect x="923.4" y="630.5" width="5.2" height="5.2" fill="none" stroke="#404080" stroke-width="1"/><path d="M923.4 633.1H928.6M926.0 630.5V635.7" stroke="#404080" stroke-width="0.8"/>
<rect x="935.3" y="626.8" width="5.2" height="5.2" fill="none" stroke="#404080" stroke-width="1"/><path d="M935.3 629.4H940.5M937.9 626.8V632.0" stroke="#404080" stroke-width="0.8"/>
<rect x="947.2" y="618.6" width="5.2" height="5.2" fill="none" stroke="#404080" stroke-width="1"/><path d="M947.2 621.2H952.4M949.8 618.6V623.8" stroke="#404080" stroke-width="0.8"/>
<rect x="959.1" y="606.7" width="5.2" height="5.2" fill="none" stroke="#404080" stroke-width="1"/><path d="M959.1 609.3H964.3M961.7 606.7V611.9" stroke="#404080" stroke-width="0.8"/>
<rect x="971.0" y="592.8" width="5.2" height="5.2" fill="none" stroke="#404080" stroke-width="1"/><path d="M971.0 595.4H976.2M973.6 592.8V598.0" stroke="#404080" stroke-width="0.8"/>
<rect x="982.9" y="575.6" width="5.2" height="5.2" fill="none" stroke="#404080" stroke-width="1"/><path d="M982.9 578.2H988.1M985.5 575.6V580.8" stroke="#404080" stroke-width="0.8"/>
<rect x="994.8" y="560.0" width="5.2" height="5.2" fill="none" stroke="#404080" stroke-width="1"/><path d="M994.8 562.6H1000.0M997.4 560.0V565.2" stroke="#404080" stroke-width="0.8"/>
<rect x="1006.8" y="545.3" width="5.2" height="5.2" fill="none" stroke="#404080" stroke-width="1"/><path d="M1006.8 547.9H1012.0M1009.4 545.3V550.5" stroke="#404080" stroke-width="0.8"/>
<path d="M592.5 668.5C594.5 668.6 600.4 669.7 604.4 669.6C608.4 669.4 612.3 669.0 616.3 667.6C620.3 666.2 624.3 665.9 628.2 661.4C632.2 656.9 636.2 646.9 640.1 640.7C644.1 634.5 648.1 628.7 652.0 624.3C656.0 619.9 660.0 617.1 664.0 614.4C667.9 611.7 671.9 609.7 675.9 608.2C679.8 606.7 683.8 606.0 687.8 605.3C691.8 604.7 695.7 604.6 699.7 604.2C703.7 603.8 707.6 603.4 711.6 602.8C715.6 602.2 719.5 601.7 723.5 600.8C727.5 599.9 731.5 599.1 735.4 597.4C739.4 595.7 743.4 593.1 747.3 590.6C751.3 588.2 755.3 585.5 759.2 582.7C763.2 579.9 767.2 576.9 771.1 573.9C775.1 571.0 779.1 567.9 783.1 565.2C787.0 562.4 791.0 559.8 795.0 557.5C798.9 555.2 802.9 552.9 806.9 551.3C810.9 549.6 814.8 548.7 818.8 547.6C822.8 546.6 826.7 545.3 830.7 545.1C834.7 544.8 838.6 545.6 842.6 546.2C846.6 546.8 850.5 547.4 854.5 548.5C858.5 549.5 862.5 550.8 866.4 552.4C870.4 554.0 874.4 556.2 878.3 558.1C882.3 560.0 886.3 562.0 890.2 564.0C894.2 566.0 898.2 568.0 902.2 570.0C906.1 571.9 910.1 574.3 914.1 575.6C918.0 577.0 922.0 577.7 926.0 578.2C930.0 578.6 933.9 578.9 937.9 578.5C941.9 578.0 945.8 577.3 949.8 575.3C953.8 573.4 957.7 570.2 961.7 566.9C965.7 563.6 969.6 559.6 973.6 555.5C977.6 551.5 981.6 546.5 985.5 542.5C989.5 538.6 993.5 535.3 997.4 531.8C1001.4 528.3 1006.3 524.2 1009.4 521.6C1012.4 519.0 1014.5 517.2 1015.5 516.3" stroke="#30a0a0" stroke-width="1" fill="none"/>
<rect x="589.9" y="665.9" width="5.2" height="5.2" fill="none" stroke="#2a9a9a" stroke-width="1.1"/><circle cx="592.5" cy="668.5" r="1.30" fill="none" stroke="#2a9a9a" stroke-width="0.8"/>
<rect x="601.8" y="667.0" width="5.2" height="5.2" fill="none" stroke="#2a9a9a" stroke-width="1.1"/><circle cx="604.4" cy="669.6" r="1.30" fill="none" stroke="#2a9a9a" stroke-width="0.8"/>
<rect x="613.7" y="665.0" width="5.2" height="5.2" fill="none" stroke="#2a9a9a" stroke-width="1.1"/><circle cx="616.3" cy="667.6" r="1.30" fill="none" stroke="#2a9a9a" stroke-width="0.8"/>
<rect x="625.6" y="658.8" width="5.2" height="5.2" fill="none" stroke="#2a9a9a" stroke-width="1.1"/><circle cx="628.2" cy="661.4" r="1.30" fill="none" stroke="#2a9a9a" stroke-width="0.8"/>
<rect x="637.5" y="638.1" width="5.2" height="5.2" fill="none" stroke="#2a9a9a" stroke-width="1.1"/><circle cx="640.1" cy="640.7" r="1.30" fill="none" stroke="#2a9a9a" stroke-width="0.8"/>
<rect x="649.4" y="621.7" width="5.2" height="5.2" fill="none" stroke="#2a9a9a" stroke-width="1.1"/><circle cx="652.0" cy="624.3" r="1.30" fill="none" stroke="#2a9a9a" stroke-width="0.8"/>
<rect x="661.4" y="611.8" width="5.2" height="5.2" fill="none" stroke="#2a9a9a" stroke-width="1.1"/><circle cx="664.0" cy="614.4" r="1.30" fill="none" stroke="#2a9a9a" stroke-width="0.8"/>
<rect x="673.3" y="605.6" width="5.2" height="5.2" fill="none" stroke="#2a9a9a" stroke-width="1.1"/><circle cx="675.9" cy="608.2" r="1.30" fill="none" stroke="#2a9a9a" stroke-width="0.8"/>
<rect x="685.2" y="602.7" width="5.2" height="5.2" fill="none" stroke="#2a9a9a" stroke-width="1.1"/><circle cx="687.8" cy="605.3" r="1.30" fill="none" stroke="#2a9a9a" stroke-width="0.8"/>
<rect x="697.1" y="601.6" width="5.2" height="5.2" fill="none" stroke="#2a9a9a" stroke-width="1.1"/><circle cx="699.7" cy="604.2" r="1.30" fill="none" stroke="#2a9a9a" stroke-width="0.8"/>
<rect x="709.0" y="600.2" width="5.2" height="5.2" fill="none" stroke="#2a9a9a" stroke-width="1.1"/><circle cx="711.6" cy="602.8" r="1.30" fill="none" stroke="#2a9a9a" stroke-width="0.8"/>
<rect x="720.9" y="598.2" width="5.2" height="5.2" fill="none" stroke="#2a9a9a" stroke-width="1.1"/><circle cx="723.5" cy="600.8" r="1.30" fill="none" stroke="#2a9a9a" stroke-width="0.8"/>
<rect x="732.8" y="594.8" width="5.2" height="5.2" fill="none" stroke="#2a9a9a" stroke-width="1.1"/><circle cx="735.4" cy="597.4" r="1.30" fill="none" stroke="#2a9a9a" stroke-width="0.8"/>
<rect x="744.7" y="588.0" width="5.2" height="5.2" fill="none" stroke="#2a9a9a" stroke-width="1.1"/><circle cx="747.3" cy="590.6" r="1.30" fill="none" stroke="#2a9a9a" stroke-width="0.8"/>
<rect x="756.6" y="580.1" width="5.2" height="5.2" fill="none" stroke="#2a9a9a" stroke-width="1.1"/><circle cx="759.2" cy="582.7" r="1.30" fill="none" stroke="#2a9a9a" stroke-width="0.8"/>
<rect x="768.5" y="571.3" width="5.2" height="5.2" fill="none" stroke="#2a9a9a" stroke-width="1.1"/><circle cx="771.1" cy="573.9" r="1.30" fill="none" stroke="#2a9a9a" stroke-width="0.8"/>
<rect x="780.5" y="562.6" width="5.2" height="5.2" fill="none" stroke="#2a9a9a" stroke-width="1.1"/><circle cx="783.1" cy="565.2" r="1.30" fill="none" stroke="#2a9a9a" stroke-width="0.8"/>
<rect x="792.4" y="554.9" width="5.2" height="5.2" fill="none" stroke="#2a9a9a" stroke-width="1.1"/><circle cx="795.0" cy="557.5" r="1.30" fill="none" stroke="#2a9a9a" stroke-width="0.8"/>
<rect x="804.3" y="548.7" width="5.2" height="5.2" fill="none" stroke="#2a9a9a" stroke-width="1.1"/><circle cx="806.9" cy="551.3" r="1.30" fill="none" stroke="#2a9a9a" stroke-width="0.8"/>
<rect x="816.2" y="545.0" width="5.2" height="5.2" fill="none" stroke="#2a9a9a" stroke-width="1.1"/><circle cx="818.8" cy="547.6" r="1.30" fill="none" stroke="#2a9a9a" stroke-width="0.8"/>
<rect x="828.1" y="542.5" width="5.2" height="5.2" fill="none" stroke="#2a9a9a" stroke-width="1.1"/><circle cx="830.7" cy="545.1" r="1.30" fill="none" stroke="#2a9a9a" stroke-width="0.8"/>
<rect x="840.0" y="543.6" width="5.2" height="5.2" fill="none" stroke="#2a9a9a" stroke-width="1.1"/><circle cx="842.6" cy="546.2" r="1.30" fill="none" stroke="#2a9a9a" stroke-width="0.8"/>
<rect x="851.9" y="545.9" width="5.2" height="5.2" fill="none" stroke="#2a9a9a" stroke-width="1.1"/><circle cx="854.5" cy="548.5" r="1.30" fill="none" stroke="#2a9a9a" stroke-width="0.8"/>
<rect x="863.8" y="549.8" width="5.2" height="5.2" fill="none" stroke="#2a9a9a" stroke-width="1.1"/><circle cx="866.4" cy="552.4" r="1.30" fill="none" stroke="#2a9a9a" stroke-width="0.8"/>
<rect x="875.7" y="555.5" width="5.2" height="5.2" fill="none" stroke="#2a9a9a" stroke-width="1.1"/><circle cx="878.3" cy="558.1" r="1.30" fill="none" stroke="#2a9a9a" stroke-width="0.8"/>
<rect x="887.6" y="561.4" width="5.2" height="5.2" fill="none" stroke="#2a9a9a" stroke-width="1.1"/><circle cx="890.2" cy="564.0" r="1.30" fill="none" stroke="#2a9a9a" stroke-width="0.8"/>
<rect x="899.6" y="567.4" width="5.2" height="5.2" fill="none" stroke="#2a9a9a" stroke-width="1.1"/><circle cx="902.2" cy="570.0" r="1.30" fill="none" stroke="#2a9a9a" stroke-width="0.8"/>
<rect x="911.5" y="573.0" width="5.2" height="5.2" fill="none" stroke="#2a9a9a" stroke-width="1.1"/><circle cx="914.1" cy="575.6" r="1.30" fill="none" stroke="#2a9a9a" stroke-width="0.8"/>
<rect x="923.4" y="575.6" width="5.2" height="5.2" fill="none" stroke="#2a9a9a" stroke-width="1.1"/><circle cx="926.0" cy="578.2" r="1.30" fill="none" stroke="#2a9a9a" stroke-width="0.8"/>
<rect x="935.3" y="575.9" width="5.2" height="5.2" fill="none" stroke="#2a9a9a" stroke-width="1.1"/><circle cx="937.9" cy="578.5" r="1.30" fill="none" stroke="#2a9a9a" stroke-width="0.8"/>
<rect x="947.2" y="572.7" width="5.2" height="5.2" fill="none" stroke="#2a9a9a" stroke-width="1.1"/><circle cx="949.8" cy="575.3" r="1.30" fill="none" stroke="#2a9a9a" stroke-width="0.8"/>
<rect x="959.1" y="564.3" width="5.2" height="5.2" fill="none" stroke="#2a9a9a" stroke-width="1.1"/><circle cx="961.7" cy="566.9" r="1.30" fill="none" stroke="#2a9a9a" stroke-width="0.8"/>
<rect x="971.0" y="552.9" width="5.2" height="5.2" fill="none" stroke="#2a9a9a" stroke-width="1.1"/><circle cx="973.6" cy="555.5" r="1.30" fill="none" stroke="#2a9a9a" stroke-width="0.8"/>
<rect x="982.9" y="539.9" width="5.2" height="5.2" fill="none" stroke="#2a9a9a" stroke-width="1.1"/><circle cx="985.5" cy="542.5" r="1.30" fill="none" stroke="#2a9a9a" stroke-width="0.8"/>
<rect x="994.8" y="529.2" width="5.2" height="5.2" fill="none" stroke="#2a9a9a" stroke-width="1.1"/><circle cx="997.4" cy="531.8" r="1.30" fill="none" stroke="#2a9a9a" stroke-width="0.8"/>
<rect x="1006.8" y="519.0" width="5.2" height="5.2" fill="none" stroke="#2a9a9a" stroke-width="1.1"/><circle cx="1009.4" cy="521.6" r="1.30" fill="none" stroke="#2a9a9a" stroke-width="0.8"/>
<path d="M592.5 667.0C594.5 666.8 600.4 666.7 604.4 665.6C608.4 664.5 612.3 663.3 616.3 660.5C620.3 657.8 624.3 653.5 628.2 649.2C632.2 645.0 636.2 639.4 640.1 635.1C644.1 630.7 648.1 626.8 652.0 623.2C656.0 619.6 660.0 616.5 664.0 613.6C667.9 610.6 671.9 607.9 675.9 605.3C679.8 602.8 683.8 600.5 687.8 598.0C691.8 595.5 695.7 592.9 699.7 590.3C703.7 587.8 707.6 585.7 711.6 582.7C715.6 579.7 719.5 576.3 723.5 572.2C727.5 568.2 731.5 563.3 735.4 558.4C739.4 553.5 743.4 548.1 747.3 542.8C751.3 537.5 755.3 531.5 759.2 526.4C763.2 521.2 767.2 516.5 771.1 512.0C775.1 507.4 779.1 502.2 783.1 498.9C787.0 495.6 791.0 493.7 795.0 492.1C798.9 490.5 802.9 489.6 806.9 489.3C810.9 489.1 814.8 489.7 818.8 490.7C822.8 491.7 826.7 493.6 830.7 495.3C834.7 497.0 838.6 498.6 842.6 500.9C846.6 503.2 850.5 506.6 854.5 509.1C858.5 511.7 862.5 513.9 866.4 516.2C870.4 518.5 874.4 520.6 878.3 522.7C882.3 524.8 886.3 526.8 890.2 528.7C894.2 530.5 898.2 532.4 902.2 534.0C906.1 535.6 910.1 537.1 914.1 538.3C918.0 539.5 922.0 540.6 926.0 541.1C930.0 541.6 933.9 541.8 937.9 541.4C941.9 541.0 945.8 540.1 949.8 538.6C953.8 537.0 957.7 535.4 961.7 532.3C965.7 529.2 969.6 523.1 973.6 519.9C977.6 516.6 981.6 514.9 985.5 512.8C989.5 510.7 993.5 509.5 997.4 507.4C1001.4 505.4 1006.3 502.1 1009.4 500.4C1012.4 498.6 1014.5 497.3 1015.5 496.7" stroke="#a050b8" stroke-width="1" fill="none"/>
<path d="M592.5 670.3L595.8 663.8L589.2 663.8Z" fill="#6c1080"/>
<path d="M604.4 668.9L607.7 662.4L601.2 662.4Z" fill="#6c1080"/>
<path d="M616.3 663.8L619.6 657.3L613.1 657.3Z" fill="#6c1080"/>
<path d="M628.2 652.5L631.5 646.0L625.0 646.0Z" fill="#6c1080"/>
<path d="M640.1 638.3L643.4 631.8L636.9 631.8Z" fill="#6c1080"/>
<path d="M652.0 626.4L655.3 619.9L648.8 619.9Z" fill="#6c1080"/>
<path d="M664.0 616.8L667.2 610.3L660.7 610.3Z" fill="#6c1080"/>
<path d="M675.9 608.6L679.1 602.1L672.6 602.1Z" fill="#6c1080"/>
<path d="M687.8 601.2L691.0 594.7L684.5 594.7Z" fill="#6c1080"/>
<path d="M699.7 593.6L702.9 587.1L696.4 587.1Z" fill="#6c1080"/>
<path d="M711.6 586.0L714.8 579.5L708.3 579.5Z" fill="#6c1080"/>
<path d="M723.5 575.5L726.8 569.0L720.3 569.0Z" fill="#6c1080"/>
<path d="M735.4 561.6L738.7 555.1L732.2 555.1Z" fill="#6c1080"/>
<path d="M747.3 546.1L750.6 539.6L744.1 539.6Z" fill="#6c1080"/>
<path d="M759.2 529.6L762.5 523.1L756.0 523.1Z" fill="#6c1080"/>
<path d="M771.1 515.2L774.4 508.7L767.9 508.7Z" fill="#6c1080"/>
<path d="M783.1 502.2L786.3 495.7L779.8 495.7Z" fill="#6c1080"/>
<path d="M795.0 495.4L798.2 488.9L791.7 488.9Z" fill="#6c1080"/>
<path d="M806.9 492.6L810.1 486.1L803.6 486.1Z" fill="#6c1080"/>
<path d="M818.8 494.0L822.0 487.5L815.5 487.5Z" fill="#6c1080"/>
<path d="M830.7 498.5L833.9 492.0L827.4 492.0Z" fill="#6c1080"/>
<path d="M842.6 504.2L845.9 497.7L839.4 497.7Z" fill="#6c1080"/>
<path d="M854.5 512.4L857.8 505.9L851.3 505.9Z" fill="#6c1080"/>
<path d="M866.4 519.5L869.7 513.0L863.2 513.0Z" fill="#6c1080"/>
<path d="M878.3 526.0L881.6 519.5L875.1 519.5Z" fill="#6c1080"/>
<path d="M890.2 531.9L893.5 525.4L887.0 525.4Z" fill="#6c1080"/>
<path d="M902.2 537.3L905.4 530.8L898.9 530.8Z" fill="#6c1080"/>
<path d="M914.1 541.5L917.3 535.0L910.8 535.0Z" fill="#6c1080"/>
<path d="M926.0 544.4L929.2 537.9L922.7 537.9Z" fill="#6c1080"/>
<path d="M937.9 544.6L941.1 538.1L934.6 538.1Z" fill="#6c1080"/>
<path d="M949.8 541.8L953.1 535.3L946.6 535.3Z" fill="#6c1080"/>
<path d="M961.7 535.6L965.0 529.1L958.5 529.1Z" fill="#6c1080"/>
<path d="M973.6 523.1L976.9 516.6L970.4 516.6Z" fill="#6c1080"/>
<path d="M985.5 516.1L988.8 509.6L982.3 509.6Z" fill="#6c1080"/>
<path d="M997.4 510.7L1000.7 504.2L994.2 504.2Z" fill="#6c1080"/>
<path d="M1009.4 503.6L1012.6 497.1L1006.1 497.1Z" fill="#6c1080"/>
<path d="M592.5 662.2C594.5 662.6 600.4 664.2 604.4 664.2C608.4 664.2 612.3 663.5 616.3 662.2C620.3 661.0 624.3 658.7 628.2 656.6C632.2 654.4 636.2 651.9 640.1 649.2C644.1 646.6 648.1 643.6 652.0 640.7C656.0 637.9 660.0 635.5 664.0 632.2C667.9 628.9 671.9 625.4 675.9 620.9C679.8 616.4 683.8 611.0 687.8 605.3C691.8 599.7 695.7 593.8 699.7 587.0C703.7 580.1 707.6 572.3 711.6 564.3C715.6 556.3 719.5 547.6 723.5 538.8C727.5 530.1 731.5 521.3 735.4 512.0C739.4 502.6 743.4 491.7 747.3 482.5C751.3 473.4 755.3 464.8 759.2 457.1C763.2 449.3 767.2 442.0 771.1 435.8C775.1 429.7 779.1 424.0 783.1 420.3C787.0 416.5 791.0 414.6 795.0 413.5C798.9 412.3 802.9 412.3 806.9 413.5C810.9 414.6 814.8 417.2 818.8 420.3C822.8 423.3 826.7 427.6 830.7 431.9C834.7 436.1 838.6 441.0 842.6 445.7C846.6 450.4 850.5 455.4 854.5 460.2C858.5 465.0 862.5 470.0 866.4 474.6C870.4 479.2 874.4 484.0 878.3 487.9C882.3 491.8 886.3 494.8 890.2 497.8C894.2 500.8 898.2 503.4 902.2 505.7C906.1 508.1 910.1 510.5 914.1 512.0C918.0 513.4 922.0 514.1 926.0 514.5C930.0 514.9 933.9 514.7 937.9 514.5C941.9 514.3 945.8 513.9 949.8 513.4C953.8 512.9 957.7 512.3 961.7 511.4C965.7 510.4 969.6 508.8 973.6 507.7C977.6 506.6 981.6 505.4 985.5 504.6C989.5 503.8 993.5 503.2 997.4 502.9C1001.4 502.6 1006.3 502.9 1009.4 502.9C1012.4 502.9 1014.5 502.9 1015.5 502.9" stroke="#a8a868" stroke-width="1" fill="none"/>
<path d="M592.5 659.0L595.8 665.5L589.2 665.5Z" fill="#757520"/>
<path d="M604.4 661.0L607.7 667.5L601.2 667.5Z" fill="#757520"/>
<path d="M616.3 659.0L619.6 665.5L613.1 665.5Z" fill="#757520"/>
<path d="M628.2 653.3L631.5 659.8L625.0 659.8Z" fill="#757520"/>
<path d="M640.1 646.0L643.4 652.5L636.9 652.5Z" fill="#757520"/>
<path d="M652.0 637.5L655.3 644.0L648.8 644.0Z" fill="#757520"/>
<path d="M664.0 629.0L667.2 635.5L660.7 635.5Z" fill="#757520"/>
<path d="M675.9 617.7L679.1 624.2L672.6 624.2Z" fill="#757520"/>
<path d="M687.8 602.1L691.0 608.6L684.5 608.6Z" fill="#757520"/>
<path d="M699.7 583.7L702.9 590.2L696.4 590.2Z" fill="#757520"/>
<path d="M711.6 561.1L714.8 567.6L708.3 567.6Z" fill="#757520"/>
<path d="M723.5 535.6L726.8 542.1L720.3 542.1Z" fill="#757520"/>
<path d="M735.4 508.7L738.7 515.2L732.2 515.2Z" fill="#757520"/>
<path d="M747.3 479.3L750.6 485.8L744.1 485.8Z" fill="#757520"/>
<path d="M759.2 453.8L762.5 460.3L756.0 460.3Z" fill="#757520"/>
<path d="M771.1 432.6L774.4 439.1L767.9 439.1Z" fill="#757520"/>
<path d="M783.1 417.0L786.3 423.5L779.8 423.5Z" fill="#757520"/>
<path d="M795.0 410.2L798.2 416.7L791.7 416.7Z" fill="#757520"/>
<path d="M806.9 410.2L810.1 416.7L803.6 416.7Z" fill="#757520"/>
<path d="M818.8 417.0L822.0 423.5L815.5 423.5Z" fill="#757520"/>
<path d="M830.7 428.6L833.9 435.1L827.4 435.1Z" fill="#757520"/>
<path d="M842.6 442.5L845.9 449.0L839.4 449.0Z" fill="#757520"/>
<path d="M854.5 456.9L857.8 463.4L851.3 463.4Z" fill="#757520"/>
<path d="M866.4 471.3L869.7 477.8L863.2 477.8Z" fill="#757520"/>
<path d="M878.3 484.6L881.6 491.1L875.1 491.1Z" fill="#757520"/>
<path d="M890.2 494.6L893.5 501.1L887.0 501.1Z" fill="#757520"/>
<path d="M902.2 502.5L905.4 509.0L898.9 509.0Z" fill="#757520"/>
<path d="M914.1 508.7L917.3 515.2L910.8 515.2Z" fill="#757520"/>
<path d="M926.0 511.3L929.2 517.8L922.7 517.8Z" fill="#757520"/>
<path d="M937.9 511.3L941.1 517.8L934.6 517.8Z" fill="#757520"/>
<path d="M949.8 510.1L953.1 516.6L946.6 516.6Z" fill="#757520"/>
<path d="M961.7 508.1L965.0 514.6L958.5 514.6Z" fill="#757520"/>
<path d="M973.6 504.5L976.9 511.0L970.4 511.0Z" fill="#757520"/>
<path d="M985.5 501.3L988.8 507.8L982.3 507.8Z" fill="#757520"/>
<path d="M997.4 499.6L1000.7 506.1L994.2 506.1Z" fill="#757520"/>
<path d="M1009.4 499.6L1012.6 506.1L1006.1 506.1Z" fill="#757520"/>
<path d="M592.5 652.0C594.5 652.4 600.4 654.1 604.4 654.3C608.4 654.5 612.3 654.4 616.3 653.5C620.3 652.5 624.3 650.2 628.2 648.6C632.2 647.1 636.2 646.1 640.1 644.1C644.1 642.1 648.1 639.3 652.0 636.5C656.0 633.6 660.0 630.5 664.0 627.1C667.9 623.7 671.9 620.2 675.9 616.1C679.8 611.9 683.8 607.5 687.8 602.2C691.8 596.9 695.7 591.0 699.7 584.4C703.7 577.8 707.6 570.8 711.6 562.9C715.6 555.0 719.5 546.1 723.5 537.1C727.5 528.2 731.5 518.8 735.4 509.4C739.4 500.0 743.4 489.9 747.3 480.5C751.3 471.2 755.3 461.5 759.2 453.1C763.2 444.7 767.2 436.8 771.1 430.2C775.1 423.6 779.1 417.8 783.1 413.5C787.0 409.2 791.0 406.2 795.0 404.4C798.9 402.7 802.9 402.2 806.9 403.0C810.9 403.8 814.8 406.3 818.8 409.2C822.8 412.1 826.7 416.0 830.7 420.3C834.7 424.6 838.6 430.1 842.6 435.0C846.6 439.8 850.5 444.7 854.5 449.4C858.5 454.1 862.5 458.8 866.4 463.3C870.4 467.8 874.4 472.3 878.3 476.3C882.3 480.3 886.3 483.9 890.2 487.3C894.2 490.8 898.2 494.1 902.2 497.0C906.1 499.8 910.1 502.4 914.1 504.6C918.0 506.8 922.0 508.7 926.0 510.3C930.0 511.8 933.9 513.1 937.9 513.9C941.9 514.8 945.8 515.1 949.8 515.4C953.8 515.6 957.7 515.6 961.7 515.6C965.7 515.7 969.6 515.6 973.6 515.6C977.6 515.6 981.6 515.4 985.5 515.6C989.5 515.8 993.5 515.9 997.4 516.8C1001.4 517.6 1006.3 519.7 1009.4 520.7C1012.4 521.7 1014.5 522.4 1015.5 522.8" stroke="#7f8fd8" stroke-width="1" fill="none"/>
<rect x="589.6" y="649.1" width="5.8" height="5.8" fill="#2a46a8"/>
<rect x="601.5" y="651.4" width="5.8" height="5.8" fill="#2a46a8"/>
<rect x="613.4" y="650.6" width="5.8" height="5.8" fill="#2a46a8"/>
<rect x="625.3" y="645.7" width="5.8" height="5.8" fill="#2a46a8"/>
<rect x="637.2" y="641.2" width="5.8" height="5.8" fill="#2a46a8"/>
<rect x="649.1" y="633.6" width="5.8" height="5.8" fill="#2a46a8"/>
<rect x="661.1" y="624.2" width="5.8" height="5.8" fill="#2a46a8"/>
<rect x="673.0" y="613.2" width="5.8" height="5.8" fill="#2a46a8"/>
<rect x="684.9" y="599.3" width="5.8" height="5.8" fill="#2a46a8"/>
<rect x="696.8" y="581.5" width="5.8" height="5.8" fill="#2a46a8"/>
<rect x="708.7" y="560.0" width="5.8" height="5.8" fill="#2a46a8"/>
<rect x="720.6" y="534.2" width="5.8" height="5.8" fill="#2a46a8"/>
<rect x="732.5" y="506.5" width="5.8" height="5.8" fill="#2a46a8"/>
<rect x="744.4" y="477.6" width="5.8" height="5.8" fill="#2a46a8"/>
<rect x="756.3" y="450.2" width="5.8" height="5.8" fill="#2a46a8"/>
<rect x="768.2" y="427.3" width="5.8" height="5.8" fill="#2a46a8"/>
<rect x="780.2" y="410.6" width="5.8" height="5.8" fill="#2a46a8"/>
<rect x="792.1" y="401.5" width="5.8" height="5.8" fill="#2a46a8"/>
<rect x="804.0" y="400.1" width="5.8" height="5.8" fill="#2a46a8"/>
<rect x="815.9" y="406.3" width="5.8" height="5.8" fill="#2a46a8"/>
<rect x="827.8" y="417.4" width="5.8" height="5.8" fill="#2a46a8"/>
<rect x="839.7" y="432.1" width="5.8" height="5.8" fill="#2a46a8"/>
<rect x="851.6" y="446.5" width="5.8" height="5.8" fill="#2a46a8"/>
<rect x="863.5" y="460.4" width="5.8" height="5.8" fill="#2a46a8"/>
<rect x="875.4" y="473.4" width="5.8" height="5.8" fill="#2a46a8"/>
<rect x="887.3" y="484.4" width="5.8" height="5.8" fill="#2a46a8"/>
<rect x="899.3" y="494.1" width="5.8" height="5.8" fill="#2a46a8"/>
<rect x="911.2" y="501.7" width="5.8" height="5.8" fill="#2a46a8"/>
<rect x="923.1" y="507.4" width="5.8" height="5.8" fill="#2a46a8"/>
<rect x="935.0" y="511.0" width="5.8" height="5.8" fill="#2a46a8"/>
<rect x="946.9" y="512.5" width="5.8" height="5.8" fill="#2a46a8"/>
<rect x="958.8" y="512.7" width="5.8" height="5.8" fill="#2a46a8"/>
<rect x="970.7" y="512.7" width="5.8" height="5.8" fill="#2a46a8"/>
<rect x="982.6" y="512.7" width="5.8" height="5.8" fill="#2a46a8"/>
<rect x="994.5" y="513.9" width="5.8" height="5.8" fill="#2a46a8"/>
<rect x="1006.5" y="517.8" width="5.8" height="5.8" fill="#2a46a8"/>
<path d="M592.5 649.8C594.5 650.5 600.4 653.3 604.4 654.0C608.4 654.8 612.3 654.6 616.3 654.3C620.3 654.0 624.3 653.2 628.2 652.0C632.2 650.9 636.2 649.2 640.1 647.5C644.1 645.8 648.1 644.0 652.0 641.9C656.0 639.7 660.0 637.4 664.0 634.5C667.9 631.6 671.9 628.7 675.9 624.6C679.8 620.4 683.8 614.8 687.8 609.6C691.8 604.4 695.7 600.0 699.7 593.5C703.7 586.9 707.6 578.7 711.6 570.3C715.6 561.8 719.5 552.2 723.5 542.8C727.5 533.4 731.5 523.7 735.4 513.7C739.4 503.6 743.4 492.5 747.3 482.5C751.3 472.6 755.3 462.6 759.2 453.9C763.2 445.3 767.2 437.4 771.1 430.7C775.1 424.1 779.1 418.0 783.1 414.0C787.0 410.0 791.0 407.8 795.0 406.7C798.9 405.5 802.9 406.0 806.9 407.2C810.9 408.5 814.8 410.5 818.8 414.0C822.8 417.6 826.7 423.8 830.7 428.5C834.7 433.1 838.6 437.3 842.6 442.1C846.6 446.8 850.5 452.4 854.5 457.1C858.5 461.7 862.5 466.0 866.4 470.1C870.4 474.2 874.4 478.2 878.3 481.7C882.3 485.2 886.3 488.0 890.2 491.0C894.2 494.0 898.2 497.2 902.2 499.8C906.1 502.4 910.1 504.5 914.1 506.6C918.0 508.7 922.0 510.5 926.0 512.2C930.0 513.9 933.9 515.5 937.9 516.8C941.9 518.0 945.8 518.8 949.8 519.6C953.8 520.4 957.7 521.0 961.7 521.6C965.7 522.1 969.6 522.5 973.6 523.0C977.6 523.5 981.6 523.9 985.5 524.4C989.5 524.9 993.5 525.3 997.4 526.1C1001.4 527.0 1006.3 528.6 1009.4 529.5C1012.4 530.4 1014.5 531.0 1015.5 531.3" stroke="#1f8a50" stroke-width="1" fill="none"/>
<path d="M592.5 646.6L595.7 649.8L592.5 653.0L589.3 649.8Z" fill="#17783c"/>
<path d="M604.4 650.8L607.6 654.0L604.4 657.2L601.2 654.0Z" fill="#17783c"/>
<path d="M616.3 651.1L619.5 654.3L616.3 657.5L613.1 654.3Z" fill="#17783c"/>
<path d="M628.2 648.8L631.4 652.0L628.2 655.2L625.0 652.0Z" fill="#17783c"/>
<path d="M640.1 644.3L643.3 647.5L640.1 650.7L636.9 647.5Z" fill="#17783c"/>
<path d="M652.0 638.7L655.2 641.9L652.0 645.1L648.8 641.9Z" fill="#17783c"/>
<path d="M664.0 631.3L667.2 634.5L664.0 637.7L660.8 634.5Z" fill="#17783c"/>
<path d="M675.9 621.4L679.1 624.6L675.9 627.8L672.7 624.6Z" fill="#17783c"/>
<path d="M687.8 606.4L691.0 609.6L687.8 612.8L684.6 609.6Z" fill="#17783c"/>
<path d="M699.7 590.3L702.9 593.5L699.7 596.7L696.5 593.5Z" fill="#17783c"/>
<path d="M711.6 567.1L714.8 570.3L711.6 573.5L708.4 570.3Z" fill="#17783c"/>
<path d="M723.5 539.6L726.7 542.8L723.5 546.0L720.3 542.8Z" fill="#17783c"/>
<path d="M735.4 510.5L738.6 513.7L735.4 516.9L732.2 513.7Z" fill="#17783c"/>
<path d="M747.3 479.3L750.5 482.5L747.3 485.7L744.1 482.5Z" fill="#17783c"/>
<path d="M759.2 450.7L762.4 453.9L759.2 457.1L756.0 453.9Z" fill="#17783c"/>
<path d="M771.1 427.5L774.4 430.7L771.1 433.9L767.9 430.7Z" fill="#17783c"/>
<path d="M783.1 410.8L786.3 414.0L783.1 417.2L779.9 414.0Z" fill="#17783c"/>
<path d="M795.0 403.5L798.2 406.7L795.0 409.9L791.8 406.7Z" fill="#17783c"/>
<path d="M806.9 404.0L810.1 407.2L806.9 410.4L803.7 407.2Z" fill="#17783c"/>
<path d="M818.8 410.8L822.0 414.0L818.8 417.2L815.6 414.0Z" fill="#17783c"/>
<path d="M830.7 425.3L833.9 428.5L830.7 431.7L827.5 428.5Z" fill="#17783c"/>
<path d="M842.6 438.9L845.8 442.1L842.6 445.3L839.4 442.1Z" fill="#17783c"/>
<path d="M854.5 453.9L857.7 457.1L854.5 460.3L851.3 457.1Z" fill="#17783c"/>
<path d="M866.4 466.9L869.6 470.1L866.4 473.3L863.2 470.1Z" fill="#17783c"/>
<path d="M878.3 478.5L881.5 481.7L878.3 484.9L875.1 481.7Z" fill="#17783c"/>
<path d="M890.2 487.8L893.4 491.0L890.2 494.2L887.0 491.0Z" fill="#17783c"/>
<path d="M902.2 496.6L905.4 499.8L902.2 503.0L899.0 499.8Z" fill="#17783c"/>
<path d="M914.1 503.4L917.3 506.6L914.1 509.8L910.9 506.6Z" fill="#17783c"/>
<path d="M926.0 509.0L929.2 512.2L926.0 515.4L922.8 512.2Z" fill="#17783c"/>
<path d="M937.9 513.6L941.1 516.8L937.9 520.0L934.7 516.8Z" fill="#17783c"/>
<path d="M949.8 516.4L953.0 519.6L949.8 522.8L946.6 519.6Z" fill="#17783c"/>
<path d="M961.7 518.4L964.9 521.6L961.7 524.8L958.5 521.6Z" fill="#17783c"/>
<path d="M973.6 519.8L976.8 523.0L973.6 526.2L970.4 523.0Z" fill="#17783c"/>
<path d="M985.5 521.2L988.7 524.4L985.5 527.6L982.3 524.4Z" fill="#17783c"/>
<path d="M997.4 522.9L1000.6 526.1L997.4 529.3L994.2 526.1Z" fill="#17783c"/>
<path d="M1009.4 526.3L1012.6 529.5L1009.4 532.7L1006.1 529.5Z" fill="#17783c"/>
<path d="M592.5 619.2C594.5 620.5 600.4 624.2 604.4 626.9C608.4 629.5 612.3 632.4 616.3 635.1C620.3 637.7 624.3 640.6 628.2 642.7C632.2 644.8 636.2 646.7 640.1 647.5C644.1 648.3 648.1 648.4 652.0 647.5C656.0 646.6 660.0 645.0 664.0 642.1C667.9 639.3 671.9 635.3 675.9 630.2C679.8 625.2 683.8 618.9 687.8 611.9C691.8 604.8 695.7 596.2 699.7 587.8C703.7 579.4 707.6 570.5 711.6 561.2C715.6 551.9 719.5 541.6 723.5 531.8C727.5 521.9 731.5 511.7 735.4 502.0C739.4 492.4 743.4 482.8 747.3 474.0C751.3 465.3 755.3 457.1 759.2 449.4C763.2 441.8 767.2 434.2 771.1 428.2C775.1 422.2 779.1 417.3 783.1 413.5C787.0 409.7 791.0 406.6 795.0 405.3C798.9 403.9 802.9 404.0 806.9 405.3C810.9 406.5 814.8 409.2 818.8 412.6C822.8 416.0 826.7 420.8 830.7 425.6C834.7 430.5 838.6 436.4 842.6 441.8C846.6 447.1 850.5 452.7 854.5 457.9C858.5 463.1 862.5 468.4 866.4 473.2C870.4 477.9 874.4 482.5 878.3 486.5C882.3 490.5 886.3 494.0 890.2 497.2C894.2 500.5 898.2 503.5 902.2 506.0C906.1 508.5 910.1 510.4 914.1 512.2C918.0 514.0 922.0 515.4 926.0 516.8C930.0 518.1 933.9 519.2 937.9 520.2C941.9 521.2 945.8 521.9 949.8 522.7C953.8 523.5 957.7 524.3 961.7 525.0C965.7 525.7 969.6 526.3 973.6 527.0C977.6 527.6 981.6 528.1 985.5 528.9C989.5 529.7 993.5 530.8 997.4 531.8C1001.4 532.8 1006.3 534.1 1009.4 534.9C1012.4 535.7 1014.5 536.2 1015.5 536.5" stroke="#ea6a78" stroke-width="1" fill="none"/>
<circle cx="592.5" cy="619.2" r="2.80" fill="#d81c30"/>
<circle cx="604.4" cy="626.9" r="2.80" fill="#d81c30"/>
<circle cx="616.3" cy="635.1" r="2.80" fill="#d81c30"/>
<circle cx="628.2" cy="642.7" r="2.80" fill="#d81c30"/>
<circle cx="640.1" cy="647.5" r="2.80" fill="#d81c30"/>
<circle cx="652.0" cy="647.5" r="2.80" fill="#d81c30"/>
<circle cx="664.0" cy="642.1" r="2.80" fill="#d81c30"/>
<circle cx="675.9" cy="630.2" r="2.80" fill="#d81c30"/>
<circle cx="687.8" cy="611.9" r="2.80" fill="#d81c30"/>
<circle cx="699.7" cy="587.8" r="2.80" fill="#d81c30"/>
<circle cx="711.6" cy="561.2" r="2.80" fill="#d81c30"/>
<circle cx="723.5" cy="531.8" r="2.80" fill="#d81c30"/>
<circle cx="735.4" cy="502.0" r="2.80" fill="#d81c30"/>
<circle cx="747.3" cy="474.0" r="2.80" fill="#d81c30"/>
<circle cx="759.2" cy="449.4" r="2.80" fill="#d81c30"/>
<circle cx="771.1" cy="428.2" r="2.80" fill="#d81c30"/>
<circle cx="783.1" cy="413.5" r="2.80" fill="#d81c30"/>
<circle cx="795.0" cy="405.3" r="2.80" fill="#d81c30"/>
<circle cx="806.9" cy="405.3" r="2.80" fill="#d81c30"/>
<circle cx="818.8" cy="412.6" r="2.80" fill="#d81c30"/>
<circle cx="830.7" cy="425.6" r="2.80" fill="#d81c30"/>
<circle cx="842.6" cy="441.8" r="2.80" fill="#d81c30"/>
<circle cx="854.5" cy="457.9" r="2.80" fill="#d81c30"/>
<circle cx="866.4" cy="473.2" r="2.80" fill="#d81c30"/>
<circle cx="878.3" cy="486.5" r="2.80" fill="#d81c30"/>
<circle cx="890.2" cy="497.2" r="2.80" fill="#d81c30"/>
<circle cx="902.2" cy="506.0" r="2.80" fill="#d81c30"/>
<circle cx="914.1" cy="512.2" r="2.80" fill="#d81c30"/>
<circle cx="926.0" cy="516.8" r="2.80" fill="#d81c30"/>
<circle cx="937.9" cy="520.2" r="2.80" fill="#d81c30"/>
<circle cx="949.8" cy="522.7" r="2.80" fill="#d81c30"/>
<circle cx="961.7" cy="525.0" r="2.80" fill="#d81c30"/>
<circle cx="973.6" cy="527.0" r="2.80" fill="#d81c30"/>
<circle cx="985.5" cy="528.9" r="2.80" fill="#d81c30"/>
<circle cx="997.4" cy="531.8" r="2.80" fill="#d81c30"/>
<circle cx="1009.4" cy="534.9" r="2.80" fill="#d81c30"/>
<path d="M592.5 686.0v-5.5M603.1 686.0v-4M613.6 686.0v-4M624.2 686.0v-4M634.8 686.0v-4M645.4 686.0v-5.5M655.9 686.0v-4M666.5 686.0v-4M677.1 686.0v-4M687.7 686.0v-4M698.2 686.0v-5.5M708.8 686.0v-4M719.4 686.0v-4M730.0 686.0v-4M740.6 686.0v-4M751.1 686.0v-5.5M761.7 686.0v-4M772.3 686.0v-4M782.9 686.0v-4M793.4 686.0v-4M804.0 686.0v-5.5M814.6 686.0v-4M825.1 686.0v-4M835.7 686.0v-4M846.3 686.0v-4M856.9 686.0v-5.5M867.5 686.0v-4M878.0 686.0v-4M888.6 686.0v-4M899.2 686.0v-4M909.8 686.0v-5.5M920.3 686.0v-4M930.9 686.0v-4M941.5 686.0v-4M952.0 686.0v-4M962.6 686.0v-5.5M973.2 686.0v-4M983.8 686.0v-4M994.4 686.0v-4M1004.9 686.0v-4M1015.5 686.0v-5.5M592.5 686.0h5.8M592.5 680.3h3.4M592.5 674.7h3.4M592.5 669.0h3.4M592.5 663.4h3.4M592.5 657.7h5.8M592.5 652.0h3.4M592.5 646.4h3.4M592.5 640.7h3.4M592.5 635.1h3.4M592.5 629.4h5.8M592.5 623.7h3.4M592.5 618.1h3.4M592.5 612.4h3.4M592.5 606.8h3.4M592.5 601.1h5.8M592.5 595.4h3.4M592.5 589.8h3.4M592.5 584.1h3.4M592.5 578.5h3.4M592.5 572.8h5.8M592.5 567.1h3.4M592.5 561.5h3.4M592.5 555.8h3.4M592.5 550.2h3.4M592.5 544.5h5.8M592.5 538.8h3.4M592.5 533.2h3.4M592.5 527.5h3.4M592.5 521.9h3.4M592.5 516.2h5.8M592.5 510.5h3.4M592.5 504.9h3.4M592.5 499.2h3.4M592.5 493.6h3.4M592.5 487.9h5.8M592.5 482.2h3.4M592.5 476.6h3.4M592.5 470.9h3.4M592.5 465.3h3.4M592.5 459.6h5.8M592.5 453.9h3.4M592.5 448.3h3.4M592.5 442.6h3.4M592.5 437.0h3.4M592.5 431.3h5.8M592.5 425.6h3.4M592.5 420.0h3.4M592.5 414.3h3.4M592.5 408.7h3.4M592.5 403.0h5.8" stroke="#222" stroke-width="1" fill="none"/>
<rect x="599.6" y="407" width="73.0" height="178.8" fill="#fff" stroke="#444" stroke-width="1"/>
<path d="M603.2 414.4H628.8" stroke="#ea6a78" stroke-width="1.3"/>
<circle cx="616.2" cy="414.4" r="2.45" fill="#d81c30"/>
<text x="631.6" y="417.5" font-size="10.7" font-weight="bold">On_0°</text>
<path d="M603.2 426.8H628.8" stroke="#1f8a50" stroke-width="1.3"/>
<path d="M616.2 423.8L619.2 426.8L616.2 429.8L613.2 426.8Z" fill="#17783c"/>
<text x="631.6" y="429.9" font-size="10.7" font-weight="bold">On_15°</text>
<path d="M603.2 439.1H628.8" stroke="#7f8fd8" stroke-width="1.3"/>
<rect x="613.7" y="436.6" width="5.1" height="5.1" fill="#2a46a8"/>
<text x="631.6" y="442.2" font-size="10.7" font-weight="bold">On_30°</text>
<path d="M603.2 451.5H628.8" stroke="#a8a868" stroke-width="1.3"/>
<path d="M616.2 448.7L619.0 454.3L613.4 454.3Z" fill="#757520"/>
<text x="631.6" y="454.6" font-size="10.7" font-weight="bold">On_45°</text>
<path d="M603.2 463.8H628.8" stroke="#a050b8" stroke-width="1.3"/>
<path d="M616.2 466.6L619.0 461.0L613.4 461.0Z" fill="#6c1080"/>
<text x="631.6" y="466.9" font-size="10.7" font-weight="bold">On_60°</text>
<path d="M603.2 476.2H628.8" stroke="#30a0a0" stroke-width="1.3"/>
<rect x="614.0" y="473.9" width="4.5" height="4.5" fill="none" stroke="#2a9a9a" stroke-width="1.1"/><circle cx="616.2" cy="476.2" r="1.12" fill="none" stroke="#2a9a9a" stroke-width="0.8"/>
<text x="631.6" y="479.3" font-size="10.7" font-weight="bold">On_75°</text>
<path d="M603.2 488.6H628.8" stroke="#404078" stroke-width="1.3"/>
<rect x="614.0" y="486.3" width="4.5" height="4.5" fill="none" stroke="#404080" stroke-width="1"/><path d="M614.0 488.6H618.5M616.2 486.3V490.8" stroke="#404080" stroke-width="0.8"/>
<text x="631.6" y="491.7" font-size="10.7" font-weight="bold">On_90°</text>
<path d="M603.2 500.9H628.8" stroke="#e0505a" stroke-width="1.3"/>
<circle cx="616.2" cy="500.9" r="2.10" fill="none" stroke="#e03040" stroke-width="1.0"/>
<text x="631.6" y="504.0" font-size="10.7" font-weight="bold">Off_0°</text>
<path d="M603.2 513.3H628.8" stroke="#1f8a50" stroke-width="1.3"/>
<path d="M616.2 510.6L618.9 513.3L616.2 516.0L613.5 513.3Z" fill="none" stroke="#1f8a50" stroke-width="1.0"/>
<text x="631.6" y="516.4" font-size="10.7" font-weight="bold">Off_15°</text>
<path d="M603.2 525.6H628.8" stroke="#7080d0" stroke-width="1.3"/>
<rect x="614.0" y="523.4" width="4.4" height="4.4" fill="none" stroke="#4060c0" stroke-width="1.0"/>
<text x="631.6" y="528.7" font-size="10.7" font-weight="bold">Off_30°</text>
<path d="M603.2 538.0H628.8" stroke="#a0a050" stroke-width="1.3"/>
<path d="M616.2 535.5L618.7 540.5L613.8 540.5Z" fill="none" stroke="#808020" stroke-width="1.0"/>
<text x="631.6" y="541.1" font-size="10.7" font-weight="bold">Off_45°</text>
<path d="M603.2 550.4H628.8" stroke="#b050c0" stroke-width="1.3"/>
<path d="M616.2 552.8L618.7 547.9L613.8 547.9Z" fill="none" stroke="#9030a0" stroke-width="1.0"/>
<text x="631.6" y="553.5" font-size="10.7" font-weight="bold">Off_60°</text>
<path d="M603.2 562.7H628.8" stroke="#30a0a0" stroke-width="1.3"/>
<path d="M613.9 560.4L618.6 565.1M613.9 565.1L618.6 560.4" stroke="#30a0a0" stroke-width="1.0"/>
<text x="631.6" y="565.8" font-size="10.7" font-weight="bold">Off_75°</text>
<path d="M603.2 575.1H628.8" stroke="#6070a0" stroke-width="1.3"/>
<path d="M616.2 572.5V577.6" stroke="#303070" stroke-width="1.1"/>
<text x="631.6" y="578.2" font-size="10.7" font-weight="bold">Off_90°</text>
<path d="M592.5 403.0V686.0H1015.5" stroke="#0a0a0a" stroke-width="1.4" fill="none" stroke-linecap="square"/>
<path d="M592.5 403.0H1015.5" stroke="#1a1a1a" stroke-width="1.7" fill="none" stroke-linecap="square"/>
<path d="M1015.5 403.0V686.0" stroke="#1a1a1a" stroke-width="1.4" fill="none"/>
<text x="592.5" y="704.8" font-size="14.3" font-weight="bold" text-anchor="middle">9</text>
<text x="645.4" y="704.8" font-size="14.3" font-weight="bold" text-anchor="middle">9.5</text>
<text x="698.2" y="704.8" font-size="14.3" font-weight="bold" text-anchor="middle">10</text>
<text x="751.1" y="704.8" font-size="14.3" font-weight="bold" text-anchor="middle">10.5</text>
<text x="804.0" y="704.8" font-size="14.3" font-weight="bold" text-anchor="middle">11</text>
<text x="856.9" y="704.8" font-size="14.3" font-weight="bold" text-anchor="middle">11.5</text>
<text x="909.8" y="704.8" font-size="14.3" font-weight="bold" text-anchor="middle">12</text>
<text x="962.6" y="704.8" font-size="14.3" font-weight="bold" text-anchor="middle">12.5</text>
<text x="1015.5" y="704.8" font-size="14.3" font-weight="bold" text-anchor="middle">13</text>
<text x="583.1" y="691.1" font-size="14.4" font-weight="bold" text-anchor="end">0</text>
<text x="583.1" y="662.8" font-size="14.4" font-weight="bold" text-anchor="end">0.1</text>
<text x="583.1" y="634.5" font-size="14.4" font-weight="bold" text-anchor="end">0.2</text>
<text x="583.1" y="606.2" font-size="14.4" font-weight="bold" text-anchor="end">0.3</text>
<text x="583.1" y="577.9" font-size="14.4" font-weight="bold" text-anchor="end">0.4</text>
<text x="583.1" y="549.6" font-size="14.4" font-weight="bold" text-anchor="end">0.5</text>
<text x="583.1" y="521.3" font-size="14.4" font-weight="bold" text-anchor="end">0.6</text>
<text x="583.1" y="493.0" font-size="14.4" font-weight="bold" text-anchor="end">0.7</text>
<text x="583.1" y="464.7" font-size="14.4" font-weight="bold" text-anchor="end">0.8</text>
<text x="583.1" y="436.4" font-size="14.4" font-weight="bold" text-anchor="end">0.9</text>
<text x="583.1" y="408.1" font-size="14.4" font-weight="bold" text-anchor="end">1</text>
<text x="805.6" y="728.6" font-size="15.7" font-weight="bold" text-anchor="middle">Frequency [GHz]</text>
<text transform="translate(547.5 543.5) rotate(-90)" font-size="15.6" font-weight="bold" text-anchor="middle">Measured Absorptivity</text>
<text x="806.4" y="764.8" font-size="21" fill="#d5661f" text-anchor="middle">(d)</text>
</svg>
</body></html>
